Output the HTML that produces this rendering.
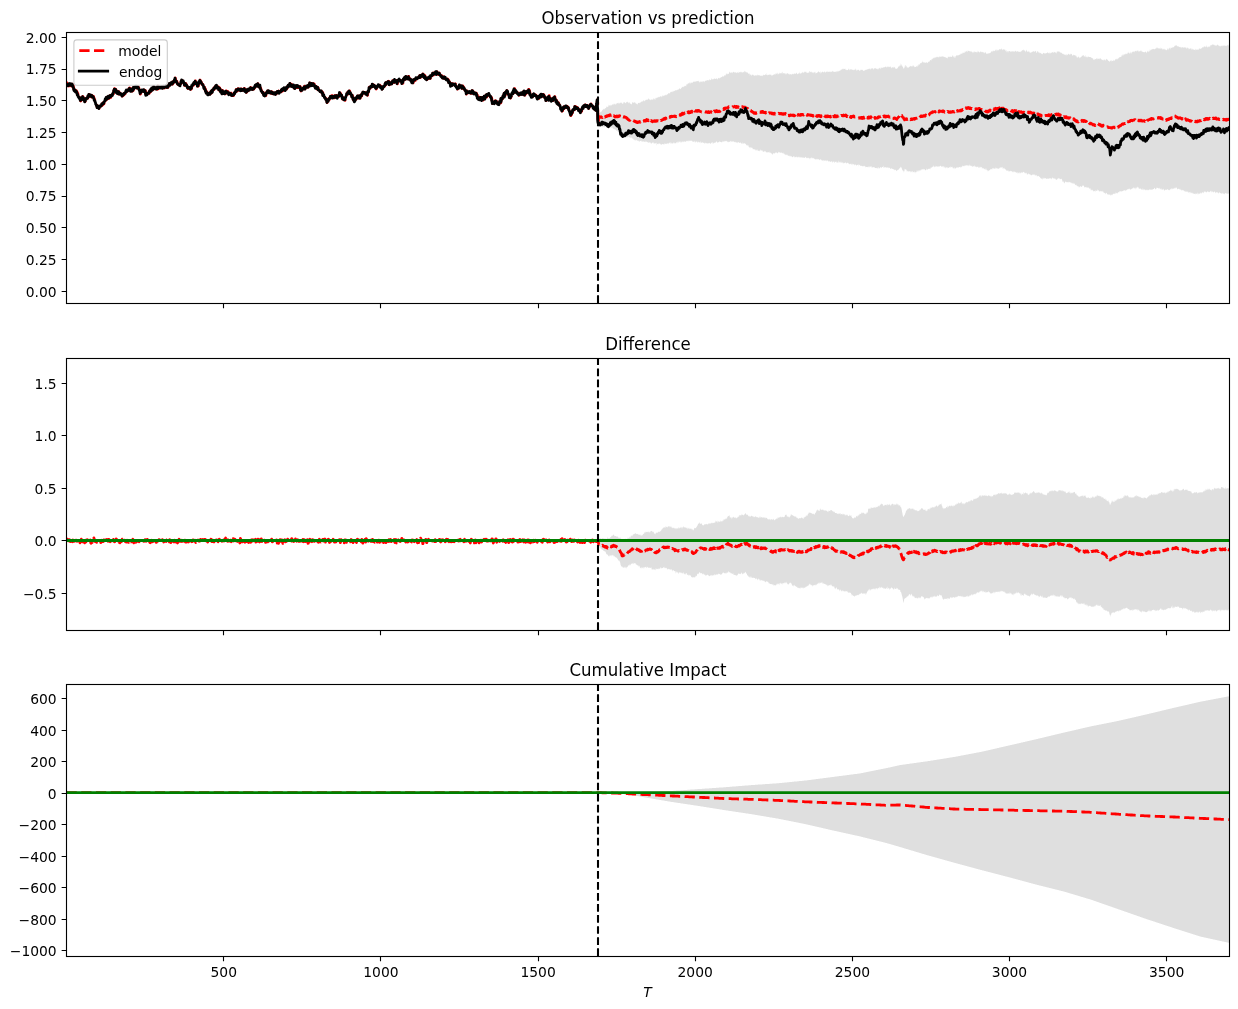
<!DOCTYPE html>
<html><head><meta charset="utf-8"><title>Causal impact plot</title><style>html,body{margin:0;padding:0;background:#fff;width:1238px;height:1009px;overflow:hidden}svg{display:block}</style></head><body>
<svg width="1238" height="1009" viewBox="0 0 1238 1009">
<rect width="1238" height="1009" fill="#ffffff"/>
<defs>
<clipPath id="c0"><rect x="66.5" y="32.5" width="1163.0" height="271.0"/></clipPath>
<clipPath id="c1"><rect x="66.5" y="358.5" width="1163.0" height="272.0"/></clipPath>
<clipPath id="c2"><rect x="66.5" y="684.5" width="1163.0" height="272.0"/></clipPath>
</defs>
<polygon clip-path="url(#c0)" fill="#808080" fill-opacity="0.25" stroke="none" points="598,116.3 598.3,115.3 598.6,113.6 598.9,112.9 599.3,113.3 599.6,112.9 599.9,112.9 600.2,111.9 600.5,111.8 600.8,112.7 601.1,111.3 601.5,112.1 601.8,111.3 602.1,110.4 602.4,109.6 602.7,110.5 603,109.5 603.3,109.3 603.7,108.4 604,109.9 604.3,109.1 604.6,108.8 604.9,108.8 605.2,108.4 605.5,108.1 605.9,108.1 606.2,107.4 606.5,105.8 606.8,107.5 607.1,107.1 607.4,106.7 607.7,107.5 608.1,105.6 608.4,104.5 608.7,107 609,106.2 609.3,104.8 609.6,105.4 609.9,105.8 610.3,104.6 610.6,105.5 610.9,106.3 611.2,105.8 611.5,104.9 611.8,105 612.1,104.2 612.5,104.8 612.8,104.4 613.1,103.9 613.4,103.6 613.7,105.5 614,104.3 614.3,103.6 614.7,103.9 615,104.9 615.3,104.9 615.6,103.5 615.9,103.9 616.2,104.3 616.6,103.5 616.9,102.9 617.2,102.9 617.5,103.4 617.8,102.9 618.1,102.5 618.4,103 618.8,103.7 619.1,103.4 619.4,102.8 619.7,104.1 620,102.5 620.3,103 620.6,102.3 621,103.6 621.3,103.1 621.6,102.2 621.9,102.7 622.2,104.3 622.5,103.7 622.8,103.3 623.2,103.7 623.5,102.1 623.8,102.5 624.1,102.1 624.4,102.2 624.7,102.4 625,102.8 625.4,103 625.7,102.9 626,103.8 626.3,101.8 626.6,102 626.9,102.2 627.2,101.4 627.6,101.9 627.9,102.5 628.2,102 628.5,103 628.8,103.6 629.1,102.4 629.4,102 629.8,103.6 630.1,103.1 630.4,104 630.7,103.7 631,104.1 631.3,104.5 631.6,104.2 632,103.4 632.3,102.8 632.6,101.9 632.9,102 633.2,102.7 633.5,103.1 633.8,102.5 634.2,102.7 634.5,102.2 634.8,102.2 635.1,102.3 635.4,103.8 635.7,102.4 636,104 636.4,103.2 636.7,104.2 637,104.1 637.3,104.4 637.6,104.5 637.9,103.2 638.3,102.9 638.6,103.1 638.9,102.7 639.2,103.4 639.5,102.8 639.8,102.7 640.1,102.8 640.5,102.1 640.8,102.9 641.1,101 641.4,102.1 641.7,102.1 642,101.2 642.3,101.1 642.7,101.9 643,101.1 643.3,100 643.6,100.2 643.9,101.4 644.2,100.2 644.5,101.3 644.9,101.2 645.2,100.2 645.5,100.5 645.8,99.7 646.1,99.8 646.4,99.6 646.7,100.3 647.1,99.1 647.4,99.7 647.7,99.7 648,99.9 648.3,98.3 648.6,98.5 648.9,99 649.3,99.4 649.6,99.5 649.9,99.6 650.2,100.6 650.5,99.8 650.8,99.7 651.1,99.1 651.5,99.8 651.8,99.7 652.1,99.7 652.4,99.2 652.7,99.6 653,100.2 653.3,98.8 653.7,97.9 654,99.7 654.3,99.5 654.6,98.8 654.9,98.5 655.2,100.3 655.5,98.2 655.9,97.7 656.2,98 656.5,98.4 656.8,97.6 657.1,97.6 657.4,97.9 657.7,97.3 658.1,97.5 658.4,97.3 658.7,96.6 659,97.2 659.3,96.4 659.6,97.6 660,96.4 660.3,96.7 660.6,95.7 660.9,96.4 661.2,95.9 661.5,97.4 661.8,96.4 662.2,96.7 662.5,95.2 662.8,95.5 663.1,96 663.4,95.2 663.7,96.5 664,95.5 664.4,95.6 664.7,95.6 665,95.2 665.3,95.6 665.6,94.6 665.9,95.1 666.2,95.5 666.6,94.7 666.9,94.6 667.2,94.2 667.5,94.2 667.8,94.4 668.1,93.7 668.4,92.7 668.8,93.6 669.1,93.2 669.4,93.4 669.7,93 670,93.7 670.3,91.9 670.6,91.8 671,92.6 671.3,91.4 671.6,92 671.9,91.7 672.2,90.5 672.5,91.9 672.8,92.3 673.2,91.5 673.5,90.5 673.8,91.7 674.1,90.5 674.4,91 674.7,91.2 675,90.4 675.4,89.8 675.7,90.7 676,90.6 676.3,90.1 676.6,90 676.9,90.7 677.2,90.1 677.6,89.7 677.9,89.4 678.2,89.7 678.5,89.5 678.8,89.2 679.1,88.3 679.4,88.8 679.8,88.5 680.1,88.7 680.4,89.2 680.7,88.9 681,88.6 681.3,88.1 681.7,87.6 682,87.8 682.3,87.1 682.6,87 682.9,86.5 683.2,86.8 683.5,86.6 683.9,87.5 684.2,86.5 684.5,85.8 684.8,86.3 685.1,85.4 685.4,86 685.7,85.7 686.1,86.7 686.4,84.2 686.7,84.5 687,84.3 687.3,84.3 687.6,84.4 687.9,83.2 688.3,83.1 688.6,83.5 688.9,83.8 689.2,82.5 689.5,82.2 689.8,83.7 690.1,83.4 690.5,83.5 690.8,82.2 691.1,82.6 691.4,82.8 691.7,82.8 692,82.4 692.3,82.4 692.7,82.9 693,82 693.3,81.8 693.6,81.8 693.9,81.6 694.2,81.9 694.5,81.6 694.9,81.4 695.2,82.3 695.5,81.6 695.8,81.1 696.1,81.9 696.4,80.8 696.7,81.2 697.1,81.2 697.4,80.9 697.7,81.1 698,81.4 698.3,80.5 698.6,81.2 698.9,81.6 699.3,81.7 699.6,81.7 699.9,82.9 700.2,82 700.5,81.6 700.8,81.6 701.1,81.6 701.5,81.8 701.8,81.4 702.1,82.4 702.4,80.8 702.7,81.8 703,81.7 703.4,80.7 703.7,81.7 704,81.6 704.3,80.9 704.6,82.5 704.9,81.6 705.2,80.9 705.6,80.8 705.9,80.5 706.2,81 706.5,80.8 706.8,79.9 707.1,80.1 707.4,80.2 707.8,80.3 708.1,80.2 708.4,80 708.7,80.6 709,80.7 709.3,80.1 709.6,78.8 710,79.9 710.3,80.2 710.6,79.7 710.9,79.9 711.2,79.7 711.5,78.7 711.8,78 712.2,79.7 712.5,79 712.8,79.5 713.1,79 713.4,79 713.7,79.8 714,78.2 714.4,78.9 714.7,78.2 715,78.8 715.3,79 715.6,79.1 715.9,78.8 716.2,77.8 716.6,78.7 716.9,79.1 717.2,79.1 717.5,79.7 717.8,78.8 718.1,77.8 718.4,78.1 718.8,78.3 719.1,78.8 719.4,77.4 719.7,78.4 720,78.2 720.3,77.2 720.6,77.9 721,77 721.3,77.3 721.6,77 721.9,77.2 722.2,76.3 722.5,77.2 722.8,75.5 723.2,76.4 723.5,76.1 723.8,77.1 724.1,76.3 724.4,75.5 724.7,75 725.1,75.4 725.4,74.8 725.7,76.2 726,73.1 726.3,74.5 726.6,72.9 726.9,74.8 727.3,73.6 727.6,74.8 727.9,73.4 728.2,74.2 728.5,73.5 728.8,73.9 729.1,73.1 729.5,71.2 729.8,72.4 730.1,71.8 730.4,73.2 730.7,72.9 731,72.6 731.3,72.8 731.7,72.6 732,72.1 732.3,73.5 732.6,72.5 732.9,72.2 733.2,71.5 733.5,71.9 733.9,72.2 734.2,72.2 734.5,72.3 734.8,72.7 735.1,72.2 735.4,73 735.7,72.1 736.1,72.4 736.4,72.4 736.7,73.3 737,73 737.3,72.7 737.6,71.9 737.9,72.3 738.3,72.9 738.6,73 738.9,71.4 739.2,72 739.5,72.3 739.8,72.4 740.1,72.1 740.5,72.5 740.8,71.2 741.1,72.9 741.4,71.4 741.7,72 742,72.2 742.3,72.6 742.7,72.4 743,72.3 743.3,72.5 743.6,71.7 743.9,72.1 744.2,72.5 744.5,71.2 744.9,70.8 745.2,71 745.5,72.3 745.8,72.3 746.1,71.7 746.4,72.2 746.8,72.6 747.1,73.2 747.4,71.7 747.7,72.7 748,73.1 748.3,73.7 748.6,73.7 749,73.8 749.3,74.2 749.6,72.6 749.9,75.9 750.2,74.7 750.5,74.9 750.8,74.1 751.2,74.8 751.5,75.8 751.8,75.7 752.1,74.8 752.4,74.2 752.7,75.1 753,74.9 753.4,75.7 753.7,74.6 754,75.3 754.3,75.7 754.6,75.3 754.9,76.3 755.2,75.2 755.6,75.2 755.9,75.6 756.2,76.1 756.5,75.3 756.8,75 757.1,75.7 757.4,75.2 757.8,74.6 758.1,75 758.4,75 758.7,75.6 759,75.5 759.3,75.1 759.6,75.4 760,75.6 760.3,76.1 760.6,76 760.9,75.3 761.2,75.5 761.5,75.7 761.8,76.1 762.2,75.5 762.5,76.4 762.8,75.2 763.1,75.6 763.4,74.9 763.7,74.4 764,75 764.4,75.2 764.7,75 765,74.9 765.3,74.6 765.6,74.2 765.9,74.5 766.2,74.9 766.6,75.1 766.9,72.6 767.2,74.9 767.5,75.2 767.8,75.3 768.1,74.9 768.5,75 768.8,74.4 769.1,74.7 769.4,75.1 769.7,74.2 770,74.4 770.3,75 770.7,74.3 771,75.3 771.3,74.6 771.6,75.7 771.9,75.7 772.2,75.6 772.5,75.3 772.9,75.3 773.2,74 773.5,74.9 773.8,74.9 774.1,75.3 774.4,74.1 774.7,74 775.1,74.7 775.4,74.6 775.7,73.1 776,74 776.3,74.1 776.6,73.7 776.9,72.8 777.3,72.8 777.6,73.7 777.9,74.7 778.2,73.3 778.5,74.3 778.8,74.5 779.1,72.6 779.5,72.9 779.8,74 780.1,73.7 780.4,73.3 780.7,72.9 781,73.2 781.3,72.4 781.7,74.1 782,72 782.3,71.8 782.6,73.1 782.9,74 783.2,73 783.5,73.4 783.9,73 784.2,73.7 784.5,73.3 784.8,73.3 785.1,73 785.4,73.4 785.7,74.7 786.1,73.5 786.4,73.6 786.7,74.7 787,73.1 787.3,73 787.6,73.9 787.9,73 788.3,74 788.6,74.6 788.9,73.4 789.2,73.9 789.5,75.3 789.8,73.8 790.2,74.1 790.5,74.6 790.8,74.2 791.1,73.9 791.4,75.2 791.7,73.9 792,74.4 792.4,73.9 792.7,74 793,73.2 793.3,74.5 793.6,73.7 793.9,74.6 794.2,73.2 794.6,73.6 794.9,74.1 795.2,73.9 795.5,73.4 795.8,73.7 796.1,73 796.4,73.8 796.8,72.2 797.1,73.8 797.4,74.4 797.7,74.1 798,74.1 798.3,73.3 798.6,73.8 799,73.2 799.3,73.4 799.6,73.3 799.9,71.4 800.2,73.8 800.5,73.5 800.8,73.7 801.2,72.6 801.5,73.5 801.8,73.3 802.1,71.7 802.4,71.9 802.7,72.9 803,72.4 803.4,72.7 803.7,72.3 804,73.5 804.3,71.5 804.6,71.7 804.9,71.9 805.2,71.6 805.6,72 805.9,72.2 806.2,71.5 806.5,72.4 806.8,72.9 807.1,72.8 807.4,73.3 807.8,72.8 808.1,72.1 808.4,73.1 808.7,72.5 809,73.1 809.3,71.9 809.7,70.8 810,71.3 810.3,72 810.6,72.3 810.9,71.9 811.2,72.7 811.5,71.5 811.9,71.8 812.2,72.8 812.5,72.3 812.8,72.4 813.1,73.2 813.4,73 813.7,72 814.1,72.6 814.4,71.6 814.7,72.6 815,72.8 815.3,71.5 815.6,73.4 815.9,73.6 816.3,72.7 816.6,72.9 816.9,73.2 817.2,72.1 817.5,72.8 817.8,72.4 818.1,71.2 818.5,71.5 818.8,71.7 819.1,72.6 819.4,72 819.7,72.6 820,71.7 820.3,71.3 820.7,73.2 821,73.7 821.3,72.3 821.6,72 821.9,72.8 822.2,71.5 822.5,72.1 822.9,71.4 823.2,72.5 823.5,72.4 823.8,72 824.1,71.8 824.4,71.3 824.7,71.7 825.1,72.8 825.4,71.9 825.7,72.8 826,71.5 826.3,71.9 826.6,71.6 826.9,71.7 827.3,72.3 827.6,70.6 827.9,72.2 828.2,72.1 828.5,71.7 828.8,71.8 829.1,71.6 829.5,72.1 829.8,71.8 830.1,71.2 830.4,71.8 830.7,72.3 831,71.9 831.4,71.7 831.7,71.8 832,71.4 832.3,71.5 832.6,70.6 832.9,71.6 833.2,72.3 833.6,71.4 833.9,71.1 834.2,72.2 834.5,71.7 834.8,71.7 835.1,71.9 835.4,72 835.8,71.5 836.1,71.1 836.4,72.5 836.7,71.5 837,71.1 837.3,71.5 837.6,71.9 838,70.3 838.3,71.7 838.6,70.7 838.9,71.8 839.2,70.9 839.5,70.3 839.8,71 840.2,70.9 840.5,69.8 840.8,70.1 841.1,69.6 841.4,70.3 841.7,68.9 842,69.6 842.4,68.4 842.7,69.8 843,68.2 843.3,68.8 843.6,69.4 843.9,69.1 844.2,69.1 844.6,68.8 844.9,69.1 845.2,68.4 845.5,69.6 845.8,69.9 846.1,70 846.4,69.5 846.8,70.3 847.1,69.9 847.4,70.2 847.7,69.9 848,69.7 848.3,69.3 848.6,68.2 849,70 849.3,69.6 849.6,70.8 849.9,68.5 850.2,70.1 850.5,69.1 850.8,69.6 851.2,69.1 851.5,69.8 851.8,69.5 852.1,70 852.4,69.6 852.7,69.8 853.1,70.3 853.4,69.9 853.7,69.6 854,70.4 854.3,69.6 854.6,70 854.9,69.6 855.3,69.4 855.6,68.1 855.9,70.3 856.2,69.3 856.5,70.4 856.8,71.1 857.1,69.3 857.5,70.5 857.8,69.9 858.1,70.2 858.4,69.3 858.7,69.9 859,70 859.3,70.7 859.7,71.1 860,70 860.3,69.6 860.6,71.1 860.9,69.7 861.2,69.7 861.5,69.8 861.9,70 862.2,70.3 862.5,69.6 862.8,69.9 863.1,71.1 863.4,71 863.7,70.4 864.1,70.4 864.4,70.2 864.7,70.9 865,70.1 865.3,70.3 865.6,69.9 865.9,69.6 866.3,69.9 866.6,69.8 866.9,69.3 867.2,69.5 867.5,69.5 867.8,69 868.1,68.8 868.5,68.9 868.8,69.3 869.1,69.3 869.4,68.7 869.7,68.4 870,68.6 870.3,69.7 870.7,69.2 871,68.1 871.3,68.7 871.6,68.5 871.9,68.6 872.2,67.9 872.5,68.9 872.9,68.1 873.2,68.6 873.5,69.8 873.8,69.5 874.1,68.5 874.4,68.3 874.8,68.4 875.1,67.8 875.4,68.3 875.7,68.7 876,68.2 876.3,69.2 876.6,68.7 877,68.4 877.3,69.7 877.6,69 877.9,68.6 878.2,69.6 878.5,69.3 878.8,68 879.2,68.6 879.5,68.1 879.8,67.4 880.1,69.3 880.4,69 880.7,67.3 881,68.3 881.4,67 881.7,68.5 882,67.8 882.3,67.5 882.6,68.3 882.9,67.5 883.2,67.2 883.6,67.8 883.9,67 884.2,67.5 884.5,66.9 884.8,67.3 885.1,67.1 885.4,67 885.8,66 886.1,67.7 886.4,66.6 886.7,67.7 887,66.4 887.3,66.6 887.6,66.7 888,67.5 888.3,66.7 888.6,67.2 888.9,66.1 889.2,66.8 889.5,67.2 889.8,67.1 890.2,66.1 890.5,67.5 890.8,66.6 891.1,68.3 891.4,67.1 891.7,68.6 892,67.7 892.4,67.6 892.7,67.1 893,67.3 893.3,67.7 893.6,66.4 893.9,68.2 894.2,67.1 894.6,67.7 894.9,66.4 895.2,68.4 895.5,68.7 895.8,68.5 896.1,68.7 896.5,68.4 896.8,68.9 897.1,69.1 897.4,67.7 897.7,67.9 898,67.6 898.3,66.7 898.7,66.5 899,66.1 899.3,65.5 899.6,66.9 899.9,65 900.2,65.9 900.5,65.3 900.9,63.2 901.2,64.3 901.5,65.2 901.8,65.8 902.1,65.4 902.4,66.7 902.7,66.6 903.1,67.3 903.4,68.4 903.7,68.5 904,68.8 904.3,67.6 904.6,67.5 904.9,65.6 905.3,65.1 905.6,65.6 905.9,67.3 906.2,65.8 906.5,66 906.8,67.2 907.1,68.3 907.5,66.9 907.8,67.5 908.1,66.7 908.4,68.2 908.7,67.6 909,67.2 909.3,66.8 909.7,66.6 910,66.8 910.3,66.2 910.6,66 910.9,65.8 911.2,66.4 911.5,65.9 911.9,66.8 912.2,65 912.5,66.5 912.8,66.4 913.1,66.8 913.4,65.8 913.7,65.3 914.1,65.9 914.4,67.4 914.7,66.8 915,67 915.3,67 915.6,67.1 915.9,66.8 916.3,65.8 916.6,66.2 916.9,66.9 917.2,66.9 917.5,65.8 917.8,65.3 918.2,66.1 918.5,64.9 918.8,64 919.1,64.4 919.4,64.6 919.7,64.8 920,63.3 920.4,63.6 920.7,62.8 921,63.6 921.3,62.9 921.6,62.9 921.9,62 922.2,62.3 922.6,62.2 922.9,60.2 923.2,62.8 923.5,62.4 923.8,62.3 924.1,62.3 924.4,62.6 924.8,62.8 925.1,62 925.4,62.8 925.7,62.9 926,62.9 926.3,62.1 926.6,62.7 927,61.9 927.3,62.7 927.6,63.2 927.9,62.8 928.2,61.9 928.5,61.7 928.8,61.5 929.2,61.9 929.5,61.2 929.8,61.1 930.1,59.7 930.4,60.4 930.7,60.1 931,60 931.4,60.8 931.7,59 932,58.7 932.3,59.6 932.6,58.4 932.9,58.6 933.2,58.5 933.6,58.1 933.9,57.4 934.2,58.1 934.5,58.4 934.8,56.9 935.1,57.3 935.4,57.9 935.8,57.2 936.1,56.7 936.4,57 936.7,57.7 937,56.5 937.3,57.2 937.6,57.2 938,56.6 938.3,57.2 938.6,57.3 938.9,57.4 939.2,57.3 939.5,55.8 939.9,57.2 940.2,56.9 940.5,57.1 940.8,56 941.1,57 941.4,56.8 941.7,55.9 942.1,57.3 942.4,56.1 942.7,56 943,56.9 943.3,56.3 943.6,56.9 943.9,56.6 944.3,56.9 944.6,57.3 944.9,56.9 945.2,57.6 945.5,57.6 945.8,56.8 946.1,57.9 946.5,57.8 946.8,57.6 947.1,58.2 947.4,58.4 947.7,57.7 948,56.3 948.3,57.3 948.7,56.8 949,56.6 949.3,56.9 949.6,56.4 949.9,57.4 950.2,56.6 950.5,56.5 950.9,56.9 951.2,56.9 951.5,57.1 951.8,56.7 952.1,56.3 952.4,56.4 952.7,55 953.1,55.4 953.4,57.1 953.7,56.5 954,58 954.3,58 954.6,56 954.9,56.7 955.3,58 955.6,55.7 955.9,56.2 956.2,55.6 956.5,55.4 956.8,55.3 957.1,55.4 957.5,55.8 957.8,54.8 958.1,55.5 958.4,54.7 958.7,55.4 959,55.2 959.3,54.5 959.7,54.9 960,54.2 960.3,53.9 960.6,54.9 960.9,52.9 961.2,54 961.6,53.9 961.9,52.9 962.2,53.7 962.5,53.5 962.8,52.2 963.1,53.2 963.4,53 963.8,52.3 964.1,52.9 964.4,53 964.7,52 965,51.2 965.3,52.5 965.6,51.7 966,51.1 966.3,51.7 966.6,50.5 966.9,51.5 967.2,52.5 967.5,49.9 967.8,51.7 968.2,50.8 968.5,51 968.8,50.6 969.1,51.6 969.4,51.3 969.7,50.9 970,50.7 970.4,51.2 970.7,52.2 971,50.9 971.3,51.9 971.6,51.9 971.9,50.6 972.2,52.5 972.6,51.8 972.9,53.2 973.2,52.9 973.5,51.8 973.8,51.8 974.1,51.4 974.4,51.2 974.8,52.5 975.1,51.9 975.4,51.8 975.7,51.9 976,52.4 976.3,52.5 976.6,51.9 977,51.7 977.3,51.8 977.6,53 977.9,50.5 978.2,51 978.5,51.9 978.8,51.7 979.2,52.3 979.5,52.3 979.8,52.7 980.1,51.1 980.4,51.9 980.7,51.4 981,52.1 981.4,51.8 981.7,52.4 982,51.6 982.3,52.3 982.6,52 982.9,52.3 983.3,52.3 983.6,52 983.9,53.3 984.2,52.9 984.5,53.4 984.8,52.2 985.1,51.7 985.5,52.5 985.8,52.8 986.1,53.4 986.4,53.5 986.7,53.8 987,54.1 987.3,53.8 987.7,53.5 988,53.2 988.3,54.1 988.6,53.2 988.9,52.9 989.2,53.5 989.5,53.1 989.9,53.3 990.2,52.3 990.5,53.2 990.8,52.6 991.1,52.1 991.4,51.6 991.7,51.3 992.1,51 992.4,52.4 992.7,50.6 993,51.7 993.3,51 993.6,50.7 993.9,50.6 994.3,50.7 994.6,51.2 994.9,50.9 995.2,50.5 995.5,49.7 995.8,49.4 996.1,51.4 996.5,49.7 996.8,49.3 997.1,50.8 997.4,49.2 997.7,50.5 998,50.5 998.3,50 998.7,50.4 999,48.9 999.3,48.9 999.6,49.5 999.9,49.5 1000.2,49.4 1000.5,49.6 1000.9,48.9 1001.2,48 1001.5,49.5 1001.8,49.1 1002.1,49.7 1002.4,50.5 1002.7,49.3 1003.1,49.6 1003.4,48.7 1003.7,49.8 1004,49.5 1004.3,49.5 1004.6,50.1 1005,49.1 1005.3,50.4 1005.6,50.5 1005.9,51.5 1006.2,49.7 1006.5,51 1006.8,52.5 1007.2,51 1007.5,51 1007.8,52.3 1008.1,52.8 1008.4,51.4 1008.7,50.9 1009,51.1 1009.4,51.2 1009.7,51 1010,51 1010.3,51.6 1010.6,51.6 1010.9,51.9 1011.2,51.6 1011.6,50.9 1011.9,52 1012.2,51.7 1012.5,51.1 1012.8,51.3 1013.1,51.6 1013.4,51.4 1013.8,51.3 1014.1,51.8 1014.4,51.9 1014.7,51.1 1015,51.2 1015.3,50.5 1015.6,51.1 1016,51.5 1016.3,51.8 1016.6,51.5 1016.9,51.4 1017.2,51.1 1017.5,51.7 1017.8,51 1018.2,51.8 1018.5,51.8 1018.8,51.4 1019.1,52.1 1019.4,51.7 1019.7,52 1020,51.3 1020.4,51.8 1020.7,52.3 1021,51.4 1021.3,51.6 1021.6,50.7 1021.9,50.8 1022.2,49.8 1022.6,50.7 1022.9,50 1023.2,50.6 1023.5,49.3 1023.8,50.1 1024.1,50.7 1024.4,50.9 1024.8,49.8 1025.1,50.6 1025.4,52.4 1025.7,51.4 1026,51.1 1026.3,49.5 1026.7,50.6 1027,51.5 1027.3,51.4 1027.6,51.6 1027.9,52 1028.2,51.5 1028.5,52.1 1028.9,50.6 1029.2,53.2 1029.5,51.6 1029.8,51.5 1030.1,52.9 1030.4,52.4 1030.7,52.7 1031.1,51.9 1031.4,52.4 1031.7,52.6 1032,51.4 1032.3,51.9 1032.6,51.8 1032.9,51.6 1033.3,51.3 1033.6,50.9 1033.9,51.8 1034.2,51.6 1034.5,52.1 1034.8,51.4 1035.1,51.1 1035.5,50.7 1035.8,51.6 1036.1,51.4 1036.4,52.8 1036.7,53 1037,52.7 1037.3,51.3 1037.7,51 1038,51.7 1038.3,51.4 1038.6,52.9 1038.9,52.3 1039.2,52.2 1039.5,52.7 1039.9,53.6 1040.2,52.6 1040.5,53.6 1040.8,52.8 1041.1,53.6 1041.4,53.4 1041.7,54 1042.1,53.8 1042.4,54.4 1042.7,54 1043,53.2 1043.3,52.8 1043.6,53 1043.9,53.2 1044.3,53.3 1044.6,52.9 1044.9,54 1045.2,53.9 1045.5,53.2 1045.8,53 1046.1,53.1 1046.5,53.2 1046.8,53.2 1047.1,52.2 1047.4,52.9 1047.7,52.1 1048,53.1 1048.4,53.5 1048.7,52.5 1049,53.2 1049.3,52.6 1049.6,52.5 1049.9,54.1 1050.2,53.4 1050.6,53.1 1050.9,52.5 1051.2,52.9 1051.5,52.5 1051.8,52.8 1052.1,52 1052.4,52.4 1052.8,52.2 1053.1,51.5 1053.4,53.3 1053.7,52.8 1054,52 1054.3,51.7 1054.6,52.3 1055,52.4 1055.3,52.6 1055.6,52.2 1055.9,52.7 1056.2,53.4 1056.5,53.3 1056.8,51.6 1057.2,52.3 1057.5,51.4 1057.8,51 1058.1,51.2 1058.4,51.1 1058.7,52 1059,52.1 1059.4,51.6 1059.7,51.5 1060,53 1060.3,53.1 1060.6,52.3 1060.9,52.1 1061.2,52.8 1061.6,53.3 1061.9,52.5 1062.2,54.1 1062.5,53.2 1062.8,54.2 1063.1,53.6 1063.4,54.2 1063.8,54.2 1064.1,54.7 1064.4,55.3 1064.7,54.1 1065,54.5 1065.3,54.9 1065.6,54.3 1066,55.8 1066.3,53.7 1066.6,56 1066.9,54.1 1067.2,55 1067.5,55.3 1067.8,54.6 1068.2,53.4 1068.5,54 1068.8,54.2 1069.1,54.4 1069.4,54.6 1069.7,54.6 1070.1,54.7 1070.4,53.4 1070.7,54.7 1071,53.3 1071.3,54.6 1071.6,54.1 1071.9,53.9 1072.3,55.7 1072.6,55.3 1072.9,55.9 1073.2,54.4 1073.5,54.7 1073.8,55.4 1074.1,55.1 1074.5,55.5 1074.8,55.1 1075.1,55.3 1075.4,54.9 1075.7,56.4 1076,55.7 1076.3,55.7 1076.7,57.2 1077,57.5 1077.3,57.4 1077.6,57.5 1077.9,57.2 1078.2,57.4 1078.5,56.2 1078.9,56.7 1079.2,57 1079.5,58 1079.8,58.5 1080.1,57.4 1080.4,57.2 1080.7,57.8 1081.1,56.6 1081.4,57 1081.7,56.7 1082,55.4 1082.3,56.1 1082.6,55.9 1082.9,55.1 1083.3,55.2 1083.6,55 1083.9,56.5 1084.2,57 1084.5,56.1 1084.8,56.6 1085.1,54.8 1085.5,56.6 1085.8,57.3 1086.1,57.3 1086.4,56.1 1086.7,57.6 1087,57.1 1087.3,57.7 1087.7,56.5 1088,56.8 1088.3,56.4 1088.6,56.9 1088.9,56.4 1089.2,57.1 1089.6,57.1 1089.9,57 1090.2,56.9 1090.5,56.9 1090.8,57.2 1091.1,57.8 1091.4,57.6 1091.8,58 1092.1,58.1 1092.4,58.4 1092.7,58.4 1093,58 1093.3,59.8 1093.6,60.1 1094,59 1094.3,60.6 1094.6,58.6 1094.9,59.7 1095.2,59.1 1095.5,59 1095.8,59.3 1096.2,59.2 1096.5,58.6 1096.8,57.9 1097.1,57.8 1097.4,58.7 1097.7,59.5 1098,59 1098.4,58.5 1098.7,58.7 1099,58.9 1099.3,59.5 1099.6,58 1099.9,58.8 1100.2,58.7 1100.6,58.2 1100.9,58.2 1101.2,59.8 1101.5,59.4 1101.8,59.2 1102.1,59.5 1102.4,60.2 1102.8,59.8 1103.1,60.9 1103.4,59.9 1103.7,59.5 1104,59.9 1104.3,59.3 1104.6,59.6 1105,60.4 1105.3,60.7 1105.6,59.9 1105.9,59.6 1106.2,58.9 1106.5,58.7 1106.8,59.6 1107.2,59.7 1107.5,59.5 1107.8,59.7 1108.1,61.1 1108.4,61 1108.7,60.6 1109,60.9 1109.4,61.7 1109.7,61.4 1110,61.5 1110.3,60.6 1110.6,60.7 1110.9,60.5 1111.3,60.1 1111.6,61.3 1111.9,61.4 1112.2,60.5 1112.5,61.2 1112.8,61.1 1113.1,60.6 1113.5,59.6 1113.8,61.3 1114.1,61.1 1114.4,59.8 1114.7,61.2 1115,59.9 1115.3,59.3 1115.7,59.5 1116,58.5 1116.3,59.3 1116.6,58.4 1116.9,60 1117.2,59.4 1117.5,58.2 1117.9,59.3 1118.2,57.6 1118.5,58.5 1118.8,58.4 1119.1,57.9 1119.4,56.9 1119.7,57.2 1120.1,56.9 1120.4,56.7 1120.7,57.3 1121,57.1 1121.3,56.9 1121.6,55.4 1121.9,55.2 1122.3,55.5 1122.6,55.7 1122.9,54 1123.2,54.8 1123.5,56.1 1123.8,54.2 1124.1,54.3 1124.5,54.2 1124.8,54.8 1125.1,54.4 1125.4,54.1 1125.7,53.2 1126,54.4 1126.3,54 1126.7,53.5 1127,53.9 1127.3,54.2 1127.6,52.8 1127.9,52.7 1128.2,52.9 1128.5,52.9 1128.9,51.5 1129.2,52.9 1129.5,53.9 1129.8,52.9 1130.1,53.7 1130.4,51.2 1130.7,52.8 1131.1,53.6 1131.4,53.6 1131.7,52.2 1132,51.9 1132.3,52.5 1132.6,51.4 1133,51.8 1133.3,50.9 1133.6,51.9 1133.9,51.7 1134.2,52.6 1134.5,51.7 1134.8,51 1135.2,51.3 1135.5,50.5 1135.8,51.3 1136.1,51.1 1136.4,51.4 1136.7,51.6 1137,49.8 1137.4,51.1 1137.7,51.3 1138,50.1 1138.3,51.9 1138.6,50.3 1138.9,52.1 1139.2,51.2 1139.6,51.4 1139.9,51.1 1140.2,51.6 1140.5,50.5 1140.8,50.7 1141.1,50.1 1141.4,51.7 1141.8,51.1 1142.1,52.1 1142.4,52.1 1142.7,51 1143,52.2 1143.3,52 1143.6,52 1144,52.2 1144.3,51.9 1144.6,52 1144.9,52.7 1145.2,51.5 1145.5,51.4 1145.8,51.7 1146.2,52.8 1146.5,52 1146.8,53.4 1147.1,50.3 1147.4,51.5 1147.7,51.5 1148,51.7 1148.4,52.2 1148.7,51.1 1149,50.4 1149.3,51.4 1149.6,51.6 1149.9,48.9 1150.2,50.7 1150.6,50.3 1150.9,49.4 1151.2,49.5 1151.5,49.8 1151.8,49.6 1152.1,49.3 1152.4,48.7 1152.8,49.5 1153.1,48.9 1153.4,49.2 1153.7,48.8 1154,49.1 1154.3,49.4 1154.7,49 1155,49.2 1155.3,47.9 1155.6,48.9 1155.9,48.8 1156.2,48.2 1156.5,48.5 1156.9,46.9 1157.2,48.6 1157.5,48.3 1157.8,47.1 1158.1,48.8 1158.4,48.1 1158.7,48.6 1159.1,48.3 1159.4,48.7 1159.7,48.5 1160,48.2 1160.3,48.7 1160.6,49 1160.9,47.2 1161.3,48.7 1161.6,48.4 1161.9,48.2 1162.2,49.8 1162.5,49.6 1162.8,48.5 1163.1,48.6 1163.5,49.8 1163.8,49.1 1164.1,49.3 1164.4,48.5 1164.7,49.6 1165,50.3 1165.3,49.3 1165.7,49.5 1166,50.6 1166.3,50 1166.6,50.3 1166.9,49.8 1167.2,50.1 1167.5,48.3 1167.9,48.8 1168.2,48.2 1168.5,50.4 1168.8,49.1 1169.1,48.8 1169.4,48.3 1169.7,48.1 1170.1,46.9 1170.4,49.8 1170.7,48.3 1171,48.3 1171.3,47.3 1171.6,47.9 1171.9,48 1172.3,47.6 1172.6,47.8 1172.9,46.8 1173.2,47.3 1173.5,47.4 1173.8,47.1 1174.1,46.8 1174.5,46.3 1174.8,45.6 1175.1,46.3 1175.4,45.6 1175.7,45.1 1176,46.1 1176.4,44.8 1176.7,45.5 1177,46.4 1177.3,46.6 1177.6,45.9 1177.9,46.3 1178.2,46.7 1178.6,46.4 1178.9,46.1 1179.2,46.9 1179.5,46.9 1179.8,47 1180.1,47.7 1180.4,47.2 1180.8,46.8 1181.1,47.3 1181.4,48.4 1181.7,46.9 1182,47.2 1182.3,46.9 1182.6,47.7 1183,46.7 1183.3,47.8 1183.6,48.1 1183.9,47.2 1184.2,47.2 1184.5,46.9 1184.8,47.9 1185.2,47.2 1185.5,47.6 1185.8,47.7 1186.1,47.6 1186.4,48.6 1186.7,49.1 1187,46.9 1187.4,47.8 1187.7,48.5 1188,47.8 1188.3,48.1 1188.6,48.6 1188.9,49.4 1189.2,49.3 1189.6,48.5 1189.9,48.8 1190.2,48.6 1190.5,48.8 1190.8,48.3 1191.1,48 1191.4,48.9 1191.8,49.8 1192.1,49.8 1192.4,48.3 1192.7,49.4 1193,49.2 1193.3,49.8 1193.6,49.1 1194,50.2 1194.3,49.5 1194.6,50 1194.9,50.1 1195.2,48.4 1195.5,49.4 1195.8,50.4 1196.2,49.5 1196.5,50.1 1196.8,49.6 1197.1,49.1 1197.4,49.5 1197.7,49.9 1198.1,50 1198.4,50 1198.7,48.4 1199,49.5 1199.3,48 1199.6,48.7 1199.9,48.5 1200.3,48.9 1200.6,48.6 1200.9,49.1 1201.2,47.9 1201.5,48.6 1201.8,48.2 1202.1,47.7 1202.5,46.8 1202.8,47.7 1203.1,47.4 1203.4,47.4 1203.7,46.8 1204,46.4 1204.3,46.6 1204.7,46.5 1205,46.6 1205.3,47.4 1205.6,46 1205.9,47.6 1206.2,44.8 1206.5,47.2 1206.9,46.2 1207.2,48 1207.5,46.3 1207.8,47.6 1208.1,46.4 1208.4,46.2 1208.7,47.2 1209.1,47.1 1209.4,46 1209.7,47.6 1210,45.8 1210.3,46.8 1210.6,45.1 1210.9,45 1211.3,45.4 1211.6,44.6 1211.9,45.4 1212.2,43.8 1212.5,45.2 1212.8,44.6 1213.1,44.3 1213.5,45 1213.8,44.7 1214.1,44.6 1214.4,45.4 1214.7,45.2 1215,45.3 1215.3,45.9 1215.7,45.1 1216,45.7 1216.3,45 1216.6,45.7 1216.9,45.7 1217.2,45.1 1217.5,44.6 1217.9,44.8 1218.2,45 1218.5,46 1218.8,45.6 1219.1,45.5 1219.4,46 1219.8,46.2 1220.1,46.7 1220.4,45.5 1220.7,46.2 1221,46.4 1221.3,45.4 1221.6,46.1 1222,45.5 1222.3,46 1222.6,46.4 1222.9,45.1 1223.2,45.5 1223.5,45.5 1223.8,46 1224.2,45.5 1224.5,46.1 1224.8,45.3 1225.1,45.4 1225.4,46.1 1225.7,45.8 1226,45.7 1226.4,45.5 1226.7,46.1 1227,46.3 1227.3,45.2 1227.6,44.9 1227.9,44.7 1228.2,46.3 1228.6,44.7 1228.9,44.5 1229.2,45.4 1229.5,45.9 1229.5,193.9 1229.2,194 1228.9,193.2 1228.6,194.2 1228.2,193.3 1227.9,193.2 1227.6,194 1227.3,193.4 1227,193.9 1226.7,193.3 1226.4,193.3 1226,193.9 1225.7,192.8 1225.4,192.9 1225.1,193.3 1224.8,193.5 1224.5,193.9 1224.2,194.6 1223.8,193.3 1223.5,193.7 1223.2,193.9 1222.9,193.1 1222.6,194.5 1222.3,192.5 1222,193.2 1221.6,193.7 1221.3,193.6 1221,193.6 1220.7,193 1220.4,193.3 1220.1,192.9 1219.8,192.2 1219.4,192.3 1219.1,193 1218.8,192.5 1218.5,193.4 1218.2,193.4 1217.9,192.9 1217.5,192.2 1217.2,192.3 1216.9,192 1216.6,192.4 1216.3,192.4 1216,192 1215.7,192.5 1215.3,193.5 1215,191.9 1214.7,191.5 1214.4,191.3 1214.1,192 1213.8,192.5 1213.5,191.8 1213.1,192.6 1212.8,191.9 1212.5,191.1 1212.2,191.7 1211.9,192.5 1211.6,192 1211.3,190.9 1210.9,190.5 1210.6,191.4 1210.3,191.1 1210,192 1209.7,191.8 1209.4,192.6 1209.1,191.7 1208.7,191.6 1208.4,192.2 1208.1,192 1207.8,191.3 1207.5,191.4 1207.2,191.5 1206.9,191.9 1206.5,192.7 1206.2,192 1205.9,191.9 1205.6,191.3 1205.3,191.8 1205,192.6 1204.7,191.6 1204.3,191.8 1204,191 1203.7,193.4 1203.4,192.6 1203.1,192.7 1202.8,192.8 1202.5,192.1 1202.1,192.4 1201.8,192.7 1201.5,193.4 1201.2,193.7 1200.9,192 1200.6,193.6 1200.3,193.2 1199.9,193.5 1199.6,193.8 1199.3,193.4 1199,194 1198.7,194.6 1198.4,193.7 1198.1,193 1197.7,192.6 1197.4,194 1197.1,194.5 1196.8,193.7 1196.5,193.3 1196.2,194.1 1195.8,194.6 1195.5,192.7 1195.2,194.3 1194.9,193.8 1194.6,193.8 1194.3,194.2 1194,193.6 1193.6,193.4 1193.3,193.8 1193,193.5 1192.7,193.2 1192.4,193.5 1192.1,192.3 1191.8,192.4 1191.4,193 1191.1,193.6 1190.8,191.6 1190.5,192.4 1190.2,193.3 1189.9,193.6 1189.6,192 1189.2,192.1 1188.9,191.5 1188.6,193.2 1188.3,191.9 1188,192.7 1187.7,191.3 1187.4,191.5 1187,191.9 1186.7,192 1186.4,191.6 1186.1,190.8 1185.8,190.8 1185.5,191.7 1185.2,191.9 1184.8,191.4 1184.5,190.6 1184.2,191.3 1183.9,191.1 1183.6,190.4 1183.3,190 1183,189.9 1182.6,190.6 1182.3,190.1 1182,189.4 1181.7,190.6 1181.4,190.7 1181.1,189.4 1180.8,190.3 1180.4,188.5 1180.1,190 1179.8,189.3 1179.5,189.4 1179.2,188.8 1178.9,188.6 1178.6,189.3 1178.2,188.6 1177.9,189.4 1177.6,189.3 1177.3,189 1177,188.4 1176.7,187.4 1176.4,187.3 1176,188.2 1175.7,186.9 1175.4,188.7 1175.1,187.9 1174.8,189.1 1174.5,187.4 1174.1,188.2 1173.8,188.4 1173.5,188.6 1173.2,188.7 1172.9,188.7 1172.6,189.5 1172.3,188.4 1171.9,187.9 1171.6,188.4 1171.3,189.8 1171,188.6 1170.7,188.9 1170.4,189.1 1170.1,190.1 1169.7,189.9 1169.4,190.5 1169.1,189.4 1168.8,189.4 1168.5,190.2 1168.2,190 1167.9,189.8 1167.5,189 1167.2,189.2 1166.9,189.6 1166.6,189.7 1166.3,190.1 1166,189.8 1165.7,189.6 1165.3,190 1165,189.6 1164.7,190.7 1164.4,190.7 1164.1,189.9 1163.8,189.2 1163.5,188.6 1163.1,190.1 1162.8,189.6 1162.5,189.4 1162.2,189.6 1161.9,190 1161.6,189.2 1161.3,188.6 1160.9,188.3 1160.6,188.9 1160.3,189.3 1160,189.4 1159.7,188.3 1159.4,187.4 1159.1,188.8 1158.7,188.6 1158.4,187.7 1158.1,188.6 1157.8,187.6 1157.5,188 1157.2,187.9 1156.9,187.4 1156.5,187.9 1156.2,188.9 1155.9,189.4 1155.6,189.1 1155.3,189.2 1155,188.5 1154.7,187.8 1154.3,188.1 1154,188.7 1153.7,189.3 1153.4,189.1 1153.1,189 1152.8,190 1152.4,189.3 1152.1,189.3 1151.8,190.2 1151.5,189.5 1151.2,189.3 1150.9,190.2 1150.6,189.5 1150.2,189.6 1149.9,189.1 1149.6,189.4 1149.3,189.7 1149,190.2 1148.7,190.3 1148.4,189.6 1148,190.5 1147.7,189.3 1147.4,190.4 1147.1,190 1146.8,189.2 1146.5,190.6 1146.2,190.1 1145.8,189.6 1145.5,190.3 1145.2,190.6 1144.9,189.6 1144.6,189.1 1144.3,189.9 1144,189.8 1143.6,188.4 1143.3,190.5 1143,189.8 1142.7,190.3 1142.4,188.9 1142.1,188.1 1141.8,189.3 1141.4,189.8 1141.1,189.4 1140.8,188.6 1140.5,189.2 1140.2,187.9 1139.9,188.5 1139.6,188.6 1139.2,189.1 1138.9,188.9 1138.6,187.1 1138.3,187.8 1138,187.4 1137.7,187.2 1137.4,186.3 1137,188.6 1136.7,187.2 1136.4,187.6 1136.1,189.1 1135.8,187.3 1135.5,187.9 1135.2,189.6 1134.8,188.6 1134.5,187.3 1134.2,188.8 1133.9,187.2 1133.6,188.7 1133.3,187.1 1133,188.8 1132.6,188.1 1132.3,188.6 1132,188.7 1131.7,189.5 1131.4,188.5 1131.1,189 1130.7,189.8 1130.4,189.5 1130.1,189.6 1129.8,188.5 1129.5,188.5 1129.2,189.8 1128.9,188.6 1128.5,189.3 1128.2,189.2 1127.9,189.2 1127.6,189.4 1127.3,189.2 1127,189.4 1126.7,190.1 1126.3,190.6 1126,189.8 1125.7,191.2 1125.4,190.9 1125.1,189.7 1124.8,190 1124.5,190.6 1124.1,190.4 1123.8,190.4 1123.5,190.9 1123.2,190.2 1122.9,191 1122.6,191.3 1122.3,191 1121.9,191.4 1121.6,191.3 1121.3,191.8 1121,191 1120.7,191 1120.4,191.9 1120.1,190.9 1119.7,191.6 1119.4,191.3 1119.1,192.5 1118.8,192.3 1118.5,192.1 1118.2,192.3 1117.9,192.9 1117.5,192.5 1117.2,193.9 1116.9,192.6 1116.6,193.1 1116.3,193.3 1116,193.6 1115.7,192 1115.3,194.2 1115,193.4 1114.7,194.1 1114.4,193.3 1114.1,194.2 1113.8,193.4 1113.5,193.7 1113.1,194.1 1112.8,194 1112.5,195.6 1112.2,194.6 1111.9,195.2 1111.6,194.1 1111.3,195.4 1110.9,194.5 1110.6,195 1110.3,196 1110,194.4 1109.7,194.9 1109.4,194.4 1109,194.2 1108.7,194.6 1108.4,194.4 1108.1,194.8 1107.8,194.2 1107.5,194.2 1107.2,194.6 1106.8,193.2 1106.5,193 1106.2,192.7 1105.9,192.8 1105.6,193.6 1105.3,194.4 1105,193.6 1104.6,192.5 1104.3,192.9 1104,192.9 1103.7,191.1 1103.4,192.8 1103.1,192.6 1102.8,191 1102.4,192.1 1102.1,190.5 1101.8,191.7 1101.5,191.5 1101.2,190.9 1100.9,190.5 1100.6,191.8 1100.2,191.1 1099.9,190.9 1099.6,191 1099.3,192.1 1099,191.5 1098.7,190.5 1098.4,190.3 1098,189.9 1097.7,189.1 1097.4,191 1097.1,190.6 1096.8,190.6 1096.5,191 1096.2,190.8 1095.8,192.1 1095.5,190.8 1095.2,190.1 1094.9,190.7 1094.6,191.5 1094.3,190.9 1094,191 1093.6,191.7 1093.3,190.4 1093,191.1 1092.7,190.3 1092.4,190.1 1092.1,189.4 1091.8,190 1091.4,189.4 1091.1,190.9 1090.8,190.2 1090.5,188.7 1090.2,188.1 1089.9,189.3 1089.6,188.6 1089.2,188.3 1088.9,187.8 1088.6,187.3 1088.3,187.5 1088,188.6 1087.7,187 1087.3,187.7 1087,187.6 1086.7,188.1 1086.4,187 1086.1,186.8 1085.8,187.2 1085.5,186.8 1085.1,187.6 1084.8,186.8 1084.5,188.1 1084.2,186.8 1083.9,186.1 1083.6,185.9 1083.3,185.3 1082.9,185.3 1082.6,186.4 1082.3,185.3 1082,186.4 1081.7,186.9 1081.4,186.6 1081.1,186.9 1080.7,186.1 1080.4,186.6 1080.1,186.2 1079.8,186.4 1079.5,187.4 1079.2,187 1078.9,187.4 1078.5,186 1078.2,186.5 1077.9,186.4 1077.6,185.9 1077.3,186.3 1077,185.5 1076.7,185.7 1076.3,185.1 1076,184.3 1075.7,184.9 1075.4,184.9 1075.1,185.3 1074.8,183.9 1074.5,183.8 1074.1,183.2 1073.8,183.8 1073.5,184 1073.2,182.7 1072.9,182.8 1072.6,183.1 1072.3,184.3 1071.9,182.5 1071.6,182.5 1071.3,183.4 1071,183.1 1070.7,182.5 1070.4,182.4 1070.1,182.1 1069.7,182.4 1069.4,181.7 1069.1,182 1068.8,182.9 1068.5,181.8 1068.2,181.7 1067.8,182.6 1067.5,182.3 1067.2,182.1 1066.9,182.1 1066.6,182.4 1066.3,182.1 1066,181.5 1065.6,182 1065.3,181.5 1065,181.4 1064.7,183.8 1064.4,182.7 1064.1,183 1063.8,182.5 1063.4,181 1063.1,181.7 1062.8,181.4 1062.5,181.9 1062.2,179.9 1061.9,179.2 1061.6,178.4 1061.2,179.3 1060.9,179 1060.6,178.9 1060.3,179.4 1060,178.6 1059.7,179.5 1059.4,177.9 1059,178.7 1058.7,178 1058.4,177.7 1058.1,179.3 1057.8,178.3 1057.5,178.9 1057.2,179.2 1056.8,180.2 1056.5,179.8 1056.2,179.3 1055.9,179.9 1055.6,178.8 1055.3,178.4 1055,178.9 1054.6,179 1054.3,177.9 1054,177.7 1053.7,178.7 1053.4,178.3 1053.1,178.6 1052.8,177.4 1052.4,177.4 1052.1,178.4 1051.8,179 1051.5,179.6 1051.2,177.9 1050.9,178.5 1050.6,177.9 1050.2,178.7 1049.9,178.1 1049.6,178.7 1049.3,178.6 1049,178.1 1048.7,178.6 1048.4,179.1 1048,178.9 1047.7,179 1047.4,178.4 1047.1,178.1 1046.8,178.8 1046.5,178.9 1046.1,178.8 1045.8,177.9 1045.5,177.9 1045.2,178.6 1044.9,178.7 1044.6,177.6 1044.3,178.4 1043.9,178.2 1043.6,179.1 1043.3,177.2 1043,179.4 1042.7,177.2 1042.4,179.4 1042.1,179.2 1041.7,178.8 1041.4,178.1 1041.1,179 1040.8,177.9 1040.5,178.2 1040.2,177.5 1039.9,177.1 1039.5,176.9 1039.2,176.4 1038.9,176 1038.6,175.8 1038.3,176.6 1038,175.8 1037.7,176.5 1037.3,175.7 1037,176.8 1036.7,174.8 1036.4,175 1036.1,175.7 1035.8,175.4 1035.5,174.6 1035.1,175.9 1034.8,174.4 1034.5,174.1 1034.2,175.5 1033.9,174.6 1033.6,173.9 1033.3,175.3 1032.9,174.4 1032.6,174.9 1032.3,174.2 1032,175.1 1031.7,175.1 1031.4,175 1031.1,176 1030.7,174.8 1030.4,174.7 1030.1,174.2 1029.8,174.1 1029.5,174.6 1029.2,174.6 1028.9,173 1028.5,174.2 1028.2,173.4 1027.9,175.2 1027.6,174 1027.3,173.8 1027,174.9 1026.7,172.6 1026.3,173.1 1026,173.9 1025.7,173.3 1025.4,172.5 1025.1,173.2 1024.8,173.2 1024.4,172.3 1024.1,172.4 1023.8,171.6 1023.5,172.1 1023.2,172 1022.9,172.8 1022.6,172.4 1022.2,172.4 1021.9,172.6 1021.6,172.1 1021.3,173 1021,172.5 1020.7,173.3 1020.4,172.3 1020,174.3 1019.7,172.1 1019.4,173.6 1019.1,172.1 1018.8,173.5 1018.5,173.3 1018.2,172.5 1017.8,172.5 1017.5,171.9 1017.2,173.9 1016.9,172.4 1016.6,172.3 1016.3,172.9 1016,172.5 1015.6,172.3 1015.3,172.1 1015,171.6 1014.7,172 1014.4,172.2 1014.1,170.8 1013.8,172.4 1013.4,172.1 1013.1,170.7 1012.8,171.6 1012.5,172.4 1012.2,171.7 1011.9,171.6 1011.6,171.2 1011.2,171 1010.9,171.3 1010.6,170.4 1010.3,170.9 1010,171.5 1009.7,171.6 1009.4,171.3 1009,170.9 1008.7,170.8 1008.4,172.3 1008.1,169.7 1007.8,170.7 1007.5,170.4 1007.2,170.8 1006.8,171 1006.5,170.5 1006.2,169.9 1005.9,169.2 1005.6,170 1005.3,168.9 1005,169.3 1004.6,168.6 1004.3,167.6 1004,169.4 1003.7,168.8 1003.4,167.8 1003.1,167.9 1002.7,169 1002.4,166.7 1002.1,167 1001.8,167.6 1001.5,167.4 1001.2,167.4 1000.9,167.8 1000.5,166.9 1000.2,167.8 999.9,169 999.6,167.8 999.3,168.1 999,167.5 998.7,169.3 998.3,168.8 998,168.6 997.7,168.6 997.4,168.6 997.1,168.6 996.8,169.1 996.5,167.7 996.1,168.1 995.8,168.4 995.5,169 995.2,167 994.9,168.4 994.6,169.2 994.3,168.5 993.9,167.9 993.6,167.8 993.3,169.1 993,169.1 992.7,168.2 992.4,167.8 992.1,169.8 991.7,169 991.4,168.7 991.1,169.5 990.8,169.9 990.5,168.7 990.2,169.1 989.9,170 989.5,170.5 989.2,170.1 988.9,170.8 988.6,170.6 988.3,170.8 988,171.5 987.7,170.9 987.3,169.8 987,170.3 986.7,170 986.4,168 986.1,170.3 985.8,169.4 985.5,169.4 985.1,168.1 984.8,169.4 984.5,168.6 984.2,169.6 983.9,168.1 983.6,168.6 983.3,168.4 982.9,168.3 982.6,167.5 982.3,168.6 982,168.8 981.7,167.3 981.4,166.9 981,166.8 980.7,167.8 980.4,167.2 980.1,166.6 979.8,167.9 979.5,166.2 979.2,167.9 978.8,167.9 978.5,167.5 978.2,166.6 977.9,166.6 977.6,166.7 977.3,167.2 977,166.6 976.6,166.8 976.3,167.4 976,167 975.7,166.9 975.4,166.4 975.1,165.9 974.8,165.3 974.4,166 974.1,166.9 973.8,166.2 973.5,166.4 973.2,165.9 972.9,165.4 972.6,166.8 972.2,167.1 971.9,166 971.6,165.7 971.3,166.6 971,165.2 970.7,166.1 970.4,165.2 970,166.3 969.7,164.1 969.4,165.7 969.1,165.6 968.8,165.8 968.5,166.4 968.2,164.7 967.8,165.5 967.5,165.4 967.2,165.4 966.9,165 966.6,165.1 966.3,166 966,165.3 965.6,165.6 965.3,166.1 965,165.1 964.7,165.7 964.4,166.5 964.1,165.8 963.8,165.7 963.4,166.5 963.1,166.1 962.8,166.3 962.5,166.4 962.2,164.9 961.9,167.4 961.6,166.3 961.2,167.2 960.9,167.4 960.6,166.3 960.3,167.9 960,166.8 959.7,166.9 959.3,166.9 959,167.4 958.7,167.7 958.4,166.8 958.1,168 957.8,167.1 957.5,167.8 957.1,167.4 956.8,167.3 956.5,167.8 956.2,167.7 955.9,167.9 955.6,169.1 955.3,168.5 954.9,167.3 954.6,167.6 954.3,168.5 954,169.4 953.7,167.6 953.4,168.1 953.1,168.5 952.7,168.1 952.4,166.6 952.1,166.9 951.8,166.8 951.5,167.3 951.2,167.2 950.9,167.1 950.5,168 950.2,166 949.9,167.2 949.6,167.4 949.3,167.1 949,167.6 948.7,167.8 948.3,168 948,167.7 947.7,167.2 947.4,168.7 947.1,166.8 946.8,167.6 946.5,167.3 946.1,167.8 945.8,166.4 945.5,168.2 945.2,168.3 944.9,168 944.6,166.2 944.3,167.2 943.9,167.7 943.6,166 943.3,165.9 943,167.4 942.7,166.4 942.4,166.5 942.1,165.9 941.7,166.8 941.4,166.5 941.1,166.7 940.8,165.6 940.5,166 940.2,165.7 939.9,166.2 939.5,166.2 939.2,166.5 938.9,167.3 938.6,165.9 938.3,166.5 938,166.5 937.6,166.8 937.3,166.5 937,166.3 936.7,166 936.4,166.8 936.1,166.4 935.8,167.1 935.4,165.5 935.1,167.2 934.8,166.3 934.5,167.1 934.2,167.6 933.9,164.9 933.6,166.3 933.2,166.7 932.9,166.6 932.6,166.7 932.3,167 932,167.6 931.7,168.1 931.4,167.4 931,167 930.7,168.1 930.4,168.4 930.1,169.5 929.8,168.5 929.5,168.6 929.2,169.2 928.8,168.4 928.5,168.9 928.2,168.9 927.9,169.6 927.6,169.2 927.3,169.6 927,169.8 926.6,169.4 926.3,167.9 926,170.3 925.7,169.9 925.4,170.3 925.1,170.4 924.8,168.7 924.4,169.4 924.1,169.5 923.8,170.1 923.5,168.9 923.2,168.8 922.9,169.1 922.6,170.1 922.2,168.7 921.9,170.2 921.6,169.1 921.3,169.4 921,170.5 920.7,169.6 920.4,171.2 920,169.5 919.7,170.8 919.4,170.3 919.1,171.5 918.8,171.5 918.5,171.1 918.2,169.9 917.8,170.3 917.5,171.8 917.2,171.5 916.9,170 916.6,172.3 916.3,171.4 915.9,173.6 915.6,171.8 915.3,172.3 915,171.8 914.7,172.7 914.4,170.4 914.1,172.7 913.7,172 913.4,171.7 913.1,172.3 912.8,172.6 912.5,170.8 912.2,171.1 911.9,172.5 911.5,171.6 911.2,171.2 910.9,171.5 910.6,172.7 910.3,171 910,171.3 909.7,170.9 909.3,171.3 909,172.3 908.7,170.8 908.4,171.9 908.1,171 907.8,171.2 907.5,170.4 907.1,171.7 906.8,171.6 906.5,169.6 906.2,169.7 905.9,169.4 905.6,169.2 905.3,169.6 904.9,168.6 904.6,169.6 904.3,171.7 904,171.1 903.7,170.8 903.4,172.8 903.1,170.4 902.7,170.8 902.4,169.6 902.1,170.1 901.8,167.3 901.5,168.8 901.2,167.3 900.9,166.6 900.5,167.6 900.2,167.6 899.9,168.2 899.6,168.1 899.3,168.8 899,168.9 898.7,170.1 898.3,169.2 898,170 897.7,169.7 897.4,169.9 897.1,170.8 896.8,170.6 896.5,171.3 896.1,170.5 895.8,170.1 895.5,170 895.2,169.5 894.9,169.5 894.6,170.5 894.2,169.7 893.9,168.8 893.6,169.9 893.3,169 893,168.9 892.7,169 892.4,168.8 892,168.7 891.7,167.8 891.4,168.5 891.1,168.9 890.8,169 890.5,168.9 890.2,168.3 889.8,168 889.5,167.6 889.2,168.1 888.9,167.3 888.6,167.7 888.3,168.4 888,167.2 887.6,168.1 887.3,167.1 887,167.7 886.7,167.5 886.4,167.7 886.1,167.3 885.8,167 885.4,167.7 885.1,166.9 884.8,167.6 884.5,167.4 884.2,167.1 883.9,168.3 883.6,167.5 883.2,165.6 882.9,167.1 882.6,166.9 882.3,167 882,166.7 881.7,167.6 881.4,168 881,168.3 880.7,166.9 880.4,167.1 880.1,167.6 879.8,168 879.5,168.6 879.2,168.2 878.8,168.8 878.5,166.8 878.2,167.4 877.9,168.7 877.6,168.4 877.3,167.8 877,167.5 876.6,168.2 876.3,167.9 876,168.2 875.7,168.1 875.4,168 875.1,168 874.8,167.8 874.4,166.9 874.1,167.5 873.8,167.2 873.5,166.9 873.2,167.2 872.9,167.5 872.5,167 872.2,167.4 871.9,168.2 871.6,165.9 871.3,167.3 871,165.5 870.7,166.8 870.3,166.8 870,166.8 869.7,165.9 869.4,167.3 869.1,167.5 868.8,166.9 868.5,166.1 868.1,167.6 867.8,167.2 867.5,167 867.2,166.8 866.9,166.9 866.6,166.7 866.3,167.1 865.9,166.9 865.6,167.4 865.3,165.7 865,167.5 864.7,165.5 864.4,166.1 864.1,166 863.7,166.4 863.4,165.9 863.1,165.8 862.8,165.9 862.5,166.5 862.2,166.2 861.9,165.8 861.5,165.9 861.2,165.8 860.9,165.9 860.6,165.7 860.3,165.4 860,165.8 859.7,164.6 859.3,165.3 859,164.8 858.7,164.2 858.4,166.8 858.1,164.3 857.8,165.1 857.5,165.1 857.1,164.8 856.8,165.7 856.5,165.2 856.2,165.4 855.9,164 855.6,164.7 855.3,164.9 854.9,164.3 854.6,164.8 854.3,165.6 854,165.2 853.7,163.9 853.4,164.1 853.1,164.4 852.7,163.6 852.4,164 852.1,165.4 851.8,164.4 851.5,164.4 851.2,163.4 850.8,163.5 850.5,164.2 850.2,164 849.9,164.3 849.6,164.3 849.3,163.9 849,163.6 848.6,163.5 848.3,163.4 848,162.6 847.7,163.1 847.4,162.9 847.1,162.5 846.8,163.7 846.4,163.3 846.1,162.8 845.8,162.5 845.5,162.7 845.2,162.6 844.9,162.8 844.6,163 844.2,163.2 843.9,162.2 843.6,163.5 843.3,162.9 843,163.7 842.7,162.1 842.4,162.7 842,162.4 841.7,163.3 841.4,161.3 841.1,162.8 840.8,163.2 840.5,161.8 840.2,161.7 839.8,161.6 839.5,163.1 839.2,162.1 838.9,162.2 838.6,162.9 838.3,160.3 838,161.5 837.6,162.8 837.3,162.5 837,163 836.7,162.4 836.4,161.8 836.1,161.3 835.8,161.9 835.4,161.7 835.1,161.8 834.8,162.7 834.5,163.1 834.2,161.2 833.9,161.7 833.6,161.8 833.2,161.6 832.9,161.1 832.6,162.8 832.3,162.5 832,162.1 831.7,161.3 831.4,161.3 831,161.4 830.7,161.7 830.4,161.9 830.1,161.8 829.8,161.9 829.5,161.1 829.1,160.9 828.8,161.9 828.5,161.3 828.2,160.9 827.9,160.8 827.6,160.9 827.3,159.7 826.9,161.5 826.6,159.8 826.3,160.9 826,161.3 825.7,160.6 825.4,160.8 825.1,159.8 824.7,161 824.4,160.7 824.1,160.3 823.8,161.4 823.5,159.9 823.2,160 822.9,160.8 822.5,160.5 822.2,160.6 821.9,159.9 821.6,159.6 821.3,161.1 821,159.5 820.7,159.2 820.3,159.6 820,159.4 819.7,159.6 819.4,160.3 819.1,159.9 818.8,159.7 818.5,158.9 818.1,159.1 817.8,158.8 817.5,158.9 817.2,159.9 816.9,158.5 816.6,159.4 816.3,159.3 815.9,159.5 815.6,159.6 815.3,159.3 815,158.7 814.7,158.8 814.4,158.4 814.1,159.4 813.7,158.1 813.4,157.8 813.1,158.5 812.8,158.4 812.5,157.7 812.2,158.3 811.9,156.7 811.5,158.8 811.2,157.7 810.9,157.8 810.6,158 810.3,158.3 810,159.7 809.7,157.9 809.3,158.6 809,158.6 808.7,158.1 808.4,157.5 808.1,158 807.8,158 807.4,157.5 807.1,158.5 806.8,157.8 806.5,157.5 806.2,158.5 805.9,157.6 805.6,157 805.2,156.8 804.9,157.6 804.6,158.2 804.3,157.7 804,158 803.7,157.3 803.4,158.2 803,157 802.7,157.8 802.4,157.5 802.1,157.8 801.8,157.4 801.5,157.3 801.2,157.2 800.8,158.2 800.5,156.7 800.2,157.3 799.9,156.5 799.6,157.3 799.3,157.4 799,157.4 798.6,156.2 798.3,157.5 798,156.9 797.7,157.5 797.4,157.4 797.1,156.7 796.8,156.8 796.4,156.4 796.1,157.6 795.8,157.3 795.5,156.8 795.2,157.6 794.9,156.3 794.6,156.6 794.2,157.8 793.9,157 793.6,156.2 793.3,156 793,156.8 792.7,157.4 792.4,156.9 792,156.9 791.7,156.5 791.4,156 791.1,156.4 790.8,155.7 790.5,155.8 790.2,156.7 789.8,156.5 789.5,155.4 789.2,155.8 788.9,155.8 788.6,155.9 788.3,155.4 787.9,155.7 787.6,155.2 787.3,154.3 787,155.6 786.7,154 786.4,155.2 786.1,154.9 785.7,155.2 785.4,154.2 785.1,154.6 784.8,154.1 784.5,154.8 784.2,153.2 783.9,154.3 783.5,153.3 783.2,152.5 782.9,153 782.6,153.6 782.3,153.2 782,152.6 781.7,152.6 781.3,152.8 781,152.7 780.7,152.4 780.4,152.9 780.1,152.6 779.8,152 779.5,152.5 779.1,152.5 778.8,151.9 778.5,151.5 778.2,152.7 777.9,153.2 777.6,153.5 777.3,152.8 776.9,152.9 776.6,152.5 776.3,152.3 776,152.6 775.7,152.5 775.4,152.5 775.1,153.3 774.7,153 774.4,153.5 774.1,154.1 773.8,153.1 773.5,153.4 773.2,153 772.9,154.7 772.5,154.5 772.2,154.1 771.9,153 771.6,153.3 771.3,154.3 771,153.2 770.7,153 770.3,152.7 770,151.5 769.7,151.7 769.4,152.7 769.1,152.9 768.8,152 768.5,152.4 768.1,152 767.8,152.2 767.5,152.3 767.2,152.6 766.9,152.4 766.6,152.5 766.2,152 765.9,152.2 765.6,151.2 765.3,151.4 765,150.4 764.7,151.3 764.4,151.3 764,152.1 763.7,151.8 763.4,151.7 763.1,151.4 762.8,151.7 762.5,150.3 762.2,150.5 761.8,151 761.5,150.3 761.2,150 760.9,151 760.6,149.9 760.3,149.6 760,149.8 759.6,151 759.3,151.3 759,151.1 758.7,150.5 758.4,150.9 758.1,150.8 757.8,151 757.4,149.6 757.1,149.6 756.8,150.1 756.5,150.9 756.2,149.4 755.9,149.8 755.6,149.3 755.2,151.1 754.9,149.5 754.6,148.9 754.3,149.7 754,149 753.7,149.2 753.4,149.1 753,149.6 752.7,148.8 752.4,147.6 752.1,148.2 751.8,147.2 751.5,147.9 751.2,147.5 750.8,148.5 750.5,147.3 750.2,146.7 749.9,147.8 749.6,147.2 749.3,147.4 749,147.1 748.6,146.4 748.3,145.3 748,144.9 747.7,146 747.4,145.5 747.1,144.5 746.8,145.8 746.4,144.2 746.1,145.4 745.8,143.7 745.5,144.1 745.2,143.6 744.9,143.9 744.5,143 744.2,142.9 743.9,143.6 743.6,143.7 743.3,143.1 743,143.9 742.7,141.9 742.3,144.1 742,143.7 741.7,143.3 741.4,143.7 741.1,143.3 740.8,143.1 740.5,142.7 740.1,141.9 739.8,142.8 739.5,143.1 739.2,143 738.9,141.9 738.6,141.9 738.3,142.6 737.9,142.5 737.6,142 737.3,143.4 737,142.2 736.7,142.5 736.4,142.5 736.1,142.4 735.7,141.4 735.4,142.2 735.1,142.5 734.8,142.1 734.5,142.3 734.2,141.5 733.9,142.2 733.5,141 733.2,141.2 732.9,142 732.6,140.9 732.3,141.8 732,141.2 731.7,142 731.3,141.4 731,140.4 730.7,141.1 730.4,140.9 730.1,142.5 729.8,141.6 729.5,141.7 729.1,142.1 728.8,141.4 728.5,142.5 728.2,141.9 727.9,141.2 727.6,142.6 727.3,141.4 726.9,141.6 726.6,140.8 726.3,140.8 726,141.4 725.7,141.2 725.4,140.9 725.1,140.7 724.7,141.2 724.4,141.9 724.1,140.5 723.8,141.3 723.5,141.5 723.2,141.9 722.8,140.6 722.5,142.6 722.2,141.6 721.9,142.4 721.6,141.8 721.3,142.4 721,142.1 720.6,141.8 720.3,141.7 720,142.3 719.7,142 719.4,140.9 719.1,141.6 718.8,142.7 718.4,141.7 718.1,142.2 717.8,142.4 717.5,142.3 717.2,143 716.9,141.7 716.6,141.8 716.2,141 715.9,142.4 715.6,142.3 715.3,142.5 715,143.1 714.7,142.5 714.4,142.8 714,143 713.7,142.4 713.4,144.2 713.1,143.1 712.8,143.9 712.5,141.8 712.2,142.6 711.8,142.8 711.5,142.6 711.2,142.9 710.9,143.9 710.6,143.7 710.3,143.2 710,143.6 709.6,142.8 709.3,143.1 709,143.4 708.7,143.3 708.4,143.6 708.1,143.1 707.8,143 707.4,144.1 707.1,143.3 706.8,143.5 706.5,143.2 706.2,142.7 705.9,143.5 705.6,142.3 705.2,143.4 704.9,142.6 704.6,143.9 704.3,143.6 704,142.6 703.7,143 703.4,142.9 703,142.5 702.7,141.9 702.4,142.7 702.1,142.6 701.8,143.3 701.5,142.1 701.1,143 700.8,143.2 700.5,141.5 700.2,141.6 699.9,141.9 699.6,143 699.3,142 698.9,142.6 698.6,142.1 698.3,142.1 698,140.8 697.7,142.5 697.4,142.2 697.1,142.7 696.7,141.5 696.4,141.4 696.1,141.3 695.8,143 695.5,141.1 695.2,142.4 694.9,142.3 694.5,141.5 694.2,140.6 693.9,141.5 693.6,142.2 693.3,141.3 693,142.3 692.7,141.7 692.3,141 692,140.8 691.7,140.6 691.4,140.8 691.1,140.9 690.8,140 690.5,141 690.1,141 689.8,141.3 689.5,140.6 689.2,140.4 688.9,141.7 688.6,140.7 688.3,140.6 687.9,141 687.6,140.4 687.3,141.3 687,141.5 686.7,140.8 686.4,140.7 686.1,141.6 685.7,141.4 685.4,141.8 685.1,142.1 684.8,141.5 684.5,141.7 684.2,141.3 683.9,141 683.5,142 683.2,142.3 682.9,141.4 682.6,142.5 682.3,140.9 682,141.7 681.7,141.4 681.3,142.4 681,142.7 680.7,141.8 680.4,141 680.1,142.9 679.8,142.1 679.4,142.1 679.1,140.6 678.8,142.5 678.5,142.9 678.2,141.4 677.9,141.1 677.6,143.6 677.2,142.1 676.9,142.1 676.6,142 676.3,143.3 676,143 675.7,143.8 675.4,142.7 675,143.5 674.7,143.5 674.4,143 674.1,142.2 673.8,143.7 673.5,143.1 673.2,141.9 672.8,143.8 672.5,143.2 672.2,143.4 671.9,143.6 671.6,143.8 671.3,142.8 671,142.4 670.6,142.3 670.3,144.4 670,142.5 669.7,143.5 669.4,142.5 669.1,142.4 668.8,144.5 668.4,143.3 668.1,142.9 667.8,143.4 667.5,143.8 667.2,143.2 666.9,143.5 666.6,143.4 666.2,144.3 665.9,143.8 665.6,143.5 665.3,144 665,144 664.7,143 664.4,143.9 664,145 663.7,144 663.4,143.9 663.1,144.6 662.8,144 662.5,144.3 662.2,143.8 661.8,144.7 661.5,144.7 661.2,144.3 660.9,144.7 660.6,144.2 660.3,143.7 660,143.8 659.6,143.7 659.3,143.5 659,143 658.7,144.4 658.4,143.9 658.1,143.2 657.7,144.2 657.4,143.7 657.1,144.1 656.8,145.7 656.5,143.3 656.2,142.6 655.9,143.5 655.5,143.6 655.2,143 654.9,143.4 654.6,143.2 654.3,143.3 654,144.2 653.7,142.9 653.3,142.5 653,142.1 652.7,142.8 652.4,143.2 652.1,142.2 651.8,143.8 651.5,143.7 651.1,143.1 650.8,143.4 650.5,142.6 650.2,142.5 649.9,142.3 649.6,142.5 649.3,142.2 648.9,143 648.6,143 648.3,142.3 648,141.6 647.7,142.4 647.4,141.9 647.1,142.3 646.7,141.6 646.4,141.8 646.1,141.4 645.8,142.2 645.5,140.6 645.2,142.2 644.9,141.7 644.5,142 644.2,141.6 643.9,141.5 643.6,141.3 643.3,141.6 643,141.8 642.7,142.1 642.3,141.3 642,140.8 641.7,142.3 641.4,141.1 641.1,140.4 640.8,141 640.5,140.9 640.1,140.8 639.8,142.2 639.5,141.4 639.2,140.6 638.9,141.5 638.6,141 638.3,140.8 637.9,139.8 637.6,140.9 637.3,140.8 637,140.9 636.7,139.3 636.4,140.3 636,140.1 635.7,139.5 635.4,140.7 635.1,140.5 634.8,140.1 634.5,139.4 634.2,140.4 633.8,139.2 633.5,139.9 633.2,138.5 632.9,138.7 632.6,138.1 632.3,139.4 632,137.6 631.6,137.5 631.3,137.7 631,138.4 630.7,137.8 630.4,137.7 630.1,137.2 629.8,137.2 629.4,137.8 629.1,137 628.8,137.2 628.5,136.1 628.2,137.1 627.9,136.3 627.6,137.7 627.2,137.2 626.9,137.3 626.6,137.5 626.3,136.8 626,137.1 625.7,136.9 625.4,136.1 625,136.6 624.7,136 624.4,136.8 624.1,136.5 623.8,136.2 623.5,135.3 623.2,136 622.8,134.9 622.5,136.3 622.2,136.3 621.9,133.7 621.6,135 621.3,135.1 621,133.3 620.6,134.5 620.3,133.9 620,133.6 619.7,132.2 619.4,132.7 619.1,131.5 618.8,131.8 618.4,132.3 618.1,131.1 617.8,132.1 617.5,130.6 617.2,130.6 616.9,129.7 616.6,131.3 616.2,130.8 615.9,130.1 615.6,129.3 615.3,129.9 615,128.9 614.7,129.7 614.3,128.6 614,129.4 613.7,128.7 613.4,128.8 613.1,128.4 612.8,128.5 612.5,128 612.1,127.3 611.8,128.7 611.5,127.2 611.2,127.7 610.9,126.6 610.6,127.3 610.3,128 609.9,128.6 609.6,126.9 609.3,128.2 609,126.9 608.7,128.2 608.4,128.5 608.1,127.2 607.7,128.1 607.4,127 607.1,127.3 606.8,127.1 606.5,126.8 606.2,126.7 605.9,126.7 605.5,126.5 605.2,127.1 604.9,126.6 604.6,127.2 604.3,127.2 604,127.3 603.7,127.3 603.3,126.4 603,125.8 602.7,127 602.4,127.6 602.1,126.6 601.8,126.8 601.5,127.2 601.1,126.6 600.8,126.2 600.5,126.6 600.2,125.9 599.9,127 599.6,126.7 599.3,126.9 598.9,125.7 598.6,127.5 598.3,126.8 598,127.3"/>
<polyline clip-path="url(#c0)" fill="none" stroke="#ff0000" stroke-width="2.78" stroke-linejoin="round" stroke-linecap="butt" stroke-dasharray="10.28 4.44" points="66.5,81.8 66.8,84.1 67.1,85.8 67.4,85.7 67.8,84.4 68.1,85.1 68.4,84.2 68.7,85 69,86 69.3,84 69.6,83.7 70,84 70.3,84.2 70.6,84.5 70.9,84.1 71.2,85.1 71.5,86.1 71.8,84.2 72.2,85.1 72.5,84.4 72.8,84.9 73.1,85.3 73.4,87.2 73.7,87.8 74,89.4 74.4,90.5 74.7,90.7 75,89.8 75.3,91 75.6,92 75.9,91.7 76.2,90.7 76.6,92.1 76.9,91.5 77.2,92.6 77.5,94.7 77.8,93.4 78.1,95.4 78.5,96.9 78.8,96.1 79.1,97.6 79.4,98 79.7,98.2 80,97.8 80.3,99 80.7,101 81,97.8 81.3,100 81.6,99.2 81.9,97.5 82.2,99.4 82.5,98.6 82.9,96.5 83.2,97.4 83.5,98.3 83.8,98 84.1,99.1 84.4,98.7 84.7,100.7 85.1,101.6 85.4,100.6 85.7,100.8 86,99.4 86.3,100.1 86.6,98.4 86.9,98.3 87.3,97.6 87.6,98.3 87.9,98.1 88.2,95.8 88.5,95.7 88.8,96.9 89.1,94.3 89.5,95.2 89.8,95 90.1,96.1 90.4,95.5 90.7,94.1 91,94.8 91.3,95.2 91.7,97.1 92,95.4 92.3,95.7 92.6,96.3 92.9,96.4 93.2,96.6 93.5,96.5 93.9,97.9 94.2,98.5 94.5,100.2 94.8,100.1 95.1,100.8 95.4,101.7 95.7,102.1 96.1,104.3 96.4,104.6 96.7,106.1 97,105.2 97.3,107.6 97.6,105.9 97.9,106.2 98.3,107.2 98.6,106.8 98.9,107.1 99.2,108.2 99.5,106.5 99.8,106.1 100.2,106.7 100.5,106.7 100.8,106 101.1,105.7 101.4,105.6 101.7,105.8 102,103.9 102.4,104.4 102.7,104.8 103,103.4 103.3,103.9 103.6,102.3 103.9,103.8 104.2,102.8 104.6,102 104.9,100.7 105.2,100.8 105.5,98.7 105.8,99.3 106.1,100.1 106.4,97.7 106.8,99.2 107.1,97.2 107.4,99 107.7,97.2 108,98.4 108.3,98.2 108.6,96.1 109,98.3 109.3,97.9 109.6,96.6 109.9,95.7 110.2,96.1 110.5,95.7 110.8,97.4 111.2,95.8 111.5,96 111.8,95.1 112.1,95 112.4,94.3 112.7,95.7 113,93.4 113.4,93.9 113.7,91.8 114,90.2 114.3,89.8 114.6,88.6 114.9,88.9 115.2,89.7 115.6,89.8 115.9,89.5 116.2,90.6 116.5,93 116.8,91.1 117.1,91.7 117.4,92.8 117.8,93.7 118.1,91.7 118.4,92.4 118.7,92.4 119,91.8 119.3,94.1 119.6,93.4 120,93.7 120.3,93.5 120.6,94.7 120.9,94 121.2,94.7 121.5,93.7 121.9,93.8 122.2,96.2 122.5,94.8 122.8,95.6 123.1,95.6 123.4,94.4 123.7,93.8 124.1,94.7 124.4,93.9 124.7,93.2 125,93.2 125.3,93.3 125.6,92.5 125.9,91.8 126.3,90.9 126.6,90.5 126.9,91.4 127.2,91.9 127.5,90.1 127.8,90.6 128.1,90.8 128.5,90.5 128.8,90.3 129.1,88.5 129.4,90.4 129.7,88 130,90.8 130.3,89.9 130.7,90.5 131,91.1 131.3,91.1 131.6,89 131.9,89.3 132.2,91.1 132.5,90 132.9,90.1 133.2,90.4 133.5,88.5 133.8,87.1 134.1,88.4 134.4,88.3 134.7,87.3 135.1,87.4 135.4,87 135.7,86 136,87.5 136.3,86.5 136.6,86.5 136.9,88.2 137.3,87.3 137.6,87.7 137.9,86.5 138.2,87 138.5,87.6 138.8,87.7 139.1,89.7 139.5,89 139.8,90.7 140.1,91.1 140.4,94 140.7,91.1 141,92.7 141.3,91.5 141.7,91.7 142,89.5 142.3,90.5 142.6,91.8 142.9,90.2 143.2,90.1 143.6,90 143.9,91.3 144.2,91.1 144.5,90.1 144.8,91.7 145.1,91.3 145.4,90.6 145.8,93.5 146.1,95.4 146.4,95.1 146.7,93.7 147,93.4 147.3,94.2 147.6,94 148,93.7 148.3,93 148.6,92.5 148.9,93.1 149.2,93.2 149.5,92.2 149.8,90.9 150.2,91.9 150.5,90.8 150.8,91.5 151.1,89.2 151.4,89.5 151.7,89.8 152,88.3 152.4,90.3 152.7,89.7 153,88.2 153.3,89.5 153.6,88.8 153.9,86.7 154.2,88.8 154.6,88.4 154.9,88.6 155.2,87.5 155.5,87.8 155.8,87.9 156.1,89.6 156.4,87.9 156.8,87.8 157.1,89.3 157.4,87.2 157.7,87.1 158,85.8 158.3,88.9 158.6,88.4 159,88.3 159.3,87.7 159.6,87.4 159.9,86.8 160.2,86.6 160.5,86.4 160.8,86.9 161.2,88.3 161.5,87.6 161.8,86.6 162.1,86.8 162.4,86.4 162.7,88.1 163,87.5 163.4,86.8 163.7,86.9 164,86.3 164.3,87 164.6,87.9 164.9,86.6 165.3,86.8 165.6,86.4 165.9,87 166.2,85.4 166.5,86.6 166.8,86.1 167.1,87.6 167.5,85.7 167.8,86.6 168.1,87.3 168.4,85.7 168.7,85 169,85.4 169.3,85 169.7,83.7 170,84.3 170.3,85.2 170.6,83.3 170.9,83.3 171.2,82.8 171.5,83.7 171.9,82.3 172.2,82.3 172.5,84.2 172.8,81.9 173.1,83.1 173.4,83 173.7,81.3 174.1,81 174.4,82 174.7,79.8 175,78.9 175.3,78 175.6,80.4 175.9,81.4 176.3,81.8 176.6,81 176.9,81.4 177.2,82.6 177.5,84 177.8,83.7 178.1,84.3 178.5,84.7 178.8,84.4 179.1,85.1 179.4,85.4 179.7,85.3 180,85.4 180.3,86.1 180.7,84.3 181,83.4 181.3,80.8 181.6,82.7 181.9,80.5 182.2,80.4 182.5,82.1 182.9,82.1 183.2,81.9 183.5,80.6 183.8,82.4 184.1,82.1 184.4,83.8 184.7,85.5 185.1,83.4 185.4,83.6 185.7,83.4 186,84.5 186.3,85 186.6,84.8 187,86.5 187.3,85.2 187.6,88.1 187.9,88.6 188.2,88.4 188.5,87.3 188.8,88.1 189.2,87.4 189.5,87.8 189.8,88 190.1,87.5 190.4,88 190.7,89.4 191,88.7 191.4,88.6 191.7,87.9 192,85.2 192.3,85.5 192.6,85.5 192.9,85.4 193.2,83.9 193.6,85.1 193.9,84.2 194.2,82.6 194.5,82.4 194.8,83.8 195.1,83.4 195.4,80.8 195.8,83.5 196.1,83.2 196.4,84 196.7,83.2 197,83.5 197.3,82.7 197.6,86.2 198,84.1 198.3,86.1 198.6,83.4 198.9,84 199.2,81.8 199.5,82.4 199.8,82.7 200.2,80 200.5,82.7 200.8,82.1 201.1,81.9 201.4,82.6 201.7,83.2 202,84.3 202.4,84 202.7,84.5 203,84.7 203.3,85.3 203.6,85.4 203.9,87.1 204.2,88.5 204.6,87.3 204.9,89.5 205.2,88.7 205.5,89.5 205.8,91.3 206.1,91.2 206.4,93 206.8,91.9 207.1,93.1 207.4,93.4 207.7,93.6 208,94.8 208.3,94.2 208.7,94.3 209,94.1 209.3,93.3 209.6,93.7 209.9,94.1 210.2,93.9 210.5,92.3 210.9,92.8 211.2,91.3 211.5,93.1 211.8,91.3 212.1,90.4 212.4,91.7 212.7,92 213.1,89.3 213.4,89.2 213.7,89.8 214,87.9 214.3,89.2 214.6,88.2 214.9,87.6 215.3,87.8 215.6,86.5 215.9,87.2 216.2,85.9 216.5,85.3 216.8,85.3 217.1,88.3 217.5,86.8 217.8,87.5 218.1,86.9 218.4,86.9 218.7,87.7 219,90.1 219.3,88 219.7,88 220,89.6 220.3,89 220.6,91.7 220.9,91.9 221.2,91.2 221.5,91.4 221.9,92.9 222.2,93.7 222.5,90.4 222.8,92.8 223.1,92.1 223.4,93.5 223.7,92.1 224.1,92.3 224.4,91.5 224.7,92.3 225,93.9 225.3,93.6 225.6,92.6 225.9,92 226.3,90.9 226.6,92.7 226.9,92.8 227.2,93 227.5,92.2 227.8,91.5 228.2,92.2 228.5,92.7 228.8,94.4 229.1,94.9 229.4,93.3 229.7,93 230,93.9 230.4,93.3 230.7,93.6 231,94.3 231.3,93.2 231.6,95.3 231.9,95.4 232.2,95.5 232.6,95.5 232.9,95.2 233.2,94.9 233.5,95.5 233.8,94.5 234.1,94.5 234.4,93.4 234.8,92.5 235.1,92.9 235.4,91.4 235.7,92.2 236,92 236.3,89.5 236.6,91.5 237,91 237.3,90 237.6,89.8 237.9,88.9 238.2,88.6 238.5,89.2 238.8,89.1 239.2,90.2 239.5,88.7 239.8,90 240.1,90 240.4,90.2 240.7,89.9 241,91 241.4,88.8 241.7,90.3 242,90.2 242.3,90.3 242.6,90.1 242.9,89.5 243.2,90.1 243.6,90.1 243.9,90 244.2,90.1 244.5,88.4 244.8,90.3 245.1,91.1 245.4,91.6 245.8,91.3 246.1,90 246.4,92.4 246.7,92.2 247,89.8 247.3,91.2 247.6,89.6 248,89.4 248.3,89.6 248.6,90.5 248.9,88.7 249.2,88.9 249.5,89.7 249.9,90 250.2,88.5 250.5,88.7 250.8,87.5 251.1,88.1 251.4,88.9 251.7,88.8 252.1,89 252.4,89.4 252.7,88.3 253,88.4 253.3,89.3 253.6,88.4 253.9,88.8 254.3,88 254.6,87.4 254.9,87.5 255.2,86 255.5,85.5 255.8,86.9 256.1,86.3 256.5,86.4 256.8,84.4 257.1,85.2 257.4,85 257.7,84.3 258,83.7 258.3,85.6 258.7,86.8 259,86.4 259.3,85.6 259.6,86.7 259.9,87.5 260.2,85.3 260.5,87.7 260.9,88.9 261.2,89.9 261.5,91 261.8,91.3 262.1,91.7 262.4,92.3 262.7,93 263.1,92.3 263.4,92.8 263.7,94.3 264,95.5 264.3,94.2 264.6,94.6 264.9,95.3 265.3,95.9 265.6,94.5 265.9,95.6 266.2,92.9 266.5,92.6 266.8,92.4 267.1,92.6 267.5,92.6 267.8,90.9 268.1,91.4 268.4,92.1 268.7,91.5 269,90.6 269.3,92.5 269.7,92 270,92.2 270.3,92 270.6,92.5 270.9,92.2 271.2,93.5 271.6,91.7 271.9,91.9 272.2,92.8 272.5,92.3 272.8,93.8 273.1,93.4 273.4,92.9 273.8,93.9 274.1,93.3 274.4,94.2 274.7,92.7 275,92.8 275.3,93.6 275.6,94.6 276,94.2 276.3,92.3 276.6,93 276.9,93.1 277.2,91.7 277.5,91.4 277.8,91.8 278.2,92.5 278.5,91.4 278.8,91 279.1,91.5 279.4,93.4 279.7,92.3 280,92.4 280.4,92.5 280.7,92.3 281,91 281.3,91.7 281.6,89.9 281.9,90 282.2,89.7 282.6,90.9 282.9,89.6 283.2,89 283.5,89.2 283.8,88.7 284.1,89.6 284.4,87.4 284.8,88 285.1,88.2 285.4,91 285.7,89.4 286,88.1 286.3,88.6 286.6,89 287,87.1 287.3,86.8 287.6,87.6 287.9,86.1 288.2,86.3 288.5,85.2 288.8,86.8 289.2,86.5 289.5,85 289.8,85.7 290.1,83.4 290.4,85.9 290.7,85.4 291,86.1 291.4,86.2 291.7,85.7 292,84.5 292.3,86.2 292.6,85.9 292.9,86.2 293.3,85.6 293.6,86.1 293.9,84.8 294.2,88.1 294.5,87.3 294.8,88 295.1,88.1 295.5,87.1 295.8,85.8 296.1,86.5 296.4,86.2 296.7,86.6 297,87.5 297.3,85.7 297.7,87.1 298,85.4 298.3,87.6 298.6,86.6 298.9,86.8 299.2,87.4 299.5,86.7 299.9,87.2 300.2,86.5 300.5,88.4 300.8,90.2 301.1,91 301.4,90.4 301.7,90.1 302.1,89.1 302.4,90.2 302.7,88.8 303,89.2 303.3,88 303.6,88.2 303.9,87.7 304.3,87.5 304.6,86.2 304.9,87.4 305.2,88.9 305.5,87 305.8,86.8 306.1,87.1 306.5,87.1 306.8,85.9 307.1,87 307.4,87.4 307.7,86.8 308,85.9 308.3,87.1 308.7,84.8 309,85.6 309.3,84.6 309.6,86 309.9,83 310.2,83.6 310.5,83.6 310.9,85.1 311.2,84.7 311.5,85.4 311.8,83.4 312.1,85.2 312.4,84.7 312.7,84.7 313.1,85.5 313.4,84.4 313.7,83.7 314,85.5 314.3,84.2 314.6,85.7 315,86.5 315.3,86.6 315.6,88.2 315.9,87 316.2,86.4 316.5,87.5 316.8,86.7 317.2,87.3 317.5,89.4 317.8,88.5 318.1,87.8 318.4,89.8 318.7,89 319,89.7 319.4,90.2 319.7,90.9 320,90.3 320.3,91.7 320.6,91.5 320.9,91.2 321.2,91.9 321.6,91.2 321.9,92.7 322.2,92.4 322.5,93.7 322.8,92.5 323.1,95.4 323.4,94.5 323.8,94.9 324.1,94.8 324.4,97.2 324.7,97.5 325,97.4 325.3,97.9 325.6,98.5 326,99.3 326.3,98.7 326.6,99.1 326.9,101 327.2,102.7 327.5,99.8 327.8,100.7 328.2,100.5 328.5,101.5 328.8,99.4 329.1,99.9 329.4,99.3 329.7,98.1 330,97.7 330.4,97.1 330.7,96.1 331,97 331.3,97.6 331.6,97.7 331.9,97.6 332.2,95.7 332.6,97.1 332.9,98.2 333.2,98 333.5,97 333.8,96.7 334.1,98 334.4,96.3 334.8,95.9 335.1,95.5 335.4,97 335.7,96.5 336,97 336.3,95.7 336.7,96.7 337,95.6 337.3,96.3 337.6,98.7 337.9,96.9 338.2,95.6 338.5,96.6 338.9,96.2 339.2,96.3 339.5,94.2 339.8,93.1 340.1,93 340.4,93.8 340.7,93.7 341.1,95.5 341.4,95.1 341.7,96.2 342,95.2 342.3,97 342.6,99 342.9,97.6 343.3,97.7 343.6,98.2 343.9,99.5 344.2,98.2 344.5,99.2 344.8,99.8 345.1,100.3 345.5,98.1 345.8,98 346.1,96.4 346.4,95.8 346.7,95.1 347,93.5 347.3,93.6 347.7,94.3 348,91.8 348.3,92.4 348.6,92.7 348.9,91.8 349.2,92.1 349.5,90.8 349.9,92.2 350.2,94 350.5,93.9 350.8,92.8 351.1,93.7 351.4,94.6 351.7,95 352.1,96.9 352.4,95.4 352.7,97.5 353,97.4 353.3,99.5 353.6,99.2 353.9,99.1 354.3,100.7 354.6,101.7 354.9,101.6 355.2,101.4 355.5,99.7 355.8,98.3 356.1,99.2 356.5,98.8 356.8,98.2 357.1,97 357.4,96.8 357.7,96.1 358,95.9 358.4,96.1 358.7,97.9 359,95.6 359.3,97.8 359.6,96.8 359.9,96.6 360.2,98 360.6,96.6 360.9,95 361.2,95.5 361.5,96 361.8,95.9 362.1,93.7 362.4,93.7 362.8,93.4 363.1,92.1 363.4,93.1 363.7,92.7 364,92 364.3,92.6 364.6,92.6 365,93.2 365.3,92.5 365.6,93 365.9,94.2 366.2,93.4 366.5,94.2 366.8,94.2 367.2,94 367.5,95.3 367.8,92.9 368.1,92.7 368.4,91 368.7,91.8 369,91.5 369.4,87.2 369.7,87.5 370,88.5 370.3,87.5 370.6,87.7 370.9,86.8 371.2,86.7 371.6,86.7 371.9,85.8 372.2,86.6 372.5,84.3 372.8,86.5 373.1,85 373.4,86.5 373.8,85.2 374.1,85.2 374.4,86.1 374.7,85.8 375,86.4 375.3,86.2 375.6,87.3 376,88.1 376.3,89 376.6,87.7 376.9,87.4 377.2,86.4 377.5,86.1 377.8,86.5 378.2,85.9 378.5,84.8 378.8,84.7 379.1,85.7 379.4,85.7 379.7,85.1 380.1,86.9 380.4,86.4 380.7,87.4 381,86.2 381.3,87.8 381.6,87.7 381.9,87.3 382.3,89 382.6,87.4 382.9,88.5 383.2,87.6 383.5,86.4 383.8,86.5 384.1,86.7 384.5,85.9 384.8,86 385.1,84.7 385.4,83.1 385.7,84.7 386,82.7 386.3,84.5 386.7,83 387,82.4 387.3,82.6 387.6,83.1 387.9,81.5 388.2,81.4 388.5,81.9 388.9,81.3 389.2,82.8 389.5,84.8 389.8,82.4 390.1,83.9 390.4,82.6 390.7,84.2 391.1,83 391.4,83.2 391.7,82.8 392,83.7 392.3,82.6 392.6,82.3 392.9,80.6 393.3,81.6 393.6,81 393.9,81.3 394.2,80.6 394.5,82.4 394.8,79.5 395.1,81.2 395.5,82.2 395.8,80.9 396.1,80.8 396.4,81.4 396.7,80.3 397,81.7 397.3,83.9 397.7,81.9 398,80.4 398.3,80.1 398.6,80.1 398.9,81.1 399.2,79.3 399.5,79.3 399.9,80.5 400.2,81 400.5,80.5 400.8,80.9 401.1,80.8 401.4,81.5 401.8,80.8 402.1,83.4 402.4,81.9 402.7,82.2 403,83.2 403.3,81 403.6,79.2 404,80 404.3,79.3 404.6,77.6 404.9,77.4 405.2,78.2 405.5,77.2 405.8,79.1 406.2,76.7 406.5,77.3 406.8,78.4 407.1,78.2 407.4,78.7 407.7,78.6 408,78.4 408.4,79.2 408.7,76.5 409,78.8 409.3,78.4 409.6,79.7 409.9,79 410.2,78.7 410.6,79.5 410.9,80.3 411.2,80.4 411.5,80.4 411.8,82.6 412.1,82.4 412.4,80.2 412.8,81.5 413.1,82.9 413.4,81.3 413.7,80.6 414,79.8 414.3,79.4 414.6,79.8 415,79.2 415.3,80.4 415.6,78.8 415.9,78 416.2,77.7 416.5,78.6 416.8,77.8 417.2,78.1 417.5,78.6 417.8,78.5 418.1,77.8 418.4,77.9 418.7,77.2 419,76.6 419.4,77 419.7,76.7 420,75.5 420.3,77.6 420.6,76.2 420.9,75.7 421.2,75.5 421.6,75.1 421.9,76.3 422.2,74.8 422.5,76.5 422.8,74.9 423.1,74 423.5,75.8 423.8,74.9 424.1,76.6 424.4,77.5 424.7,77.7 425,75.7 425.3,76.7 425.7,78.9 426,77.6 426.3,77.7 426.6,78.4 426.9,79.6 427.2,79.4 427.5,78.3 427.9,78.6 428.2,78.6 428.5,78 428.8,77.5 429.1,78.2 429.4,77.3 429.7,77.1 430.1,77 430.4,78.4 430.7,74.7 431,75.5 431.3,75.5 431.6,75.8 431.9,75.7 432.3,74.8 432.6,74.4 432.9,73.1 433.2,74 433.5,75.1 433.8,74.2 434.1,72.9 434.5,73.8 434.8,73.6 435.1,73.8 435.4,72.8 435.7,72.8 436,71.9 436.3,72.4 436.7,74.9 437,71.8 437.3,73.1 437.6,73.8 437.9,73.7 438.2,73.1 438.5,74.7 438.9,74.1 439.2,74 439.5,73.3 439.8,74.8 440.1,74.3 440.4,74.7 440.7,75.7 441.1,76.4 441.4,76.8 441.7,75.7 442,77.2 442.3,77.7 442.6,77.9 442.9,77.4 443.3,76.9 443.6,77.1 443.9,78.2 444.2,76.8 444.5,78.5 444.8,78 445.2,78.1 445.5,77.3 445.8,78.5 446.1,78.8 446.4,79.9 446.7,80.5 447,79.5 447.4,78.9 447.7,79.2 448,80.1 448.3,79.8 448.6,81.1 448.9,82.7 449.2,81.9 449.6,81.8 449.9,83.1 450.2,83.3 450.5,84.4 450.8,86.4 451.1,85.2 451.4,83.6 451.8,85.3 452.1,85.4 452.4,83.8 452.7,84 453,83.8 453.3,84.1 453.6,84.2 454,84.5 454.3,84.5 454.6,84.9 454.9,85.3 455.2,85.6 455.5,83.9 455.8,85.8 456.2,85.9 456.5,86 456.8,88 457.1,87.1 457.4,86.9 457.7,89 458,87.9 458.4,87.7 458.7,87.6 459,88 459.3,87.2 459.6,85.2 459.9,86.5 460.2,86.2 460.6,86.2 460.9,86.5 461.2,86.8 461.5,85.3 461.8,86 462.1,88.3 462.4,86.4 462.8,85.9 463.1,87.2 463.4,88.2 463.7,87.2 464,89.1 464.3,88.1 464.6,87.7 465,89.8 465.3,90.5 465.6,89.9 465.9,91.5 466.2,91.2 466.5,94.1 466.9,91 467.2,92.5 467.5,91.7 467.8,91.4 468.1,92.6 468.4,92.7 468.7,92.8 469.1,92.3 469.4,91.5 469.7,91.4 470,92.5 470.3,92.3 470.6,93.2 470.9,92 471.3,92.8 471.6,93.2 471.9,91.8 472.2,90.6 472.5,90.8 472.8,91 473.1,93.2 473.5,91.7 473.8,93.8 474.1,93.1 474.4,93.7 474.7,93.7 475,93.2 475.3,93 475.7,93.7 476,93.8 476.3,93.3 476.6,93.7 476.9,95.6 477.2,94.8 477.5,98.1 477.9,97.8 478.2,98.8 478.5,99.2 478.8,98.7 479.1,99.5 479.4,97.2 479.7,99.7 480.1,98.4 480.4,99.6 480.7,99.4 481,97.3 481.3,98.7 481.6,99.9 481.9,100.7 482.3,99 482.6,99.1 482.9,97.3 483.2,100 483.5,99.5 483.8,97.9 484.1,97.6 484.5,96.1 484.8,97.9 485.1,99.6 485.4,97.4 485.7,97.7 486,97 486.3,95 486.7,97.2 487,94.7 487.3,95.3 487.6,95 487.9,95.6 488.2,94.9 488.6,94.4 488.9,93.9 489.2,93.5 489.5,95 489.8,95.2 490.1,95.5 490.4,96.2 490.8,97.3 491.1,97 491.4,98.1 491.7,98 492,100.4 492.3,101.3 492.6,103.6 493,101.9 493.3,102.4 493.6,103.1 493.9,102.3 494.2,102.5 494.5,103.7 494.8,102.1 495.2,101.4 495.5,100.7 495.8,102.6 496.1,102.4 496.4,101.3 496.7,101.5 497,103.1 497.4,103.5 497.7,103 498,104.3 498.3,104.6 498.6,103.4 498.9,104.8 499.2,104.5 499.6,103.1 499.9,101.7 500.2,102 500.5,102.6 500.8,102.7 501.1,98.4 501.4,101.7 501.8,98.1 502.1,99 502.4,98.8 502.7,98.3 503,97.6 503.3,95.8 503.6,96.8 504,95.3 504.3,93.2 504.6,97.6 504.9,94.3 505.2,95 505.5,92.4 505.8,93.2 506.2,93.2 506.5,92.7 506.8,90.6 507.1,90.6 507.4,91.7 507.7,91.1 508.1,92.1 508.4,94.1 508.7,94.2 509,95.3 509.3,96 509.6,97.7 509.9,97.1 510.3,96.7 510.6,98.1 510.9,95.9 511.2,96.3 511.5,96.4 511.8,94.1 512.1,93.9 512.5,92.7 512.8,93.3 513.1,93.7 513.4,91.3 513.7,90.9 514,90.2 514.3,88.8 514.7,88.6 515,91.2 515.3,92.2 515.6,91.3 515.9,90.2 516.2,91.8 516.5,90.9 516.9,92.9 517.2,92.3 517.5,93.3 517.8,93.5 518.1,93.7 518.4,94.1 518.7,94.1 519.1,95.2 519.4,93.6 519.7,94.5 520,93.6 520.3,94.1 520.6,94.4 520.9,92.6 521.3,92.7 521.6,92.8 521.9,94 522.2,94.2 522.5,93.7 522.8,92.8 523.1,94.2 523.5,91.7 523.8,94.5 524.1,92.8 524.4,91.1 524.7,95.2 525,94.9 525.3,92.7 525.7,93.2 526,92.9 526.3,93.3 526.6,91.2 526.9,91.8 527.2,92.4 527.5,91.7 527.9,92.2 528.2,90.7 528.5,92.5 528.8,89.3 529.1,91.6 529.4,90.5 529.8,91.9 530.1,94.5 530.4,93.8 530.7,95.9 531,96.2 531.3,96.2 531.6,97.2 532,97.3 532.3,96.5 532.6,96.8 532.9,96.2 533.2,95.1 533.5,94.5 533.8,94.3 534.2,94.2 534.5,94.5 534.8,95.6 535.1,94.7 535.4,94.8 535.7,95.5 536,95.3 536.4,95.7 536.7,96.6 537,97.1 537.3,98.3 537.6,99.4 537.9,97.9 538.2,97.7 538.6,96.4 538.9,98.4 539.2,96.9 539.5,97.3 539.8,96.3 540.1,96.5 540.4,95.2 540.8,96 541.1,97.3 541.4,93.9 541.7,95.8 542,96.4 542.3,95.7 542.6,95.7 543,96.1 543.3,94.3 543.6,95.7 543.9,95 544.2,95.6 544.5,96.2 544.8,97.5 545.2,97.8 545.5,99 545.8,97.9 546.1,100.7 546.4,100.1 546.7,99.4 547,98.2 547.4,98.4 547.7,98.7 548,98.8 548.3,96.8 548.6,98.8 548.9,100.6 549.2,95.6 549.6,99.1 549.9,98.4 550.2,98.8 550.5,100.1 550.8,98.5 551.1,100.3 551.5,100.9 551.8,100.1 552.1,99.6 552.4,99.4 552.7,99.3 553,100.6 553.3,98.2 553.7,99.4 554,98.4 554.3,98.8 554.6,97.9 554.9,96.6 555.2,99.3 555.5,98.9 555.9,99.9 556.2,101.7 556.5,100.4 556.8,100.6 557.1,102.9 557.4,102.3 557.7,103.9 558.1,103.6 558.4,102.8 558.7,103.6 559,105 559.3,105.2 559.6,105.2 559.9,105.2 560.3,106.1 560.6,106.5 560.9,108.8 561.2,108.3 561.5,108.1 561.8,109.2 562.1,111.1 562.5,110.8 562.8,109.8 563.1,108.6 563.4,108.9 563.7,107.7 564,106.8 564.3,108.4 564.7,107.2 565,107.3 565.3,107.8 565.6,106.8 565.9,106 566.2,107.7 566.5,106.5 566.9,106.2 567.2,107.5 567.5,107.5 567.8,107 568.1,107.9 568.4,108.6 568.7,108 569.1,110.3 569.4,111 569.7,111.1 570,111.6 570.3,112.9 570.6,114.2 570.9,115.6 571.3,113.4 571.6,114.6 571.9,112.2 572.2,112.2 572.5,112.6 572.8,110.5 573.2,109.7 573.5,110.7 573.8,109.3 574.1,108.5 574.4,109 574.7,109.5 575,106.4 575.4,107.3 575.7,107.3 576,107.1 576.3,107 576.6,107.4 576.9,108.7 577.2,107.4 577.6,108.4 577.9,109.4 578.2,108.5 578.5,108.8 578.8,110.5 579.1,110.3 579.4,109.5 579.8,110.6 580.1,110.3 580.4,111.9 580.7,112.1 581,110.2 581.3,110.3 581.6,111.3 582,109 582.3,108.6 582.6,107.5 582.9,107.1 583.2,106.6 583.5,108.4 583.8,106.2 584.2,106 584.5,105.4 584.8,105.5 585.1,105.7 585.4,104.9 585.7,106.3 586,105.5 586.4,106.6 586.7,106 587,106.9 587.3,105.5 587.6,106.9 587.9,106.7 588.2,107.4 588.6,105.9 588.9,108.3 589.2,106.9 589.5,107 589.8,106.6 590.1,105.8 590.4,105.8 590.8,104.3 591.1,104 591.4,105.6 591.7,105 592,104.8 592.3,105.3 592.6,105.5 593,106.5 593.3,107.9 593.6,106.8 593.9,108.6 594.2,108.3 594.5,107.4 594.9,109.5 595.2,108.5 595.5,108.6 595.8,109.9 596.1,110.4 596.4,108.3 596.7,105.4 597.1,103 597.4,99.8 597.7,102.1 598,120.2 598.3,122.9 598.6,117.2 598.9,117.7 599.3,116.6 599.6,116.7 599.9,116.9 600.2,117.2 600.5,117.2 600.8,117.4 601.1,116.8 601.5,117.4 601.8,117.3 602.1,117.3 602.4,117.5 602.7,116.9 603,117.7 603.3,117.5 603.7,117 604,117.2 604.3,117.6 604.6,116.9 604.9,117.1 605.2,116.7 605.5,116.4 605.9,116.2 606.2,116.3 606.5,116.6 606.8,116.4 607.1,115.8 607.4,116.2 607.7,115.8 608.1,115.6 608.4,115.8 608.7,115.3 609,115.1 609.3,115.8 609.6,114.8 609.9,115.4 610.3,114.8 610.6,115.2 610.9,115.3 611.2,115.3 611.5,114.8 611.8,115.5 612.1,115.6 612.5,115.4 612.8,115.8 613.1,116.2 613.4,115.7 613.7,116.1 614,115.8 614.3,116.3 614.7,116.5 615,117.1 615.3,116.7 615.6,116.5 615.9,116.8 616.2,116.1 616.6,116.7 616.9,116.2 617.2,116.2 617.5,116.7 617.8,116.5 618.1,116.8 618.4,116 618.8,116.5 619.1,116.2 619.4,116.3 619.7,115.8 620,116.7 620.3,116.5 620.6,116.2 621,116.1 621.3,116.3 621.6,117 621.9,116.6 622.2,116.6 622.5,116.9 622.8,116.8 623.2,116.9 623.5,117.1 623.8,117 624.1,117.2 624.4,116.7 624.7,117.1 625,117 625.4,117.2 625.7,117.2 626,117.3 626.3,117.6 626.6,118.3 626.9,118.1 627.2,118.2 627.6,119 627.9,119.4 628.2,119.3 628.5,119.7 628.8,119.7 629.1,120 629.4,120.4 629.8,120.3 630.1,120.1 630.4,120 630.7,119.6 631,120.1 631.3,120.2 631.6,120.3 632,120.6 632.3,120.2 632.6,120.3 632.9,119.7 633.2,120.5 633.5,120.6 633.8,121 634.2,121 634.5,121.1 634.8,121.6 635.1,121.1 635.4,121.7 635.7,122 636,121.7 636.4,121.7 636.7,122.4 637,122.5 637.3,122.6 637.6,122.5 637.9,122 638.3,122.3 638.6,122.4 638.9,121.9 639.2,121.8 639.5,121.5 639.8,122 640.1,122.3 640.5,121.2 640.8,121.8 641.1,121.8 641.4,121.3 641.7,121.3 642,121 642.3,121 642.7,121.2 643,121.3 643.3,121.1 643.6,121.2 643.9,121 644.2,120.5 644.5,121.2 644.9,121.1 645.2,120.4 645.5,121.1 645.8,120.6 646.1,120.4 646.4,120.9 646.7,119.5 647.1,119.7 647.4,120.3 647.7,120 648,119.9 648.3,120.7 648.6,120.5 648.9,120.1 649.3,120.4 649.6,120.9 649.9,121.3 650.2,120.3 650.5,121 650.8,120.9 651.1,120.6 651.5,121.2 651.8,120.8 652.1,121.1 652.4,121.7 652.7,121.3 653,121.4 653.3,121.3 653.7,121.2 654,121.3 654.3,120.7 654.6,120.9 654.9,121.2 655.2,120.7 655.5,120.8 655.9,121.3 656.2,121.3 656.5,120.7 656.8,120.6 657.1,121 657.4,120.9 657.7,120.7 658.1,121 658.4,121 658.7,120.9 659,121.7 659.3,121.3 659.6,121.1 660,121.2 660.3,121.7 660.6,121.1 660.9,120.4 661.2,120.6 661.5,120.3 661.8,120 662.2,120.1 662.5,119.9 662.8,119.7 663.1,119.4 663.4,119.6 663.7,118.8 664,119.3 664.4,119 664.7,118.9 665,118.1 665.3,119.1 665.6,118 665.9,118.1 666.2,118.5 666.6,118 666.9,117.9 667.2,117.3 667.5,117.7 667.8,117.7 668.1,117.7 668.4,117.3 668.8,117.4 669.1,117.3 669.4,116.8 669.7,116.7 670,117.4 670.3,116.4 670.6,116.9 671,116.4 671.3,116.9 671.6,116.2 671.9,116.6 672.2,116.5 672.5,116.4 672.8,116.5 673.2,116.2 673.5,116.4 673.8,116.3 674.1,116.6 674.4,116.4 674.7,116 675,116.3 675.4,116.4 675.7,116.2 676,116.7 676.3,116.4 676.6,116.4 676.9,115.8 677.2,115.8 677.6,116.1 677.9,115.3 678.2,115.7 678.5,115.5 678.8,115.3 679.1,115.3 679.4,114.9 679.8,115.2 680.1,114.6 680.4,114.5 680.7,115.2 681,114.4 681.3,113.9 681.7,114.7 682,114 682.3,113.1 682.6,114 682.9,114.2 683.2,113.9 683.5,114.1 683.9,113.5 684.2,113.6 684.5,113 684.8,113.2 685.1,113.5 685.4,113.1 685.7,112.9 686.1,112.2 686.4,112.6 686.7,112.2 687,112.7 687.3,112.2 687.6,112.4 687.9,111.9 688.3,112.7 688.6,111.7 688.9,112.1 689.2,112.9 689.5,112.3 689.8,112.1 690.1,112.5 690.5,112.5 690.8,112.3 691.1,111.4 691.4,111.9 691.7,111.1 692,112.1 692.3,111.5 692.7,111.2 693,111.4 693.3,111.2 693.6,110.6 693.9,111.3 694.2,110.7 694.5,110.2 694.9,111.2 695.2,111.2 695.5,111.1 695.8,110.9 696.1,110.5 696.4,111 696.7,111.3 697.1,111 697.4,111.2 697.7,110.5 698,111.1 698.3,111.1 698.6,110.5 698.9,110.5 699.3,110.9 699.6,111.2 699.9,111.4 700.2,111.3 700.5,111.5 700.8,111.6 701.1,111.7 701.5,112 701.8,112 702.1,112 702.4,112.1 702.7,111.8 703,112.2 703.4,111.8 703.7,112.5 704,112 704.3,112.1 704.6,111.8 704.9,111.9 705.2,112 705.6,112 705.9,111.8 706.2,111.6 706.5,112 706.8,112.1 707.1,112.2 707.4,112.5 707.8,112 708.1,111.6 708.4,112.2 708.7,111.7 709,111.9 709.3,112.6 709.6,112.5 710,112.2 710.3,112.2 710.6,112.2 710.9,111.6 711.2,112.2 711.5,111.9 711.8,112.4 712.2,111.5 712.5,112 712.8,111.4 713.1,111.8 713.4,111.1 713.7,111.5 714,111.1 714.4,110.9 714.7,111.2 715,111.4 715.3,111.4 715.6,111.8 715.9,111.6 716.2,110.6 716.6,111.3 716.9,110.8 717.2,111.4 717.5,111.7 717.8,111.1 718.1,111.2 718.4,111.5 718.8,111.3 719.1,111.7 719.4,111.2 719.7,111.2 720,111.4 720.3,110.6 720.6,110.6 721,110.2 721.3,110.5 721.6,110.6 721.9,110.5 722.2,110 722.5,109.6 722.8,109.5 723.2,109.1 723.5,109.4 723.8,109.6 724.1,108.4 724.4,108.3 724.7,109.2 725.1,108.1 725.4,108.5 725.7,107.9 726,108.4 726.3,108.2 726.6,107.9 726.9,108 727.3,107.6 727.6,107.6 727.9,107.9 728.2,107.5 728.5,106.9 728.8,106.7 729.1,106.8 729.5,106.6 729.8,106.6 730.1,106.3 730.4,106.5 730.7,106.4 731,106.5 731.3,106.4 731.7,106.6 732,106.1 732.3,107 732.6,106.7 732.9,106.7 733.2,106.8 733.5,107 733.9,106.9 734.2,106.8 734.5,106.7 734.8,106.3 735.1,106.9 735.4,106.7 735.7,106.8 736.1,107.6 736.4,106.4 736.7,107 737,107.4 737.3,107.3 737.6,107.4 737.9,106.7 738.3,106.8 738.6,107.3 738.9,107.1 739.2,107.7 739.5,107.2 739.8,107.2 740.1,107.3 740.5,107.1 740.8,107.2 741.1,106.9 741.4,107.1 741.7,107 742,107.2 742.3,106.7 742.7,106.7 743,107.4 743.3,107.4 743.6,107.1 743.9,107.4 744.2,107.2 744.5,108.2 744.9,107.1 745.2,108.2 745.5,107.5 745.8,107.9 746.1,107.8 746.4,107.8 746.8,108.4 747.1,108.5 747.4,108.4 747.7,108.4 748,109.5 748.3,109.4 748.6,109.2 749,109.3 749.3,109.7 749.6,109.8 749.9,110.3 750.2,109.9 750.5,110.3 750.8,110.3 751.2,111.2 751.5,111.5 751.8,111.2 752.1,111.6 752.4,112.1 752.7,111.8 753,111.8 753.4,112.6 753.7,112.7 754,112.7 754.3,113.4 754.6,113.3 754.9,112.6 755.2,113.2 755.6,113 755.9,113.5 756.2,112.9 756.5,112.8 756.8,112.9 757.1,112.8 757.4,112.2 757.8,112.6 758.1,112.4 758.4,112.9 758.7,113.1 759,112 759.3,112 759.6,112 760,112.1 760.3,112 760.6,112.2 760.9,112.5 761.2,111.7 761.5,111.6 761.8,111.5 762.2,112.4 762.5,112.4 762.8,111.5 763.1,111.6 763.4,112.2 763.7,112.5 764,112.6 764.4,112.4 764.7,112.6 765,112.5 765.3,112.3 765.6,113.1 765.9,112.6 766.2,112.4 766.6,112.6 766.9,112.4 767.2,112.8 767.5,113.2 767.8,112.5 768.1,113.3 768.5,113.6 768.8,113.1 769.1,112.7 769.4,112.8 769.7,113 770,112.7 770.3,112.8 770.7,113.1 771,113.2 771.3,113.4 771.6,112.9 771.9,113.9 772.2,113.7 772.5,113.6 772.9,113.2 773.2,114 773.5,113.4 773.8,114.1 774.1,113.9 774.4,113.3 774.7,113.5 775.1,114.1 775.4,113.9 775.7,113.5 776,113.5 776.3,113.5 776.6,113.2 776.9,113.3 777.3,113.2 777.6,113.2 777.9,113.4 778.2,113 778.5,113.5 778.8,113.2 779.1,113.5 779.5,113.6 779.8,113.8 780.1,113.6 780.4,113.7 780.7,113.5 781,113.8 781.3,113.4 781.7,113.7 782,114.1 782.3,113.9 782.6,114.1 782.9,113.7 783.2,114.4 783.5,113.8 783.9,114 784.2,113.9 784.5,114.1 784.8,113.7 785.1,113.5 785.4,113.4 785.7,114 786.1,113.8 786.4,114.5 786.7,114.9 787,113.9 787.3,114.3 787.6,114.9 787.9,115.3 788.3,115.2 788.6,115.3 788.9,115.5 789.2,115.5 789.5,115.9 789.8,115.6 790.2,115 790.5,115.2 790.8,115.4 791.1,115.1 791.4,115.3 791.7,115.2 792,115.2 792.4,115.6 792.7,115.3 793,115 793.3,115.1 793.6,115.3 793.9,115.9 794.2,115.3 794.6,115.7 794.9,115.3 795.2,114.5 795.5,115.2 795.8,114.8 796.1,114.7 796.4,114.7 796.8,115.5 797.1,114.5 797.4,114.8 797.7,115.3 798,115.2 798.3,114.5 798.6,114.9 799,114.8 799.3,114.9 799.6,115.2 799.9,114.8 800.2,114.9 800.5,115.4 800.8,114.4 801.2,114.9 801.5,115.1 801.8,114.5 802.1,114.7 802.4,114.4 802.7,114.9 803,114.6 803.4,115 803.7,115 804,114.7 804.3,114.5 804.6,114.7 804.9,114.6 805.2,114.2 805.6,114.9 805.9,114.7 806.2,114.9 806.5,114.3 806.8,115 807.1,115.4 807.4,115 807.8,114.4 808.1,114.9 808.4,114.9 808.7,115 809,114.9 809.3,115.1 809.7,114.9 810,115.2 810.3,115 810.6,115.3 810.9,115.6 811.2,115.2 811.5,115.6 811.9,115.2 812.2,115.4 812.5,115.5 812.8,116.1 813.1,115.5 813.4,116.1 813.7,115.3 814.1,115.7 814.4,116.1 814.7,116 815,115.5 815.3,115.4 815.6,116 815.9,115.4 816.3,116 816.6,115.6 816.9,115.8 817.2,116.5 817.5,116.3 817.8,116.1 818.1,115.4 818.5,116 818.8,115.9 819.1,115.9 819.4,116.4 819.7,115.5 820,116.1 820.3,116.1 820.7,115.9 821,116.7 821.3,115.8 821.6,116.2 821.9,116.2 822.2,115.5 822.5,115.7 822.9,115.9 823.2,116.4 823.5,116.5 823.8,116.4 824.1,116.3 824.4,115.5 824.7,116.2 825.1,116 825.4,116.5 825.7,116.6 826,116.9 826.3,116.5 826.6,116.6 826.9,116 827.3,116.4 827.6,116 827.9,116.7 828.2,116.1 828.5,116.4 828.8,116.3 829.1,116.4 829.5,116.7 829.8,116.4 830.1,116.6 830.4,116.3 830.7,117 831,116.4 831.4,116.9 831.7,117.2 832,115.8 832.3,116.3 832.6,116.5 832.9,116.9 833.2,116.4 833.6,116.7 833.9,116.3 834.2,116.7 834.5,116.1 834.8,116.7 835.1,115.5 835.4,115.8 835.8,116.9 836.1,116.4 836.4,116 836.7,116.9 837,116.5 837.3,116.5 837.6,116 838,116.3 838.3,116.2 838.6,115.5 838.9,116.1 839.2,115.8 839.5,116.2 839.8,116.1 840.2,115.4 840.5,115.4 840.8,115.6 841.1,115.7 841.4,115.3 841.7,115.4 842,115.6 842.4,115.6 842.7,115.8 843,115.6 843.3,115.3 843.6,115 843.9,115.9 844.2,115.5 844.6,115.6 844.9,115.6 845.2,115.3 845.5,115.6 845.8,115 846.1,115.8 846.4,115.7 846.8,116.6 847.1,116.2 847.4,116.1 847.7,116.2 848,116.5 848.3,116.1 848.6,116.3 849,116.3 849.3,117.3 849.6,116.6 849.9,116 850.2,116.8 850.5,117.4 850.8,116.3 851.2,117.6 851.5,116.6 851.8,116.9 852.1,116.4 852.4,116.5 852.7,116.2 853.1,116.3 853.4,115.9 853.7,116.9 854,116.3 854.3,116.9 854.6,117 854.9,116.8 855.3,117.1 855.6,117.1 855.9,117.1 856.2,117.4 856.5,117.4 856.8,117.2 857.1,117.2 857.5,117.5 857.8,117.8 858.1,118.2 858.4,118.2 858.7,117.9 859,118.1 859.3,117.8 859.7,118.1 860,117.8 860.3,117.9 860.6,117.7 860.9,117.8 861.2,118.4 861.5,117.4 861.9,117.8 862.2,117.6 862.5,118.2 862.8,118.5 863.1,117.8 863.4,117.1 863.7,118.2 864.1,118.2 864.4,117.5 864.7,118 865,118.1 865.3,117.4 865.6,118.4 865.9,118.3 866.3,118.2 866.6,117.7 866.9,117.7 867.2,117.7 867.5,118 867.8,117.5 868.1,118.2 868.5,117.8 868.8,116.9 869.1,118.1 869.4,117.5 869.7,117.2 870,117.5 870.3,116.9 870.7,117.6 871,116.8 871.3,117.4 871.6,118.2 871.9,118.2 872.2,117.8 872.5,117.6 872.9,118.3 873.2,118 873.5,118.2 873.8,118.4 874.1,117.8 874.4,118.4 874.8,117.4 875.1,118.5 875.4,117.5 875.7,117.8 876,117.8 876.3,118.2 876.6,118.1 877,118 877.3,118 877.6,118 877.9,117.8 878.2,117 878.5,116.8 878.8,116.6 879.2,117.2 879.5,117 879.8,116.9 880.1,116.9 880.4,116.7 880.7,116.4 881,116.3 881.4,116.1 881.7,117.1 882,116.9 882.3,116.2 882.6,116.5 882.9,116.7 883.2,117 883.6,116.3 883.9,116.6 884.2,116.8 884.5,115.9 884.8,116.2 885.1,116.4 885.4,116.2 885.8,117.1 886.1,116.7 886.4,116.5 886.7,116.1 887,116.7 887.3,116.6 887.6,116.3 888,116.3 888.3,116 888.6,116.5 888.9,116.9 889.2,117.1 889.5,117 889.8,117.2 890.2,116.9 890.5,117 890.8,117.6 891.1,117.5 891.4,117.2 891.7,117.7 892,117.9 892.4,117.9 892.7,117.8 893,117.7 893.3,118 893.6,118.5 893.9,118.1 894.2,117.9 894.6,118.3 894.9,117.9 895.2,118.5 895.5,118.4 895.8,118.9 896.1,118.7 896.5,119 896.8,119.5 897.1,118.6 897.4,118.1 897.7,118.2 898,117.6 898.3,117.4 898.7,116.8 899,116.8 899.3,116.3 899.6,115.3 899.9,115.5 900.2,115.4 900.5,115.3 900.9,114.4 901.2,114.4 901.5,115.5 901.8,115.4 902.1,116.1 902.4,116.7 902.7,117.2 903.1,117.5 903.4,117.6 903.7,118.7 904,118.8 904.3,119.1 904.6,119.9 904.9,119.5 905.3,118.9 905.6,119.1 905.9,119.2 906.2,119 906.5,118.6 906.8,119.5 907.1,119.5 907.5,119.3 907.8,119.1 908.1,119.3 908.4,119.4 908.7,118.9 909,119.1 909.3,119.1 909.7,119.5 910,119.3 910.3,118.8 910.6,119 910.9,119.8 911.2,118.9 911.5,119.3 911.9,119 912.2,119.6 912.5,119.2 912.8,119 913.1,118.7 913.4,118.9 913.7,119.2 914.1,119.1 914.4,118.4 914.7,119.2 915,118.6 915.3,118.3 915.6,118.6 915.9,118.3 916.3,118.3 916.6,118.1 916.9,118.2 917.2,117.9 917.5,117.4 917.8,118 918.2,117.5 918.5,118 918.8,117.6 919.1,117.5 919.4,117.3 919.7,117.5 920,116.9 920.4,116.5 920.7,116.8 921,115.8 921.3,116.4 921.6,116.5 921.9,116.2 922.2,116.6 922.6,116.4 922.9,116.1 923.2,115.8 923.5,116.2 923.8,115.6 924.1,115.6 924.4,115.8 924.8,115.8 925.1,116.2 925.4,115.4 925.7,114.9 926,115.6 926.3,115.8 926.6,115.3 927,115.8 927.3,115.9 927.6,115.1 927.9,115.1 928.2,114.8 928.5,115.3 928.8,115.1 929.2,114.8 929.5,114 929.8,113.9 930.1,113.4 930.4,113.1 930.7,113 931,112.6 931.4,112.8 931.7,112.8 932,112.6 932.3,112.1 932.6,111.7 932.9,111.9 933.2,112.1 933.6,111.8 933.9,111.8 934.2,111.7 934.5,111.6 934.8,111.7 935.1,111.4 935.4,112 935.8,111.2 936.1,111.7 936.4,111.2 936.7,112 937,111.8 937.3,111.2 937.6,111.3 938,111.1 938.3,111.4 938.6,111.5 938.9,112.1 939.2,110.9 939.5,111.6 939.9,111 940.2,111.3 940.5,111.4 940.8,111.3 941.1,111.3 941.4,111.2 941.7,111.3 942.1,111.3 942.4,111.7 942.7,110.9 943,111.2 943.3,111 943.6,111.2 943.9,111.2 944.3,111.9 944.6,112.2 944.9,112 945.2,111.3 945.5,111.7 945.8,111.3 946.1,111.8 946.5,112.1 946.8,112 947.1,112.1 947.4,111.8 947.7,111.3 948,111.3 948.3,111.9 948.7,112.1 949,112.4 949.3,111.9 949.6,112 949.9,112 950.2,112.3 950.5,111.9 950.9,111.6 951.2,112.3 951.5,112.1 951.8,112.1 952.1,111.6 952.4,112 952.7,111.4 953.1,111.3 953.4,111.8 953.7,111.6 954,111.9 954.3,112.1 954.6,111.6 954.9,112.1 955.3,111.3 955.6,111.6 955.9,110.9 956.2,111.3 956.5,111.1 956.8,111.1 957.1,111.3 957.5,110.5 957.8,111.1 958.1,110.8 958.4,111 958.7,111.1 959,110.8 959.3,110.8 959.7,110.5 960,111 960.3,110.6 960.6,110.9 960.9,110.2 961.2,110.9 961.6,110 961.9,110.5 962.2,109.8 962.5,109.9 962.8,109.5 963.1,109.6 963.4,109.2 963.8,109.4 964.1,109 964.4,108.8 964.7,108.9 965,108.1 965.3,108.7 965.6,108.3 966,107.8 966.3,108.3 966.6,108.1 966.9,108.6 967.2,107.9 967.5,108.1 967.8,108.1 968.2,107.4 968.5,108.1 968.8,107.6 969.1,108.4 969.4,108.6 969.7,108.2 970,107.8 970.4,108.4 970.7,108.5 971,108.8 971.3,108.6 971.6,108.4 971.9,108.8 972.2,108.7 972.6,109.6 972.9,108.9 973.2,109 973.5,109.2 973.8,108.9 974.1,109.1 974.4,109.3 974.8,109.2 975.1,109.3 975.4,109.7 975.7,109.4 976,108.8 976.3,109 976.6,109.3 977,108.8 977.3,109 977.6,108.9 977.9,109 978.2,108.7 978.5,108.6 978.8,108.4 979.2,108.7 979.5,108.5 979.8,109.4 980.1,109 980.4,109.1 980.7,109.5 981,109.4 981.4,109.5 981.7,109.6 982,109.5 982.3,109.6 982.6,109.8 982.9,110.5 983.3,110.1 983.6,110.3 983.9,110.4 984.2,110.9 984.5,111.4 984.8,110.6 985.1,111.2 985.5,111.2 985.8,111.2 986.1,111.6 986.4,111.1 986.7,111.9 987,111.8 987.3,111.4 987.7,112.1 988,111.7 988.3,111.7 988.6,110.8 988.9,111 989.2,110.8 989.5,111 989.9,111.1 990.2,110 990.5,110.5 990.8,110.3 991.1,110.5 991.4,110.1 991.7,109.6 992.1,109.9 992.4,109.5 992.7,109.5 993,109.7 993.3,109.4 993.6,109.5 993.9,108.9 994.3,110 994.6,109.6 994.9,109.3 995.2,108.6 995.5,108.3 995.8,108.6 996.1,108.7 996.5,109.4 996.8,109.1 997.1,108.4 997.4,108.9 997.7,108.9 998,108.4 998.3,108.7 998.7,108.4 999,108 999.3,107.8 999.6,108.2 999.9,108.5 1000.2,107.9 1000.5,107.8 1000.9,108.5 1001.2,107.5 1001.5,109 1001.8,108.3 1002.1,108.7 1002.4,109.1 1002.7,108.1 1003.1,108.2 1003.4,109.3 1003.7,108.7 1004,108.8 1004.3,109.1 1004.6,109.4 1005,109.7 1005.3,109.4 1005.6,109.4 1005.9,109.6 1006.2,109.8 1006.5,110.3 1006.8,110 1007.2,110.7 1007.5,110 1007.8,110.5 1008.1,110.9 1008.4,110.8 1008.7,110.6 1009,110.3 1009.4,110.4 1009.7,110.6 1010,110.8 1010.3,110.7 1010.6,110.4 1010.9,110.7 1011.2,111.1 1011.6,111.3 1011.9,110.6 1012.2,110.9 1012.5,110.5 1012.8,110.8 1013.1,112.1 1013.4,111 1013.8,110.9 1014.1,110.8 1014.4,110.6 1014.7,110.4 1015,111 1015.3,110.9 1015.6,111.5 1016,110.6 1016.3,111.3 1016.6,111.7 1016.9,110.7 1017.2,111.6 1017.5,110.9 1017.8,111.7 1018.2,112 1018.5,111.6 1018.8,111.8 1019.1,111.5 1019.4,111.9 1019.7,112.2 1020,111.9 1020.4,112 1020.7,112.2 1021,112.4 1021.3,111.7 1021.6,112.3 1021.9,112.1 1022.2,112.5 1022.6,112.8 1022.9,112.6 1023.2,113 1023.5,112.3 1023.8,112.5 1024.1,112.2 1024.4,112.5 1024.8,112.5 1025.1,112.4 1025.4,112.1 1025.7,112.4 1026,112.2 1026.3,112.5 1026.7,112.2 1027,112.6 1027.3,112.3 1027.6,111.7 1027.9,112.2 1028.2,111.9 1028.5,112.7 1028.9,112.9 1029.2,112.5 1029.5,112.7 1029.8,112.2 1030.1,112 1030.4,112.6 1030.7,112.8 1031.1,112.5 1031.4,113 1031.7,113.1 1032,113.3 1032.3,113.6 1032.6,113.4 1032.9,113 1033.3,113.2 1033.6,113.4 1033.9,112.9 1034.2,113.7 1034.5,113.6 1034.8,113.3 1035.1,113.2 1035.5,114.6 1035.8,113.8 1036.1,113.9 1036.4,114.3 1036.7,114.2 1037,114.1 1037.3,114.3 1037.7,114 1038,114.6 1038.3,114 1038.6,114.8 1038.9,114.9 1039.2,114.4 1039.5,115.6 1039.9,114.7 1040.2,115.5 1040.5,115.1 1040.8,115.4 1041.1,115.1 1041.4,116.2 1041.7,115.8 1042.1,116.1 1042.4,115.8 1042.7,115.9 1043,115.8 1043.3,115.7 1043.6,116 1043.9,115.9 1044.3,115.7 1044.6,115.3 1044.9,115.6 1045.2,115.9 1045.5,115.5 1045.8,115.7 1046.1,115.6 1046.5,115.3 1046.8,115.3 1047.1,115.3 1047.4,115.4 1047.7,115.4 1048,115.7 1048.4,115 1048.7,114.6 1049,115.4 1049.3,115 1049.6,115 1049.9,115.8 1050.2,115.4 1050.6,115.1 1050.9,115.1 1051.2,114.8 1051.5,115 1051.8,114.4 1052.1,114.4 1052.4,114.4 1052.8,115 1053.1,115 1053.4,114.3 1053.7,114.8 1054,114.4 1054.3,114.7 1054.6,114.3 1055,114.6 1055.3,114.3 1055.6,114.2 1055.9,114.3 1056.2,114.4 1056.5,114.2 1056.8,114 1057.2,115 1057.5,114.5 1057.8,114.1 1058.1,114 1058.4,113.9 1058.7,114.6 1059,115.3 1059.4,114.5 1059.7,114.9 1060,114.6 1060.3,115.6 1060.6,115.5 1060.9,115.6 1061.2,116 1061.6,116.3 1061.9,116.2 1062.2,115.8 1062.5,115.7 1062.8,115.9 1063.1,115.8 1063.4,117.1 1063.8,116.6 1064.1,116.8 1064.4,116.9 1064.7,117.5 1065,116.8 1065.3,117.5 1065.6,117.3 1066,117.3 1066.3,116.8 1066.6,117.8 1066.9,117.4 1067.2,117.5 1067.5,117.8 1067.8,117.9 1068.2,118.2 1068.5,117.6 1068.8,117.9 1069.1,117.9 1069.4,117.8 1069.7,118 1070.1,117.7 1070.4,118.3 1070.7,117.8 1071,117.7 1071.3,118.3 1071.6,118.8 1071.9,118.4 1072.3,118.5 1072.6,118.7 1072.9,119 1073.2,119 1073.5,119.3 1073.8,118.8 1074.1,119.9 1074.5,119.9 1074.8,119.6 1075.1,120.6 1075.4,120.5 1075.7,121 1076,120.4 1076.3,121.5 1076.7,121.2 1077,120.8 1077.3,121.9 1077.6,121.8 1077.9,121.8 1078.2,122.1 1078.5,121.4 1078.9,122.1 1079.2,121.7 1079.5,121.6 1079.8,122 1080.1,121.4 1080.4,121.1 1080.7,120.9 1081.1,121 1081.4,121.2 1081.7,120.6 1082,120.3 1082.3,120.9 1082.6,120.7 1082.9,120.8 1083.3,121.5 1083.6,120.5 1083.9,121 1084.2,120.5 1084.5,121 1084.8,121.3 1085.1,121.6 1085.5,120.9 1085.8,121.6 1086.1,121.6 1086.4,121.5 1086.7,122.5 1087,121.9 1087.3,121.7 1087.7,122.3 1088,121.8 1088.3,123 1088.6,122.9 1088.9,122.7 1089.2,123.1 1089.6,123.3 1089.9,123.9 1090.2,123.2 1090.5,123.2 1090.8,123.1 1091.1,123.7 1091.4,123.5 1091.8,124 1092.1,124.3 1092.4,124.2 1092.7,124.1 1093,124.9 1093.3,124.6 1093.6,124.9 1094,125.2 1094.3,124.6 1094.6,124.7 1094.9,125.7 1095.2,124.8 1095.5,124.5 1095.8,124.7 1096.2,124.5 1096.5,124.2 1096.8,124.4 1097.1,124.5 1097.4,124.4 1097.7,124.5 1098,123.8 1098.4,123.8 1098.7,124.6 1099,124.4 1099.3,125 1099.6,124.9 1099.9,124.5 1100.2,125.2 1100.6,124.8 1100.9,125.4 1101.2,125.8 1101.5,126.2 1101.8,125.6 1102.1,126 1102.4,126 1102.8,126.2 1103.1,125.2 1103.4,126 1103.7,126.2 1104,126.3 1104.3,126 1104.6,126.6 1105,126.7 1105.3,126.5 1105.6,126.4 1105.9,126.5 1106.2,126.7 1106.5,127.1 1106.8,127.3 1107.2,126.8 1107.5,126.7 1107.8,126.9 1108.1,127.5 1108.4,127.4 1108.7,127.5 1109,127.6 1109.4,127.7 1109.7,127.6 1110,127.4 1110.3,127.7 1110.6,127.9 1110.9,127.9 1111.3,127.7 1111.6,127.6 1111.9,128.2 1112.2,127.6 1112.5,127.7 1112.8,127.5 1113.1,127.3 1113.5,127.1 1113.8,127.4 1114.1,127.3 1114.4,127.7 1114.7,127.1 1115,127.2 1115.3,127.5 1115.7,127.2 1116,127.3 1116.3,127.4 1116.6,126.5 1116.9,126.9 1117.2,126.6 1117.5,127.3 1117.9,126.8 1118.2,126.9 1118.5,127.2 1118.8,126.4 1119.1,126.3 1119.4,126.2 1119.7,125.8 1120.1,126.1 1120.4,125.8 1120.7,125.6 1121,125.2 1121.3,124.9 1121.6,124.7 1121.9,124.5 1122.3,123.9 1122.6,124.3 1122.9,124.3 1123.2,123.9 1123.5,123.6 1123.8,123.6 1124.1,123.5 1124.5,123.4 1124.8,123.7 1125.1,122.7 1125.4,122.9 1125.7,122.8 1126,122.5 1126.3,122.3 1126.7,121.9 1127,121.9 1127.3,122.2 1127.6,122.3 1127.9,121.6 1128.2,121.9 1128.5,121.8 1128.9,121.8 1129.2,121.5 1129.5,121.5 1129.8,121.5 1130.1,120.8 1130.4,121.1 1130.7,120.4 1131.1,120.3 1131.4,120.5 1131.7,120.2 1132,120.7 1132.3,120.8 1132.6,120.3 1133,120.3 1133.3,120.1 1133.6,120 1133.9,120.1 1134.2,120 1134.5,119.7 1134.8,119.6 1135.2,119.7 1135.5,120.1 1135.8,119.8 1136.1,120.3 1136.4,119.9 1136.7,120.4 1137,119.6 1137.4,119.8 1137.7,120.2 1138,120.2 1138.3,120.1 1138.6,120.8 1138.9,120.3 1139.2,120.4 1139.6,120.2 1139.9,120.9 1140.2,120.7 1140.5,120.7 1140.8,120.1 1141.1,120.8 1141.4,120.6 1141.8,120.9 1142.1,121.1 1142.4,120.7 1142.7,121 1143,121.2 1143.3,121 1143.6,120.9 1144,120.7 1144.3,120.9 1144.6,120.7 1144.9,121.4 1145.2,121.2 1145.5,120.8 1145.8,121.2 1146.2,120.8 1146.5,120.1 1146.8,121.3 1147.1,121.1 1147.4,120.1 1147.7,120.2 1148,120.3 1148.4,120 1148.7,119.7 1149,119.7 1149.3,119.6 1149.6,119.3 1149.9,119.4 1150.2,119.1 1150.6,118.9 1150.9,119.1 1151.2,118.5 1151.5,119.4 1151.8,118.4 1152.1,118.8 1152.4,118.9 1152.8,118.8 1153.1,118.7 1153.4,119 1153.7,118.2 1154,118.4 1154.3,118.4 1154.7,118.2 1155,118.1 1155.3,118.6 1155.6,118 1155.9,118 1156.2,118 1156.5,118 1156.9,118 1157.2,117.9 1157.5,118 1157.8,117.9 1158.1,117.9 1158.4,118.1 1158.7,117.4 1159.1,118.1 1159.4,117.6 1159.7,118 1160,117.9 1160.3,117.9 1160.6,117.4 1160.9,118.6 1161.3,118 1161.6,118 1161.9,118.7 1162.2,118.4 1162.5,119.1 1162.8,119.2 1163.1,119 1163.5,119 1163.8,119.3 1164.1,118.8 1164.4,119.4 1164.7,119.5 1165,119.4 1165.3,119.8 1165.7,119.4 1166,120.2 1166.3,120.4 1166.6,119.5 1166.9,119.8 1167.2,120.1 1167.5,119.7 1167.9,119.1 1168.2,119 1168.5,119.4 1168.8,119.6 1169.1,118.6 1169.4,118.8 1169.7,118.4 1170.1,118.4 1170.4,118.5 1170.7,118.3 1171,117.9 1171.3,118.6 1171.6,117.8 1171.9,117.7 1172.3,117.9 1172.6,117.5 1172.9,117.3 1173.2,117.5 1173.5,116.8 1173.8,117.2 1174.1,117.1 1174.5,116.9 1174.8,116.5 1175.1,116.4 1175.4,116 1175.7,116.7 1176,116.9 1176.4,117.3 1176.7,117.2 1177,117.2 1177.3,117.2 1177.6,117.6 1177.9,117.8 1178.2,118.3 1178.6,118.1 1178.9,118 1179.2,118.2 1179.5,118.1 1179.8,118.2 1180.1,117.7 1180.4,118 1180.8,118.1 1181.1,118.7 1181.4,118.6 1181.7,118.7 1182,119.1 1182.3,118.5 1182.6,119.2 1183,119.1 1183.3,118.8 1183.6,119.5 1183.9,118.7 1184.2,118.9 1184.5,119.2 1184.8,119.4 1185.2,119.3 1185.5,118.8 1185.8,119.4 1186.1,119.5 1186.4,120.4 1186.7,120.1 1187,119.9 1187.4,119.6 1187.7,120.1 1188,119.8 1188.3,120.3 1188.6,120.4 1188.9,120.3 1189.2,120.5 1189.6,120.5 1189.9,120.5 1190.2,121.2 1190.5,121 1190.8,120.8 1191.1,120.8 1191.4,121.1 1191.8,121.3 1192.1,121.4 1192.4,121.7 1192.7,121.4 1193,121 1193.3,122 1193.6,121.8 1194,121.8 1194.3,122 1194.6,121.2 1194.9,121.5 1195.2,121.4 1195.5,121.9 1195.8,121.2 1196.2,121.4 1196.5,121.9 1196.8,121.6 1197.1,121.3 1197.4,121.9 1197.7,120.9 1198.1,121.4 1198.4,121.2 1198.7,121.4 1199,121.1 1199.3,120.8 1199.6,121 1199.9,120.5 1200.3,120.9 1200.6,120.6 1200.9,120.8 1201.2,120.3 1201.5,120.2 1201.8,120.4 1202.1,120.6 1202.5,119.5 1202.8,120 1203.1,120.1 1203.4,119.4 1203.7,119.5 1204,119.8 1204.3,119.3 1204.7,119.2 1205,119.8 1205.3,119 1205.6,118.9 1205.9,118.4 1206.2,118.6 1206.5,118.5 1206.9,119.3 1207.2,119.2 1207.5,118.5 1207.8,119.4 1208.1,119.1 1208.4,118.8 1208.7,119.1 1209.1,118.9 1209.4,118.6 1209.7,118.3 1210,118.6 1210.3,118.8 1210.6,118.7 1210.9,118.6 1211.3,119.1 1211.6,118.4 1211.9,119 1212.2,118.5 1212.5,118.7 1212.8,118.3 1213.1,118.6 1213.5,118.3 1213.8,118 1214.1,118.5 1214.4,118.4 1214.7,118.7 1215,118.6 1215.3,118.2 1215.7,118.4 1216,117.9 1216.3,118.4 1216.6,119.2 1216.9,119.3 1217.2,119.2 1217.5,119.1 1217.9,119.2 1218.2,119.3 1218.5,118.7 1218.8,119 1219.1,119.6 1219.4,119.6 1219.8,119.4 1220.1,119.3 1220.4,119.3 1220.7,119.3 1221,119.2 1221.3,118.9 1221.6,119.6 1222,119.4 1222.3,119.5 1222.6,120.1 1222.9,119.8 1223.2,119.4 1223.5,119.8 1223.8,119.2 1224.2,119.9 1224.5,119.7 1224.8,119.6 1225.1,119.8 1225.4,120.1 1225.7,119.5 1226,119.3 1226.4,120.3 1226.7,119.6 1227,120.1 1227.3,119.4 1227.6,119.6 1227.9,119.3 1228.2,119.6 1228.6,119.3 1228.9,119.1 1229.2,119.7 1229.5,119.3"/>
<polyline clip-path="url(#c0)" fill="none" stroke="#000000" stroke-width="2.78" stroke-linejoin="round" stroke-linecap="square" points="66.5,85.8 66.8,86.1 67.1,85.4 67.4,84.7 67.8,84.8 68.1,84.2 68.4,84.8 68.7,85.6 69,83.9 69.3,83.5 69.6,84.2 70,84.3 70.3,84.4 70.6,83.8 70.9,84.7 71.2,85.5 71.5,84.1 71.8,85 72.2,84.1 72.5,84.9 72.8,85.3 73.1,87.5 73.4,87.5 73.7,89.6 74,90.4 74.4,91 74.7,89.6 75,91.3 75.3,91.8 75.6,92 75.9,90.9 76.2,91.8 76.6,91.7 76.9,92.5 77.2,94.8 77.5,94 77.8,95.4 78.1,96.8 78.5,96.4 78.8,97.5 79.1,98.2 79.4,98.5 79.7,97.8 80,99.1 80.3,100.5 80.7,98.2 81,99.8 81.3,98.9 81.6,98 81.9,99.8 82.2,98.5 82.5,96.6 82.9,97.3 83.2,98 83.5,98 83.8,99.4 84.1,99.4 84.4,100.6 84.7,101.9 85.1,100.5 85.4,100.7 85.7,99.7 86,99.7 86.3,98.1 86.6,98.1 86.9,97.9 87.3,98.4 87.6,98.2 87.9,95.9 88.2,96 88.5,96.8 88.8,94.3 89.1,95.1 89.5,95.1 89.8,95.8 90.1,95.4 90.4,94.8 90.7,94.9 91,95.2 91.3,96.8 91.7,95.4 92,95.7 92.3,96.4 92.6,96.2 92.9,96.7 93.2,96.6 93.5,98.1 93.9,98.4 94.2,100.3 94.5,100.5 94.8,100.6 95.1,101.9 95.4,102.1 95.7,104.2 96.1,104.3 96.4,105.8 96.7,105.3 97,107.6 97.3,106.2 97.6,105.8 97.9,107 98.3,106.4 98.6,107.2 98.9,108.7 99.2,106.1 99.5,106.1 99.8,106.6 100.2,106.6 100.5,105.8 100.8,105.5 101.1,106 101.4,105.6 101.7,104 102,104.5 102.4,104.4 102.7,103.2 103,104 103.3,102.7 103.6,103.7 103.9,102.6 104.2,102.1 104.6,101.1 104.9,101 105.2,99 105.5,99.2 105.8,99.9 106.1,97.5 106.4,99.4 106.8,97.1 107.1,98.9 107.4,97.3 107.7,98.4 108,97.7 108.3,96.1 108.6,98.1 109,98 109.3,96.6 109.6,96.2 109.9,96.1 110.2,95.4 110.5,96.9 110.8,95.5 111.2,95.8 111.5,95.1 111.8,95.1 112.1,94.4 112.4,95.5 112.7,93.6 113,93.6 113.4,92 113.7,90.6 114,90.1 114.3,89.1 114.6,89.3 114.9,89.4 115.2,89.9 115.6,89.4 115.9,90.3 116.2,92.7 116.5,91.3 116.8,91.4 117.1,92.7 117.4,93.7 117.8,91.6 118.1,92.7 118.4,92.6 118.7,91.8 119,94 119.3,93.5 119.6,93.7 120,93.2 120.3,94.4 120.6,93.8 120.9,94.3 121.2,93.8 121.5,93.9 121.9,96.1 122.2,94.9 122.5,95.7 122.8,95.2 123.1,94.5 123.4,94 123.7,94.6 124.1,93.4 124.4,93.1 124.7,92.9 125,93.4 125.3,92.6 125.6,92 125.9,90.9 126.3,90 126.6,91.7 126.9,91.4 127.2,90.3 127.5,90.6 127.8,90.6 128.1,90.4 128.5,90.2 128.8,88.9 129.1,90.3 129.4,88.3 129.7,90.1 130,90 130.3,90.4 130.7,91.4 131,91.2 131.3,89.3 131.6,89 131.9,91.2 132.2,89.9 132.5,90.3 132.9,90.5 133.2,88.1 133.5,87.3 133.8,88.8 134.1,88.2 134.4,87.6 134.7,87.5 135.1,86.8 135.4,86.3 135.7,87.3 136,86.7 136.3,86.1 136.6,87.9 136.9,87.4 137.3,87.8 137.6,86.7 137.9,86.9 138.2,87.3 138.5,88 138.8,89.5 139.1,89.4 139.5,90.9 139.8,91.5 140.1,93.5 140.4,91.1 140.7,92.7 141,91.6 141.3,91.4 141.7,90 142,90.5 142.3,91.2 142.6,90.3 142.9,90.1 143.2,89.8 143.6,91.5 143.9,91.1 144.2,89.9 144.5,91.7 144.8,91.2 145.1,90.7 145.4,93.4 145.8,95.4 146.1,94.7 146.4,93.5 146.7,93.4 147,94.9 147.3,93.8 147.6,93.5 148,93.2 148.3,93 148.6,93.4 148.9,93 149.2,92.5 149.5,91 149.8,91.9 150.2,90.5 150.5,91.5 150.8,89.2 151.1,89.7 151.4,89.4 151.7,88 152,90.4 152.4,90.1 152.7,88.4 153,89.4 153.3,89 153.6,86.5 153.9,88.7 154.2,88.4 154.6,88.4 154.9,87.4 155.2,88 155.5,88 155.8,89 156.1,88.2 156.4,87.9 156.8,89 157.1,87.3 157.4,87.3 157.7,86.1 158,88.7 158.3,88.1 158.6,88 159,87.7 159.3,87.1 159.6,87.1 159.9,86.6 160.2,86.6 160.5,86.9 160.8,88.1 161.2,87.3 161.5,86.9 161.8,86.5 162.1,86.5 162.4,88.3 162.7,87.5 163,87.2 163.4,86.9 163.7,86.2 164,87 164.3,87.7 164.6,86.7 164.9,86.8 165.3,86.8 165.6,87 165.9,85.6 166.2,86.7 166.5,86.1 166.8,87.5 167.1,86.1 167.5,87 167.8,87.4 168.1,85.6 168.4,85 168.7,85.2 169,84.7 169.3,83.5 169.7,84.3 170,85.4 170.3,83.5 170.6,83.5 170.9,82.7 171.2,83.7 171.5,82.3 171.9,82.3 172.2,84.1 172.5,81.9 172.8,83 173.1,82.9 173.4,81.5 173.7,81.2 174.1,81.9 174.4,79.7 174.7,79 175,78.1 175.3,79.9 175.6,81.6 175.9,81.8 176.3,81 176.6,81.7 176.9,82.6 177.2,83.6 177.5,83.5 177.8,84.2 178.1,84.5 178.5,84.4 178.8,84.9 179.1,85.4 179.4,85.4 179.7,85.3 180,85.9 180.3,84.3 180.7,83.2 181,81.3 181.3,82.4 181.6,79.9 181.9,80.1 182.2,82.1 182.5,82.3 182.9,81.9 183.2,80.9 183.5,82.2 183.8,82.2 184.1,83.5 184.4,85.2 184.7,83.9 185.1,83.5 185.4,83.6 185.7,84.9 186,85.2 186.3,84.8 186.6,86.2 187,85.6 187.3,87.8 187.6,88.1 187.9,88.2 188.2,87.2 188.5,88.1 188.8,87.7 189.2,87.7 189.5,87.9 189.8,87.3 190.1,87.3 190.4,89.3 190.7,88.6 191,88.3 191.4,88.3 191.7,85.4 192,85.6 192.3,85.7 192.6,85.3 192.9,84 193.2,84.7 193.6,83.8 193.9,82.5 194.2,82.5 194.5,83.6 194.8,83.2 195.1,81.1 195.4,83.5 195.8,83 196.1,83.9 196.4,82.8 196.7,83.2 197,82.9 197.3,86.1 197.6,84.3 198,86 198.3,83.7 198.6,83.7 198.9,81.7 199.2,82.2 199.5,82.7 199.8,80.3 200.2,82.2 200.5,82.1 200.8,81.5 201.1,82.5 201.4,83 201.7,83.8 202,83.9 202.4,84.2 202.7,85.1 203,85.1 203.3,85.5 203.6,87.1 203.9,88.5 204.2,87.2 204.6,89 204.9,89.2 205.2,89.5 205.5,91.5 205.8,91 206.1,93.1 206.4,91.8 206.8,93.2 207.1,93.3 207.4,93.4 207.7,94.9 208,94.2 208.3,94.7 208.7,94.1 209,93.1 209.3,93.8 209.6,93.8 209.9,94.4 210.2,92.8 210.5,93.1 210.9,91.5 211.2,93.1 211.5,91.4 211.8,90.5 212.1,91.5 212.4,92.2 212.7,89.6 213.1,89.5 213.4,89.3 213.7,88.5 214,89.3 214.3,87.8 214.6,87.4 214.9,88 215.3,86.5 215.6,86.9 215.9,85.6 216.2,85.5 216.5,85.1 216.8,88.2 217.1,86.6 217.5,87.1 217.8,87 218.1,87.3 218.4,87.6 218.7,89.7 219,87.9 219.3,88 219.7,89 220,89.3 220.3,91.5 220.6,92.1 220.9,91.2 221.2,91.4 221.5,92.5 221.9,93.9 222.2,90.6 222.5,93.2 222.8,92 223.1,93.6 223.4,91.9 223.7,92.6 224.1,91.6 224.4,92 224.7,93.9 225,93.5 225.3,92.5 225.6,92.1 225.9,91.3 226.3,92.5 226.6,92.8 226.9,92.7 227.2,92.7 227.5,91.9 227.8,92.8 228.2,92.9 228.5,94.2 228.8,94.8 229.1,93.3 229.4,93 229.7,93.7 230,93.4 230.4,93.5 230.7,94.3 231,93.8 231.3,95.4 231.6,95.1 231.9,95.6 232.2,95.5 232.6,95.3 232.9,95.1 233.2,95.2 233.5,94.5 233.8,94.7 234.1,94.1 234.4,92.6 234.8,93.4 235.1,91.8 235.4,92 235.7,91.8 236,90 236.3,91.3 236.6,90.9 237,90.2 237.3,89.6 237.6,89.3 237.9,88.9 238.2,89.5 238.5,89.4 238.8,90 239.2,89 239.5,90.3 239.8,90.3 240.1,90.1 240.4,89.9 240.7,90.8 241,89 241.4,90.6 241.7,90.4 242,90.3 242.3,90.3 242.6,89.4 242.9,89.6 243.2,90.3 243.6,90 243.9,89.8 244.2,88.6 244.5,90.5 244.8,91.3 245.1,91.5 245.4,91.2 245.8,90.1 246.1,92.4 246.4,91.8 246.7,89.6 247,91.5 247.3,89.6 247.6,89.3 248,89.5 248.3,90.6 248.6,88.8 248.9,89 249.2,90.2 249.5,90 249.9,88.7 250.2,88.6 250.5,87.8 250.8,88.2 251.1,89.1 251.4,89.1 251.7,88.9 252.1,89.6 252.4,88.2 252.7,88.7 253,89.3 253.3,88.8 253.6,88.9 253.9,88.1 254.3,87.2 254.6,87.5 254.9,86.1 255.2,85.3 255.5,86.9 255.8,86.2 256.1,86.2 256.5,84.4 256.8,85.3 257.1,84.9 257.4,84.5 257.7,83.6 258,85.4 258.3,86.6 258.7,86.5 259,85.9 259.3,86.7 259.6,87.6 259.9,85.1 260.2,87.8 260.5,89 260.9,89.7 261.2,91.2 261.5,91.3 261.8,91.3 262.1,91.9 262.4,92.8 262.7,92.2 263.1,93 263.4,94.2 263.7,95.5 264,94.2 264.3,94.7 264.6,95.3 264.9,96 265.3,94.5 265.6,95.2 265.9,92.9 266.2,93.1 266.5,92.6 266.8,93 267.1,92.8 267.5,90.8 267.8,91.3 268.1,92.3 268.4,91.5 268.7,90.8 269,92.8 269.3,92.4 269.7,92.4 270,91.6 270.3,92.8 270.6,91.9 270.9,93.2 271.2,91.7 271.6,91.9 271.9,92.9 272.2,92.4 272.5,93.6 272.8,93.4 273.1,92.7 273.4,93.6 273.8,93.3 274.1,94.1 274.4,92.7 274.7,92.7 275,93.9 275.3,94.5 275.6,94.2 276,92.5 276.3,92.4 276.6,93.3 276.9,91.9 277.2,91.4 277.5,92.3 277.8,92.7 278.2,91.8 278.5,91.2 278.8,91.5 279.1,93.3 279.4,92 279.7,92.2 280,92.2 280.4,92.2 280.7,91.1 281,91.5 281.3,90 281.6,90.1 281.9,89.3 282.2,90.7 282.6,89.5 282.9,88.8 283.2,89 283.5,89 283.8,89.6 284.1,87.7 284.4,88 284.8,88.4 285.1,90.6 285.4,89.2 285.7,88.3 286,88.6 286.3,89.3 286.6,87.1 287,86.7 287.3,87.6 287.6,86.6 287.9,86.4 288.2,85.1 288.5,86.7 288.8,86.2 289.2,85.3 289.5,85.6 289.8,83.5 290.1,85.8 290.4,85.3 290.7,86 291,86.3 291.4,85.7 291.7,84.8 292,86.6 292.3,85.8 292.6,86.2 292.9,86.1 293.3,86.3 293.6,84.9 293.9,87.8 294.2,87.1 294.5,87.8 294.8,88.6 295.1,87.1 295.5,85.7 295.8,86.4 296.1,86.1 296.4,86.6 296.7,87.1 297,85.4 297.3,87.2 297.7,85.7 298,87.1 298.3,86.7 298.6,86.5 298.9,87 299.2,86.9 299.5,87.2 299.9,86.6 300.2,88.3 300.5,90.1 300.8,90.5 301.1,90.3 301.4,90.1 301.7,88.8 302.1,90.3 302.4,88.9 302.7,88.6 303,88.2 303.3,88.3 303.6,87.7 303.9,87.7 304.3,86.7 304.6,87.1 304.9,89.2 305.2,87.2 305.5,86.9 305.8,87.4 306.1,87.4 306.5,85.8 306.8,86.5 307.1,87.2 307.4,86.6 307.7,86.3 308,87.2 308.3,85.1 308.7,85.5 309,84.7 309.3,86.1 309.6,83 309.9,83.8 310.2,84 310.5,85 310.9,85 311.2,85.8 311.5,83.5 311.8,85.4 312.1,84.6 312.4,84.4 312.7,85.5 313.1,84.4 313.4,83.7 313.7,85.3 314,84.7 314.3,85.6 314.6,86.7 315,87 315.3,88.3 315.6,87.1 315.9,86.3 316.2,87.2 316.5,87.3 316.8,87.3 317.2,88.9 317.5,88.3 317.8,87.4 318.1,89.8 318.4,89.4 318.7,90 319,90 319.4,90.7 319.7,90.5 320,91.7 320.3,91.4 320.6,91.7 320.9,92 321.2,90.8 321.6,92.2 321.9,92.4 322.2,93.3 322.5,92.6 322.8,95.7 323.1,95.1 323.4,94.6 323.8,94.9 324.1,96.6 324.4,97.4 324.7,97.3 325,98.3 325.3,98.1 325.6,99.4 326,98.8 326.3,99.7 326.6,100.8 326.9,102.5 327.2,99.9 327.5,100.7 327.8,100.4 328.2,101.3 328.5,99.3 328.8,99.5 329.1,99.4 329.4,98.2 329.7,97.8 330,97.8 330.4,96.3 330.7,96.8 331,97.5 331.3,97.9 331.6,97.5 331.9,96.2 332.2,97.2 332.6,98.1 332.9,97.8 333.2,97.2 333.5,96.5 333.8,97.5 334.1,96.4 334.4,95.8 334.8,95.9 335.1,97.5 335.4,96.4 335.7,97 336,95.7 336.3,96.9 336.7,95.7 337,96.1 337.3,98.3 337.6,97 337.9,96 338.2,96.3 338.5,96 338.9,96.1 339.2,94.1 339.5,92.5 339.8,93 340.1,93.7 340.4,94.2 340.7,95.7 341.1,95.3 341.4,96.2 341.7,95.1 342,97.2 342.3,98.6 342.6,97.9 342.9,97.9 343.3,98.2 343.6,99.8 343.9,98 344.2,99 344.5,99.9 344.8,99.9 345.1,98.1 345.5,97.9 345.8,96.7 346.1,96.2 346.4,95.2 346.7,93.6 347,93.7 347.3,94.1 347.7,92.4 348,92.7 348.3,93.1 348.6,91.5 348.9,92.2 349.2,91 349.5,92.5 349.9,93.7 350.2,94 350.5,92.8 350.8,94.2 351.1,94.3 351.4,94.9 351.7,96.7 352.1,95.1 352.4,97.6 352.7,97.5 353,99.4 353.3,99.1 353.6,99.2 353.9,100.7 354.3,101.9 354.6,101.5 354.9,101.2 355.2,99.8 355.5,97.8 355.8,99.6 356.1,98.8 356.5,97.8 356.8,97.1 357.1,97.2 357.4,95.8 357.7,95.8 358,96.4 358.4,97.7 358.7,95.9 359,98.1 359.3,96.9 359.6,96.7 359.9,98.3 360.2,96.7 360.6,95.2 360.9,95.5 361.2,96 361.5,95.7 361.8,93.9 362.1,94 362.4,93.8 362.8,92.2 363.1,92.7 363.4,92.5 363.7,92.2 364,92.3 364.3,92.9 364.6,92.9 365,92.6 365.3,92.8 365.6,94.1 365.9,93.5 366.2,94.1 366.5,94.4 366.8,94.1 367.2,95 367.5,91.9 367.8,92.5 368.1,90.9 368.4,92 368.7,91.2 369,87.6 369.4,87.8 369.7,88.4 370,87.8 370.3,87.3 370.6,86.5 370.9,86.8 371.2,86.9 371.6,86.2 371.9,86.9 372.2,84.2 372.5,86.4 372.8,84.9 373.1,86.4 373.4,85.4 373.8,85.2 374.1,86.5 374.4,85.8 374.7,86.1 375,85.9 375.3,87.4 375.6,88.2 376,88.6 376.3,87.3 376.6,87.8 376.9,86.6 377.2,86.1 377.5,86.2 377.8,86.1 378.2,84.6 378.5,84.7 378.8,85.1 379.1,85.6 379.4,85.2 379.7,87 380.1,86.2 380.4,87.2 380.7,86.5 381,87.7 381.3,88.1 381.6,87.5 381.9,89.3 382.3,87.8 382.6,88.7 382.9,87.8 383.2,86.3 383.5,86.3 383.8,86.8 384.1,86.2 384.5,85.8 384.8,85.2 385.1,83.6 385.4,84.5 385.7,82.6 386,84.3 386.3,83.1 386.7,82.7 387,82.7 387.3,83 387.6,81.7 387.9,81.6 388.2,82.3 388.5,81.6 388.9,82.6 389.2,84.7 389.5,82.7 389.8,84.2 390.1,82.7 390.4,84.1 390.7,83.3 391.1,83.2 391.4,83.4 391.7,84 392,82.5 392.3,82.1 392.6,80.9 392.9,81.8 393.3,80.9 393.6,81.4 393.9,80.8 394.2,82.3 394.5,79.4 394.8,80.9 395.1,82 395.5,81.1 395.8,80.9 396.1,81.4 396.4,80.6 396.7,82 397,83.7 397.3,82.3 397.7,80.2 398,80.1 398.3,80.1 398.6,81 398.9,79.2 399.2,79 399.5,80.6 399.9,81.1 400.2,80.5 400.5,80.4 400.8,80.5 401.1,81.7 401.4,80.9 401.8,83.6 402.1,81.9 402.4,82.1 402.7,82.6 403,81.4 403.3,78.9 403.6,79.9 404,79.5 404.3,77.7 404.6,77.5 404.9,78.2 405.2,77 405.5,79.4 405.8,76.3 406.2,77.4 406.5,78.1 406.8,78.1 407.1,78.4 407.4,78.5 407.7,78.1 408,79.2 408.4,76.7 408.7,78.6 409,78.3 409.3,79.2 409.6,79.5 409.9,78.8 410.2,79.2 410.6,80.6 410.9,80.4 411.2,79.8 411.5,82.2 411.8,82.7 412.1,79.9 412.4,81.2 412.8,82.8 413.1,81.2 413.4,80.5 413.7,80 414,79.5 414.3,79.6 414.6,79.1 415,80 415.3,78.9 415.6,78.6 415.9,77.8 416.2,78.5 416.5,77.7 416.8,78 417.2,78.8 417.5,78.1 417.8,78 418.1,77.7 418.4,77.3 418.7,76.9 419,76.6 419.4,77.3 419.7,75.7 420,77.5 420.3,76.3 420.6,75.5 420.9,75.5 421.2,75.2 421.6,75.7 421.9,74.9 422.2,76.5 422.5,75.2 422.8,74.2 423.1,75.6 423.5,74.8 423.8,76.6 424.1,77.7 424.4,77.5 424.7,76.1 425,76.8 425.3,78.9 425.7,77.9 426,77.7 426.3,78.6 426.6,79.8 426.9,78.9 427.2,78.1 427.5,78.4 427.9,78.6 428.2,77.7 428.5,77.3 428.8,77.9 429.1,76.8 429.4,77.1 429.7,77 430.1,78.4 430.4,75.6 430.7,75.8 431,75.5 431.3,75.7 431.6,75.9 431.9,74.5 432.3,74 432.6,73.2 432.9,73.6 433.2,74.7 433.5,74.1 433.8,73.1 434.1,73.5 434.5,73.6 434.8,73.8 435.1,72.8 435.4,72.9 435.7,71.6 436,72.3 436.3,74.6 436.7,71.7 437,73.3 437.3,73.8 437.6,73.5 437.9,73.2 438.2,74 438.5,74.1 438.9,74.2 439.2,73 439.5,74.6 439.8,74.3 440.1,74.7 440.4,75.6 440.7,76.2 441.1,76.6 441.4,75.7 441.7,77.1 442,77.5 442.3,77.7 442.6,78.1 442.9,77.1 443.3,77.3 443.6,78.3 443.9,76.8 444.2,78.2 444.5,77.8 444.8,78.2 445.2,77.3 445.5,78.1 445.8,79 446.1,79.8 446.4,80.1 446.7,79.4 447,79.4 447.4,79.1 447.7,80.2 448,79.9 448.3,80.8 448.6,82.6 448.9,82 449.2,81.6 449.6,82.9 449.9,83.3 450.2,84.3 450.5,86.4 450.8,85.3 451.1,83.7 451.4,85.3 451.8,85.6 452.1,84.1 452.4,83.7 452.7,83.8 453,84.1 453.3,84.2 453.6,84.5 454,84.5 454.3,84.9 454.6,85.5 454.9,85.3 455.2,84 455.5,85.6 455.8,86.4 456.2,86.2 456.5,87.7 456.8,87.1 457.1,87.1 457.4,88.9 457.7,88.2 458,87.7 458.4,88.1 458.7,88.1 459,87.4 459.3,85 459.6,86.3 459.9,86.4 460.2,85.8 460.6,86.6 460.9,87.3 461.2,85.9 461.5,85.6 461.8,88.3 462.1,86.5 462.4,86.1 462.8,87.5 463.1,87.9 463.4,87.2 463.7,88.7 464,88.1 464.3,88.3 464.6,89.6 465,90.6 465.3,89.9 465.6,91.2 465.9,91.3 466.2,93.8 466.5,91 466.9,92.7 467.2,91.6 467.5,91.6 467.8,92.3 468.1,92.5 468.4,92.8 468.7,92.1 469.1,91.4 469.4,91.5 469.7,92.3 470,92.4 470.3,93 470.6,92.2 470.9,92.8 471.3,93.1 471.6,92 471.9,90.7 472.2,91 472.5,90.8 472.8,93.4 473.1,91.6 473.5,93.4 473.8,93 474.1,94.1 474.4,93.7 474.7,92.9 475,93 475.3,93.4 475.7,93.6 476,93.2 476.3,93.8 476.6,95.8 476.9,94.8 477.2,98.1 477.5,97.7 477.9,98.7 478.2,99.3 478.5,98.7 478.8,99.4 479.1,97.6 479.4,99.9 479.7,98.6 480.1,99.7 480.4,99.4 480.7,97.3 481,98.9 481.3,99.7 481.6,100.6 481.9,99.4 482.3,99.1 482.6,97.5 482.9,99.6 483.2,99.6 483.5,98 483.8,97.5 484.1,96.2 484.5,98 484.8,99.2 485.1,97.3 485.4,97.5 485.7,96.7 486,95.2 486.3,96.8 486.7,94.5 487,95.1 487.3,95.2 487.6,95.4 487.9,94.8 488.2,94.5 488.6,93.4 488.9,93.4 489.2,95.1 489.5,95.1 489.8,95.3 490.1,95.9 490.4,97.2 490.8,96.7 491.1,97.8 491.4,98.3 491.7,100.6 492,101.5 492.3,103.6 492.6,101.6 493,102.2 493.3,103.4 493.6,102.4 493.9,102.2 494.2,103.8 494.5,102.1 494.8,101.3 495.2,101.1 495.5,102.4 495.8,102.3 496.1,101.1 496.4,101.7 496.7,103.3 497,103.6 497.4,103 497.7,104.3 498,104.6 498.3,103 498.6,104.5 498.9,104.7 499.2,103.2 499.6,101.3 499.9,102.1 500.2,102.3 500.5,102.3 500.8,98.6 501.1,101.7 501.4,98.1 501.8,99.2 502.1,99.1 502.4,98.4 502.7,97.3 503,95.9 503.3,96.9 503.6,95.4 504,93.5 504.3,97.2 504.6,94.9 504.9,95.1 505.2,92.3 505.5,93.6 505.8,93 506.2,92.4 506.5,90.9 506.8,90.5 507.1,92 507.4,91 507.7,92 508.1,94.1 508.4,93.9 508.7,95.1 509,95.6 509.3,97.6 509.6,97.4 509.9,96.6 510.3,97.9 510.6,96.3 510.9,96 511.2,96.4 511.5,94 511.8,94.1 512.1,92.7 512.5,93.2 512.8,93.8 513.1,91.2 513.4,91.4 513.7,89.9 514,89 514.3,89.1 514.7,91.5 515,92.4 515.3,91.1 515.6,90.4 515.9,91.8 516.2,91.2 516.5,92.3 516.9,92.1 517.2,92.8 517.5,93.7 517.8,93.5 518.1,94.3 518.4,94 518.7,95 519.1,94 519.4,94.8 519.7,93.9 520,94.5 520.3,94.5 520.6,92.8 520.9,93.1 521.3,92.7 521.6,93.8 521.9,94.5 522.2,93.8 522.5,92.8 522.8,94.3 523.1,91.9 523.5,94.3 523.8,92.6 524.1,90.9 524.4,95.2 524.7,94.4 525,92.3 525.3,93.3 525.7,92.9 526,93 526.3,91.4 526.6,91.7 526.9,92.3 527.2,91.8 527.5,92.3 527.9,91.1 528.2,92.6 528.5,89.8 528.8,91.1 529.1,90.2 529.4,91.5 529.8,94.5 530.1,93.5 530.4,95.5 530.7,95.9 531,96 531.3,97.4 531.6,97.2 532,96.7 532.3,97.1 532.6,96.5 532.9,95 533.2,94.2 533.5,94.6 533.8,93.8 534.2,94.1 534.5,95.7 534.8,94.8 535.1,94.8 535.4,95.3 535.7,95.4 536,96 536.4,96.5 536.7,97.6 537,98.2 537.3,99.1 537.6,97.8 537.9,97.5 538.2,96.3 538.6,98.2 538.9,96.9 539.2,97.5 539.5,96.3 539.8,96.5 540.1,94.8 540.4,95.6 540.8,97.2 541.1,94.1 541.4,96 541.7,96.4 542,95.4 542.3,95.7 542.6,96.1 543,94.5 543.3,95.4 543.6,94.9 543.9,95.6 544.2,96.2 544.5,97.1 544.8,97.9 545.2,98.6 545.5,97.6 545.8,100.6 546.1,99.9 546.4,99.4 546.7,98.4 547,98.5 547.4,98.9 547.7,98.7 548,96.8 548.3,98.7 548.6,100.4 548.9,96.4 549.2,99 549.6,98.8 549.9,98.8 550.2,100.3 550.5,98.5 550.8,99.9 551.1,101.3 551.5,100 551.8,99.6 552.1,99.8 552.4,99.2 552.7,100.6 553,98.3 553.3,99.6 553.7,97.6 554,98.9 554.3,98.4 554.6,96.8 554.9,99.4 555.2,98.9 555.5,99.9 555.9,102 556.2,100.3 556.5,100.8 556.8,103.3 557.1,102.6 557.4,104 557.7,103.4 558.1,102.7 558.4,103.7 558.7,105 559,105.1 559.3,104.7 559.6,105.3 559.9,105.9 560.3,106.3 560.6,109.1 560.9,108.2 561.2,108 561.5,109.3 561.8,111 562.1,110.5 562.5,109.5 562.8,108.7 563.1,108.9 563.4,107.1 563.7,107 564,108.4 564.3,107 564.7,107.3 565,107.6 565.3,106.7 565.6,105.9 565.9,107.4 566.2,106.6 566.5,106.2 566.9,107.5 567.2,107.6 567.5,107 567.8,108.2 568.1,108.4 568.4,107.6 568.7,109.9 569.1,110.6 569.4,111.4 569.7,111.2 570,113.1 570.3,114.2 570.6,115.2 570.9,113.7 571.3,114.4 571.6,112.2 571.9,112.3 572.2,112.8 572.5,110.4 572.8,109.8 573.2,110.4 573.5,109 573.8,108.9 574.1,109.1 574.4,109.6 574.7,106.7 575,107.6 575.4,107.3 575.7,107.1 576,107.4 576.3,107.5 576.6,108.6 576.9,107.7 577.2,108.6 577.6,109 577.9,108.1 578.2,109.2 578.5,110.8 578.8,110.2 579.1,109.8 579.4,110.7 579.8,110.4 580.1,111.8 580.4,112.7 580.7,110.7 581,110.6 581.3,111 581.6,109.1 582,109 582.3,107.4 582.6,106.9 582.9,106.6 583.2,108.5 583.5,106.1 583.8,105.7 584.2,105.4 584.5,105.4 584.8,105.7 585.1,105 585.4,106.6 585.7,105.4 586,106.7 586.4,106.1 586.7,106.7 587,105.3 587.3,106.7 587.6,107.1 587.9,107.2 588.2,106 588.6,108.5 588.9,107.1 589.2,106.6 589.5,106.4 589.8,106 590.1,106.1 590.4,104.3 590.8,104.2 591.1,105.2 591.4,105.4 591.7,105.2 592,105.4 592.3,105.5 592.6,106.4 593,107.8 593.3,106.3 593.6,108.7 593.9,108.4 594.2,107.8 594.5,109.4 594.9,108.3 595.2,108.7 595.5,109.7 595.8,110.4 596.1,107.9 596.4,105.3 596.7,103.3 597.1,99.9 597.4,102.5 597.7,120.6 598,122.8 598.3,123.2 598.6,122.8 598.9,122.8 599.3,123.3 599.6,124.3 599.9,124.9 600.2,125.1 600.5,124 600.8,124.1 601.1,123.7 601.5,124.4 601.8,122.1 602.1,124.4 602.4,122.8 602.7,122.2 603,122.8 603.3,123.4 603.7,122.9 604,123.6 604.3,123 604.6,124 604.9,124.1 605.2,123.1 605.5,124.5 605.9,123.8 606.2,124.1 606.5,123.7 606.8,124.5 607.1,125.7 607.4,124.4 607.7,126.4 608.1,126.5 608.4,126.7 608.7,124.4 609,125.7 609.3,126 609.6,124.6 609.9,125 610.3,122.7 610.6,124.8 610.9,123.4 611.2,124.3 611.5,121.8 611.8,123.6 612.1,122.5 612.5,123 612.8,121.3 613.1,121.2 613.4,123.2 613.7,120.4 614,120.4 614.3,121.2 614.7,121 615,123.2 615.3,124.1 615.6,122.6 615.9,122.2 616.2,125 616.6,125.4 616.9,125.6 617.2,126.1 617.5,124.6 617.8,125.4 618.1,124.7 618.4,124.8 618.8,127 619.1,125.9 619.4,129 619.7,128.6 620,129.5 620.3,132.1 620.6,134.3 621,134.3 621.3,133.2 621.6,134.8 621.9,135.9 622.2,134.7 622.5,134.8 622.8,136.6 623.2,136.2 623.5,135.2 623.8,135.5 624.1,135 624.4,135.6 624.7,135.2 625,135.8 625.4,135.2 625.7,133.1 626,134.5 626.3,134.6 626.6,134.1 626.9,134.3 627.2,132.8 627.6,132.3 627.9,133.6 628.2,131.8 628.5,130.7 628.8,133.1 629.1,131.6 629.4,132.1 629.8,131.3 630.1,131.5 630.4,131.7 630.7,132.5 631,133.1 631.3,131.1 631.6,133.2 632,131.3 632.3,131.1 632.6,132.1 632.9,131.1 633.2,129.6 633.5,131.9 633.8,129.4 634.2,129.9 634.5,130.2 634.8,131.6 635.1,130.4 635.4,132 635.7,130.9 636,132.8 636.4,131.6 636.7,132.3 637,134.5 637.3,133.4 637.6,133.5 637.9,135.5 638.3,134.2 638.6,133.5 638.9,135 639.2,133.7 639.5,135.7 639.8,136 640.1,134.9 640.5,135 640.8,135.8 641.1,135.8 641.4,135.2 641.7,136.6 642,134.6 642.3,136.1 642.7,136.3 643,136.5 643.3,137.2 643.6,135.8 643.9,136.7 644.2,135.5 644.5,134.6 644.9,133.5 645.2,133.1 645.5,133.8 645.8,132.1 646.1,132.4 646.4,132.7 646.7,132.2 647.1,132.6 647.4,131.1 647.7,130.5 648,132.2 648.3,131.6 648.6,132.2 648.9,131.4 649.3,132.3 649.6,132 649.9,131.9 650.2,131.9 650.5,132 650.8,132 651.1,132.1 651.5,132.9 651.8,131.9 652.1,133.8 652.4,132.5 652.7,133.5 653,132.8 653.3,133 653.7,135.3 654,133.8 654.3,133.5 654.6,134.3 654.9,135.1 655.2,137.5 655.5,136.3 655.9,136.6 656.2,134.7 656.5,135.3 656.8,135.2 657.1,135.7 657.4,133.3 657.7,134 658.1,133.3 658.4,131.9 658.7,132.3 659,131.9 659.3,130.3 659.6,132.6 660,132.6 660.3,131.8 660.6,131.1 660.9,133.3 661.2,132.4 661.5,133 661.8,133.3 662.2,131.6 662.5,132.1 662.8,130.7 663.1,130.4 663.4,129.8 663.7,129.4 664,129.7 664.4,128.4 664.7,127.9 665,127.6 665.3,128 665.6,126.8 665.9,127 666.2,127.2 666.6,126.6 666.9,126.8 667.2,126.3 667.5,128.2 667.8,127.6 668.1,126.8 668.4,126.4 668.8,128.1 669.1,126.6 669.4,126.2 669.7,126.5 670,126.5 670.3,127.3 670.6,126.1 671,127.8 671.3,125.5 671.6,126.9 671.9,125.7 672.2,128 672.5,126.4 672.8,126.8 673.2,127.7 673.5,128.1 673.8,126.3 674.1,127 674.4,126.4 674.7,127.8 675,127.9 675.4,127.9 675.7,127.9 676,128.4 676.3,128.3 676.6,129.6 676.9,130.6 677.2,128.1 677.6,129.5 677.9,128.9 678.2,129.3 678.5,127.9 678.8,128.2 679.1,127.2 679.4,128.2 679.8,127.4 680.1,126.9 680.4,127 680.7,126.3 681,125.1 681.3,126.6 681.7,126.2 682,125.7 682.3,126.5 682.6,126.5 682.9,124.5 683.2,124.6 683.5,126.3 683.9,126 684.2,124.1 684.5,123.6 684.8,123.9 685.1,123.9 685.4,122.8 685.7,124 686.1,122.8 686.4,122.7 686.7,124.2 687,122.8 687.3,123.4 687.6,124.2 687.9,124.6 688.3,124 688.6,124.5 688.9,124.1 689.2,126.4 689.5,125.8 689.8,124.7 690.1,125.8 690.5,126.7 690.8,126.7 691.1,128.1 691.4,128 691.7,126.7 692,127.4 692.3,126.7 692.7,128.2 693,128.1 693.3,129.8 693.6,127.3 693.9,125.2 694.2,126 694.5,126.2 694.9,124.8 695.2,124.7 695.5,124.8 695.8,124.8 696.1,123.7 696.4,122.4 696.7,123 697.1,121.2 697.4,120.6 697.7,119.1 698,118.9 698.3,119.3 698.6,117.3 698.9,119 699.3,120 699.6,119.6 699.9,120.5 700.2,119.8 700.5,122.2 700.8,122.4 701.1,122.2 701.5,121 701.8,122 702.1,124 702.4,124.6 702.7,123.5 703,124.3 703.4,122.8 703.7,123.1 704,123.3 704.3,123.6 704.6,122 704.9,124 705.2,124.3 705.6,122.4 705.9,122.3 706.2,123.8 706.5,123 706.8,121.7 707.1,124.4 707.4,123.9 707.8,123.5 708.1,125.6 708.4,124.1 708.7,123.4 709,123.9 709.3,122.9 709.6,122.9 710,123.7 710.3,122.8 710.6,122.7 710.9,124.3 711.2,123.4 711.5,123.2 711.8,122.9 712.2,122.5 712.5,123 712.8,121.5 713.1,122.7 713.4,120.1 713.7,120.3 714,119.1 714.4,119.6 714.7,120 715,120.4 715.3,118.8 715.6,119.5 715.9,119.4 716.2,119.2 716.6,119 716.9,120.2 717.2,118.9 717.5,120.6 717.8,120.6 718.1,120.3 718.4,120 718.8,119.6 719.1,122.1 719.4,119.5 719.7,121.7 720,120.9 720.3,120 720.6,119.3 721,121 721.3,121.5 721.6,119.2 721.9,119.6 722.2,120.5 722.5,119.8 722.8,121 723.2,118.8 723.5,119.5 723.8,117.9 724.1,120.4 724.4,118 724.7,116.6 725.1,117.4 725.4,116.5 725.7,117.3 726,114.6 726.3,113.9 726.6,113.5 726.9,113.4 727.3,111.2 727.6,111.2 727.9,111.1 728.2,110.8 728.5,111.5 728.8,111.8 729.1,111.4 729.5,113.5 729.8,111.8 730.1,114.2 730.4,114.3 730.7,113.5 731,113 731.3,113.4 731.7,114 732,114.2 732.3,113.8 732.6,114.4 732.9,113.1 733.2,113.8 733.5,112.3 733.9,114.3 734.2,114.1 734.5,113.8 734.8,115.3 735.1,115.1 735.4,112.5 735.7,115 736.1,114 736.4,115.8 736.7,116.8 737,114.1 737.3,114.4 737.6,113.9 737.9,114.2 738.3,114.2 738.6,114.5 738.9,112.2 739.2,113.9 739.5,111.4 739.8,112 740.1,112.3 740.5,111.5 740.8,109.7 741.1,109.9 741.4,110.3 741.7,110.9 742,112 742.3,110.3 742.7,111.9 743,112.2 743.3,112.4 743.6,112 743.9,112.6 744.2,111.4 744.5,111.4 744.9,110.9 745.2,111.5 745.5,108.3 745.8,110.7 746.1,110.3 746.4,111.1 746.8,111.3 747.1,111.4 747.4,113.4 747.7,114.1 748,115.9 748.3,115.3 748.6,118.6 749,118.6 749.3,118.3 749.6,118.1 749.9,118.2 750.2,118 750.5,118.6 750.8,119.2 751.2,119.2 751.5,118.3 751.8,119.3 752.1,119 752.4,119.9 752.7,121.4 753,120.6 753.4,120.1 753.7,119.4 754,119.9 754.3,120 754.6,122.2 754.9,121.4 755.2,122.3 755.6,121.9 755.9,122.3 756.2,123.2 756.5,121.4 756.8,121.5 757.1,121 757.4,122.2 757.8,120.5 758.1,120.2 758.4,119.9 758.7,119.8 759,121.6 759.3,123.6 759.6,121 760,122.9 760.3,122.7 760.6,121.9 760.9,122.9 761.2,123.2 761.5,123.2 761.8,125.6 762.2,122.4 762.5,124.1 762.8,123.9 763.1,123 763.4,123.4 763.7,123.9 764,123.1 764.4,123.2 764.7,123.2 765,120.9 765.3,123.8 765.6,124.8 765.9,124.1 766.2,124.4 766.6,122.8 766.9,124.1 767.2,123.9 767.5,124.4 767.8,125.7 768.1,124.2 768.5,124.8 768.8,123.4 769.1,124.8 769.4,125 769.7,124.3 770,124.3 770.3,126.4 770.7,123.9 771,124.4 771.3,125.1 771.6,127.2 771.9,128.5 772.2,127.6 772.5,127.3 772.9,128 773.2,129.7 773.5,128 773.8,129.6 774.1,129.4 774.4,128.1 774.7,128.3 775.1,128.1 775.4,128.5 775.7,126.2 776,127.8 776.3,126.3 776.6,125.8 776.9,126.4 777.3,126.1 777.6,125.3 777.9,124.7 778.2,125.2 778.5,127 778.8,127.3 779.1,125.8 779.5,125.8 779.8,124.1 780.1,124 780.4,123.9 780.7,122.3 781,122 781.3,122.6 781.7,122.5 782,122.1 782.3,123.5 782.6,123.2 782.9,124.5 783.2,123.9 783.5,123.9 783.9,124.5 784.2,124.5 784.5,124.3 784.8,123.7 785.1,124.2 785.4,124.5 785.7,125.5 786.1,123.6 786.4,125 786.7,125.5 787,126.4 787.3,126.3 787.6,126.7 787.9,128.2 788.3,128.1 788.6,127.5 788.9,129.9 789.2,129.6 789.5,127.9 789.8,128.6 790.2,126.9 790.5,127.9 790.8,126.4 791.1,125.5 791.4,125.4 791.7,124.6 792,125.3 792.4,125.6 792.7,125.8 793,125.6 793.3,123.4 793.6,126.7 793.9,125.4 794.2,127.3 794.6,128.3 794.9,127.9 795.2,127.7 795.5,128.1 795.8,128.4 796.1,128.4 796.4,128.6 796.8,128.6 797.1,130.6 797.4,129.9 797.7,131 798,130.3 798.3,130.8 798.6,130.9 799,131.7 799.3,132.1 799.6,131.4 799.9,130.5 800.2,130.3 800.5,132 800.8,130.3 801.2,130.1 801.5,131.3 801.8,130.9 802.1,130.3 802.4,129.6 802.7,131.8 803,130.2 803.4,130.3 803.7,129.8 804,128.8 804.3,128.8 804.6,130.2 804.9,130.2 805.2,129.6 805.6,128.4 805.9,127.6 806.2,128 806.5,126.6 806.8,128 807.1,127.7 807.4,128.5 807.8,126.5 808.1,124.8 808.4,124.1 808.7,121.5 809,123.3 809.3,123.4 809.7,124.6 810,124.6 810.3,124.9 810.6,125 810.9,125.6 811.2,126.6 811.5,124.9 811.9,125.7 812.2,125.2 812.5,128 812.8,128 813.1,127.9 813.4,126.3 813.7,126.9 814.1,126.1 814.4,125.9 814.7,125.2 815,125.3 815.3,124.1 815.6,124.6 815.9,123.7 816.3,122.8 816.6,122.5 816.9,122.2 817.2,123.1 817.5,122.1 817.8,122.5 818.1,121.9 818.5,120.9 818.8,122.8 819.1,121.1 819.4,122.4 819.7,122.2 820,120.7 820.3,121.5 820.7,122.1 821,122.1 821.3,122 821.6,123.8 821.9,123.3 822.2,124 822.5,123.6 822.9,124.4 823.2,123.7 823.5,124.3 823.8,124.9 824.1,124.6 824.4,124.2 824.7,123.8 825.1,124.9 825.4,125.1 825.7,124.7 826,124.4 826.3,125.5 826.6,127.2 826.9,125.2 827.3,125.8 827.6,126 827.9,123.8 828.2,126.1 828.5,125.6 828.8,127.5 829.1,126.3 829.5,126 829.8,126.1 830.1,126.1 830.4,125.2 830.7,125.3 831,124 831.4,124.6 831.7,125 832,126 832.3,125.5 832.6,125.6 832.9,126.8 833.2,127.1 833.6,128.1 833.9,128.1 834.2,127.6 834.5,128.4 834.8,128.8 835.1,129.3 835.4,129.4 835.8,128.7 836.1,127.8 836.4,129 836.7,128.1 837,129.9 837.3,129.9 837.6,128.7 838,130.7 838.3,131 838.6,130.3 838.9,131.6 839.2,131.7 839.5,129.2 839.8,130.9 840.2,130.4 840.5,130.4 840.8,130.7 841.1,129.4 841.4,129.4 841.7,129.3 842,129.4 842.4,130 842.7,129 843,129.4 843.3,130.8 843.6,130.3 843.9,130.8 844.2,129.1 844.6,130 844.9,130.3 845.2,130.9 845.5,130.5 845.8,131.9 846.1,131.2 846.4,131.4 846.8,131.5 847.1,132.2 847.4,131.4 847.7,132.8 848,132.4 848.3,132.2 848.6,132.3 849,132.9 849.3,133.7 849.6,134.1 849.9,134.1 850.2,134.9 850.5,134.7 850.8,136 851.2,135.4 851.5,134.1 851.8,137.1 852.1,136.4 852.4,135.6 852.7,136.6 853.1,136.3 853.4,139 853.7,137.9 854,136 854.3,137.5 854.6,136.4 854.9,138 855.3,135.4 855.6,134.2 855.9,135.8 856.2,135.3 856.5,135.4 856.8,134.1 857.1,136.3 857.5,137.4 857.8,134.6 858.1,137.2 858.4,136 858.7,138.4 859,137 859.3,136.6 859.7,137.2 860,136.3 860.3,134.9 860.6,135.6 860.9,134.1 861.2,132.7 861.5,135.3 861.9,133 862.2,132.3 862.5,132.7 862.8,131.2 863.1,131.6 863.4,132.5 863.7,132.6 864.1,133.3 864.4,134.4 864.7,133.3 865,134.2 865.3,134.5 865.6,133.4 865.9,134.6 866.3,133.9 866.6,135.8 866.9,135.5 867.2,135.4 867.5,133.8 867.8,133.2 868.1,130.8 868.5,130.2 868.8,127.8 869.1,126 869.4,127.4 869.7,127.3 870,126.3 870.3,127.8 870.7,126.6 871,126.7 871.3,127 871.6,126.4 871.9,126.7 872.2,126.9 872.5,128.4 872.9,128.6 873.2,127.3 873.5,129 873.8,127.8 874.1,128.3 874.4,128.9 874.8,128.5 875.1,130 875.4,128.1 875.7,126.8 876,128.6 876.3,127.1 876.6,127 877,124.7 877.3,127.8 877.6,127.5 877.9,127.3 878.2,127 878.5,127.2 878.8,125.5 879.2,125.9 879.5,124.1 879.8,124.1 880.1,124.8 880.4,124 880.7,122.3 881,123.3 881.4,122.6 881.7,121.8 882,122.4 882.3,121.5 882.6,120.9 882.9,122.2 883.2,125.3 883.6,123.6 883.9,125.8 884.2,126.4 884.5,126.1 884.8,124.2 885.1,124.6 885.4,124.6 885.8,124.7 886.1,123.2 886.4,122.4 886.7,124.3 887,124.6 887.3,124.3 887.6,123.8 888,124.8 888.3,124.9 888.6,125.7 888.9,124.3 889.2,125.3 889.5,124.9 889.8,124 890.2,125 890.5,124.7 890.8,124.2 891.1,124.8 891.4,123.2 891.7,124.2 892,124.5 892.4,124.5 892.7,125.4 893,123.9 893.3,123.9 893.6,125.6 893.9,126 894.2,127.6 894.6,126.7 894.9,125.8 895.2,127.4 895.5,126.3 895.8,125.8 896.1,129.2 896.5,127.4 896.8,127.8 897.1,127.8 897.4,128.9 897.7,127.7 898,128.5 898.3,126.8 898.7,126.5 899,128.4 899.3,128.1 899.6,126.9 899.9,126.3 900.2,125.9 900.5,124.9 900.9,126.3 901.2,127.1 901.5,130.1 901.8,133.1 902.1,135.9 902.4,137.7 902.7,140.1 903.1,140.7 903.4,144.3 903.7,143.7 904,138.7 904.3,136.8 904.6,137.1 904.9,136.7 905.3,136 905.6,133.7 905.9,134.9 906.2,133.3 906.5,133.3 906.8,134 907.1,133 907.5,133.6 907.8,135.2 908.1,133 908.4,132.6 908.7,131 909,130.9 909.3,130.6 909.7,131.2 910,130.9 910.3,131.4 910.6,131.9 910.9,131.5 911.2,131.3 911.5,131.5 911.9,133.1 912.2,132.9 912.5,133.9 912.8,134.2 913.1,133.3 913.4,134.4 913.7,133 914.1,136.2 914.4,135.6 914.7,134.7 915,134.2 915.3,135.7 915.6,134.1 915.9,135.3 916.3,136.7 916.6,136.1 916.9,135.4 917.2,136.3 917.5,134.5 917.8,135.3 918.2,134.4 918.5,133.9 918.8,134.7 919.1,133.3 919.4,135.4 919.7,133.1 920,134.6 920.4,131.6 920.7,132.4 921,130.5 921.3,129.8 921.6,130.5 921.9,130.4 922.2,129 922.6,131.4 922.9,130.2 923.2,131.3 923.5,131.9 923.8,132.5 924.1,130.9 924.4,134.1 924.8,133.6 925.1,133.2 925.4,132.8 925.7,132.1 926,132.1 926.3,133.4 926.6,132.4 927,131.6 927.3,131.8 927.6,133.3 927.9,131.5 928.2,131.1 928.5,132.4 928.8,131.3 929.2,130.7 929.5,129.9 929.8,128.8 930.1,128.8 930.4,129 930.7,128.9 931,129.1 931.4,128.9 931.7,128.3 932,127.8 932.3,126.3 932.6,124.9 932.9,125.6 933.2,124.8 933.6,124.5 933.9,124.3 934.2,123.1 934.5,123.1 934.8,123.8 935.1,123.9 935.4,123.2 935.8,124.1 936.1,123.4 936.4,122.7 936.7,123.5 937,124.9 937.3,122.7 937.6,124 938,123.9 938.3,123.8 938.6,121.7 938.9,123.7 939.2,122 939.5,121.4 939.9,121.2 940.2,121.6 940.5,121 940.8,121.1 941.1,122.9 941.4,122 941.7,122.3 942.1,124.4 942.4,125 942.7,125.9 943,124.8 943.3,126.9 943.6,126.7 943.9,128 944.3,125.9 944.6,127.4 944.9,127.4 945.2,126.6 945.5,127.6 945.8,129.4 946.1,128.5 946.5,128.1 946.8,129.1 947.1,128.9 947.4,128.6 947.7,126.8 948,127.1 948.3,127.6 948.7,126 949,125.6 949.3,126.5 949.6,126.9 949.9,124.7 950.2,123.4 950.5,124.3 950.9,124.5 951.2,125.2 951.5,125.7 951.8,125 952.1,124.5 952.4,125.1 952.7,124.1 953.1,125 953.4,124.7 953.7,127.5 954,126.2 954.3,125 954.6,125.1 954.9,125.7 955.3,124.9 955.6,125.7 955.9,125.9 956.2,126.8 956.5,125.3 956.8,124.5 957.1,123.6 957.5,123.3 957.8,123.7 958.1,123.1 958.4,123.7 958.7,121.8 959,122.7 959.3,121.8 959.7,121.4 960,119.6 960.3,120.1 960.6,121.5 960.9,121.9 961.2,120.8 961.6,121.1 961.9,120 962.2,119.8 962.5,119.5 962.8,121 963.1,120.6 963.4,120.2 963.8,120.2 964.1,121 964.4,121 964.7,120.1 965,122 965.3,120.5 965.6,120 966,120.9 966.3,120.2 966.6,119 966.9,119.2 967.2,117.6 967.5,117.8 967.8,116.5 968.2,119.2 968.5,116.6 968.8,118.6 969.1,117.3 969.4,117.1 969.7,117.6 970,117.9 970.4,118.1 970.7,119 971,117.8 971.3,118.1 971.6,116.9 971.9,117.8 972.2,117.3 972.6,116.7 972.9,116.9 973.2,116.9 973.5,117 973.8,117.2 974.1,116.6 974.4,116.6 974.8,117.9 975.1,116 975.4,116.6 975.7,118 976,114.3 976.3,115.6 976.6,116.4 977,114.2 977.3,117.3 977.6,112.8 977.9,115.6 978.2,115.3 978.5,114.3 978.8,113 979.2,113.1 979.5,111.7 979.8,112.6 980.1,110.7 980.4,111.4 980.7,112.9 981,111.7 981.4,112.7 981.7,113.6 982,112.8 982.3,115.3 982.6,115.1 982.9,114 983.3,115.5 983.6,115 983.9,115.2 984.2,115.9 984.5,115.4 984.8,116.9 985.1,115.7 985.5,117.1 985.8,116.4 986.1,117.3 986.4,116.2 986.7,116.3 987,115.7 987.3,117.1 987.7,117.4 988,118.4 988.3,117.7 988.6,116.9 988.9,116.5 989.2,117 989.5,116.6 989.9,117.6 990.2,116.9 990.5,115.3 990.8,115.2 991.1,116.6 991.4,115.5 991.7,114.8 992.1,115.7 992.4,114.2 992.7,114.1 993,113.9 993.3,112.8 993.6,115.2 993.9,113.7 994.3,114.3 994.6,114.2 994.9,115.5 995.2,115 995.5,114.6 995.8,112.9 996.1,113.8 996.5,112.3 996.8,113.3 997.1,113 997.4,112.3 997.7,113.5 998,111.9 998.3,111.6 998.7,111.1 999,110.7 999.3,111.6 999.6,111.6 999.9,109.6 1000.2,111.4 1000.5,110.9 1000.9,111.2 1001.2,110.7 1001.5,109.2 1001.8,109.3 1002.1,111.9 1002.4,110.8 1002.7,109.6 1003.1,111.2 1003.4,110.8 1003.7,109.7 1004,109.5 1004.3,110.2 1004.6,111.9 1005,111.9 1005.3,112.4 1005.6,113.4 1005.9,114.3 1006.2,112.8 1006.5,114.8 1006.8,114.5 1007.2,114.2 1007.5,114.8 1007.8,115.3 1008.1,115.2 1008.4,114.4 1008.7,115.2 1009,117.3 1009.4,114.9 1009.7,114.5 1010,116.2 1010.3,116.6 1010.6,116.7 1010.9,115.5 1011.2,117.4 1011.6,116.1 1011.9,116 1012.2,116.6 1012.5,117.1 1012.8,118 1013.1,117.8 1013.4,116.9 1013.8,117.3 1014.1,116.3 1014.4,116.6 1014.7,114.4 1015,113.9 1015.3,115.4 1015.6,113.3 1016,113.9 1016.3,113.8 1016.6,113.8 1016.9,114.1 1017.2,115.9 1017.5,113 1017.8,116 1018.2,117.4 1018.5,115.9 1018.8,116.1 1019.1,117 1019.4,118.2 1019.7,116.1 1020,117.4 1020.4,117.3 1020.7,117.7 1021,117.2 1021.3,117.5 1021.6,116.4 1021.9,116.7 1022.2,115.9 1022.6,115.8 1022.9,116 1023.2,115.9 1023.5,114.9 1023.8,117.1 1024.1,115.7 1024.4,114.7 1024.8,116.7 1025.1,115.2 1025.4,116.3 1025.7,115.8 1026,116.2 1026.3,116.7 1026.7,116.5 1027,117.5 1027.3,119.6 1027.6,116.6 1027.9,118.9 1028.2,119.7 1028.5,119 1028.9,119.2 1029.2,122.4 1029.5,120 1029.8,121.7 1030.1,120.1 1030.4,119.5 1030.7,119.5 1031.1,119.3 1031.4,119.4 1031.7,118.4 1032,117.8 1032.3,117.4 1032.6,117.9 1032.9,117.1 1033.3,115.2 1033.6,115.1 1033.9,115.4 1034.2,114.9 1034.5,115.5 1034.8,115.4 1035.1,116.4 1035.5,117.4 1035.8,118.2 1036.1,117.9 1036.4,119.9 1036.7,118.5 1037,121.3 1037.3,119.8 1037.7,119.6 1038,119.1 1038.3,117.4 1038.6,119.8 1038.9,120.3 1039.2,121.9 1039.5,119.5 1039.9,122.3 1040.2,120.6 1040.5,121.5 1040.8,119 1041.1,121.2 1041.4,120.9 1041.7,121.8 1042.1,121.4 1042.4,120.5 1042.7,122.2 1043,122.1 1043.3,122.2 1043.6,122.7 1043.9,122.9 1044.3,122.2 1044.6,121.3 1044.9,121.4 1045.2,123.8 1045.5,123.4 1045.8,123.1 1046.1,122.7 1046.5,123 1046.8,122.8 1047.1,122.3 1047.4,121.9 1047.7,124 1048,122.3 1048.4,121.5 1048.7,120.7 1049,120.8 1049.3,121.6 1049.6,121.2 1049.9,120.1 1050.2,119.9 1050.6,119.3 1050.9,118.3 1051.2,119.9 1051.5,118.8 1051.8,120.2 1052.1,117.3 1052.4,117.5 1052.8,118 1053.1,116.7 1053.4,115.6 1053.7,116.3 1054,117.6 1054.3,118.1 1054.6,118.2 1055,119.5 1055.3,119.8 1055.6,119.7 1055.9,119.9 1056.2,120 1056.5,121.1 1056.8,121.2 1057.2,120.3 1057.5,120.4 1057.8,119.5 1058.1,118.4 1058.4,118.5 1058.7,119.7 1059,119.2 1059.4,119.9 1059.7,118.4 1060,119 1060.3,119.5 1060.6,119.3 1060.9,118.2 1061.2,118.6 1061.6,119 1061.9,118.2 1062.2,119.4 1062.5,120.4 1062.8,119.9 1063.1,122.4 1063.4,121.3 1063.8,122 1064.1,122.6 1064.4,122.8 1064.7,124.2 1065,123.9 1065.3,125.1 1065.6,124.2 1066,124 1066.3,123.3 1066.6,122.3 1066.9,123.3 1067.2,122.6 1067.5,124 1067.8,123.1 1068.2,124.6 1068.5,124 1068.8,124.3 1069.1,123.9 1069.4,124.1 1069.7,124.6 1070.1,125 1070.4,123.8 1070.7,124.8 1071,126.6 1071.3,124.5 1071.6,124.4 1071.9,124.2 1072.3,123.6 1072.6,125.8 1072.9,125 1073.2,125.3 1073.5,127.1 1073.8,128.2 1074.1,126.1 1074.5,128.3 1074.8,128.6 1075.1,129.1 1075.4,129.8 1075.7,130 1076,131.7 1076.3,131.4 1076.7,131.7 1077,132.9 1077.3,133.1 1077.6,133.2 1077.9,133.5 1078.2,135.2 1078.5,134.6 1078.9,134.6 1079.2,133.8 1079.5,133.9 1079.8,133 1080.1,133.6 1080.4,133.4 1080.7,131.2 1081.1,132.6 1081.4,132.8 1081.7,132.1 1082,130.9 1082.3,132.3 1082.6,130.4 1082.9,129.7 1083.3,130.1 1083.6,131.1 1083.9,132.1 1084.2,132.5 1084.5,131.9 1084.8,131 1085.1,131.7 1085.5,132 1085.8,133.7 1086.1,133.5 1086.4,136.1 1086.7,137.6 1087,137.8 1087.3,137.9 1087.7,136.5 1088,135.8 1088.3,136.1 1088.6,137.2 1088.9,136.8 1089.2,135.3 1089.6,136.7 1089.9,135.9 1090.2,137.7 1090.5,137.3 1090.8,136.9 1091.1,138.3 1091.4,137.4 1091.8,137.6 1092.1,137.6 1092.4,139.3 1092.7,139.5 1093,139.8 1093.3,139.9 1093.6,141.3 1094,139.4 1094.3,138.8 1094.6,140 1094.9,139.8 1095.2,138.5 1095.5,136.5 1095.8,137 1096.2,137.6 1096.5,136.7 1096.8,137.6 1097.1,134.9 1097.4,136.1 1097.7,135.1 1098,136.7 1098.4,135.7 1098.7,136.7 1099,135.4 1099.3,134.9 1099.6,135.2 1099.9,135.7 1100.2,135.4 1100.6,137.3 1100.9,137.7 1101.2,137.4 1101.5,136.9 1101.8,138.2 1102.1,138.3 1102.4,140.6 1102.8,140.2 1103.1,140.9 1103.4,140.7 1103.7,140 1104,141.4 1104.3,141.3 1104.6,142.7 1105,142.6 1105.3,142 1105.6,142.5 1105.9,144.2 1106.2,142.4 1106.5,142.6 1106.8,143.3 1107.2,143.1 1107.5,143.9 1107.8,145.3 1108.1,146.9 1108.4,144.7 1108.7,146.8 1109,147.4 1109.4,148 1109.7,149.1 1110,151.5 1110.3,155.1 1110.6,153.3 1110.9,151.8 1111.3,150.2 1111.6,148.5 1111.9,146.6 1112.2,147.2 1112.5,146.9 1112.8,147.5 1113.1,147.9 1113.5,147.7 1113.8,148.3 1114.1,148.7 1114.4,150.2 1114.7,148.9 1115,148 1115.3,148.4 1115.7,148 1116,145.6 1116.3,147.7 1116.6,145.8 1116.9,145.2 1117.2,146.3 1117.5,145.8 1117.9,145.4 1118.2,147.9 1118.5,145.5 1118.8,146.5 1119.1,147.4 1119.4,145.5 1119.7,145.1 1120.1,144.4 1120.4,144.9 1120.7,141.2 1121,141 1121.3,141.2 1121.6,140.3 1121.9,138.9 1122.3,139.8 1122.6,139.2 1122.9,139.1 1123.2,139.2 1123.5,138.7 1123.8,137.8 1124.1,137.4 1124.5,135.9 1124.8,136.4 1125.1,136.4 1125.4,135.6 1125.7,135.6 1126,134.6 1126.3,136.2 1126.7,136.3 1127,134 1127.3,134.3 1127.6,133.5 1127.9,134.4 1128.2,133.6 1128.5,133.8 1128.9,134 1129.2,134.7 1129.5,134.3 1129.8,136.1 1130.1,135.5 1130.4,137 1130.7,137.1 1131.1,138.4 1131.4,137.9 1131.7,138.9 1132,137.5 1132.3,138.9 1132.6,138.4 1133,138.9 1133.3,138.5 1133.6,138.7 1133.9,135.9 1134.2,137.3 1134.5,135.5 1134.8,137.2 1135.2,134.2 1135.5,134.5 1135.8,133.5 1136.1,135.8 1136.4,133 1136.7,133.7 1137,132.7 1137.4,131.9 1137.7,133.3 1138,134.3 1138.3,134 1138.6,135.3 1138.9,134.6 1139.2,135.3 1139.6,135.4 1139.9,136.4 1140.2,138 1140.5,137.2 1140.8,137.4 1141.1,137.2 1141.4,137.3 1141.8,139.2 1142.1,137.3 1142.4,137.7 1142.7,138.5 1143,138.4 1143.3,140.4 1143.6,137.1 1144,139.5 1144.3,139.9 1144.6,138.6 1144.9,139.1 1145.2,140.1 1145.5,141.3 1145.8,139.4 1146.2,138.8 1146.5,140.4 1146.8,140.4 1147.1,138.4 1147.4,136.5 1147.7,138.9 1148,137.1 1148.4,137.7 1148.7,136.3 1149,135.6 1149.3,135 1149.6,136.3 1149.9,136 1150.2,132.9 1150.6,133.6 1150.9,135.6 1151.2,133.6 1151.5,132.5 1151.8,133.4 1152.1,133 1152.4,132.8 1152.8,132.2 1153.1,132.1 1153.4,131.8 1153.7,132.4 1154,131.5 1154.3,131.9 1154.7,132 1155,133.2 1155.3,132.5 1155.6,132.1 1155.9,132.6 1156.2,132.5 1156.5,133 1156.9,132.4 1157.2,133.3 1157.5,132.8 1157.8,131.5 1158.1,131.1 1158.4,131.9 1158.7,131.5 1159.1,130.8 1159.4,129.6 1159.7,129.1 1160,130.9 1160.3,131.5 1160.6,131.7 1160.9,130.3 1161.3,132.3 1161.6,131.3 1161.9,132.2 1162.2,132.5 1162.5,131.7 1162.8,132.1 1163.1,131.1 1163.5,132.2 1163.8,131.7 1164.1,133.7 1164.4,133.7 1164.7,134.5 1165,133.8 1165.3,132.7 1165.7,133.3 1166,132.5 1166.3,133 1166.6,132.6 1166.9,131.3 1167.2,131.8 1167.5,131.6 1167.9,131.1 1168.2,131.7 1168.5,131.9 1168.8,129.8 1169.1,129.4 1169.4,127.5 1169.7,128.8 1170.1,128.1 1170.4,126.5 1170.7,128.7 1171,129.3 1171.3,128.5 1171.6,129.1 1171.9,129 1172.3,130.7 1172.6,129.2 1172.9,129.9 1173.2,130.9 1173.5,128.6 1173.8,128.2 1174.1,126.9 1174.5,125.3 1174.8,125.4 1175.1,125 1175.4,123.9 1175.7,125.3 1176,126.2 1176.4,126.4 1176.7,124.5 1177,125.3 1177.3,125.1 1177.6,127.5 1177.9,127.4 1178.2,127.7 1178.6,126.7 1178.9,126.6 1179.2,127.8 1179.5,127.9 1179.8,127.3 1180.1,128.3 1180.4,128.9 1180.8,128.7 1181.1,127.8 1181.4,127.1 1181.7,128.7 1182,129.1 1182.3,128.9 1182.6,128.8 1183,128.6 1183.3,129.8 1183.6,129.3 1183.9,129.5 1184.2,128.7 1184.5,129 1184.8,129.7 1185.2,128.8 1185.5,128.7 1185.8,129.6 1186.1,131.1 1186.4,130.6 1186.7,132 1187,131 1187.4,131.2 1187.7,130.6 1188,131.6 1188.3,133.5 1188.6,133 1188.9,133.6 1189.2,133.9 1189.6,133.6 1189.9,133.8 1190.2,134.4 1190.5,135.1 1190.8,135.3 1191.1,135.6 1191.4,135.6 1191.8,135.2 1192.1,135.9 1192.4,135.7 1192.7,137.6 1193,135.3 1193.3,136.6 1193.6,138.6 1194,136.2 1194.3,135.4 1194.6,136.2 1194.9,137 1195.2,135.7 1195.5,136.2 1195.8,135.6 1196.2,135.1 1196.5,138 1196.8,135.6 1197.1,135.2 1197.4,135.3 1197.7,136.1 1198.1,136.2 1198.4,136.6 1198.7,136.1 1199,135 1199.3,136.6 1199.6,135.8 1199.9,135.6 1200.3,134.4 1200.6,134.9 1200.9,134.5 1201.2,134.8 1201.5,133.4 1201.8,134.4 1202.1,134.2 1202.5,133 1202.8,133.1 1203.1,132.5 1203.4,133.5 1203.7,130.4 1204,131.7 1204.3,130.3 1204.7,130.9 1205,131.5 1205.3,129.9 1205.6,130.2 1205.9,129.1 1206.2,131.3 1206.5,130.5 1206.9,130.6 1207.2,128.7 1207.5,128.9 1207.8,130.6 1208.1,129.6 1208.4,129.5 1208.7,130 1209.1,128.7 1209.4,130.3 1209.7,129.6 1210,129.9 1210.3,128.9 1210.6,129.8 1210.9,128.7 1211.3,130 1211.6,130 1211.9,129.8 1212.2,129.4 1212.5,129.5 1212.8,126.9 1213.1,129.8 1213.5,129 1213.8,129.4 1214.1,129.1 1214.4,128.3 1214.7,129.1 1215,130.1 1215.3,130.8 1215.7,129.2 1216,128.9 1216.3,130.7 1216.6,128.8 1216.9,131 1217.2,129.4 1217.5,128.5 1217.9,129.9 1218.2,130.4 1218.5,127.8 1218.8,130.2 1219.1,129 1219.4,130.6 1219.8,129.4 1220.1,128.6 1220.4,130.5 1220.7,131.1 1221,132.3 1221.3,132.2 1221.6,131.6 1222,131.1 1222.3,130.9 1222.6,131 1222.9,130.5 1223.2,130.8 1223.5,128.9 1223.8,131 1224.2,130.8 1224.5,132.8 1224.8,131.3 1225.1,130.2 1225.4,130.9 1225.7,129.3 1226,129.7 1226.4,128.5 1226.7,131 1227,130.1 1227.3,128.6 1227.6,129.3 1227.9,130 1228.2,129.4 1228.6,129.1 1228.9,127.6 1229.2,127.3 1229.5,127.4"/>
<path clip-path="url(#c0)" d="M598.0 302.95V32.5" stroke="#000" stroke-width="2.08" stroke-dasharray="7.71 3.33" fill="none"/>
<polygon clip-path="url(#c1)" fill="#808080" fill-opacity="0.25" stroke="none" points="598,539.4 598.3,538.4 598.6,538.7 598.9,538.9 599.3,538.1 599.6,538.7 599.9,539.1 600.2,537.7 600.5,538.3 600.8,538.6 601.1,538 601.5,539 601.8,539.1 602.1,538 602.4,538.5 602.7,538 603,538.3 603.3,538.6 603.7,538.2 604,538.4 604.3,538 604.6,539 604.9,538.8 605.2,537.9 605.5,538.6 605.9,539.8 606.2,537.9 606.5,539 606.8,539.7 607.1,537.9 607.4,538.4 607.7,536.6 608.1,538.7 608.4,538.2 608.7,538.2 609,537.8 609.3,538.2 609.6,538.2 609.9,537.9 610.3,537.2 610.6,537.2 610.9,537.1 611.2,536.7 611.5,536.1 611.8,535.6 612.1,536.1 612.5,535.4 612.8,535.5 613.1,534.7 613.4,534.4 613.7,534.7 614,534.9 614.3,536.5 614.7,535.3 615,536.2 615.3,536 615.6,536.1 615.9,535.9 616.2,536.7 616.6,536.8 616.9,535.8 617.2,537.2 617.5,536.8 617.8,536.1 618.1,536.7 618.4,537.7 618.8,537.9 619.1,537.4 619.4,538.3 619.7,538.3 620,537.1 620.3,537.6 620.6,538.8 621,538.3 621.3,538.7 621.6,539.5 621.9,539.2 622.2,538.9 622.5,538.5 622.8,540.6 623.2,538.5 623.5,539.1 623.8,540 624.1,539.3 624.4,538.8 624.7,538.7 625,540.1 625.4,539.8 625.7,538.2 626,538.5 626.3,539.6 626.6,540.1 626.9,538.6 627.2,539.4 627.6,537.7 627.9,537.4 628.2,537.5 628.5,538.4 628.8,538 629.1,538.1 629.4,536.3 629.8,538.1 630.1,536.6 630.4,538.3 630.7,536.6 631,535.1 631.3,535.9 631.6,535.2 632,536.4 632.3,535.4 632.6,535.8 632.9,534.4 633.2,534.2 633.5,534.5 633.8,534.3 634.2,533.4 634.5,534.1 634.8,534.3 635.1,533.2 635.4,533.2 635.7,533.3 636,534 636.4,533.7 636.7,534.1 637,534.6 637.3,533.8 637.6,533.9 637.9,533.9 638.3,535.1 638.6,534.2 638.9,534.4 639.2,534.3 639.5,535.1 639.8,534.9 640.1,534.1 640.5,535.5 640.8,535.3 641.1,535.9 641.4,535.5 641.7,535.3 642,534.4 642.3,535.4 642.7,535.3 643,533.7 643.3,533.9 643.6,534 643.9,533.4 644.2,533.4 644.5,532.6 644.9,532.1 645.2,533 645.5,531.2 645.8,532.6 646.1,531.8 646.4,532.2 646.7,531.8 647.1,532.3 647.4,531.8 647.7,532.3 648,531.2 648.3,531.4 648.6,532 648.9,532.4 649.3,531.5 649.6,533.2 649.9,531.7 650.2,532.4 650.5,530.7 650.8,531.2 651.1,531.1 651.5,531 651.8,530.7 652.1,531.4 652.4,531.1 652.7,532.5 653,531.7 653.3,532.3 653.7,531.2 654,533.8 654.3,534.2 654.6,533 654.9,533.4 655.2,533.6 655.5,534.7 655.9,532.8 656.2,532.8 656.5,532.2 656.8,533.1 657.1,533.2 657.4,531.9 657.7,532.9 658.1,532.1 658.4,531.3 658.7,532 659,532.2 659.3,532.1 659.6,531.5 660,531.8 660.3,530.8 660.6,530.9 660.9,531.6 661.2,530.3 661.5,529.7 661.8,529.3 662.2,529.3 662.5,528.2 662.8,528.4 663.1,527.9 663.4,528.2 663.7,527.1 664,527.6 664.4,527.3 664.7,527.5 665,527.6 665.3,527.9 665.6,526.7 665.9,526 666.2,527.3 666.6,527 666.9,526.4 667.2,527.1 667.5,527.8 667.8,526.8 668.1,526.2 668.4,526.5 668.8,525.9 669.1,527.8 669.4,525.9 669.7,526 670,527.3 670.3,526.7 670.6,526.1 671,527.5 671.3,527.7 671.6,526 671.9,527.5 672.2,527.8 672.5,528.4 672.8,527.6 673.2,527.9 673.5,527.6 673.8,528.1 674.1,528.8 674.4,528.4 674.7,527.7 675,528.1 675.4,529.5 675.7,527.7 676,528.2 676.3,528.2 676.6,529.4 676.9,528 677.2,528.2 677.6,528.4 677.9,528.7 678.2,528.7 678.5,527.6 678.8,527.5 679.1,527.3 679.4,528.8 679.8,527.9 680.1,528.1 680.4,527.9 680.7,527 681,526.8 681.3,527 681.7,528.8 682,527.3 682.3,527.8 682.6,526.8 682.9,528.9 683.2,527.3 683.5,526.2 683.9,526.8 684.2,527.3 684.5,527.8 684.8,527 685.1,527.7 685.4,527.6 685.7,527.6 686.1,527.3 686.4,527.9 686.7,528.4 687,527.8 687.3,527.6 687.6,529.6 687.9,528.5 688.3,528.5 688.6,527.4 688.9,529 689.2,527.5 689.5,529.3 689.8,528.9 690.1,528.5 690.5,528.5 690.8,529.1 691.1,528.9 691.4,528.2 691.7,530 692,528.6 692.3,529.5 692.7,529.4 693,530.8 693.3,529.1 693.6,530.6 693.9,530 694.2,527.6 694.5,528.2 694.9,528.3 695.2,527.8 695.5,528.3 695.8,528.2 696.1,528.1 696.4,526.7 696.7,526.9 697.1,525.9 697.4,525.8 697.7,524.9 698,524.3 698.3,523.6 698.6,523.7 698.9,523.5 699.3,522.8 699.6,522.1 699.9,524 700.2,523.9 700.5,523.3 700.8,524.1 701.1,523.4 701.5,523.4 701.8,523.6 702.1,524.9 702.4,525.6 702.7,524.7 703,524.7 703.4,525.6 703.7,525.4 704,525.1 704.3,523.8 704.6,524.7 704.9,524.6 705.2,524.2 705.6,524.5 705.9,524 706.2,524.3 706.5,523.9 706.8,523.8 707.1,524.9 707.4,523.9 707.8,524.2 708.1,524.4 708.4,523.3 708.7,523.7 709,523.3 709.3,523.7 709.6,523 710,524.2 710.3,523.6 710.6,522.8 710.9,523.7 711.2,522.7 711.5,522.4 711.8,523.4 712.2,523.1 712.5,522.6 712.8,523.4 713.1,523.1 713.4,522.8 713.7,523.2 714,522.6 714.4,523.1 714.7,522.4 715,522.3 715.3,520.2 715.6,521.6 715.9,522.9 716.2,521.2 716.6,521.4 716.9,521.3 717.2,520.5 717.5,522 717.8,522.8 718.1,522.6 718.4,521.5 718.8,521.1 719.1,521.4 719.4,522 719.7,521.5 720,522.1 720.3,521.7 720.6,520.7 721,520.6 721.3,521.7 721.6,521.6 721.9,521 722.2,521.8 722.5,520.8 722.8,520.5 723.2,520.5 723.5,520.7 723.8,518.8 724.1,520 724.4,519.8 724.7,519 725.1,518.8 725.4,519.8 725.7,518.6 726,518.5 726.3,519 726.6,517.5 726.9,519.4 727.3,517.1 727.6,516.9 727.9,516.1 728.2,516.2 728.5,515.7 728.8,516 729.1,515.7 729.5,515.1 729.8,517.4 730.1,517.3 730.4,517.4 730.7,517.5 731,517.7 731.3,517.1 731.7,519.4 732,517.5 732.3,517 732.6,518.8 732.9,517.2 733.2,517.4 733.5,516.6 733.9,516.9 734.2,517.6 734.5,518.1 734.8,517.2 735.1,518.4 735.4,517.5 735.7,517.1 736.1,518.6 736.4,518.3 736.7,518.1 737,517.5 737.3,518.1 737.6,517.2 737.9,516.7 738.3,517.2 738.6,516.7 738.9,515.6 739.2,516.8 739.5,514.8 739.8,515 740.1,515.4 740.5,514.9 740.8,515.4 741.1,515.3 741.4,513.6 741.7,515.8 742,514.8 742.3,515.1 742.7,514.7 743,514.6 743.3,515.7 743.6,515.3 743.9,514.9 744.2,514 744.5,515 744.9,513.9 745.2,513.7 745.5,513 745.8,513.3 746.1,514.2 746.4,514.5 746.8,514.9 747.1,514.6 747.4,515 747.7,514.6 748,515.5 748.3,515.7 748.6,515.9 749,516.8 749.3,516.8 749.6,516.3 749.9,515.6 750.2,516.5 750.5,516.6 750.8,516.8 751.2,516 751.5,515.7 751.8,515.4 752.1,516.4 752.4,516.1 752.7,516.8 753,515.7 753.4,517.4 753.7,516.5 754,516.5 754.3,516.8 754.6,517.2 754.9,517.3 755.2,515.7 755.6,516.6 755.9,517.2 756.2,517.3 756.5,517.2 756.8,516.6 757.1,517.4 757.4,517 757.8,517.2 758.1,517.9 758.4,517.2 758.7,517.5 759,518.2 759.3,517.9 759.6,516.6 760,516.8 760.3,516.2 760.6,518.1 760.9,517.4 761.2,517.2 761.5,517.4 761.8,516.8 762.2,517.8 762.5,516.9 762.8,518 763.1,517.6 763.4,517.3 763.7,517.7 764,517.2 764.4,517.3 764.7,518.1 765,518.5 765.3,517.9 765.6,518.5 765.9,516.8 766.2,518 766.6,518 766.9,517.8 767.2,518.5 767.5,519.4 767.8,518.7 768.1,519.2 768.5,519.5 768.8,519.6 769.1,518.9 769.4,518.7 769.7,519.8 770,519.8 770.3,519.1 770.7,520.5 771,519.2 771.3,519 771.6,519.7 771.9,519 772.2,519.7 772.5,519.7 772.9,519.4 773.2,519.8 773.5,519 773.8,518.4 774.1,520.3 774.4,520.3 774.7,520.2 775.1,519.3 775.4,519.7 775.7,519 776,519.8 776.3,518.2 776.6,518.9 776.9,518.3 777.3,518.9 777.6,518.3 777.9,517.1 778.2,517.8 778.5,517.3 778.8,518 779.1,518.1 779.5,516.7 779.8,517.5 780.1,516.5 780.4,516.8 780.7,517.1 781,517.7 781.3,517.3 781.7,517.3 782,516.6 782.3,516.8 782.6,517.2 782.9,516.9 783.2,516.9 783.5,517 783.9,517.5 784.2,517.1 784.5,516.9 784.8,516 785.1,515.1 785.4,514.6 785.7,515.2 786.1,514.7 786.4,514.4 786.7,515.6 787,517.3 787.3,516.2 787.6,516.5 787.9,516.5 788.3,516.9 788.6,516.2 788.9,517.4 789.2,517.7 789.5,517 789.8,516.7 790.2,516.2 790.5,516.2 790.8,514.8 791.1,513.9 791.4,514.6 791.7,515 792,515.5 792.4,514.8 792.7,515.5 793,515.4 793.3,516 793.6,515.4 793.9,516.3 794.2,516.6 794.6,516.2 794.9,516.4 795.2,516.5 795.5,516.5 795.8,516.8 796.1,516.6 796.4,517.8 796.8,517.8 797.1,517.6 797.4,517.9 797.7,518 798,519 798.3,518.8 798.6,518.3 799,519 799.3,517.7 799.6,518.3 799.9,518.1 800.2,518.7 800.5,518.1 800.8,517.9 801.2,517.9 801.5,517.4 801.8,517.4 802.1,517.6 802.4,518.3 802.7,518.2 803,518.4 803.4,518.9 803.7,518.3 804,516.5 804.3,517 804.6,518.1 804.9,517.1 805.2,517 805.6,516.7 805.9,515.5 806.2,516.4 806.5,515.8 806.8,515.1 807.1,515.6 807.4,516.1 807.8,514.6 808.1,513.6 808.4,514 808.7,513.2 809,511.9 809.3,512.7 809.7,512.9 810,512.2 810.3,512.8 810.6,513 810.9,512.9 811.2,513.1 811.5,513.3 811.9,513.5 812.2,513.7 812.5,514.3 812.8,513.6 813.1,513.4 813.4,514.2 813.7,513.4 814.1,515 814.4,513.6 814.7,514.9 815,513.5 815.3,513 815.6,512.9 815.9,512.1 816.3,511.4 816.6,510.8 816.9,509.9 817.2,509.8 817.5,510.8 817.8,508.8 818.1,511.2 818.5,510.6 818.8,509.8 819.1,511 819.4,511 819.7,510.5 820,508.4 820.3,508.5 820.7,510.1 821,509.1 821.3,510.1 821.6,509.7 821.9,510.2 822.2,509.8 822.5,510 822.9,509.1 823.2,510.1 823.5,509.7 823.8,510.8 824.1,509.9 824.4,510.6 824.7,510.7 825.1,510.4 825.4,510.1 825.7,510.8 826,510.7 826.3,511.3 826.6,510.4 826.9,510.4 827.3,511.6 827.6,511.4 827.9,512.1 828.2,512.2 828.5,510.1 828.8,511.2 829.1,511 829.5,510.8 829.8,511.1 830.1,511.5 830.4,510.1 830.7,510 831,510.3 831.4,510.2 831.7,509.8 832,510.7 832.3,511.3 832.6,510.5 832.9,511.8 833.2,510.9 833.6,512.4 833.9,511.4 834.2,511.7 834.5,511.7 834.8,512.6 835.1,512.9 835.4,513 835.8,513 836.1,513.1 836.4,513.1 836.7,513.3 837,513.7 837.3,513.5 837.6,514 838,513.4 838.3,513.3 838.6,514.6 838.9,513.6 839.2,514.2 839.5,513.5 839.8,513.2 840.2,513.3 840.5,513.6 840.8,514.9 841.1,513.7 841.4,514.2 841.7,513.9 842,514.2 842.4,513.5 842.7,514.9 843,514.4 843.3,514 843.6,514.8 843.9,513.4 844.2,514 844.6,514.6 844.9,515.4 845.2,514.2 845.5,515.7 845.8,515.4 846.1,514.2 846.4,515.1 846.8,515.6 847.1,514.4 847.4,515.9 847.7,514.2 848,516 848.3,515.9 848.6,516.2 849,515.7 849.3,515.4 849.6,514.3 849.9,516.3 850.2,515.6 850.5,515.9 850.8,515.6 851.2,515.1 851.5,517.2 851.8,516.8 852.1,517.8 852.4,518.6 852.7,517.8 853.1,518.8 853.4,518.1 853.7,518.2 854,518.8 854.3,517.3 854.6,517.6 854.9,517.5 855.3,518.1 855.6,517.2 855.9,517.4 856.2,516.1 856.5,515.7 856.8,516.2 857.1,517 857.5,516.2 857.8,515.4 858.1,515.1 858.4,516 858.7,515.4 859,514 859.3,513.4 859.7,515.5 860,514.3 860.3,514 860.6,514 860.9,513.6 861.2,513.4 861.5,513.3 861.9,512 862.2,512.9 862.5,512.6 862.8,513.4 863.1,513.2 863.4,512.4 863.7,512.7 864.1,513 864.4,514.3 864.7,513.9 865,513 865.3,514.4 865.6,513.2 865.9,514.5 866.3,513.7 866.6,512.6 866.9,512.6 867.2,512.4 867.5,512.8 867.8,512.6 868.1,509.3 868.5,508.2 868.8,509 869.1,508.6 869.4,508.6 869.7,508.7 870,508.7 870.3,509 870.7,508 871,506.9 871.3,508.5 871.6,507.8 871.9,507.2 872.2,508.2 872.5,507.7 872.9,508.1 873.2,506.8 873.5,508.2 873.8,507.8 874.1,507.9 874.4,507.3 874.8,507.1 875.1,508.1 875.4,507.8 875.7,507.2 876,506.6 876.3,507.5 876.6,506.7 877,507.4 877.3,506.4 877.6,506.8 877.9,506.7 878.2,506.1 878.5,506.6 878.8,505.3 879.2,506.8 879.5,505.7 879.8,505.3 880.1,505.2 880.4,504.8 880.7,504.2 881,504.5 881.4,503.7 881.7,503.5 882,504 882.3,504.1 882.6,504.1 882.9,505.3 883.2,506.3 883.6,505.1 883.9,506.3 884.2,505.4 884.5,505.5 884.8,504.8 885.1,505 885.4,504.7 885.8,504.9 886.1,504.6 886.4,506.1 886.7,504.3 887,505.2 887.3,505.4 887.6,503.9 888,504 888.3,505.6 888.6,504.4 888.9,505 889.2,503.6 889.5,504.6 889.8,505 890.2,505.6 890.5,506 890.8,504.4 891.1,505.5 891.4,504.5 891.7,504.2 892,504.1 892.4,504 892.7,503.3 893,504.2 893.3,503.7 893.6,504.6 893.9,506.1 894.2,503.8 894.6,505.6 894.9,504.1 895.2,504.5 895.5,505 895.8,504.5 896.1,504.6 896.5,504.4 896.8,503.2 897.1,503.4 897.4,504.3 897.7,504.6 898,505.6 898.3,503.7 898.7,505.8 899,505.6 899.3,505.4 899.6,505.2 899.9,505.4 900.2,505.6 900.5,507.2 900.9,506.9 901.2,507.6 901.5,508.7 901.8,509.9 902.1,511.9 902.4,513.3 902.7,515.1 903.1,516.7 903.4,517.1 903.7,516.5 904,515.7 904.3,515.3 904.6,515.6 904.9,514.4 905.3,513.2 905.6,512.8 905.9,511.2 906.2,510.9 906.5,509.9 906.8,510.6 907.1,509.9 907.5,509.3 907.8,508.6 908.1,509.2 908.4,509.1 908.7,508.2 909,508.5 909.3,508.1 909.7,508.5 910,507.7 910.3,508.4 910.6,509.6 910.9,509 911.2,508.5 911.5,509.4 911.9,508.3 912.2,509 912.5,508.8 912.8,508.3 913.1,509 913.4,510.3 913.7,508.6 914.1,508.8 914.4,510.6 914.7,509.4 915,509.9 915.3,509.9 915.6,510 915.9,510.9 916.3,510.2 916.6,510.2 916.9,510.6 917.2,511 917.5,511.5 917.8,510.6 918.2,511.1 918.5,511.3 918.8,510.8 919.1,511 919.4,510.3 919.7,509.4 920,510.5 920.4,509.1 920.7,509.8 921,508.7 921.3,508.2 921.6,508.5 921.9,507.7 922.2,508.6 922.6,508.6 922.9,508.8 923.2,509.9 923.5,509.7 923.8,509.2 924.1,510 924.4,509.9 924.8,509.6 925.1,509.2 925.4,509.7 925.7,511.3 926,510.3 926.3,510.7 926.6,511.4 927,510.1 927.3,511.2 927.6,509 927.9,509.6 928.2,508.6 928.5,509.6 928.8,509.3 929.2,508.6 929.5,508.4 929.8,510.3 930.1,508.7 930.4,508.6 930.7,507.6 931,507.6 931.4,508 931.7,507.6 932,507.6 932.3,507.4 932.6,506.4 932.9,507.5 933.2,507.3 933.6,507.4 933.9,507.3 934.2,507.9 934.5,506.4 934.8,506.7 935.1,507.2 935.4,506.1 935.8,506.8 936.1,505.7 936.4,505.7 936.7,505.2 937,505.7 937.3,506.9 937.6,506.7 938,505.6 938.3,505.7 938.6,506 938.9,504.6 939.2,504.9 939.5,505 939.9,503.8 940.2,504.3 940.5,504.2 940.8,504.3 941.1,504.2 941.4,503 941.7,505.4 942.1,505.7 942.4,507.1 942.7,508 943,508.4 943.3,509.6 943.6,507.4 943.9,508.2 944.3,508.2 944.6,508.9 944.9,507.9 945.2,508.2 945.5,507.8 945.8,508.8 946.1,507.3 946.5,506.8 946.8,506.9 947.1,507.4 947.4,507.9 947.7,505.5 948,506 948.3,507.5 948.7,506.3 949,506 949.3,506 949.6,505.7 949.9,505.5 950.2,506.1 950.5,505.6 950.9,507 951.2,504.5 951.5,506.2 951.8,505.5 952.1,506.8 952.4,505.2 952.7,506.1 953.1,506.7 953.4,506 953.7,505.3 954,505.5 954.3,505.6 954.6,506.2 954.9,505.2 955.3,505.2 955.6,504 955.9,504.5 956.2,505 956.5,503.9 956.8,503.5 957.1,503.4 957.5,504.1 957.8,503.6 958.1,503.5 958.4,502.8 958.7,502.1 959,503.7 959.3,502.8 959.7,503.5 960,503.2 960.3,502.5 960.6,502.2 960.9,503.4 961.2,501.7 961.6,501.6 961.9,504.1 962.2,502.7 962.5,503.4 962.8,504.1 963.1,504.8 963.4,503 963.8,503.6 964.1,504.4 964.4,503.8 964.7,503.1 965,503.9 965.3,502 965.6,503.4 966,502.6 966.3,502.4 966.6,501.8 966.9,501.9 967.2,502.6 967.5,502 967.8,502.4 968.2,502 968.5,501.3 968.8,501.3 969.1,501.4 969.4,501 969.7,502 970,500.3 970.4,501.8 970.7,500.3 971,500 971.3,500.3 971.6,499.4 971.9,501 972.2,500.9 972.6,500.6 972.9,500.6 973.2,500.2 973.5,498.2 973.8,499.7 974.1,498.7 974.4,499.6 974.8,498.8 975.1,498.7 975.4,498.3 975.7,499.1 976,499.3 976.3,497.9 976.6,498.6 977,498.4 977.3,497.8 977.6,497.4 977.9,498 978.2,497.8 978.5,497.1 978.8,496.8 979.2,496.6 979.5,495.5 979.8,495.5 980.1,495.6 980.4,495 980.7,496 981,496.7 981.4,496.8 981.7,495.4 982,495.3 982.3,495.1 982.6,495.9 982.9,495.5 983.3,496.2 983.6,494.9 983.9,495.7 984.2,495.3 984.5,495.8 984.8,495.6 985.1,494.6 985.5,496.3 985.8,495.8 986.1,495.9 986.4,495.8 986.7,495.2 987,495.7 987.3,496.1 987.7,496.5 988,495.6 988.3,495 988.6,495.9 988.9,495.2 989.2,495.4 989.5,495.7 989.9,496.3 990.2,495.4 990.5,496.4 990.8,496.5 991.1,496.3 991.4,497.5 991.7,495.4 992.1,496.2 992.4,496.2 992.7,496 993,496.7 993.3,494.4 993.6,495.3 993.9,494.8 994.3,494.4 994.6,494.7 994.9,495.2 995.2,494.7 995.5,495.9 995.8,493.7 996.1,494.7 996.5,494.5 996.8,494.3 997.1,494.5 997.4,493.8 997.7,494.2 998,493.6 998.3,493.4 998.7,493.1 999,493.3 999.3,493.9 999.6,493.1 999.9,493.7 1000.2,493.1 1000.5,493.1 1000.9,493.8 1001.2,492.3 1001.5,493 1001.8,493.7 1002.1,493.5 1002.4,493.5 1002.7,494.1 1003.1,493.1 1003.4,493.2 1003.7,494.2 1004,492.4 1004.3,493.4 1004.6,493.5 1005,493.4 1005.3,493.5 1005.6,492.9 1005.9,493.5 1006.2,493.4 1006.5,493.8 1006.8,493.8 1007.2,494.8 1007.5,494.4 1007.8,495.1 1008.1,494.6 1008.4,494.3 1008.7,494.6 1009,495 1009.4,493.8 1009.7,493.5 1010,493.6 1010.3,494.9 1010.6,494.3 1010.9,494.4 1011.2,494.7 1011.6,495.2 1011.9,494.6 1012.2,494.4 1012.5,494.4 1012.8,494.9 1013.1,494.1 1013.4,494.3 1013.8,494.3 1014.1,493.3 1014.4,492.7 1014.7,492.3 1015,492.7 1015.3,492.4 1015.6,493 1016,492.1 1016.3,492.9 1016.6,492.5 1016.9,493.2 1017.2,492.1 1017.5,492.7 1017.8,493 1018.2,491.8 1018.5,493.1 1018.8,492.7 1019.1,492.7 1019.4,492.5 1019.7,493.5 1020,493.3 1020.4,493.6 1020.7,494.4 1021,492.3 1021.3,494.6 1021.6,495.4 1021.9,493.9 1022.2,493.7 1022.6,493.7 1022.9,494.3 1023.2,495.1 1023.5,493.1 1023.8,491.7 1024.1,493.6 1024.4,493.3 1024.8,493.2 1025.1,493 1025.4,491.8 1025.7,493.2 1026,492.8 1026.3,493.5 1026.7,493.2 1027,493.1 1027.3,492.7 1027.6,494.7 1027.9,494 1028.2,494.4 1028.5,495.2 1028.9,494.7 1029.2,494.5 1029.5,492.8 1029.8,494.6 1030.1,494.3 1030.4,492.9 1030.7,492.5 1031.1,493.4 1031.4,492.9 1031.7,493.6 1032,491.8 1032.3,492.4 1032.6,492.6 1032.9,492.3 1033.3,491.1 1033.6,490.9 1033.9,491.6 1034.2,493.2 1034.5,491.6 1034.8,492 1035.1,492.9 1035.5,492.8 1035.8,493.4 1036.1,492.3 1036.4,492.5 1036.7,493.5 1037,492.9 1037.3,492.9 1037.7,492.3 1038,492.4 1038.3,492.4 1038.6,492.4 1038.9,492.3 1039.2,492.5 1039.5,492.5 1039.9,493.2 1040.2,493.6 1040.5,492.6 1040.8,493.8 1041.1,493.4 1041.4,491.9 1041.7,493.5 1042.1,492.7 1042.4,494.3 1042.7,493.6 1043,494.9 1043.3,495 1043.6,494 1043.9,493.9 1044.3,495.3 1044.6,494.3 1044.9,494.7 1045.2,495.3 1045.5,494.6 1045.8,495 1046.1,495.7 1046.5,494.7 1046.8,494.9 1047.1,493.8 1047.4,492.2 1047.7,493.5 1048,493.1 1048.4,493 1048.7,492.4 1049,491.6 1049.3,491.5 1049.6,491.7 1049.9,491 1050.2,490.6 1050.6,491.5 1050.9,491.2 1051.2,491.4 1051.5,490.6 1051.8,490.7 1052.1,490.2 1052.4,490.4 1052.8,491.1 1053.1,491.7 1053.4,490.5 1053.7,491 1054,490.4 1054.3,490 1054.6,490.5 1055,490.8 1055.3,490.8 1055.6,490.5 1055.9,491.1 1056.2,491.7 1056.5,490.8 1056.8,491.4 1057.2,491.4 1057.5,491.6 1057.8,491.4 1058.1,491.5 1058.4,490.9 1058.7,490.1 1059,490.1 1059.4,490.4 1059.7,490.1 1060,490.2 1060.3,490.4 1060.6,490.5 1060.9,490.2 1061.2,490.6 1061.6,491.6 1061.9,490 1062.2,490.4 1062.5,490.2 1062.8,491.6 1063.1,491.6 1063.4,490.5 1063.8,491.6 1064.1,490.7 1064.4,491.8 1064.7,491.8 1065,492 1065.3,491.1 1065.6,492.4 1066,492.6 1066.3,493.5 1066.6,492.9 1066.9,493 1067.2,492.4 1067.5,492.8 1067.8,492.8 1068.2,492.5 1068.5,492.3 1068.8,491.7 1069.1,491.1 1069.4,492.1 1069.7,493 1070.1,493 1070.4,492.1 1070.7,493.8 1071,493.5 1071.3,493.3 1071.6,492.2 1071.9,493 1072.3,493 1072.6,493.6 1072.9,492 1073.2,491.9 1073.5,492.7 1073.8,492.5 1074.1,492.3 1074.5,491.8 1074.8,492.1 1075.1,493 1075.4,493.5 1075.7,494.2 1076,493.6 1076.3,493.5 1076.7,495.4 1077,495.1 1077.3,495.3 1077.6,496.3 1077.9,495.1 1078.2,496.2 1078.5,496.3 1078.9,497.1 1079.2,497 1079.5,497.3 1079.8,495.9 1080.1,496.2 1080.4,495.7 1080.7,496.7 1081.1,496.6 1081.4,495.7 1081.7,496 1082,495.5 1082.3,495.3 1082.6,496.4 1082.9,495.6 1083.3,496.4 1083.6,497 1083.9,495 1084.2,496 1084.5,495.5 1084.8,496 1085.1,494.7 1085.5,496.7 1085.8,496.2 1086.1,497.2 1086.4,497.6 1086.7,498.1 1087,497.9 1087.3,498.1 1087.7,497.7 1088,497 1088.3,497.5 1088.6,497.6 1088.9,497.7 1089.2,498 1089.6,498 1089.9,498.5 1090.2,499 1090.5,497.2 1090.8,497.8 1091.1,497.9 1091.4,497.4 1091.8,497.9 1092.1,496.1 1092.4,497.7 1092.7,497.1 1093,496 1093.3,496.9 1093.6,498 1094,496.7 1094.3,497.9 1094.6,497.8 1094.9,496.6 1095.2,496.1 1095.5,496.6 1095.8,496.9 1096.2,497 1096.5,496 1096.8,495.2 1097.1,496.6 1097.4,494.6 1097.7,495.6 1098,495.8 1098.4,496.1 1098.7,495.5 1099,496 1099.3,496.4 1099.6,496 1099.9,495.5 1100.2,496.6 1100.6,496.4 1100.9,495.9 1101.2,496.2 1101.5,497.9 1101.8,496.9 1102.1,497.5 1102.4,497.1 1102.8,497.5 1103.1,497.7 1103.4,497.6 1103.7,498.6 1104,499 1104.3,499.1 1104.6,498.7 1105,498.8 1105.3,498.2 1105.6,500.2 1105.9,499.7 1106.2,499.4 1106.5,499.7 1106.8,501 1107.2,500.5 1107.5,501.3 1107.8,501.1 1108.1,501.7 1108.4,501.5 1108.7,499.8 1109,502.7 1109.4,502.1 1109.7,504.6 1110,504.7 1110.3,504.8 1110.6,504 1110.9,502.9 1111.3,502.7 1111.6,501.9 1111.9,500.5 1112.2,500.2 1112.5,502.1 1112.8,501.6 1113.1,500.6 1113.5,502 1113.8,502.2 1114.1,501.8 1114.4,501.9 1114.7,501.1 1115,499.4 1115.3,501.3 1115.7,500.2 1116,501.6 1116.3,500 1116.6,500.3 1116.9,499.3 1117.2,498.6 1117.5,498.9 1117.9,500.2 1118.2,499 1118.5,497.8 1118.8,499.5 1119.1,499.6 1119.4,498.4 1119.7,498.9 1120.1,498.8 1120.4,498.3 1120.7,498.8 1121,497.7 1121.3,498.8 1121.6,498.9 1121.9,497.5 1122.3,498.2 1122.6,498 1122.9,497.6 1123.2,497.9 1123.5,496.8 1123.8,496.1 1124.1,496.8 1124.5,496.3 1124.8,494.6 1125.1,495.9 1125.4,495.3 1125.7,495.5 1126,495.7 1126.3,496.5 1126.7,495.7 1127,495 1127.3,495 1127.6,495.7 1127.9,496.1 1128.2,497.8 1128.5,495.9 1128.9,496.4 1129.2,497.6 1129.5,497.1 1129.8,497.7 1130.1,496.9 1130.4,496.8 1130.7,498.2 1131.1,497.1 1131.4,498.1 1131.7,497.3 1132,497.7 1132.3,498.2 1132.6,497 1133,496.9 1133.3,498 1133.6,497.3 1133.9,497 1134.2,497.5 1134.5,496.2 1134.8,496.6 1135.2,495.7 1135.5,495.5 1135.8,496.5 1136.1,496.7 1136.4,495.9 1136.7,494.8 1137,495.7 1137.4,496.1 1137.7,496.1 1138,496.9 1138.3,495.9 1138.6,496.7 1138.9,496.5 1139.2,496.8 1139.6,496.8 1139.9,497.5 1140.2,496.6 1140.5,497.2 1140.8,497.6 1141.1,497.9 1141.4,498 1141.8,497.5 1142.1,498.1 1142.4,498.2 1142.7,497.4 1143,498.7 1143.3,498.4 1143.6,497.4 1144,497.5 1144.3,497.3 1144.6,497.6 1144.9,497.9 1145.2,497.9 1145.5,497.5 1145.8,498.1 1146.2,498.5 1146.5,498.4 1146.8,498.3 1147.1,497.4 1147.4,497.1 1147.7,497.9 1148,496.7 1148.4,495.9 1148.7,496.5 1149,496.7 1149.3,494.7 1149.6,496.5 1149.9,494.8 1150.2,495.8 1150.6,495.3 1150.9,494.8 1151.2,494.5 1151.5,494.4 1151.8,494.2 1152.1,494.6 1152.4,495.4 1152.8,494.6 1153.1,495.8 1153.4,494.4 1153.7,494.1 1154,494.5 1154.3,495.5 1154.7,494.1 1155,494.5 1155.3,495.1 1155.6,494.2 1155.9,494.8 1156.2,494.4 1156.5,494.4 1156.9,494.4 1157.2,494.4 1157.5,495 1157.8,493.6 1158.1,493.7 1158.4,494 1158.7,493.2 1159.1,493.4 1159.4,493.1 1159.7,493.6 1160,492.5 1160.3,493.2 1160.6,492.8 1160.9,493.6 1161.3,491.9 1161.6,491.9 1161.9,491.9 1162.2,492.2 1162.5,492.3 1162.8,493.2 1163.1,492.4 1163.5,492.8 1163.8,492.8 1164.1,493.3 1164.4,492.1 1164.7,492.5 1165,493 1165.3,493.8 1165.7,492.6 1166,492.4 1166.3,493.1 1166.6,492.5 1166.9,492.2 1167.2,493 1167.5,491.3 1167.9,491.9 1168.2,492.4 1168.5,490.8 1168.8,492.1 1169.1,491 1169.4,490.8 1169.7,491.5 1170.1,490.8 1170.4,489.2 1170.7,490.8 1171,490.6 1171.3,489.9 1171.6,491.2 1171.9,490.5 1172.3,490.3 1172.6,492 1172.9,491.2 1173.2,491.2 1173.5,491.2 1173.8,489.1 1174.1,490.8 1174.5,488.9 1174.8,488.7 1175.1,489.3 1175.4,488.7 1175.7,489.7 1176,488.5 1176.4,489.2 1176.7,488.9 1177,488.5 1177.3,488.9 1177.6,488.9 1177.9,489.4 1178.2,489.3 1178.6,490 1178.9,489.4 1179.2,489.9 1179.5,490.8 1179.8,490.2 1180.1,491.6 1180.4,490.1 1180.8,490.2 1181.1,490.3 1181.4,490.6 1181.7,490.3 1182,489.7 1182.3,489.6 1182.6,489.4 1183,489.6 1183.3,488.7 1183.6,488.8 1183.9,488.9 1184.2,490.5 1184.5,489.9 1184.8,490.4 1185.2,489.7 1185.5,490.1 1185.8,489.5 1186.1,489 1186.4,490 1186.7,489.9 1187,490 1187.4,489.6 1187.7,490.8 1188,491 1188.3,490.9 1188.6,491.3 1188.9,490.3 1189.2,491.2 1189.6,491 1189.9,491 1190.2,491.4 1190.5,491.1 1190.8,491.6 1191.1,492 1191.4,491.2 1191.8,493.3 1192.1,493.1 1192.4,493.2 1192.7,493.8 1193,493.1 1193.3,493.1 1193.6,493.6 1194,492.3 1194.3,491.8 1194.6,493 1194.9,492.3 1195.2,493 1195.5,492.7 1195.8,491.9 1196.2,492.3 1196.5,491.7 1196.8,492.5 1197.1,492.4 1197.4,493 1197.7,493.7 1198.1,492.8 1198.4,492.5 1198.7,492.8 1199,492.8 1199.3,492.5 1199.6,492.8 1199.9,491.9 1200.3,492 1200.6,492.5 1200.9,492.8 1201.2,492.5 1201.5,491.9 1201.8,492.6 1202.1,492.1 1202.5,492.8 1202.8,491.9 1203.1,491.5 1203.4,490.6 1203.7,491.9 1204,491.6 1204.3,491.6 1204.7,490.4 1205,489.9 1205.3,491.2 1205.6,490.2 1205.9,488.6 1206.2,490.3 1206.5,489 1206.9,490.4 1207.2,490.1 1207.5,488.3 1207.8,489.7 1208.1,489.5 1208.4,489.9 1208.7,488.8 1209.1,488.7 1209.4,490 1209.7,488.3 1210,489.4 1210.3,489.8 1210.6,489.9 1210.9,489.7 1211.3,490.8 1211.6,490.2 1211.9,489.3 1212.2,489.3 1212.5,488.9 1212.8,489.3 1213.1,490.4 1213.5,489.5 1213.8,489 1214.1,488.3 1214.4,487.4 1214.7,488.8 1215,488.3 1215.3,488.9 1215.7,488 1216,489 1216.3,488.4 1216.6,488.2 1216.9,488.7 1217.2,488.2 1217.5,488.4 1217.9,488 1218.2,488.7 1218.5,487.4 1218.8,488.3 1219.1,488.6 1219.4,488.8 1219.8,488.5 1220.1,489 1220.4,488.3 1220.7,489.7 1221,487.8 1221.3,487 1221.6,486.9 1222,487 1222.3,488.1 1222.6,487.1 1222.9,487.3 1223.2,488.6 1223.5,487.1 1223.8,488.2 1224.2,488.7 1224.5,488.8 1224.8,488.3 1225.1,487.3 1225.4,487.6 1225.7,489 1226,489.1 1226.4,487.9 1226.7,488.7 1227,488.6 1227.3,487.9 1227.6,488.8 1227.9,487.6 1228.2,488.5 1228.6,488.5 1228.9,488.1 1229.2,487.8 1229.5,489.1 1229.5,610.1 1229.2,610.2 1228.9,610.3 1228.6,610.8 1228.2,608.7 1227.9,610.2 1227.6,609.8 1227.3,610.7 1227,610.7 1226.7,610.4 1226.4,610 1226,609.6 1225.7,609.8 1225.4,610.4 1225.1,609.5 1224.8,610.7 1224.5,609.6 1224.2,610.5 1223.8,610.5 1223.5,609.5 1223.2,610.4 1222.9,609.6 1222.6,609.9 1222.3,610.3 1222,610.2 1221.6,609.5 1221.3,610.9 1221,609.5 1220.7,610 1220.4,611.7 1220.1,610.4 1219.8,609.2 1219.4,610.3 1219.1,610.6 1218.8,610.4 1218.5,609.7 1218.2,610 1217.9,610.2 1217.5,610.4 1217.2,610.6 1216.9,611.4 1216.6,611.2 1216.3,611.5 1216,610.4 1215.7,610.6 1215.3,609.9 1215,611.8 1214.7,610.8 1214.4,610.5 1214.1,610.4 1213.8,610.9 1213.5,610.7 1213.1,609.9 1212.8,612.1 1212.5,610.9 1212.2,610 1211.9,611.3 1211.6,610.3 1211.3,610.2 1210.9,610.1 1210.6,609.2 1210.3,610.1 1210,610.4 1209.7,610.7 1209.4,610.2 1209.1,611 1208.7,610.2 1208.4,610.8 1208.1,610.5 1207.8,610.3 1207.5,610.6 1207.2,610 1206.9,610.9 1206.5,609.8 1206.2,610.8 1205.9,610.5 1205.6,610.6 1205.3,610.4 1205,611 1204.7,610.3 1204.3,611.9 1204,611.7 1203.7,612.1 1203.4,611 1203.1,612 1202.8,613 1202.5,611.2 1202.1,612 1201.8,612.6 1201.5,611.8 1201.2,612 1200.9,611.3 1200.6,613 1200.3,613.2 1199.9,612 1199.6,611.2 1199.3,611.8 1199,612.6 1198.7,612.4 1198.4,611.6 1198.1,613.3 1197.7,611.6 1197.4,612.9 1197.1,611.5 1196.8,611.7 1196.5,611.7 1196.2,612.6 1195.8,612.3 1195.5,612.9 1195.2,612 1194.9,612.5 1194.6,613.2 1194.3,611.8 1194,611.4 1193.6,611.4 1193.3,612.2 1193,611.1 1192.7,612.4 1192.4,611.9 1192.1,611.2 1191.8,611.3 1191.4,611 1191.1,610 1190.8,610.9 1190.5,611 1190.2,610.7 1189.9,610.3 1189.6,609.7 1189.2,609.6 1188.9,610.2 1188.6,610.5 1188.3,610.2 1188,608.8 1187.7,609.9 1187.4,609.3 1187,609.4 1186.7,608.4 1186.4,608.9 1186.1,608.7 1185.8,608.5 1185.5,608.4 1185.2,608 1184.8,607.8 1184.5,608.2 1184.2,608.8 1183.9,609.3 1183.6,607.5 1183.3,608.1 1183,607.7 1182.6,608.9 1182.3,609.7 1182,608 1181.7,607.8 1181.4,607.9 1181.1,608.1 1180.8,608.1 1180.4,608 1180.1,607.3 1179.8,608.2 1179.5,607.2 1179.2,608.3 1178.9,606.2 1178.6,606.8 1178.2,606.9 1177.9,606 1177.6,606.5 1177.3,607.2 1177,607.1 1176.7,607 1176.4,606.9 1176,606.5 1175.7,607 1175.4,606.8 1175.1,606.4 1174.8,606.5 1174.5,607.9 1174.1,607.4 1173.8,606.8 1173.5,608.2 1173.2,608.4 1172.9,605 1172.6,607.5 1172.3,608.5 1171.9,607.7 1171.6,606 1171.3,606.7 1171,607.5 1170.7,608.5 1170.4,607.8 1170.1,608.4 1169.7,608.3 1169.4,608.1 1169.1,608.6 1168.8,608.1 1168.5,608.3 1168.2,607.9 1167.9,608 1167.5,608.4 1167.2,609 1166.9,608.8 1166.6,609 1166.3,609.5 1166,609.1 1165.7,610.2 1165.3,609.3 1165,610.1 1164.7,609.5 1164.4,609.4 1164.1,609.9 1163.8,610.2 1163.5,609.5 1163.1,610.5 1162.8,609.4 1162.5,609.6 1162.2,610 1161.9,609.4 1161.6,610.3 1161.3,608.6 1160.9,608.4 1160.6,608.3 1160.3,609.1 1160,609.3 1159.7,610 1159.4,610.1 1159.1,609.5 1158.7,610.4 1158.4,610.9 1158.1,610.2 1157.8,609.8 1157.5,609.8 1157.2,610.9 1156.9,610.8 1156.5,610.6 1156.2,610.4 1155.9,610.6 1155.6,611.6 1155.3,610.3 1155,609.6 1154.7,610.5 1154.3,610.1 1154,610.5 1153.7,609.5 1153.4,610.1 1153.1,609.7 1152.8,609.9 1152.4,609.9 1152.1,610.3 1151.8,609.9 1151.5,611.2 1151.2,610.9 1150.9,612 1150.6,610.6 1150.2,610.8 1149.9,610.6 1149.6,611.5 1149.3,610.9 1149,609.1 1148.7,611.6 1148.4,610.5 1148,611.6 1147.7,611.3 1147.4,611.4 1147.1,611.8 1146.8,612.3 1146.5,612.3 1146.2,612 1145.8,612.1 1145.5,611.7 1145.2,612.5 1144.9,611.8 1144.6,610.9 1144.3,612.1 1144,611.5 1143.6,611.1 1143.3,612.1 1143,611.7 1142.7,611.4 1142.4,610.7 1142.1,610.6 1141.8,611.6 1141.4,612 1141.1,613 1140.8,611.4 1140.5,611.4 1140.2,611.8 1139.9,610.4 1139.6,611.4 1139.2,610.6 1138.9,609.2 1138.6,610.8 1138.3,609.5 1138,610.2 1137.7,610.7 1137.4,609.5 1137,608.8 1136.7,610.3 1136.4,609.3 1136.1,609.4 1135.8,609.6 1135.5,609.5 1135.2,608.7 1134.8,609.7 1134.5,609.7 1134.2,609.1 1133.9,610.1 1133.6,610.5 1133.3,609.8 1133,609.1 1132.6,609.9 1132.3,611 1132,610.3 1131.7,609.5 1131.4,610.6 1131.1,609.9 1130.7,610.6 1130.4,609.8 1130.1,610.5 1129.8,610.5 1129.5,609.2 1129.2,609.8 1128.9,608.9 1128.5,609.2 1128.2,609 1127.9,608.5 1127.6,609.1 1127.3,607.8 1127,608 1126.7,607.8 1126.3,607.7 1126,607.9 1125.7,608.3 1125.4,608.4 1125.1,608.2 1124.8,607.7 1124.5,609 1124.1,609.2 1123.8,608.6 1123.5,608.1 1123.2,609.6 1122.9,608.9 1122.6,608.9 1122.3,609.6 1121.9,610.2 1121.6,609.4 1121.3,609.3 1121,610.3 1120.7,610.8 1120.4,610.4 1120.1,610.3 1119.7,611.5 1119.4,609.9 1119.1,610.6 1118.8,610.6 1118.5,611.8 1118.2,611.3 1117.9,611.3 1117.5,610.7 1117.2,610.7 1116.9,611.5 1116.6,611.6 1116.3,611.3 1116,611.6 1115.7,612.3 1115.3,611.2 1115,612.2 1114.7,612.9 1114.4,612 1114.1,613 1113.8,612.9 1113.5,612 1113.1,612.3 1112.8,612.9 1112.5,612.7 1112.2,612 1111.9,613.5 1111.6,612.5 1111.3,614 1110.9,615 1110.6,614.4 1110.3,616.9 1110,615.4 1109.7,614.5 1109.4,613.6 1109,611.6 1108.7,611.7 1108.4,611.7 1108.1,610.9 1107.8,611.4 1107.5,611.8 1107.2,610.9 1106.8,610.8 1106.5,610.5 1106.2,610.5 1105.9,610.2 1105.6,611.1 1105.3,610.3 1105,610.6 1104.6,609.5 1104.3,610 1104,609.8 1103.7,609.9 1103.4,608.8 1103.1,608 1102.8,607.5 1102.4,607.9 1102.1,608.9 1101.8,606.6 1101.5,607.2 1101.2,606.8 1100.9,607.1 1100.6,605.2 1100.2,605.2 1099.9,605.4 1099.6,606 1099.3,605.4 1099,606.2 1098.7,605.7 1098.4,605.9 1098,604.2 1097.7,605.2 1097.4,605.5 1097.1,606 1096.8,604.8 1096.5,604.5 1096.2,605.3 1095.8,605.5 1095.5,606.7 1095.2,605.3 1094.9,605.5 1094.6,606.7 1094.3,606 1094,606.9 1093.6,606 1093.3,606.9 1093,607.3 1092.7,606.9 1092.4,605.9 1092.1,607.1 1091.8,606.4 1091.4,606.4 1091.1,607.2 1090.8,606.2 1090.5,605.6 1090.2,606.4 1089.9,605.6 1089.6,605.8 1089.2,605.9 1088.9,605.4 1088.6,606.4 1088.3,606.4 1088,606.4 1087.7,606.2 1087.3,604.6 1087,604.9 1086.7,606.2 1086.4,604.1 1086.1,604.7 1085.8,604.6 1085.5,604.6 1085.1,605.4 1084.8,604.3 1084.5,602.6 1084.2,605 1083.9,604.2 1083.6,604 1083.3,602.7 1082.9,604.3 1082.6,603.7 1082.3,603.3 1082,604 1081.7,602.8 1081.4,603.4 1081.1,604.1 1080.7,603.4 1080.4,603.8 1080.1,604.6 1079.8,603.3 1079.5,604.6 1079.2,603.5 1078.9,604.4 1078.5,603.8 1078.2,603.3 1077.9,602.4 1077.6,603.9 1077.3,602.8 1077,602.1 1076.7,602.7 1076.3,602.1 1076,600.6 1075.7,599.8 1075.4,599.7 1075.1,599.7 1074.8,599.5 1074.5,598.3 1074.1,598.8 1073.8,599.3 1073.5,599.2 1073.2,598.6 1072.9,597.9 1072.6,597.9 1072.3,598.6 1071.9,598.6 1071.6,598.3 1071.3,597.2 1071,597.2 1070.7,597.8 1070.4,597.9 1070.1,597.1 1069.7,598.1 1069.4,597.2 1069.1,598.2 1068.8,599 1068.5,598.3 1068.2,598.4 1067.8,598.7 1067.5,599.3 1067.2,599.8 1066.9,598.3 1066.6,598.1 1066.3,597.9 1066,598 1065.6,598.4 1065.3,597.8 1065,598.7 1064.7,597.9 1064.4,598 1064.1,596.8 1063.8,596.8 1063.4,597.8 1063.1,597.2 1062.8,596 1062.5,596.9 1062.2,595.3 1061.9,594.9 1061.6,597.4 1061.2,595.4 1060.9,594.7 1060.6,595.7 1060.3,595.7 1060,596.8 1059.7,596 1059.4,596.7 1059,597.3 1058.7,596.2 1058.4,596.3 1058.1,596.9 1057.8,597 1057.5,595.4 1057.2,596.4 1056.8,597.1 1056.5,596.1 1056.2,596.2 1055.9,596.1 1055.6,596.7 1055.3,596.1 1055,594.9 1054.6,594.9 1054.3,596.3 1054,596.4 1053.7,594.7 1053.4,595.9 1053.1,593.9 1052.8,595.2 1052.4,595.4 1052.1,595.9 1051.8,594.9 1051.5,595.8 1051.2,595.6 1050.9,596 1050.6,595.9 1050.2,595 1049.9,596.8 1049.6,596.8 1049.3,595.9 1049,597 1048.7,595.8 1048.4,596.9 1048,596.8 1047.7,597.1 1047.4,597.2 1047.1,598.3 1046.8,598 1046.5,598.1 1046.1,597.7 1045.8,597.4 1045.5,597.6 1045.2,598.1 1044.9,598.1 1044.6,597.7 1044.3,597.1 1043.9,597.7 1043.6,598 1043.3,597.2 1043,597.4 1042.7,597.5 1042.4,596.5 1042.1,595.3 1041.7,596.4 1041.4,596.8 1041.1,597.5 1040.8,595.5 1040.5,595.6 1040.2,595.9 1039.9,596 1039.5,597.3 1039.2,596.7 1038.9,597.6 1038.6,596.1 1038.3,596 1038,595.5 1037.7,595.8 1037.3,595.4 1037,594.9 1036.7,596.2 1036.4,595.7 1036.1,594.8 1035.8,595.5 1035.5,595.1 1035.1,594.7 1034.8,594.7 1034.5,594.6 1034.2,594.6 1033.9,594.2 1033.6,593.5 1033.3,593.8 1032.9,593.8 1032.6,594.5 1032.3,594.5 1032,595.2 1031.7,593.9 1031.4,593.3 1031.1,594.3 1030.7,595.5 1030.4,594.6 1030.1,596.3 1029.8,595.7 1029.5,596.4 1029.2,596.7 1028.9,595.9 1028.5,595.8 1028.2,595.6 1027.9,596 1027.6,594.9 1027.3,596.2 1027,594.6 1026.7,595.5 1026.3,595.1 1026,594.4 1025.7,594.4 1025.4,595.1 1025.1,593.6 1024.8,593.5 1024.4,594.5 1024.1,593.4 1023.8,594.8 1023.5,595.9 1023.2,595.8 1022.9,595 1022.6,595 1022.2,594.9 1021.9,596.3 1021.6,595.2 1021.3,593.2 1021,595 1020.7,595.7 1020.4,593.3 1020,593.8 1019.7,593.1 1019.4,593.8 1019.1,593.1 1018.8,592.8 1018.5,592.6 1018.2,592.3 1017.8,592.6 1017.5,593 1017.2,593.6 1016.9,591.3 1016.6,593.5 1016.3,592.6 1016,593.4 1015.6,593.6 1015.3,592.5 1015,594.5 1014.7,592.8 1014.4,594.4 1014.1,594.1 1013.8,595.7 1013.4,593.7 1013.1,593.3 1012.8,595.3 1012.5,594.3 1012.2,594.4 1011.9,594.7 1011.6,593.7 1011.2,593.3 1010.9,594 1010.6,592.7 1010.3,592.8 1010,594.1 1009.7,594.1 1009.4,592.6 1009,592.4 1008.7,593.8 1008.4,593.3 1008.1,593.7 1007.8,593.3 1007.5,593.7 1007.2,593.4 1006.8,593.3 1006.5,593.5 1006.2,593.7 1005.9,593.8 1005.6,592.5 1005.3,592.5 1005,593.1 1004.6,592.1 1004.3,591.5 1004,591.5 1003.7,591.6 1003.4,592 1003.1,591.5 1002.7,590.9 1002.4,591.8 1002.1,590.7 1001.8,590.6 1001.5,591.2 1001.2,591.6 1000.9,591.5 1000.5,590.4 1000.2,592.3 999.9,590.7 999.6,592.1 999.3,592.5 999,591.3 998.7,591.6 998.3,591.9 998,592.1 997.7,591.6 997.4,592.6 997.1,591.6 996.8,592.3 996.5,591.5 996.1,592 995.8,592.2 995.5,592.8 995.2,591.4 994.9,591.7 994.6,591.9 994.3,593.3 993.9,593.2 993.6,592.1 993.3,591.6 993,593.4 992.7,593.2 992.4,592.5 992.1,592.9 991.7,593.2 991.4,593.2 991.1,594 990.8,594 990.5,592.9 990.2,592.9 989.9,592.3 989.5,592.4 989.2,592.2 988.9,591.5 988.6,591.6 988.3,591.2 988,592.7 987.7,592.1 987.3,592 987,592.3 986.7,592.7 986.4,592 986.1,592.3 985.8,592.7 985.5,592.5 985.1,590.9 984.8,592.2 984.5,592.2 984.2,591.4 983.9,592.4 983.6,591.5 983.3,590.9 982.9,590.5 982.6,591.1 982.3,592.2 982,592.1 981.7,590.9 981.4,590.6 981,590.8 980.7,590.7 980.4,592 980.1,591.1 979.8,591.3 979.5,592.2 979.2,592.2 978.8,592.4 978.5,592.5 978.2,592.7 977.9,592.1 977.6,593.2 977.3,592.1 977,592.3 976.6,593.3 976.3,593.3 976,593.9 975.7,593.4 975.4,593.7 975.1,594.9 974.8,593.6 974.4,594.2 974.1,594.2 973.8,595.2 973.5,594.2 973.2,593.9 972.9,594.2 972.6,594.8 972.2,595.7 971.9,594 971.6,595.5 971.3,593.8 971,595.4 970.7,595.2 970.4,595.4 970,595.6 969.7,596.6 969.4,594.7 969.1,596.4 968.8,596.5 968.5,597 968.2,596 967.8,595.5 967.5,596.1 967.2,597 966.9,596.4 966.6,596.4 966.3,596.1 966,596.7 965.6,596.9 965.3,596.4 965,596.7 964.7,596.4 964.4,597.3 964.1,596.9 963.8,596.5 963.4,596.7 963.1,597.5 962.8,596.5 962.5,595.4 962.2,597.5 961.9,595.9 961.6,595.9 961.2,597.3 960.9,596.5 960.6,595.8 960.3,596 960,596.7 959.7,595.9 959.3,595.9 959,596.2 958.7,596.2 958.4,595.6 958.1,596 957.8,596.7 957.5,597 957.1,596 956.8,597 956.5,597.2 956.2,596.4 955.9,598.3 955.6,596.6 955.3,597 954.9,597 954.6,597.9 954.3,597.5 954,597.7 953.7,597.1 953.4,597.3 953.1,597 952.7,597.2 952.4,598.2 952.1,597.5 951.8,597.6 951.5,597.2 951.2,598.2 950.9,598 950.5,597 950.2,596.9 949.9,599 949.6,598.3 949.3,599 949,598.5 948.7,599.2 948.3,598 948,598 947.7,598 947.4,598.6 947.1,599.7 946.8,598.7 946.5,598.4 946.1,598.9 945.8,598.9 945.5,599 945.2,598.4 944.9,598.5 944.6,599.4 944.3,598.4 943.9,599.2 943.6,599.6 943.3,599.9 943,598.4 942.7,599.2 942.4,597.5 942.1,596.9 941.7,595.8 941.4,595.1 941.1,595.6 940.8,595.8 940.5,595 940.2,595.1 939.9,595.1 939.5,594.2 939.2,595.1 938.9,596 938.6,595.9 938.3,596.2 938,595.4 937.6,595.1 937.3,596 937,596.3 936.7,596.9 936.4,596.4 936.1,595.9 935.8,596.8 935.4,596.9 935.1,595.7 934.8,595.4 934.5,596.7 934.2,596.6 933.9,596.5 933.6,596.1 933.2,597 932.9,597.6 932.6,596.1 932.3,597.5 932,597.5 931.7,597.6 931.4,596.7 931,596.6 930.7,596.9 930.4,597.4 930.1,597.5 929.8,597.9 929.5,597.7 929.2,599 928.8,597.9 928.5,599.1 928.2,597.7 927.9,598.2 927.6,598.5 927.3,597.8 927,597.9 926.6,598.1 926.3,597.7 926,598.4 925.7,599 925.4,598.6 925.1,598 924.8,599.6 924.4,599.2 924.1,598.1 923.8,597.3 923.5,597.4 923.2,596.7 922.9,597 922.6,596.8 922.2,595.9 921.9,596.5 921.6,596.2 921.3,596.3 921,596.8 920.7,597.5 920.4,598.4 920,597.4 919.7,597.4 919.4,597.7 919.1,598.6 918.8,597.1 918.5,597.6 918.2,598.6 917.8,597.8 917.5,598.4 917.2,598.4 916.9,598.6 916.6,597.3 916.3,598 915.9,598.2 915.6,598.1 915.3,597.7 915,597.8 914.7,597.9 914.4,596.1 914.1,597.3 913.7,595.6 913.4,596.7 913.1,596.6 912.8,596.4 912.5,595.7 912.2,595.6 911.9,594.8 911.5,593.5 911.2,594.3 910.9,595.7 910.6,595.5 910.3,594.6 910,594.5 909.7,594.1 909.3,593.9 909,595.4 908.7,595.7 908.4,594.5 908.1,596.5 907.8,596.8 907.5,596 907.1,596.5 906.8,597.3 906.5,596.5 906.2,598.1 905.9,597.7 905.6,597.9 905.3,597.9 904.9,598.7 904.6,598.8 904.3,598.6 904,600.7 903.7,603.3 903.4,602.1 903.1,601.1 902.7,598.6 902.4,597 902.1,595.9 901.8,595.1 901.5,593.8 901.2,592.6 900.9,592.1 900.5,592.1 900.2,590.2 899.9,590 899.6,589.9 899.3,590 899,589.1 898.7,589.5 898.3,589.9 898,589.1 897.7,589.3 897.4,587.9 897.1,588 896.8,587.4 896.5,588.5 896.1,589 895.8,589 895.5,588.7 895.2,589.1 894.9,588.6 894.6,587.3 894.2,589.2 893.9,589.2 893.6,589.6 893.3,589.5 893,588.5 892.7,587.7 892.4,588.8 892,588 891.7,587.7 891.4,587.3 891.1,587.5 890.8,588.3 890.5,588.7 890.2,588.7 889.8,589.7 889.5,589.5 889.2,588 888.9,588.5 888.6,587.9 888.3,587.7 888,589 887.6,589.1 887.3,586.2 887,587.8 886.7,587.5 886.4,588.8 886.1,588.1 885.8,588.9 885.4,588.4 885.1,588.9 884.8,588.2 884.5,588.2 884.2,588.7 883.9,588.1 883.6,589.3 883.2,587.4 882.9,587.8 882.6,587.4 882.3,588 882,587.8 881.7,586.4 881.4,587.6 881,587.6 880.7,587.3 880.4,588.4 880.1,587.6 879.8,588.9 879.5,586.9 879.2,586.6 878.8,587.9 878.5,588.3 878.2,587.8 877.9,589.8 877.6,589 877.3,587.8 877,588.7 876.6,588.3 876.3,588.2 876,588.2 875.7,588.7 875.4,588.3 875.1,589.9 874.8,589.6 874.4,588.3 874.1,589.1 873.8,588.2 873.5,588.7 873.2,589.6 872.9,588.4 872.5,589.4 872.2,588.9 871.9,589.5 871.6,589.5 871.3,589 871,589.4 870.7,590.9 870.3,589 870,590.4 869.7,590.3 869.4,588.5 869.1,589.5 868.8,589.6 868.5,590 868.1,591.1 867.8,590.6 867.5,591.5 867.2,591.8 866.9,592.7 866.6,592.8 866.3,593.7 865.9,595 865.6,593.9 865.3,593.1 865,593.6 864.7,593.7 864.4,593.8 864.1,593.1 863.7,594.2 863.4,593.1 863.1,593.4 862.8,593.7 862.5,593.6 862.2,593.8 861.9,593.1 861.5,592.5 861.2,593.4 860.9,593.4 860.6,593.6 860.3,594.1 860,593.6 859.7,594.7 859.3,593.5 859,594.7 858.7,594.8 858.4,594.7 858.1,595.4 857.8,595.3 857.5,595.1 857.1,594.7 856.8,595.1 856.5,595.3 856.2,596.2 855.9,595.5 855.6,596.1 855.3,595.3 854.9,596.9 854.6,595.6 854.3,597.1 854,595.8 853.7,595.8 853.4,596 853.1,595.8 852.7,595.5 852.4,594.8 852.1,594.9 851.8,595.8 851.5,593.9 851.2,594.1 850.8,592.6 850.5,592.7 850.2,593.3 849.9,592.3 849.6,593 849.3,592.8 849,591.6 848.6,592.8 848.3,593 848,592.7 847.7,591.7 847.4,592 847.1,590.5 846.8,591.5 846.4,591.1 846.1,591.4 845.8,590.8 845.5,591 845.2,591.9 844.9,591.2 844.6,591.3 844.2,591.5 843.9,591.7 843.6,590.7 843.3,590.9 843,590.6 842.7,590 842.4,591 842,591.6 841.7,591.4 841.4,590.6 841.1,590.7 840.8,590.3 840.5,590.2 840.2,589.3 839.8,589.4 839.5,591.4 839.2,590.4 838.9,589.4 838.6,588.7 838.3,589.9 838,589 837.6,589.5 837.3,589.6 837,588.7 836.7,587.8 836.4,587.2 836.1,587.4 835.8,588.6 835.4,589.6 835.1,587.8 834.8,587.6 834.5,589 834.2,586.6 833.9,586.1 833.6,586.8 833.2,586.6 832.9,586.6 832.6,586.6 832.3,585.9 832,586 831.7,585.2 831.4,585.4 831,583.7 830.7,584.7 830.4,585.2 830.1,585.6 829.8,585 829.5,585.1 829.1,585.4 828.8,586.1 828.5,585.1 828.2,585.6 827.9,586.1 827.6,586.4 827.3,584.7 826.9,584.8 826.6,585.5 826.3,584.5 826,584.6 825.7,584.4 825.4,583.7 825.1,584.4 824.7,583.7 824.4,583.9 824.1,583.7 823.8,583.8 823.5,583.5 823.2,583.1 822.9,584.3 822.5,581.6 822.2,583.7 821.9,582.6 821.6,582.4 821.3,583 821,581.9 820.7,582.9 820.3,583.2 820,582.8 819.7,582.2 819.4,583.5 819.1,583.8 818.8,583.9 818.5,582.5 818.1,582.9 817.8,583.5 817.5,583.7 817.2,584.2 816.9,584.3 816.6,585.5 816.3,584.2 815.9,584.9 815.6,584.2 815.3,585.6 815,585.5 814.7,584.9 814.4,584.7 814.1,585.2 813.7,585.3 813.4,585.2 813.1,585.5 812.8,586.9 812.5,584.7 812.2,586 811.9,585.1 811.5,585.5 811.2,584.9 810.9,584.1 810.6,585 810.3,585.2 810,583.3 809.7,584.1 809.3,584.8 809,583.9 808.7,585.7 808.4,585.1 808.1,586 807.8,586.4 807.4,585.6 807.1,585.9 806.8,586.3 806.5,587.1 806.2,586.5 805.9,587.4 805.6,587.5 805.2,586.6 804.9,587.6 804.6,587.8 804.3,587.9 804,587.6 803.7,588.8 803.4,588.1 803,587.1 802.7,587.6 802.4,588.3 802.1,587.9 801.8,587.5 801.5,588.1 801.2,587.6 800.8,587.2 800.5,588.1 800.2,588.8 799.9,588.1 799.6,587.7 799.3,588.8 799,587.8 798.6,587.9 798.3,588.3 798,586.9 797.7,588 797.4,588.1 797.1,586.5 796.8,586.8 796.4,586.7 796.1,587.1 795.8,585.7 795.5,586.1 795.2,586.4 794.9,586 794.6,585.4 794.2,584.7 793.9,585.1 793.6,586.9 793.3,585.2 793,585.7 792.7,586 792.4,585.3 792,585.3 791.7,584.1 791.4,583.3 791.1,583.4 790.8,583.1 790.5,583.1 790.2,582.2 789.8,582.8 789.5,583.2 789.2,583.5 788.9,584.4 788.6,583.9 788.3,584.5 787.9,584.2 787.6,584.3 787.3,583.8 787,582.6 786.7,583.6 786.4,582.5 786.1,581.4 785.7,583.5 785.4,583 785.1,581.7 784.8,582.8 784.5,582.4 784.2,583.5 783.9,583.3 783.5,583.1 783.2,583.5 782.9,583 782.6,583.1 782.3,584.4 782,584.4 781.7,583 781.3,583.8 781,584.2 780.7,582.5 780.4,582.9 780.1,583.5 779.8,585.4 779.5,583.5 779.1,583.1 778.8,583.4 778.5,583.9 778.2,584.4 777.9,583.6 777.6,583.5 777.3,584.4 776.9,584.4 776.6,583.6 776.3,585.2 776,585.1 775.7,584.9 775.4,585.7 775.1,585.5 774.7,585.3 774.4,584.9 774.1,585.3 773.8,585 773.5,586 773.2,583.9 772.9,584.2 772.5,584.7 772.2,584.6 771.9,584.6 771.6,584.1 771.3,583.9 771,584.2 770.7,583.9 770.3,583.9 770,583.9 769.7,583.7 769.4,583.3 769.1,583.2 768.8,581.6 768.5,583.7 768.1,582.2 767.8,581.6 767.5,582 767.2,581.6 766.9,581.3 766.6,581.3 766.2,581.6 765.9,581.9 765.6,582.5 765.3,581.5 765,582.2 764.7,581.5 764.4,580.5 764,581.2 763.7,581.1 763.4,580.8 763.1,580.2 762.8,580.6 762.5,580.8 762.2,580.6 761.8,579.8 761.5,580.4 761.2,580.3 760.9,580.3 760.6,580.9 760.3,579.2 760,580.9 759.6,579.4 759.3,579.6 759,578.9 758.7,579.7 758.4,578.3 758.1,578.8 757.8,580.5 757.4,579.2 757.1,579.3 756.8,579 756.5,578.8 756.2,577.5 755.9,579.8 755.6,578.6 755.2,578.7 754.9,577.8 754.6,577.9 754.3,577.9 754,577.9 753.7,577.4 753.4,578 753,577.5 752.7,578 752.4,577.9 752.1,577.4 751.8,577.9 751.5,577.6 751.2,576.6 750.8,576.9 750.5,576.1 750.2,578.6 749.9,577.2 749.6,577.8 749.3,576.3 749,577.2 748.6,576.4 748.3,576.2 748,575.5 747.7,575.4 747.4,575.5 747.1,574.9 746.8,573.4 746.4,573.5 746.1,573.6 745.8,572.4 745.5,571.7 745.2,571.9 744.9,572.6 744.5,573.1 744.2,573.6 743.9,572.5 743.6,573.5 743.3,573.8 743,574.3 742.7,574.3 742.3,573.9 742,572.5 741.7,573.5 741.4,572.1 741.1,573.7 740.8,574 740.5,573.5 740.1,574.2 739.8,573.8 739.5,574 739.2,573.7 738.9,573.1 738.6,574 738.3,573.5 737.9,574.8 737.6,574.8 737.3,574.7 737,576.5 736.7,575.6 736.4,575.8 736.1,574.9 735.7,575.2 735.4,575.3 735.1,575.1 734.8,574.9 734.5,574.8 734.2,575.1 733.9,574.5 733.5,575.3 733.2,572.9 732.9,573.7 732.6,574.2 732.3,573.5 732,573.8 731.7,573.3 731.3,573.2 731,573.5 730.7,573.2 730.4,572.4 730.1,572.5 729.8,572.6 729.5,572.2 729.1,572 728.8,571.1 728.5,571.5 728.2,572.5 727.9,572.3 727.6,572.8 727.3,572.8 726.9,572.5 726.6,572.6 726.3,573.8 726,573.4 725.7,572.4 725.4,573.5 725.1,573.6 724.7,573.5 724.4,573 724.1,573.1 723.8,572.7 723.5,572 723.2,572.9 722.8,573.4 722.5,572.5 722.2,573.2 721.9,574.9 721.6,573.7 721.3,574.3 721,574.9 720.6,575.1 720.3,574 720,573.8 719.7,574.2 719.4,574.1 719.1,573.7 718.8,574.1 718.4,573.3 718.1,574.6 717.8,574.7 717.5,574.6 717.2,574.3 716.9,573.7 716.6,575 716.2,574.6 715.9,574.3 715.6,575.2 715.3,575.2 715,574.5 714.7,574.3 714.4,574.4 714,575.9 713.7,575.3 713.4,574.8 713.1,575.3 712.8,576.1 712.5,575.6 712.2,574.8 711.8,576.4 711.5,574.7 711.2,574.9 710.9,575.3 710.6,575.6 710.3,575.4 710,576 709.6,576.3 709.3,575.9 709,575.8 708.7,575.2 708.4,575.8 708.1,575.2 707.8,574.5 707.4,574.8 707.1,574.9 706.8,575.3 706.5,574.8 706.2,575.9 705.9,574.6 705.6,575.7 705.2,575.7 704.9,573.7 704.6,574.7 704.3,574.9 704,574.7 703.7,573.6 703.4,573.5 703,574.8 702.7,573.4 702.4,574.6 702.1,573.5 701.8,573.4 701.5,573.1 701.1,572.9 700.8,573.7 700.5,572.7 700.2,572.9 699.9,572.8 699.6,572.1 699.3,572.2 698.9,573.3 698.6,573.4 698.3,574.5 698,573.6 697.7,573.7 697.4,574 697.1,574.4 696.7,575.9 696.4,576.2 696.1,576.1 695.8,575.6 695.5,577.4 695.2,576.4 694.9,576.9 694.5,578.1 694.2,577.1 693.9,577.3 693.6,577.6 693.3,577.2 693,577 692.7,577 692.3,577.9 692,577.6 691.7,577 691.4,577.1 691.1,576.7 690.8,575.1 690.5,576.3 690.1,575 689.8,575.5 689.5,574.6 689.2,575.6 688.9,575.2 688.6,576 688.3,574.5 687.9,575 687.6,574.5 687.3,574.7 687,574.9 686.7,573.6 686.4,573.1 686.1,573.1 685.7,574.6 685.4,573 685.1,575.1 684.8,573.5 684.5,573.8 684.2,574.6 683.9,573.9 683.5,572.8 683.2,572.1 682.9,573.2 682.6,574 682.3,572.5 682,573.5 681.7,572.3 681.3,573 681,573.4 680.7,572.6 680.4,572.1 680.1,573.1 679.8,572.9 679.4,571.8 679.1,572.3 678.8,574.2 678.5,573.5 678.2,572.2 677.9,572.5 677.6,572.7 677.2,571.9 676.9,571.1 676.6,572.2 676.3,572 676,573.5 675.7,572.9 675.4,571.2 675,571 674.7,571.2 674.4,570.9 674.1,571 673.8,570.4 673.5,570.2 673.2,569.7 672.8,571.7 672.5,570.4 672.2,570 671.9,570.3 671.6,569.7 671.3,568.7 671,569.6 670.6,569.9 670.3,568.9 670,569.8 669.7,568.8 669.4,569.7 669.1,569.1 668.8,568.9 668.4,568.6 668.1,569.6 667.8,569.5 667.5,568.6 667.2,569.8 666.9,568.8 666.6,567.5 666.2,568.2 665.9,567.6 665.6,568.4 665.3,567.8 665,568 664.7,566.4 664.4,568.2 664,567.9 663.7,567.1 663.4,567.6 663.1,567.2 662.8,568.2 662.5,567.9 662.2,567.9 661.8,567.8 661.5,568.7 661.2,568.2 660.9,567.6 660.6,567.3 660.3,567.8 660,569.2 659.6,568.1 659.3,569.1 659,568.7 658.7,568.1 658.4,569.4 658.1,568.9 657.7,568.9 657.4,569.2 657.1,568.6 656.8,569.3 656.5,569.3 656.2,568.4 655.9,567.7 655.5,570.6 655.2,569.4 654.9,569.5 654.6,569.5 654.3,570 654,568.8 653.7,569.9 653.3,568.6 653,570.2 652.7,569.3 652.4,568.8 652.1,569.9 651.8,569.4 651.5,568.2 651.1,567 650.8,568 650.5,567.9 650.2,567.7 649.9,567.9 649.6,567.5 649.3,567.8 648.9,567.4 648.6,567.8 648.3,567.8 648,567.9 647.7,566.4 647.4,567.4 647.1,566.7 646.7,568.1 646.4,568.2 646.1,566.3 645.8,567.5 645.5,566.8 645.2,567 644.9,567.6 644.5,566.9 644.2,567.8 643.9,569.3 643.6,567 643.3,567.8 643,567 642.7,567.9 642.3,567.4 642,568.9 641.7,567.9 641.4,567.5 641.1,567.1 640.8,568.8 640.5,567.5 640.1,568 639.8,567.3 639.5,566.1 639.2,565.7 638.9,565.7 638.6,566.9 638.3,565.2 637.9,565.8 637.6,565.1 637.3,565.5 637,564.7 636.7,564.6 636.4,564.6 636,564.9 635.7,562.9 635.4,563.8 635.1,563.3 634.8,563 634.5,563.3 634.2,563.3 633.8,563.9 633.5,562.3 633.2,564.5 632.9,562.9 632.6,563.4 632.3,563.8 632,563.6 631.6,564 631.3,563.5 631,564.1 630.7,564.6 630.4,565 630.1,565.4 629.8,564.7 629.4,564.3 629.1,566.2 628.8,565.3 628.5,565.3 628.2,565.5 627.9,566.3 627.6,566.7 627.2,567 626.9,567.7 626.6,566.8 626.3,568.9 626,566.7 625.7,566.7 625.4,567.9 625,568.2 624.7,566.2 624.4,568.3 624.1,567 623.8,568.2 623.5,567.5 623.2,567.3 622.8,567.8 622.5,566.3 622.2,566.9 621.9,567.1 621.6,566 621.3,566.7 621,565.4 620.6,564.9 620.3,563 620,562.3 619.7,561.6 619.4,560.3 619.1,561 618.8,560.1 618.4,560.8 618.1,560.4 617.8,558.6 617.5,559.5 617.2,558.4 616.9,558 616.6,558 616.2,557.3 615.9,557 615.6,557.7 615.3,556.9 615,556.8 614.7,556.8 614.3,555.4 614,556.8 613.7,556.2 613.4,555.3 613.1,555.2 612.8,554.7 612.5,555 612.1,555.9 611.8,556.5 611.5,555 611.2,555 610.9,555.5 610.6,555.2 610.3,556 609.9,554.4 609.6,555.9 609.3,556.7 609,555.8 608.7,556.4 608.4,556 608.1,555.3 607.7,554.9 607.4,554.6 607.1,554.2 606.8,554.6 606.5,553.9 606.2,553.7 605.9,552.7 605.5,551.3 605.2,552.1 604.9,551 604.6,551.2 604.3,551.4 604,550.9 603.7,550.9 603.3,550.6 603,549.7 602.7,549.5 602.4,550.2 602.1,549.4 601.8,549.7 601.5,549.1 601.1,548.6 600.8,548.9 600.5,547.3 600.2,547.4 599.9,548.2 599.6,547 599.3,545.6 598.9,546.4 598.6,545.6 598.3,546.1 598,545.9"/>
<polyline clip-path="url(#c1)" fill="none" stroke="#ff0000" stroke-width="2.78" stroke-linejoin="round" stroke-linecap="butt" stroke-dasharray="10.28 4.44" points="66.5,540.9 66.8,539.9 67.1,539 67.4,539.4 67.8,539.4 68.1,540.6 68.4,540.9 68.7,539.6 69,539.8 69.3,540.5 69.6,539.8 70,540.2 70.3,541.7 70.6,541 70.9,541 71.2,540.4 71.5,539.6 71.8,540.4 72.2,540.8 72.5,541.7 72.8,541.4 73.1,540 73.4,540.4 73.7,541.1 74,541.3 74.4,541 74.7,540.8 75,540.6 75.3,540.9 75.6,540.8 75.9,540.1 76.2,541.2 76.6,541.2 76.9,540.4 77.2,541.3 77.5,541.1 77.8,541.3 78.1,541.1 78.5,541.2 78.8,540.6 79.1,539.1 79.4,540.1 79.7,541.8 80,542.8 80.3,541.4 80.7,540.3 81,540.6 81.3,539.2 81.6,540 81.9,541.1 82.2,541.5 82.5,541.9 82.9,540.7 83.2,540.1 83.5,540.3 83.8,541.1 84.1,540.9 84.4,542.4 84.7,542.8 85.1,540.3 85.4,540.2 85.7,541.7 86,541.9 86.3,541 86.6,540.3 86.9,540 87.3,539.6 87.6,539.8 87.9,540.7 88.2,540.7 88.5,541.6 88.8,542.2 89.1,540.9 89.5,540.6 89.8,541.8 90.1,540.7 90.4,540 90.7,542.7 91,543.2 91.3,541 91.7,540.4 92,540.8 92.3,542.5 92.6,542.2 92.9,540.3 93.2,540.5 93.5,539.8 93.9,537.9 94.2,538.7 94.5,541.1 94.8,540.9 95.1,540.9 95.4,541.7 95.7,541.8 96.1,540.3 96.4,540.8 96.7,542.4 97,542 97.3,541.4 97.6,540.9 97.9,540.6 98.3,540.8 98.6,541.7 98.9,541.1 99.2,541.1 99.5,541.1 99.8,541 100.2,541.2 100.5,541.4 100.8,542.7 101.1,542.3 101.4,540.7 101.7,540.3 102,541 102.4,541 102.7,541.2 103,541.7 103.3,541.7 103.6,541.1 103.9,539.9 104.2,539.8 104.6,540.7 104.9,540.7 105.2,540.8 105.5,540 105.8,539.2 106.1,540.4 106.4,539.6 106.8,539.4 107.1,539.6 107.4,539.9 107.7,540.7 108,541.2 108.3,540.8 108.6,539.3 109,539.5 109.3,540.6 109.6,541 109.9,541.1 110.2,541.8 110.5,541.5 110.8,540.5 111.2,540.2 111.5,540 111.8,541.2 112.1,541.8 112.4,539.5 112.7,540 113,540.4 113.4,539.4 113.7,541.3 114,541.6 114.3,541.3 114.6,541.8 114.9,541.6 115.2,540.3 115.6,540.3 115.9,540.7 116.2,538.9 116.5,539.2 116.8,541.1 117.1,541.3 117.4,541 117.8,542 118.1,542.2 118.4,541.7 118.7,541.7 119,542.2 119.3,541.7 119.6,541.4 120,542.8 120.3,541.8 120.6,541.3 120.9,540.7 121.2,540.3 121.5,541.6 121.9,540.9 122.2,539.2 122.5,539.8 122.8,540.7 123.1,540.8 123.4,541.2 123.7,541.6 124.1,542.4 124.4,542.2 124.7,540.2 125,540.4 125.3,541.6 125.6,541.3 125.9,542 126.3,542.1 126.6,540.9 126.9,541 127.2,540.2 127.5,540.5 127.8,541.6 128.1,542 128.5,542.4 128.8,541.6 129.1,541.3 129.4,540.3 129.7,540.1 130,541.1 130.3,541.7 130.7,541.8 131,541.7 131.3,541.8 131.6,541 131.9,540.8 132.2,541 132.5,540 132.9,539.2 133.2,540.5 133.5,542.4 133.8,542.8 134.1,541.3 134.4,541.4 134.7,542.9 135.1,541.5 135.4,540.8 135.7,542.3 136,542.1 136.3,541.8 136.6,541.3 136.9,540.3 137.3,541.3 137.6,541.4 137.9,540.9 138.2,541.1 138.5,540.4 138.8,541.2 139.1,541.8 139.5,540.7 139.8,540.5 140.1,540.7 140.4,540.4 140.7,540.9 141,541.3 141.3,541.2 141.7,540.9 142,539.7 142.3,539.7 142.6,540.5 142.9,540.3 143.2,540.6 143.6,541.3 143.9,541.3 144.2,541.3 144.5,541.2 144.8,540.8 145.1,539.6 145.4,540.6 145.8,541 146.1,541.3 146.4,541.2 146.7,540.8 147,540.7 147.3,539.3 147.6,540.7 148,541.7 148.3,541.4 148.6,541.7 148.9,540 149.2,540.1 149.5,541.9 149.8,542.4 150.2,542.8 150.5,542.2 150.8,541.1 151.1,540.9 151.4,540.2 151.7,540.7 152,541.9 152.4,541.6 152.7,540.7 153,540.9 153.3,541 153.6,541.4 153.9,541.3 154.2,540.2 154.6,540.4 154.9,540.1 155.2,539.7 155.5,540.2 155.8,539.2 156.1,540.6 156.4,542.4 156.8,541.4 157.1,540.6 157.4,540.5 157.7,541 158,541 158.3,540 158.6,539.9 159,539.6 159.3,539.6 159.6,540.2 159.9,540 160.2,540.3 160.5,541.2 160.8,542.2 161.2,541.7 161.5,540.3 161.8,541.2 162.1,541 162.4,539.7 162.7,540.4 163,540.3 163.4,541.3 163.7,542 164,541.9 164.3,541.4 164.6,541.3 164.9,541.4 165.3,540.7 165.6,541 165.9,541.4 166.2,541.5 166.5,541.1 166.8,539.8 167.1,539.8 167.5,539 167.8,539 168.1,540.2 168.4,540.9 168.7,539.7 169,540.5 169.3,542 169.7,539.7 170,540.2 170.3,541.5 170.6,541.5 170.9,542.6 171.2,541.8 171.5,540.6 171.9,541.2 172.2,540.6 172.5,540.7 172.8,541.9 173.1,541.2 173.4,540.6 173.7,541.8 174.1,542 174.4,540.3 174.7,540.1 175,540.8 175.3,541.4 175.6,541.6 175.9,542.1 176.3,541.4 176.6,540.4 176.9,540.7 177.2,541.5 177.5,543 177.8,541.3 178.1,540.8 178.5,541.4 178.8,539.8 179.1,539.2 179.4,540.3 179.7,541.3 180,541 180.3,540.9 180.7,541.3 181,541.3 181.3,540.3 181.6,540.2 181.9,541.3 182.2,540.3 182.5,540.9 182.9,542.8 183.2,541.9 183.5,542.3 183.8,541.7 184.1,539.8 184.4,539.9 184.7,540 185.1,541.6 185.4,542.1 185.7,540.9 186,541.1 186.3,542.2 186.6,542 187,540.8 187.3,540.8 187.6,541.9 187.9,541.6 188.2,541.7 188.5,542 188.8,541 189.2,541.1 189.5,542.5 189.8,542 190.1,541.6 190.4,542.1 190.7,541.4 191,541 191.4,541.5 191.7,541.8 192,541.5 192.3,541.6 192.6,540.8 192.9,539.9 193.2,539.9 193.6,540 193.9,540.6 194.2,540.5 194.5,541 194.8,540.6 195.1,540.1 195.4,541.3 195.8,542.5 196.1,542 196.4,541.7 196.7,542.5 197,541.1 197.3,540.4 197.6,540.4 198,540 198.3,540.9 198.6,540.4 198.9,540.4 199.2,541.2 199.5,540.7 199.8,541.1 200.2,540.7 200.5,539.3 200.8,539.8 201.1,540.5 201.4,540.3 201.7,540.1 202,539.6 202.4,539.7 202.7,539.4 203,539.6 203.3,539.9 203.6,540.4 203.9,542.9 204.2,542.5 204.6,539.5 204.9,540.3 205.2,540.5 205.5,539.5 205.8,540.1 206.1,540.7 206.4,541 206.8,541.1 207.1,541 207.4,541.5 207.7,542.1 208,541.1 208.3,540.4 208.7,539.9 209,540.4 209.3,541.2 209.6,542 209.9,541.7 210.2,541.4 210.5,541.3 210.9,539.2 211.2,539.3 211.5,540.6 211.8,541.7 212.1,541 212.4,540.9 212.7,541.2 213.1,540.2 213.4,540.4 213.7,541.7 214,542 214.3,541.2 214.6,540.1 214.9,540 215.3,541.2 215.6,542.1 215.9,541.4 216.2,539.9 216.5,539.9 216.8,539.9 217.1,540.9 217.5,540.8 217.8,541.2 218.1,541.7 218.4,540.3 218.7,539.9 219,539.6 219.3,539.1 219.7,540.7 220,542.2 220.3,540.8 220.6,540 220.9,541.6 221.2,541.4 221.5,540.6 221.9,541.3 222.2,541.1 222.5,540.6 222.8,540.5 223.1,540.7 223.4,540 223.7,539.9 224.1,541 224.4,540.1 224.7,540.3 225,540.6 225.3,538.6 225.6,538 225.9,539.7 226.3,541.3 226.6,540.9 226.9,539.7 227.2,539.8 227.5,541.3 227.8,541.4 228.2,539.9 228.5,540.2 228.8,541 229.1,540.6 229.4,540.8 229.7,541.2 230,541.1 230.4,540.2 230.7,540.2 231,540.9 231.3,541.7 231.6,540.8 231.9,540 232.2,540.2 232.6,540.5 232.9,540.7 233.2,538.6 233.5,539.5 233.8,541 234.1,539.7 234.4,539.2 234.8,539.2 235.1,539.4 235.4,539.9 235.7,540.8 236,540.9 236.3,541 236.6,540.5 237,540.7 237.3,541.2 237.6,541.1 237.9,541.5 238.2,541 238.5,541.4 238.8,542.1 239.2,541.1 239.5,541.7 239.8,543 240.1,540.9 240.4,538.5 240.7,539 241,540.8 241.4,541.7 241.7,541.9 242,541.3 242.3,541.5 242.6,541.9 242.9,541 243.2,540.7 243.6,541.6 243.9,541.1 244.2,540.1 244.5,539.9 244.8,541.3 245.1,542.2 245.4,541.8 245.8,541.2 246.1,540.6 246.4,541.6 246.7,541.5 247,541.4 247.3,541.6 247.6,540.8 248,541.2 248.3,541.8 248.6,542.5 248.9,541.8 249.2,541.7 249.5,541.4 249.9,539.8 250.2,538.9 250.5,540 250.8,542.3 251.1,541 251.4,539.9 251.7,540.5 252.1,539.7 252.4,539.9 252.7,541.1 253,540.7 253.3,539.9 253.6,540.3 253.9,541.3 254.3,540.4 254.6,539.9 254.9,541.2 255.2,539.5 255.5,539.3 255.8,542.2 256.1,541.1 256.5,540.9 256.8,541.5 257.1,541.1 257.4,541.2 257.7,540.1 258,539.1 258.3,541.3 258.7,541.5 259,539.9 259.3,541.6 259.6,542 259.9,541.2 260.2,539.7 260.5,539.2 260.9,539.7 261.2,538.9 261.5,540 261.8,541.6 262.1,540.9 262.4,540 262.7,540.7 263.1,541.7 263.4,540.8 263.7,541 264,542.2 264.3,541.5 264.6,540.2 264.9,540.5 265.3,541.7 265.6,542.4 265.9,541.6 266.2,541.5 266.5,541.7 266.8,541 267.1,541.1 267.5,540.9 267.8,541.9 268.1,541.4 268.4,541 268.7,541.2 269,540.7 269.3,540.4 269.7,540.6 270,539.7 270.3,539.5 270.6,541.4 270.9,542.1 271.2,540.4 271.6,539.1 271.9,539.9 272.2,541.8 272.5,541.8 272.8,540.6 273.1,540.7 273.4,540.9 273.8,540.5 274.1,540.5 274.4,541.4 274.7,541.8 275,541 275.3,540.9 275.6,542.7 276,542.6 276.3,541.8 276.6,539.8 276.9,540.2 277.2,543 277.5,542.9 277.8,542 278.2,541.7 278.5,543.3 278.8,542.3 279.1,540.2 279.4,541.3 279.7,541.8 280,539.7 280.4,539.7 280.7,541.3 281,540.5 281.3,540.5 281.6,541.3 281.9,539.9 282.2,540.1 282.6,542.6 282.9,543.4 283.2,541.3 283.5,539.3 283.8,540.1 284.1,541.1 284.4,540.2 284.8,539.6 285.1,541.3 285.4,541.9 285.7,541.7 286,541.5 286.3,541.5 286.6,541.2 287,540.2 287.3,540 287.6,539.1 287.9,539.4 288.2,539.8 288.5,539.7 288.8,540.7 289.2,541.1 289.5,541.3 289.8,540.9 290.1,540.6 290.4,541.6 290.7,541.5 291,540.8 291.4,539.3 291.7,538.6 292,540.9 292.3,541 292.6,539.6 292.9,540.8 293.3,540.7 293.6,540.7 293.9,541.5 294.2,540.4 294.5,539.2 294.8,540.4 295.1,540.6 295.5,538.9 295.8,540.6 296.1,540.6 296.4,540.4 296.7,541.2 297,540.7 297.3,540 297.7,539.8 298,540.6 298.3,540.4 298.6,540.6 298.9,541.4 299.2,541.4 299.5,541.4 299.9,541.4 300.2,541.5 300.5,541.6 300.8,541.6 301.1,541.3 301.4,540.5 301.7,539.2 302.1,539.8 302.4,541.5 302.7,540.9 303,539.3 303.3,539.5 303.6,540.8 303.9,541.7 304.3,541.2 304.6,539.9 304.9,540.1 305.2,541.3 305.5,541.3 305.8,541.5 306.1,541.2 306.5,541.1 306.8,542.5 307.1,541.3 307.4,539.7 307.7,540.7 308,543.3 308.3,543.2 308.7,541.2 309,541.7 309.3,541.6 309.6,539.8 309.9,539.2 310.2,541.1 310.5,540.7 310.9,538.9 311.2,540.5 311.5,541.5 311.8,541.7 312.1,541 312.4,539.7 312.7,540.2 313.1,539.9 313.4,539.9 313.7,540.6 314,541.3 314.3,541.4 314.6,540.6 315,540.9 315.3,541.9 315.6,542.3 315.9,541.7 316.2,540.8 316.5,540.3 316.8,539.7 317.2,540.1 317.5,540.9 317.8,541.9 318.1,542.1 318.4,541.5 318.7,542.2 319,540.5 319.4,539.3 319.7,540.3 320,540.8 320.3,540.2 320.6,540.7 320.9,542 321.2,541.8 321.6,541.6 321.9,540.6 322.2,540.9 322.5,541.2 322.8,539.3 323.1,539.7 323.4,541.2 323.8,540.7 324.1,539.4 324.4,539.1 324.7,540 325,539.1 325.3,539.9 325.6,542.2 326,541.4 326.3,541.4 326.6,541.4 326.9,540 327.2,540.5 327.5,541.6 327.8,540.6 328.2,539.4 328.5,539.3 328.8,541 329.1,541.4 329.4,542.5 329.7,542.3 330,540.8 330.4,541.5 330.7,540.9 331,541.3 331.3,540.9 331.6,540.3 331.9,540.1 332.2,538.7 332.6,539.5 332.9,540.2 333.2,539.3 333.5,540.4 333.8,541.1 334.1,541 334.4,542.2 334.8,542.1 335.1,541.3 335.4,540.4 335.7,540.6 336,542 336.3,540.7 336.7,540.6 337,541.5 337.3,540.9 337.6,540.8 337.9,542.5 338.2,542 338.5,540.2 338.9,540.7 339.2,540.8 339.5,539.6 339.8,540.1 340.1,541.9 340.4,542.6 340.7,541.6 341.1,539.7 341.4,540.5 341.7,540.6 342,540.2 342.3,540.6 342.6,540.7 342.9,540.7 343.3,541 343.6,540.7 343.9,541.8 344.2,542.9 344.5,541 344.8,539.9 345.1,540.1 345.5,540.5 345.8,540 346.1,541.2 346.4,542.4 346.7,540.8 347,540.5 347.3,541.2 347.7,541.4 348,540.9 348.3,541.8 348.6,542.3 348.9,542.2 349.2,541.9 349.5,541.4 349.9,541.7 350.2,541.9 350.5,541.8 350.8,540.1 351.1,539.5 351.4,539.8 351.7,540.9 352.1,541.5 352.4,541.2 352.7,541.6 353,542.6 353.3,541.3 353.6,540.9 353.9,543 354.3,542 354.6,540.1 354.9,540.8 355.2,541.3 355.5,540.7 355.8,540.5 356.1,541.9 356.5,542.5 356.8,541 357.1,539.3 357.4,539.1 357.7,540.3 358,540.5 358.4,539.8 358.7,540.8 359,541.2 359.3,540.5 359.6,540.8 359.9,542 360.2,542 360.6,541.5 360.9,541.4 361.2,541.9 361.5,541.1 361.8,539.4 362.1,539.8 362.4,541.9 362.8,543.2 363.1,541.2 363.4,539.9 363.7,541 364,541.3 364.3,541.5 364.6,541.2 365,539.5 365.3,540.2 365.6,542.1 365.9,540.7 366.2,538.7 366.5,539.4 366.8,539.4 367.2,540 367.5,540.4 367.8,540.6 368.1,541.2 368.4,540.8 368.7,541.4 369,541.2 369.4,540.1 369.7,540.8 370,540.5 370.3,540.9 370.6,541.4 370.9,540.2 371.2,540.8 371.6,541.4 371.9,541.5 372.2,540.3 372.5,539.4 372.8,540.6 373.1,541.4 373.4,541.1 373.8,541.7 374.1,541.6 374.4,541.4 374.7,542.2 375,541.8 375.3,541 375.6,541.3 376,541.7 376.3,541.6 376.6,540.7 376.9,540.6 377.2,542.2 377.5,541.7 377.8,540.8 378.2,540.8 378.5,541.3 378.8,540.1 379.1,540.6 379.4,542.3 379.7,541.1 380.1,540.9 380.4,541.8 380.7,541.9 381,541.6 381.3,542.1 381.6,541.8 381.9,541.5 382.3,542.3 382.6,542.2 382.9,540.9 383.2,541 383.5,542.7 383.8,542 384.1,541 384.5,541.5 384.8,541.8 385.1,541.2 385.4,540.6 385.7,542.2 386,542.6 386.3,541 386.7,541 387,541.5 387.3,541.9 387.6,540.9 387.9,540 388.2,541.6 388.5,540.7 388.9,539.6 389.2,540.7 389.5,541.3 389.8,540.8 390.1,540.9 390.4,540.2 390.7,539.5 391.1,541.5 391.4,541.6 391.7,540.8 392,541.2 392.3,541.4 392.6,541.7 392.9,541.4 393.3,541.9 393.6,541.9 393.9,540 394.2,539.4 394.5,541.4 394.8,542.5 395.1,541.5 395.5,539.8 395.8,539.5 396.1,541.8 396.4,543 396.7,542.5 397,540.7 397.3,539 397.7,539.7 398,539.7 398.3,540.1 398.6,540.3 398.9,540.5 399.2,541.1 399.5,540.4 399.9,541 400.2,541.6 400.5,541.3 400.8,540.8 401.1,540.7 401.4,539.7 401.8,538.4 402.1,539.2 402.4,540.6 402.7,542.1 403,542.3 403.3,540.5 403.6,540 404,539.8 404.3,540.1 404.6,540.8 404.9,540.8 405.2,541.1 405.5,541.8 405.8,542 406.2,540.6 406.5,540.7 406.8,540.8 407.1,540.5 407.4,541.2 407.7,542 408,541.9 408.4,540.8 408.7,540.7 409,541.3 409.3,541.7 409.6,540.9 409.9,541.3 410.2,542.8 410.6,543.3 410.9,542.9 411.2,541.5 411.5,540.5 411.8,541 412.1,539.9 412.4,540.9 412.8,541.1 413.1,540.3 413.4,540.4 413.7,540.2 414,541.5 414.3,541.8 414.6,540.7 415,540 415.3,541.1 415.6,541.5 415.9,541 416.2,541.6 416.5,539.9 416.8,539.5 417.2,541.9 417.5,542.9 417.8,542.5 418.1,540.9 418.4,541.1 418.7,542.7 419,541.7 419.4,540.1 419.7,540.4 420,540.6 420.3,539.4 420.6,538.1 420.9,538.6 421.2,539.7 421.6,540.8 421.9,540.9 422.2,540.7 422.5,541.9 422.8,543.7 423.1,543.4 423.5,540.9 423.8,540.9 424.1,541.6 424.4,541.1 424.7,541.8 425,542 425.3,540.6 425.7,539.4 426,540.4 426.3,541.5 426.6,542.7 426.9,542.6 427.2,541.1 427.5,540.4 427.9,540.2 428.2,539.7 428.5,539.3 428.8,539.7 429.1,540.6 429.4,540.5 429.7,540.4 430.1,540.8 430.4,540.6 430.7,540.5 431,540.8 431.3,541.1 431.6,539.3 431.9,539.4 432.3,541.2 432.6,540.6 432.9,540.6 433.2,540.6 433.5,540.6 433.8,540.4 434.1,540.8 434.5,541.6 434.8,540.2 435.1,539.6 435.4,540.9 435.7,541.6 436,541.3 436.3,540.3 436.7,539.8 437,540.6 437.3,541.2 437.6,541.1 437.9,540.4 438.2,540.2 438.5,540.5 438.9,539.9 439.2,539.5 439.5,539.7 439.8,539.5 440.1,540.3 440.4,541.7 440.7,542 441.1,541 441.4,539.9 441.7,540.6 442,540.8 442.3,540.4 442.6,540.5 442.9,539.7 443.3,540.7 443.6,540.8 443.9,539 444.2,540.4 444.5,540.7 444.8,540.9 445.2,541.8 445.5,541.3 445.8,540.9 446.1,539.8 446.4,539.3 446.7,540.2 447,540.9 447.4,540.1 447.7,539.4 448,539.6 448.3,540.3 448.6,541.1 448.9,541.7 449.2,541.2 449.6,541.6 449.9,542.3 450.2,542.3 450.5,541.3 450.8,540.7 451.1,541.9 451.4,540.5 451.8,540.4 452.1,541.7 452.4,541.7 452.7,541.6 453,541.7 453.3,541.4 453.6,540.3 454,541 454.3,541.8 454.6,540.5 454.9,540.8 455.2,542.4 455.5,542.3 455.8,541.1 456.2,541.2 456.5,542 456.8,541.8 457.1,541.4 457.4,540.6 457.7,540.2 458,540.1 458.4,541.1 458.7,541 459,540 459.3,540.7 459.6,540.9 459.9,539.5 460.2,539.2 460.6,540.3 460.9,541.7 461.2,542.3 461.5,540.7 461.8,539.6 462.1,539.9 462.4,540.8 462.8,540.6 463.1,540.7 463.4,540.3 463.7,540.2 464,541.9 464.3,540 464.6,539.2 465,541 465.3,541.3 465.6,541.2 465.9,540.9 466.2,541 466.5,541.1 466.9,541 467.2,541.9 467.5,542.5 467.8,542.1 468.1,541.1 468.4,540.2 468.7,541.3 469.1,540.9 469.4,540.9 469.7,540.7 470,541.4 470.3,543 470.6,541.3 470.9,540.3 471.3,539.3 471.6,539.6 471.9,541.6 472.2,542 472.5,541.1 472.8,542 473.1,542.5 473.5,541.5 473.8,541 474.1,541.1 474.4,542.9 474.7,542.8 475,540.1 475.3,540 475.7,542.2 476,542.8 476.3,541.3 476.6,540.8 476.9,540.2 477.2,540.4 477.5,540.8 477.9,540 478.2,540.2 478.5,540.1 478.8,541.5 479.1,542.9 479.4,541.6 479.7,540.8 480.1,542 480.4,541.8 480.7,540.4 481,540.1 481.3,541.3 481.6,542 481.9,541 482.3,540.6 482.6,540.1 482.9,540.9 483.2,541 483.5,540.1 483.8,539.5 484.1,539.2 484.5,539.9 484.8,540.3 485.1,539.6 485.4,539.6 485.7,540.4 486,539.2 486.3,539.6 486.7,541.1 487,539.9 487.3,539.9 487.6,541 487.9,541.2 488.2,540.9 488.6,540.9 488.9,541.3 489.2,540.4 489.5,539.7 489.8,540.8 490.1,541.1 490.4,540.2 490.8,540 491.1,540.3 491.4,540.5 491.7,539.9 492,538.8 492.3,539 492.6,539.9 493,542.3 493.3,543 493.6,542.3 493.9,541.6 494.2,541.9 494.5,542.1 494.8,541.1 495.2,541.6 495.5,540.8 495.8,538.8 496.1,538.8 496.4,541 496.7,542.3 497,541.6 497.4,540.8 497.7,540.6 498,541 498.3,540.6 498.6,540.8 498.9,540.7 499.2,541.1 499.6,541.5 499.9,540.1 500.2,540.1 500.5,540.1 500.8,540.2 501.1,539.7 501.4,539.4 501.8,540.6 502.1,541.2 502.4,540.9 502.7,541.4 503,540.6 503.3,539.7 503.6,540.4 504,540.6 504.3,540.7 504.6,541.6 504.9,541.7 505.2,540.3 505.5,541.8 505.8,542.5 506.2,540.8 506.5,541.3 506.8,541 507.1,540.4 507.4,541.3 507.7,540.7 508.1,539.8 508.4,541.2 508.7,542.6 509,541.9 509.3,540.8 509.6,541.5 509.9,540.6 510.3,539.5 510.6,539.9 510.9,539.1 511.2,537.8 511.5,538.8 511.8,541.2 512.1,541.9 512.5,542.1 512.8,539.9 513.1,539.1 513.4,541.6 513.7,541.2 514,539.5 514.3,540.3 514.7,541.1 515,541.3 515.3,541.3 515.6,541.6 515.9,542.1 516.2,541.5 516.5,540.8 516.9,541.1 517.2,540.9 517.5,541.1 517.8,542.2 518.1,542.2 518.4,540.7 518.7,540.3 519.1,541.4 519.4,541.7 519.7,540.4 520,539.5 520.3,540.4 520.6,541.7 520.9,541.4 521.3,541.1 521.6,541.5 521.9,542.2 522.2,542.3 522.5,540.1 522.8,539.7 523.1,540.9 523.5,541.8 523.8,542.1 524.1,541.1 524.4,539.9 524.7,540.1 525,540.8 525.3,541.6 525.7,542.3 526,540.6 526.3,538.5 526.6,539.2 526.9,540.8 527.2,540.4 527.5,539.9 527.9,541.3 528.2,542.1 528.5,540.3 528.8,540 529.1,541.2 529.4,540.9 529.8,541.1 530.1,541.6 530.4,542.8 530.7,542.6 531,540.6 531.3,540.1 531.6,541 532,542.6 532.3,542.5 532.6,541.6 532.9,541.4 533.2,540.8 533.5,540.7 533.8,540.2 534.2,540.6 534.5,541.7 534.8,541.3 535.1,540.5 535.4,540.2 535.7,540.4 536,540.7 536.4,540.9 536.7,540.9 537,541.7 537.3,542.3 537.6,541 537.9,540 538.2,540 538.6,541 538.9,541.1 539.2,541.2 539.5,541.4 539.8,541.2 540.1,541.2 540.4,540.4 540.8,540.8 541.1,541 541.4,540.9 541.7,541.2 542,542.1 542.3,542.2 542.6,541.1 543,539.4 543.3,539.8 543.6,539.2 543.9,539.5 544.2,541.7 544.5,540.5 544.8,540.5 545.2,540.8 545.5,541.3 545.8,541.2 546.1,539.9 546.4,540 546.7,540.6 547,540.4 547.4,541.7 547.7,542.1 548,541.8 548.3,541.8 548.6,540.5 548.9,540.2 549.2,540 549.6,540.7 549.9,541.9 550.2,541.7 550.5,540.4 550.8,540.5 551.1,540.5 551.5,538.7 551.8,539.3 552.1,539.9 552.4,539.4 552.7,540.5 553,540.7 553.3,540.5 553.7,541.7 554,542.5 554.3,542.5 554.6,542 554.9,541.2 555.2,542.2 555.5,541.6 555.9,540.7 556.2,541.2 556.5,541.2 556.8,541.5 557.1,541.3 557.4,541.5 557.7,540.9 558.1,540.7 558.4,540.6 558.7,540.9 559,542.2 559.3,541.4 559.6,540.4 559.9,540.6 560.3,541.2 560.6,540.3 560.9,539.3 561.2,540.8 561.5,541.3 561.8,539.9 562.1,538.7 562.5,539.2 562.8,539.5 563.1,539.9 563.4,540.9 563.7,542 564,541.2 564.3,540.5 564.7,540.5 565,539.5 565.3,540.1 565.6,540.2 565.9,541.5 566.2,542 566.5,540.4 566.9,541.8 567.2,541.8 567.5,540.1 567.8,540.5 568.1,540.2 568.4,540.8 568.7,542 569.1,540.8 569.4,539.7 569.7,540.3 570,539.7 570.3,539.1 570.6,539.8 570.9,540 571.3,540.5 571.6,541.6 571.9,541.5 572.2,541.1 572.5,540.4 572.8,539.9 573.2,540.7 573.5,541.4 573.8,541.1 574.1,541.1 574.4,541 574.7,540 575,540.3 575.4,540.8 575.7,539.5 576,540.3 576.3,541.6 576.6,541.5 576.9,541 577.2,541.5 577.6,542.1 577.9,541.7 578.2,541 578.5,540.2 578.8,541.4 579.1,541.6 579.4,540.8 579.8,541.8 580.1,542.5 580.4,541.7 580.7,542.2 581,541.1 581.3,539.9 581.6,540.5 582,541.4 582.3,542.7 582.6,541.5 582.9,540.6 583.2,541.5 583.5,541.7 583.8,541.3 584.2,541.6 584.5,542.7 584.8,542.1 585.1,540.2 585.4,540.1 585.7,540.8 586,540.6 586.4,541 586.7,541.7 587,541.9 587.3,541.7 587.6,541.3 587.9,540.4 588.2,540 588.6,540.1 588.9,540.5 589.2,541 589.5,540.8 589.8,541.2 590.1,541 590.4,541.3 590.8,542.2 591.1,540.9 591.4,541.1 591.7,541.5 592,540.2 592.3,540.2 592.6,539.9 593,540.3 593.3,541.8 593.6,540.7 593.9,540.2 594.2,541.5 594.5,541.6 594.9,541.7 595.2,541.5 595.5,540.8 595.8,541.1 596.1,541.6 596.4,541.5 596.7,541.5 597.1,540.9 597.4,540.7 597.7,541.2 598,541.9 598.3,540.3 598.6,544.5 598.9,544.3 599.3,545 599.6,545 599.9,545.1 600.2,544.7 600.5,545.1 600.8,544.8 601.1,545.2 601.5,545.2 601.8,545.2 602.1,545.4 602.4,545.2 602.7,545.4 603,545.7 603.3,546.2 603.7,546 604,546.3 604.3,546.3 604.6,546.9 604.9,547.1 605.2,546.4 605.5,547 605.9,547 606.2,547.6 606.5,546.5 606.8,547.2 607.1,547 607.4,548.2 607.7,548 608.1,548.3 608.4,548.2 608.7,548 609,547.9 609.3,547.5 609.6,546.8 609.9,547.4 610.3,547.1 610.6,546.8 610.9,546.6 611.2,547.1 611.5,546.3 611.8,546 612.1,546.4 612.5,546.5 612.8,545.5 613.1,545.4 613.4,545.2 613.7,545.5 614,545.6 614.3,546.1 614.7,545.7 615,545.8 615.3,545.9 615.6,546.6 615.9,546.2 616.2,546.3 616.6,546.6 616.9,546.9 617.2,547.2 617.5,547.3 617.8,548.5 618.1,549.1 618.4,548.5 618.8,549.4 619.1,549.5 619.4,550.2 619.7,550.4 620,551.2 620.3,551.8 620.6,552.4 621,552.6 621.3,553.1 621.6,553.9 621.9,555.6 622.2,555.9 622.5,555.8 622.8,556.1 623.2,555.2 623.5,555.5 623.8,555 624.1,555.2 624.4,554.4 624.7,554.7 625,554.7 625.4,554.6 625.7,554 626,554.2 626.3,554.4 626.6,553.7 626.9,553.7 627.2,553.3 627.6,552.9 627.9,552.4 628.2,552.2 628.5,551.6 628.8,551.8 629.1,551.3 629.4,551.3 629.8,551.5 630.1,550.8 630.4,550.5 630.7,550.2 631,550.2 631.3,550.2 631.6,549.4 632,548.9 632.3,548.7 632.6,549.3 632.9,548.9 633.2,548.7 633.5,547.8 633.8,548 634.2,547.7 634.5,548 634.8,548.3 635.1,548.4 635.4,549.3 635.7,548.5 636,548.8 636.4,548.9 636.7,549.3 637,549.7 637.3,549.3 637.6,549.1 637.9,549.7 638.3,550.1 638.6,549.7 638.9,550.5 639.2,550 639.5,550.3 639.8,550.5 640.1,551.4 640.5,551.1 640.8,551.2 641.1,551.1 641.4,551.4 641.7,551.8 642,552.9 642.3,553.1 642.7,553 643,552.8 643.3,552.1 643.6,552.2 643.9,552.2 644.2,551.9 644.5,551.6 644.9,550.9 645.2,551 645.5,550.4 645.8,550.5 646.1,549.9 646.4,550 646.7,549.8 647.1,549.5 647.4,550 647.7,549.3 648,549.8 648.3,549.4 648.6,549.4 648.9,549.5 649.3,549.2 649.6,549 649.9,549 650.2,548.9 650.5,549.3 650.8,549.5 651.1,549.6 651.5,549.4 651.8,550.2 652.1,550.7 652.4,550.2 652.7,550.5 653,551.4 653.3,551.2 653.7,551.9 654,551.7 654.3,551.5 654.6,552.2 654.9,552.5 655.2,552.6 655.5,552.2 655.9,552.2 656.2,552.9 656.5,551.9 656.8,552.5 657.1,551.5 657.4,551.9 657.7,551.8 658.1,551.9 658.4,551.5 658.7,551 659,551 659.3,550.2 659.6,549.6 660,549.6 660.3,550.4 660.6,549.9 660.9,549.9 661.2,549.2 661.5,548.3 661.8,548.2 662.2,548.3 662.5,547.7 662.8,547.4 663.1,547.2 663.4,547.3 663.7,546.9 664,547.6 664.4,547.2 664.7,547.8 665,547.9 665.3,547.3 665.6,547.6 665.9,547.6 666.2,547.3 666.6,547.2 666.9,547.6 667.2,547.4 667.5,547.1 667.8,546.9 668.1,547.1 668.4,547.3 668.8,547.4 669.1,547.1 669.4,547.3 669.7,547.5 670,547.5 670.3,547.7 670.6,547.5 671,547.7 671.3,548.2 671.6,548.3 671.9,548.2 672.2,549.1 672.5,548.5 672.8,548.9 673.2,548.9 673.5,548.8 673.8,549.3 674.1,549.6 674.4,549.4 674.7,549.8 675,550.7 675.4,549.6 675.7,550 676,550.4 676.3,550.4 676.6,550.3 676.9,550.5 677.2,550.8 677.6,550.8 677.9,550.8 678.2,551.2 678.5,550.7 678.8,550.4 679.1,550.7 679.4,550.6 679.8,550 680.1,550.1 680.4,549.8 680.7,550.2 681,550.3 681.3,549.9 681.7,550.3 682,549.6 682.3,549.6 682.6,549.7 682.9,549.7 683.2,550.1 683.5,549.2 683.9,549.7 684.2,549.4 684.5,549.7 684.8,548.9 685.1,548.9 685.4,549.9 685.7,549.9 686.1,550 686.4,549.8 686.7,550.3 687,550.2 687.3,550 687.6,550.4 687.9,550.5 688.3,550.5 688.6,550.8 688.9,550.9 689.2,551.4 689.5,551.7 689.8,551.9 690.1,552.1 690.5,551.6 690.8,552.2 691.1,552.5 691.4,552.5 691.7,552.2 692,551.7 692.3,552.9 692.7,552.7 693,553.4 693.3,552.8 693.6,553.6 693.9,553.5 694.2,553.1 694.5,553 694.9,552.8 695.2,552.7 695.5,552.3 695.8,552.1 696.1,551.6 696.4,550.8 696.7,550.5 697.1,550.3 697.4,549.8 697.7,549.1 698,548.8 698.3,549.5 698.6,549 698.9,549.4 699.3,548.4 699.6,548.7 699.9,548.2 700.2,548.1 700.5,547.8 700.8,548 701.1,547.9 701.5,547.8 701.8,548 702.1,548.2 702.4,548.4 702.7,548.6 703,548.6 703.4,548.7 703.7,549 704,548.6 704.3,549.4 704.6,549.4 704.9,548.4 705.2,549 705.6,549.4 705.9,548.7 706.2,549.6 706.5,549.9 706.8,549.7 707.1,549.9 707.4,549.6 707.8,550 708.1,550 708.4,549.7 708.7,549.8 709,549.1 709.3,549.1 709.6,549.7 710,549.6 710.3,548.9 710.6,548.6 710.9,548.3 711.2,549.2 711.5,548.8 711.8,549.2 712.2,548.9 712.5,549 712.8,548.5 713.1,548 713.4,548 713.7,548.5 714,547.7 714.4,548.3 714.7,548 715,548.5 715.3,548 715.6,547.9 715.9,548.4 716.2,547.1 716.6,548.5 716.9,548.2 717.2,547.9 717.5,548.3 717.8,548 718.1,548.3 718.4,548.2 718.8,548.3 719.1,547.7 719.4,547.7 719.7,548.4 720,547.8 720.3,547.6 720.6,547.2 721,547.3 721.3,547.4 721.6,546.8 721.9,547.1 722.2,547 722.5,546.3 722.8,546.9 723.2,547.2 723.5,546.5 723.8,546.5 724.1,546.6 724.4,546.1 724.7,545.4 725.1,545.7 725.4,545.3 725.7,545 726,545.4 726.3,544.7 726.6,544.2 726.9,543.9 727.3,544.4 727.6,543.9 727.9,543.3 728.2,544.2 728.5,544 728.8,544.1 729.1,544.8 729.5,544.9 729.8,544.5 730.1,544.9 730.4,545.3 730.7,545.2 731,545.5 731.3,545.3 731.7,546.1 732,546.4 732.3,545.6 732.6,545.3 732.9,545.5 733.2,545.8 733.5,545.5 733.9,545.4 734.2,545.5 734.5,545.1 734.8,545.8 735.1,545.9 735.4,545.9 735.7,546.6 736.1,546.3 736.4,546.4 736.7,546.9 737,546.8 737.3,546.4 737.6,546.3 737.9,546.2 738.3,546 738.6,545.5 738.9,545.9 739.2,546.1 739.5,545.4 739.8,545.1 740.1,545.4 740.5,545 740.8,544.4 741.1,544.5 741.4,544.2 741.7,544.6 742,543.8 742.3,544.5 742.7,543.9 743,544.1 743.3,543.8 743.6,544 743.9,544.2 744.2,544 744.5,543.4 744.9,543.6 745.2,543.7 745.5,544.2 745.8,543.4 746.1,543.4 746.4,543.2 746.8,543.4 747.1,543.9 747.4,543.5 747.7,544.5 748,544.7 748.3,544.7 748.6,544.9 749,545.7 749.3,544.8 749.6,545.2 749.9,546.2 750.2,545.4 750.5,546.1 750.8,546.1 751.2,546.1 751.5,546.3 751.8,546.7 752.1,546.9 752.4,547 752.7,547.1 753,547 753.4,547 753.7,547.2 754,546.8 754.3,546.7 754.6,547.4 754.9,546.5 755.2,547.4 755.6,547.7 755.9,546.9 756.2,546.6 756.5,547.1 756.8,547.5 757.1,547.1 757.4,547.8 757.8,547.7 758.1,547.2 758.4,547.8 758.7,547.2 759,547.5 759.3,547.8 759.6,548.2 760,548 760.3,548.3 760.6,547.4 760.9,548.9 761.2,547.7 761.5,548.1 761.8,548.5 762.2,548.2 762.5,548.5 762.8,547.8 763.1,547.8 763.4,548.1 763.7,548.1 764,548.3 764.4,548.2 764.7,548 765,548.5 765.3,548 765.6,548.4 765.9,548.9 766.2,548.7 766.6,549.1 766.9,549.5 767.2,549.9 767.5,550 767.8,550 768.1,550.1 768.5,549.7 768.8,549.9 769.1,550.1 769.4,550.4 769.7,550.7 770,550.5 770.3,550.9 770.7,551.5 771,551.2 771.3,550.9 771.6,551.5 771.9,551.7 772.2,551.7 772.5,552.4 772.9,552 773.2,552.2 773.5,551.4 773.8,551.8 774.1,551.5 774.4,551.4 774.7,551.1 775.1,551.4 775.4,550.6 775.7,551.5 776,552 776.3,551.6 776.6,550.4 776.9,551.1 777.3,550.7 777.6,550.6 777.9,550.6 778.2,551 778.5,550.8 778.8,550.2 779.1,550.6 779.5,550.3 779.8,550.9 780.1,549.7 780.4,550.1 780.7,549.8 781,550.1 781.3,549.5 781.7,549.8 782,550.1 782.3,549.9 782.6,549.8 782.9,550.1 783.2,549.9 783.5,549.8 783.9,550.1 784.2,550.1 784.5,550.2 784.8,549.6 785.1,550 785.4,550.5 785.7,549.7 786.1,550.2 786.4,550 786.7,550.5 787,550.5 787.3,550.2 787.6,550 787.9,549.6 788.3,550 788.6,549.9 788.9,550.2 789.2,550.8 789.5,551 789.8,550.5 790.2,550.5 790.5,550.5 790.8,550.7 791.1,550.6 791.4,551.3 791.7,550.5 792,550.9 792.4,550.7 792.7,551.3 793,551.6 793.3,551.3 793.6,551.2 793.9,551.2 794.2,551.5 794.6,551.2 794.9,551.9 795.2,552 795.5,551.9 795.8,551.9 796.1,551.5 796.4,552.3 796.8,551.4 797.1,551.6 797.4,552.5 797.7,551.7 798,551.6 798.3,551.3 798.6,552.2 799,552.2 799.3,551.9 799.6,551.3 799.9,551.8 800.2,551.6 800.5,552.1 800.8,552.3 801.2,552 801.5,552 801.8,552.3 802.1,552.4 802.4,551.5 802.7,552 803,551.5 803.4,551.6 803.7,552.2 804,551.5 804.3,551.8 804.6,552.2 804.9,552 805.2,551.3 805.6,551.7 805.9,551.5 806.2,551.1 806.5,551.9 806.8,551.1 807.1,550.9 807.4,551.1 807.8,550.6 808.1,550 808.4,550.3 808.7,550.3 809,550 809.3,550.1 809.7,549.9 810,549.7 810.3,549.3 810.6,549.2 810.9,549.6 811.2,548.3 811.5,549.1 811.9,548.7 812.2,548.2 812.5,548.3 812.8,548.4 813.1,547.6 813.4,548 813.7,548 814.1,547.4 814.4,547.6 814.7,547.9 815,547.4 815.3,547 815.6,546.6 815.9,546.4 816.3,547.2 816.6,546.7 816.9,546.6 817.2,546.5 817.5,546.2 817.8,546.9 818.1,546.4 818.5,546.5 818.8,545.6 819.1,546.2 819.4,546.3 819.7,545.8 820,546 820.3,546.1 820.7,546.7 821,546.6 821.3,546.4 821.6,546.9 821.9,546.5 822.2,546.9 822.5,546.9 822.9,546.7 823.2,547.4 823.5,547.2 823.8,546.5 824.1,547.2 824.4,547.8 824.7,546.7 825.1,547.8 825.4,547.7 825.7,547.2 826,547.5 826.3,547.1 826.6,547 826.9,547.5 827.3,547.4 827.6,546.7 827.9,547.1 828.2,547.2 828.5,546.6 828.8,547.4 829.1,546.8 829.5,547.1 829.8,547.1 830.1,546.6 830.4,546.9 830.7,547 831,547.3 831.4,547.3 831.7,548 832,548.2 832.3,548.7 832.6,548.8 832.9,548.3 833.2,548.9 833.6,549.4 833.9,549.9 834.2,549.6 834.5,550.1 834.8,550.4 835.1,550.6 835.4,551.2 835.8,550.7 836.1,551.2 836.4,550.9 836.7,551.3 837,550.9 837.3,551.1 837.6,551.6 838,551 838.3,551.4 838.6,551.6 838.9,551.4 839.2,551.4 839.5,551.5 839.8,551.3 840.2,551.8 840.5,551.8 840.8,552.2 841.1,551.8 841.4,552.1 841.7,551.6 842,552 842.4,551.6 842.7,552 843,552 843.3,552.5 843.6,551.6 843.9,552.3 844.2,552.4 844.6,552.8 844.9,552.5 845.2,552.7 845.5,553.3 845.8,552.8 846.1,553 846.4,553.6 846.8,552.7 847.1,553.6 847.4,553.6 847.7,553.8 848,553.4 848.3,553.7 848.6,554.1 849,554.2 849.3,554.9 849.6,554.8 849.9,555.5 850.2,555.3 850.5,555.7 850.8,555.5 851.2,555.7 851.5,556.2 851.8,556.6 852.1,556.3 852.4,557.1 852.7,556.8 853.1,557.6 853.4,556.9 853.7,557.4 854,557.9 854.3,557.6 854.6,557.3 854.9,557.5 855.3,557.5 855.6,556.9 855.9,557.1 856.2,556.6 856.5,556.3 856.8,556.8 857.1,556.1 857.5,555.9 857.8,556.2 858.1,555.5 858.4,555.3 858.7,555.4 859,555.3 859.3,555.4 859.7,554.9 860,554.6 860.3,554.3 860.6,554.4 860.9,554.2 861.2,554.6 861.5,553.6 861.9,553.5 862.2,553.3 862.5,553.7 862.8,553.8 863.1,554 863.4,552.9 863.7,553.3 864.1,553 864.4,553.6 864.7,553 865,553.3 865.3,552.7 865.6,552.9 865.9,552.6 866.3,552.2 866.6,552.5 866.9,552 867.2,551.3 867.5,551.8 867.8,551.3 868.1,551.7 868.5,551.8 868.8,551.2 869.1,551 869.4,550.3 869.7,550.2 870,550 870.3,550.6 870.7,549.7 871,549.7 871.3,548.8 871.6,549 871.9,549 872.2,548.7 872.5,548.5 872.9,548.6 873.2,548.5 873.5,548 873.8,547.9 874.1,548.4 874.4,548.4 874.8,547.7 875.1,548.3 875.4,547.6 875.7,547.9 876,548.3 876.3,547.3 876.6,547.8 877,547.7 877.3,547.3 877.6,547.9 877.9,547.2 878.2,547.2 878.5,546.9 878.8,547.2 879.2,547.1 879.5,547.2 879.8,546.5 880.1,546.2 880.4,546.7 880.7,545.9 881,546.2 881.4,546.3 881.7,545.9 882,544.9 882.3,545 882.6,544.9 882.9,545.4 883.2,545 883.6,545.5 883.9,545.4 884.2,545.5 884.5,545.5 884.8,545.4 885.1,546.1 885.4,545.8 885.8,546.3 886.1,545.6 886.4,545.5 886.7,546.5 887,545.8 887.3,546.3 887.6,546.2 888,546.3 888.3,546.4 888.6,546.2 888.9,546.2 889.2,546.8 889.5,546.5 889.8,547.3 890.2,546.7 890.5,547.1 890.8,546.5 891.1,546.8 891.4,546.3 891.7,546.2 892,546.4 892.4,546.3 892.7,547.2 893,545.9 893.3,546.1 893.6,546.5 893.9,546.2 894.2,546.2 894.6,546.4 894.9,546.1 895.2,545.8 895.5,545.6 895.8,546 896.1,546.1 896.5,546.2 896.8,546.8 897.1,546.6 897.4,547.2 897.7,547.1 898,547.1 898.3,548.2 898.7,548.2 899,548.8 899.3,548.8 899.6,548.8 899.9,549.9 900.2,551.1 900.5,552 900.9,553.2 901.2,554.5 901.5,555.3 901.8,556.5 902.1,557.3 902.4,558.2 902.7,559.1 903.1,559.5 903.4,559.9 903.7,559.6 904,558.4 904.3,558 904.6,557.5 904.9,557.4 905.3,556.9 905.6,556.3 905.9,555.9 906.2,554.9 906.5,554.9 906.8,554.4 907.1,554.2 907.5,553.3 907.8,552.9 908.1,552.7 908.4,553.5 908.7,552.4 909,553.2 909.3,552.2 909.7,552.5 910,552.1 910.3,552.8 910.6,552.4 910.9,552.4 911.2,552.6 911.5,552.6 911.9,552 912.2,552.2 912.5,551.9 912.8,552.4 913.1,551.4 913.4,552.7 913.7,551.9 914.1,551.3 914.4,552 914.7,551.6 915,551.9 915.3,552 915.6,552.4 915.9,551.6 916.3,552.4 916.6,552.8 916.9,552.1 917.2,552.9 917.5,553 917.8,552.7 918.2,552.3 918.5,553.1 918.8,553 919.1,553.8 919.4,553.3 919.7,553.7 920,553.6 920.4,553.6 920.7,553.2 921,553.4 921.3,553.7 921.6,553.7 921.9,553.7 922.2,554 922.6,553.9 922.9,554.1 923.2,554 923.5,554.1 923.8,553.8 924.1,553.6 924.4,554.3 924.8,554.4 925.1,554.4 925.4,553.9 925.7,554.6 926,554.3 926.3,554.4 926.6,554.1 927,554 927.3,553.8 927.6,554 927.9,553.5 928.2,553.5 928.5,553.2 928.8,552.8 929.2,553.1 929.5,552.9 929.8,552.8 930.1,551.7 930.4,552.8 930.7,552.3 931,551.8 931.4,552.6 931.7,551.8 932,551.9 932.3,551.5 932.6,550.6 932.9,551.6 933.2,550.7 933.6,551.3 933.9,550.9 934.2,550.7 934.5,550.2 934.8,550.8 935.1,550.7 935.4,551 935.8,550.6 936.1,551.2 936.4,550.8 936.7,550.8 937,551.6 937.3,551.2 937.6,550.8 938,551.1 938.3,550.5 938.6,550.8 938.9,551.1 939.2,551 939.5,551 939.9,551.7 940.2,551.4 940.5,551.4 940.8,551.6 941.1,551.7 941.4,552.2 941.7,552.2 942.1,551.7 942.4,552.7 942.7,552.8 943,552.4 943.3,552.3 943.6,552.6 943.9,552.4 944.3,552.7 944.6,552.5 944.9,552.9 945.2,551.9 945.5,552.2 945.8,552.4 946.1,552.2 946.5,552.1 946.8,551.9 947.1,552.8 947.4,552.1 947.7,552.3 948,551.8 948.3,551.9 948.7,552 949,552.5 949.3,552.4 949.6,552.5 949.9,552.3 950.2,552.3 950.5,551.7 950.9,551.4 951.2,552 951.5,551.3 951.8,551.6 952.1,551.1 952.4,550.9 952.7,551.2 953.1,550.8 953.4,550.9 953.7,551.2 954,550.8 954.3,551.1 954.6,550.6 954.9,550.7 955.3,550.2 955.6,550.9 955.9,549.7 956.2,550.4 956.5,550.4 956.8,549.3 957.1,549.6 957.5,549.7 957.8,550.1 958.1,550 958.4,550 958.7,550.3 959,550.8 959.3,549.8 959.7,550.2 960,550.1 960.3,550.5 960.6,549.5 960.9,549.6 961.2,549.8 961.6,549.8 961.9,550.2 962.2,550 962.5,549.5 962.8,549.9 963.1,549.6 963.4,549.9 963.8,550 964.1,549.8 964.4,550.3 964.7,550.6 965,549.9 965.3,549.2 965.6,550 966,550.2 966.3,549.4 966.6,549.5 966.9,549.6 967.2,549.2 967.5,549.5 967.8,549.2 968.2,548.7 968.5,548.7 968.8,548.7 969.1,548.5 969.4,549 969.7,548.6 970,548.4 970.4,548.6 970.7,548.2 971,548.4 971.3,548.5 971.6,548 971.9,547.6 972.2,547.3 972.6,548.1 972.9,547.6 973.2,547.2 973.5,547.2 973.8,546.8 974.1,547.5 974.4,547.1 974.8,546.7 975.1,546.3 975.4,547.2 975.7,546.4 976,545.5 976.3,545.8 976.6,545.8 977,545.7 977.3,545.1 977.6,545.7 977.9,545.3 978.2,545 978.5,544.6 978.8,544 979.2,544.3 979.5,544.1 979.8,543.7 980.1,543.9 980.4,543.9 980.7,543.3 981,543.2 981.4,543.1 981.7,543.5 982,543.4 982.3,542.4 982.6,542.8 982.9,543.8 983.3,543 983.6,543.6 983.9,543.3 984.2,543.6 984.5,543.1 984.8,543.3 985.1,543.5 985.5,543.3 985.8,543.3 986.1,543.8 986.4,543.4 986.7,543.9 987,543.3 987.3,543.5 987.7,543.8 988,543.8 988.3,544 988.6,543.7 988.9,543.7 989.2,543.6 989.5,543.3 989.9,543.7 990.2,544.2 990.5,543.8 990.8,543.9 991.1,544.1 991.4,543.4 991.7,543.8 992.1,543.4 992.4,543.9 992.7,543 993,543.3 993.3,543.2 993.6,543.2 993.9,543.1 994.3,543.8 994.6,543.1 994.9,543.1 995.2,542.6 995.5,542.6 995.8,542.8 996.1,542.6 996.5,543.1 996.8,542.7 997.1,542.7 997.4,542.7 997.7,542.4 998,542.3 998.3,542.4 998.7,542.6 999,542.5 999.3,542.3 999.6,543.1 999.9,542.8 1000.2,542.9 1000.5,543.2 1000.9,542.4 1001.2,543.1 1001.5,542.9 1001.8,542.9 1002.1,542.4 1002.4,542.6 1002.7,542.9 1003.1,542.9 1003.4,543.4 1003.7,542.9 1004,543.1 1004.3,542.9 1004.6,542.6 1005,543 1005.3,543.1 1005.6,543.7 1005.9,543.5 1006.2,543 1006.5,542.9 1006.8,543.2 1007.2,543.1 1007.5,544 1007.8,543.6 1008.1,543.3 1008.4,543.2 1008.7,543.1 1009,543.4 1009.4,542.6 1009.7,543.3 1010,543.3 1010.3,543.9 1010.6,542.9 1010.9,543.7 1011.2,543.3 1011.6,543.6 1011.9,543.2 1012.2,543.5 1012.5,543.7 1012.8,544.2 1013.1,543.1 1013.4,543.4 1013.8,543.4 1014.1,543.2 1014.4,543.4 1014.7,543.4 1015,543.3 1015.3,542.9 1015.6,543.5 1016,542.9 1016.3,543.4 1016.6,543.7 1016.9,543 1017.2,543.4 1017.5,543.5 1017.8,543.4 1018.2,543.3 1018.5,543.4 1018.8,543.6 1019.1,543.1 1019.4,543.5 1019.7,543.8 1020,543.4 1020.4,543.3 1020.7,544 1021,544 1021.3,544.2 1021.6,543.9 1021.9,543.8 1022.2,544.5 1022.6,544.5 1022.9,544.4 1023.2,544.1 1023.5,544.4 1023.8,544.1 1024.1,544.1 1024.4,544.5 1024.8,544.7 1025.1,544.8 1025.4,544.7 1025.7,545.4 1026,544.5 1026.3,545.3 1026.7,544.8 1027,545.3 1027.3,544.8 1027.6,545.8 1027.9,545.5 1028.2,544.6 1028.5,545.5 1028.9,545.1 1029.2,545.4 1029.5,545.1 1029.8,545 1030.1,544.7 1030.4,544.9 1030.7,545.1 1031.1,544.6 1031.4,544.8 1031.7,545.1 1032,545.2 1032.3,544.9 1032.6,545.5 1032.9,544.9 1033.3,545.3 1033.6,545.5 1033.9,544.8 1034.2,545.4 1034.5,545.1 1034.8,544.8 1035.1,545.6 1035.5,545.6 1035.8,545 1036.1,545.4 1036.4,545.4 1036.7,545.1 1037,545.8 1037.3,545.1 1037.7,544.9 1038,545.2 1038.3,545.2 1038.6,545.1 1038.9,545.2 1039.2,544.9 1039.5,545.5 1039.9,544.9 1040.2,545.7 1040.5,545.6 1040.8,545.3 1041.1,545.4 1041.4,545.3 1041.7,545.5 1042.1,546.1 1042.4,545.7 1042.7,545.5 1043,546.2 1043.3,545.6 1043.6,545.6 1043.9,546.4 1044.3,546 1044.6,546.2 1044.9,546 1045.2,546.1 1045.5,546.1 1045.8,546.2 1046.1,546.5 1046.5,545.4 1046.8,544.9 1047.1,545.5 1047.4,545 1047.7,545.4 1048,544.9 1048.4,545.2 1048.7,545.4 1049,544.8 1049.3,544.7 1049.6,545.1 1049.9,544.5 1050.2,544.6 1050.6,544.5 1050.9,544 1051.2,544.6 1051.5,543.9 1051.8,544.4 1052.1,544.2 1052.4,543.6 1052.8,543.8 1053.1,544 1053.4,543.6 1053.7,544.3 1054,543.2 1054.3,543.8 1054.6,542.8 1055,543.1 1055.3,543.4 1055.6,542.4 1055.9,543 1056.2,542.6 1056.5,542.7 1056.8,542.9 1057.2,543.1 1057.5,543.2 1057.8,543.2 1058.1,543.2 1058.4,542.7 1058.7,544.1 1059,544.4 1059.4,543.9 1059.7,543.8 1060,543.7 1060.3,544.1 1060.6,544.2 1060.9,543.9 1061.2,544.2 1061.6,544.6 1061.9,544.5 1062.2,544.5 1062.5,544.7 1062.8,544.5 1063.1,544.8 1063.4,544.9 1063.8,544.7 1064.1,545 1064.4,545.4 1064.7,545.5 1065,544.5 1065.3,544.7 1065.6,545.5 1066,545.4 1066.3,545.4 1066.6,544.9 1066.9,545.4 1067.2,545.6 1067.5,545.5 1067.8,545.2 1068.2,545.3 1068.5,545.6 1068.8,545.6 1069.1,546 1069.4,544.9 1069.7,545.4 1070.1,546.1 1070.4,545.3 1070.7,545.8 1071,546.2 1071.3,545.5 1071.6,545.9 1071.9,546.5 1072.3,545.5 1072.6,545.3 1072.9,546.3 1073.2,546.1 1073.5,546.5 1073.8,546.7 1074.1,547.3 1074.5,547.1 1074.8,547.7 1075.1,547.9 1075.4,547.9 1075.7,548.5 1076,548.5 1076.3,548.6 1076.7,549.8 1077,548.5 1077.3,549 1077.6,549.2 1077.9,549.7 1078.2,550.1 1078.5,550.2 1078.9,551.2 1079.2,550.6 1079.5,550.6 1079.8,551 1080.1,550.9 1080.4,550.9 1080.7,551.4 1081.1,551.2 1081.4,551.5 1081.7,550.9 1082,551.4 1082.3,551.3 1082.6,551.1 1082.9,550.8 1083.3,551.3 1083.6,551 1083.9,551.7 1084.2,551.6 1084.5,551.6 1084.8,552.4 1085.1,551.9 1085.5,550.9 1085.8,551.8 1086.1,551.7 1086.4,551.7 1086.7,551.6 1087,552 1087.3,550.9 1087.7,551.4 1088,552 1088.3,551.9 1088.6,552 1088.9,551.6 1089.2,551.5 1089.6,551.9 1089.9,551.7 1090.2,551.1 1090.5,551.9 1090.8,551.2 1091.1,551.8 1091.4,551.5 1091.8,551.6 1092.1,551.7 1092.4,551.1 1092.7,551.6 1093,551.3 1093.3,551.2 1093.6,551.3 1094,551.1 1094.3,551.2 1094.6,551.2 1094.9,550.9 1095.2,551.4 1095.5,551.1 1095.8,550.7 1096.2,551.1 1096.5,551.2 1096.8,550.6 1097.1,551.2 1097.4,551.1 1097.7,551.4 1098,551.3 1098.4,551.6 1098.7,551.6 1099,550.9 1099.3,551.7 1099.6,551.9 1099.9,552 1100.2,552.3 1100.6,552.2 1100.9,552.7 1101.2,552.7 1101.5,552.4 1101.8,552.5 1102.1,553.3 1102.4,553.3 1102.8,552.7 1103.1,553 1103.4,553.9 1103.7,553.7 1104,553.3 1104.3,554.1 1104.6,554.5 1105,554.5 1105.3,554.6 1105.6,554.9 1105.9,555.2 1106.2,555.5 1106.5,556.2 1106.8,557.2 1107.2,557.6 1107.5,557.1 1107.8,557.1 1108.1,557.9 1108.4,558.2 1108.7,558.6 1109,558.5 1109.4,559.4 1109.7,559.5 1110,560.1 1110.3,559.6 1110.6,559.9 1110.9,559.3 1111.3,559.2 1111.6,559.1 1111.9,558.9 1112.2,558.7 1112.5,558.5 1112.8,558.2 1113.1,558 1113.5,557.8 1113.8,557.7 1114.1,558.2 1114.4,557.7 1114.7,557 1115,556.5 1115.3,557.2 1115.7,556.7 1116,556.7 1116.3,556.9 1116.6,555.8 1116.9,556.1 1117.2,556.3 1117.5,556.5 1117.9,556 1118.2,555.9 1118.5,555.8 1118.8,555.7 1119.1,555.6 1119.4,555.3 1119.7,555.1 1120.1,555.1 1120.4,555.3 1120.7,555.3 1121,554.8 1121.3,554.6 1121.6,554.9 1121.9,554.5 1122.3,554.4 1122.6,554 1122.9,553.7 1123.2,553.9 1123.5,553.5 1123.8,553.8 1124.1,553 1124.5,553.2 1124.8,552.9 1125.1,552.4 1125.4,552.5 1125.7,552.1 1126,552.2 1126.3,552 1126.7,552.8 1127,551.5 1127.3,552.1 1127.6,551.8 1127.9,552.2 1128.2,552 1128.5,552 1128.9,552.8 1129.2,552.7 1129.5,551.9 1129.8,552.5 1130.1,552.5 1130.4,552.2 1130.7,552.8 1131.1,553 1131.4,552.9 1131.7,553.2 1132,553.6 1132.3,553 1132.6,553.6 1133,554 1133.3,552.5 1133.6,553.4 1133.9,554 1134.2,553.7 1134.5,553.4 1134.8,554.1 1135.2,553.9 1135.5,553.2 1135.8,554 1136.1,553.7 1136.4,553.8 1136.7,553.4 1137,554 1137.4,553.9 1137.7,553.6 1138,553.8 1138.3,554.4 1138.6,554.5 1138.9,553.6 1139.2,554.2 1139.6,554 1139.9,554 1140.2,554.2 1140.5,554.7 1140.8,554.4 1141.1,554 1141.4,554.3 1141.8,554.5 1142.1,554.7 1142.4,554.3 1142.7,554.3 1143,554.3 1143.3,554.3 1143.6,553.5 1144,554.4 1144.3,554 1144.6,553.9 1144.9,553.5 1145.2,553.8 1145.5,554.3 1145.8,553.4 1146.2,553 1146.5,553.6 1146.8,553.4 1147.1,553.3 1147.4,552.8 1147.7,553.4 1148,553.4 1148.4,551.7 1148.7,553.1 1149,553.2 1149.3,552.6 1149.6,552.2 1149.9,552.8 1150.2,553.4 1150.6,552.8 1150.9,553.4 1151.2,552.7 1151.5,552.5 1151.8,552.3 1152.1,553 1152.4,552.1 1152.8,552.3 1153.1,552.3 1153.4,552.5 1153.7,552.4 1154,551.9 1154.3,551.9 1154.7,552.8 1155,552.3 1155.3,552.2 1155.6,552.1 1155.9,552.2 1156.2,551.9 1156.5,552.4 1156.9,552.3 1157.2,552 1157.5,552.3 1157.8,551.9 1158.1,551.8 1158.4,552.2 1158.7,551.8 1159.1,551.6 1159.4,552.2 1159.7,551.6 1160,551.7 1160.3,551.9 1160.6,550.9 1160.9,551.1 1161.3,551.5 1161.6,551 1161.9,550.8 1162.2,550.8 1162.5,550.7 1162.8,550.6 1163.1,550.7 1163.5,550.5 1163.8,550.9 1164.1,550.4 1164.4,550.7 1164.7,550.2 1165,550.6 1165.3,549.9 1165.7,550.2 1166,549.8 1166.3,550.2 1166.6,549.3 1166.9,549.3 1167.2,549.5 1167.5,549 1167.9,549.7 1168.2,549.1 1168.5,549.3 1168.8,549.4 1169.1,549.2 1169.4,548.8 1169.7,548.5 1170.1,548.4 1170.4,548.5 1170.7,548.5 1171,548.5 1171.3,548.8 1171.6,548.2 1171.9,548.1 1172.3,548.6 1172.6,549 1172.9,548.1 1173.2,548.3 1173.5,548.3 1173.8,548.6 1174.1,548.5 1174.5,548 1174.8,548.4 1175.1,548.1 1175.4,548.3 1175.7,548.6 1176,547.3 1176.4,547.6 1176.7,547.7 1177,547.8 1177.3,548.2 1177.6,548.3 1177.9,548.8 1178.2,548.8 1178.6,548.5 1178.9,548.4 1179.2,548.7 1179.5,548.7 1179.8,548.4 1180.1,548.9 1180.4,548.5 1180.8,548.7 1181.1,548.7 1181.4,548.7 1181.7,548.7 1182,549 1182.3,549 1182.6,548.7 1183,549.6 1183.3,549.7 1183.6,549.7 1183.9,549.6 1184.2,549.3 1184.5,549.1 1184.8,549.2 1185.2,549 1185.5,549.6 1185.8,549.2 1186.1,549.9 1186.4,550 1186.7,549.9 1187,550 1187.4,550.2 1187.7,550.5 1188,550.3 1188.3,551.1 1188.6,550.3 1188.9,550.5 1189.2,550.6 1189.6,550.8 1189.9,551.1 1190.2,551.3 1190.5,551.1 1190.8,551.8 1191.1,550.8 1191.4,551.5 1191.8,551.6 1192.1,551.2 1192.4,551.3 1192.7,551.9 1193,552.2 1193.3,552 1193.6,551.9 1194,551.9 1194.3,551.8 1194.6,551.9 1194.9,552.2 1195.2,552.4 1195.5,552.3 1195.8,551.9 1196.2,552.3 1196.5,552.5 1196.8,551.7 1197.1,552.4 1197.4,552.1 1197.7,552.4 1198.1,552 1198.4,552.1 1198.7,552.4 1199,552.3 1199.3,552.3 1199.6,552.2 1199.9,552.7 1200.3,552.9 1200.6,552.3 1200.9,552.7 1201.2,552.5 1201.5,552.6 1201.8,552.8 1202.1,552.4 1202.5,552.2 1202.8,551.8 1203.1,552.4 1203.4,552.5 1203.7,551.3 1204,552 1204.3,551.6 1204.7,551.2 1205,552 1205.3,551.6 1205.6,552 1205.9,551 1206.2,551 1206.5,550.6 1206.9,550.9 1207.2,550.3 1207.5,550.6 1207.8,551 1208.1,550.7 1208.4,550.8 1208.7,550.4 1209.1,550.5 1209.4,550.1 1209.7,549.7 1210,550.2 1210.3,550 1210.6,549.8 1210.9,549.6 1211.3,550.3 1211.6,549.4 1211.9,549.6 1212.2,550 1212.5,550 1212.8,549.9 1213.1,549.3 1213.5,550.1 1213.8,549.7 1214.1,549.2 1214.4,550 1214.7,549.6 1215,549 1215.3,548.7 1215.7,549.5 1216,549.3 1216.3,549.5 1216.6,549.5 1216.9,549.1 1217.2,549.5 1217.5,549.4 1217.9,549 1218.2,549.5 1218.5,549.3 1218.8,549.2 1219.1,549.4 1219.4,549 1219.8,549 1220.1,549.3 1220.4,549 1220.7,549.8 1221,549.4 1221.3,549.5 1221.6,549.8 1222,549.7 1222.3,549.9 1222.6,549 1222.9,549.8 1223.2,549.2 1223.5,549.2 1223.8,549.4 1224.2,549.3 1224.5,549.3 1224.8,549.4 1225.1,549.8 1225.4,548.6 1225.7,548.8 1226,548.9 1226.4,549.4 1226.7,549.3 1227,549.4 1227.3,549.9 1227.6,549.3 1227.9,548.9 1228.2,549.4 1228.6,549.9 1228.9,549.9 1229.2,549.3 1229.5,549.3"/>
<path clip-path="url(#c1)" d="M66.5 540.5H1229.5" stroke="#008000" stroke-width="2.78" fill="none"/>
<path clip-path="url(#c1)" d="M598.0 630.05V358.5" stroke="#000" stroke-width="2.08" stroke-dasharray="7.71 3.33" fill="none"/>
<polygon clip-path="url(#c2)" fill="#808080" fill-opacity="0.25" stroke="none" points="598,793 598.3,793 598.6,792.6 598.9,792.6 599.3,792.6 599.6,792.6 599.9,792.6 600.2,792.6 600.5,792.6 600.8,792.6 601.1,792.6 601.5,792.6 601.8,792.6 602.1,792.6 602.4,792.6 602.7,792.6 603,792.6 603.3,792.5 603.7,792.5 604,792.5 604.3,792.5 604.6,792.5 604.9,792.5 605.2,792.5 605.5,792.5 605.9,792.5 606.2,792.5 606.5,792.5 606.8,792.5 607.1,792.5 607.4,792.5 607.7,792.5 608.1,792.5 608.4,792.5 608.7,792.5 609,792.4 609.3,792.4 609.6,792.4 609.9,792.4 610.3,792.4 610.6,792.4 610.9,792.4 611.2,792.4 611.5,792.4 611.8,792.4 612.1,792.4 612.5,792.4 612.8,792.4 613.1,792.4 613.4,792.4 613.7,792.4 614,792.4 614.3,792.4 614.7,792.3 615,792.3 615.3,792.3 615.6,792.3 615.9,792.3 616.2,792.3 616.6,792.3 616.9,792.3 617.2,792.3 617.5,792.3 617.8,792.3 618.1,792.3 618.4,792.3 618.8,792.3 619.1,792.3 619.4,792.3 619.7,792.3 620,792.3 620.3,792.2 620.6,792.2 621,792.2 621.3,792.2 621.6,792.2 621.9,792.2 622.2,792.2 622.5,792.2 622.8,792.2 623.2,792.2 623.5,792.2 623.8,792.2 624.1,792.2 624.4,792.2 624.7,792.2 625,792.2 625.4,792.2 625.7,792.2 626,792.1 626.3,792.1 626.6,792.1 626.9,792.1 627.2,792.1 627.6,792.1 627.9,792.1 628.2,792.1 628.5,792.1 628.8,792.1 629.1,792.1 629.4,792.1 629.8,792.1 630.1,792.1 630.4,792.1 630.7,792.1 631,792.1 631.3,792.1 631.6,792 632,792 632.3,792 632.6,792 632.9,792 633.2,792 633.5,792 633.8,792 634.2,792 634.5,792 634.8,792 635.1,792 635.4,792 635.7,792 636,792 636.4,792 636.7,792 637,792 637.3,791.9 637.6,791.9 637.9,791.9 638.3,791.9 638.6,791.9 638.9,791.9 639.2,791.9 639.5,791.9 639.8,791.9 640.1,791.9 640.5,791.9 640.8,791.9 641.1,791.9 641.4,791.9 641.7,791.9 642,791.9 642.3,791.9 642.7,791.9 643,791.8 643.3,791.8 643.6,791.8 643.9,791.8 644.2,791.8 644.5,791.8 644.9,791.8 645.2,791.8 645.5,791.8 645.8,791.8 646.1,791.8 646.4,791.8 646.7,791.7 647.1,791.7 647.4,791.7 647.7,791.7 648,791.7 648.3,791.7 648.6,791.7 648.9,791.7 649.3,791.7 649.6,791.7 649.9,791.7 650.2,791.6 650.5,791.6 650.8,791.6 651.1,791.6 651.5,791.6 651.8,791.6 652.1,791.6 652.4,791.6 652.7,791.6 653,791.6 653.3,791.5 653.7,791.5 654,791.5 654.3,791.5 654.6,791.5 654.9,791.5 655.2,791.5 655.5,791.5 655.9,791.5 656.2,791.5 656.5,791.5 656.8,791.4 657.1,791.4 657.4,791.4 657.7,791.4 658.1,791.4 658.4,791.4 658.7,791.4 659,791.4 659.3,791.4 659.6,791.4 660,791.3 660.3,791.3 660.6,791.3 660.9,791.3 661.2,791.3 661.5,791.3 661.8,791.3 662.2,791.3 662.5,791.3 662.8,791.3 663.1,791.3 663.4,791.2 663.7,791.2 664,791.2 664.4,791.2 664.7,791.2 665,791.2 665.3,791.2 665.6,791.2 665.9,791.2 666.2,791.2 666.6,791.2 666.9,791.1 667.2,791.1 667.5,791.1 667.8,791.1 668.1,791.1 668.4,791.1 668.8,791.1 669.1,791.1 669.4,791.1 669.7,791.1 670,791 670.3,791 670.6,791 671,791 671.3,791 671.6,791 671.9,790.9 672.2,790.9 672.5,790.9 672.8,790.9 673.2,790.9 673.5,790.8 673.8,790.8 674.1,790.8 674.4,790.8 674.7,790.8 675,790.7 675.4,790.7 675.7,790.7 676,790.7 676.3,790.6 676.6,790.6 676.9,790.6 677.2,790.6 677.6,790.6 677.9,790.5 678.2,790.5 678.5,790.5 678.8,790.5 679.1,790.4 679.4,790.4 679.8,790.4 680.1,790.4 680.4,790.4 680.7,790.3 681,790.3 681.3,790.3 681.7,790.3 682,790.2 682.3,790.2 682.6,790.2 682.9,790.2 683.2,790.2 683.5,790.1 683.9,790.1 684.2,790.1 684.5,790.1 684.8,790 685.1,790 685.4,790 685.7,790 686.1,790 686.4,789.9 686.7,789.9 687,789.9 687.3,789.9 687.6,789.8 687.9,789.8 688.3,789.8 688.6,789.8 688.9,789.8 689.2,789.7 689.5,789.7 689.8,789.7 690.1,789.7 690.5,789.6 690.8,789.6 691.1,789.6 691.4,789.6 691.7,789.6 692,789.5 692.3,789.5 692.7,789.5 693,789.5 693.3,789.5 693.6,789.4 693.9,789.4 694.2,789.4 694.5,789.4 694.9,789.3 695.2,789.3 695.5,789.3 695.8,789.3 696.1,789.3 696.4,789.2 696.7,789.2 697.1,789.2 697.4,789.2 697.7,789.1 698,789.1 698.3,789.1 698.6,789.1 698.9,789.1 699.3,789 699.6,789 699.9,789 700.2,789 700.5,788.9 700.8,788.9 701.1,788.9 701.5,788.9 701.8,788.9 702.1,788.8 702.4,788.8 702.7,788.8 703,788.8 703.4,788.7 703.7,788.7 704,788.7 704.3,788.7 704.6,788.7 704.9,788.6 705.2,788.6 705.6,788.6 705.9,788.6 706.2,788.5 706.5,788.5 706.8,788.5 707.1,788.5 707.4,788.5 707.8,788.4 708.1,788.4 708.4,788.4 708.7,788.4 709,788.4 709.3,788.3 709.6,788.3 710,788.3 710.3,788.3 710.6,788.2 710.9,788.2 711.2,788.2 711.5,788.2 711.8,788.2 712.2,788.1 712.5,788.1 712.8,788.1 713.1,788.1 713.4,788 713.7,788 714,788 714.4,788 714.7,788 715,787.9 715.3,787.9 715.6,787.9 715.9,787.9 716.2,787.8 716.6,787.8 716.9,787.8 717.2,787.8 717.5,787.8 717.8,787.7 718.1,787.7 718.4,787.7 718.8,787.7 719.1,787.6 719.4,787.6 719.7,787.6 720,787.6 720.3,787.6 720.6,787.5 721,787.5 721.3,787.5 721.6,787.5 721.9,787.4 722.2,787.4 722.5,787.4 722.8,787.4 723.2,787.4 723.5,787.3 723.8,787.3 724.1,787.3 724.4,787.3 724.7,787.3 725.1,787.2 725.4,787.2 725.7,787.2 726,787.2 726.3,787.1 726.6,787.1 726.9,787.1 727.3,787 727.6,787 727.9,787 728.2,787 728.5,786.9 728.8,786.9 729.1,786.9 729.5,786.9 729.8,786.8 730.1,786.8 730.4,786.8 730.7,786.8 731,786.7 731.3,786.7 731.7,786.7 732,786.7 732.3,786.6 732.6,786.6 732.9,786.6 733.2,786.6 733.5,786.5 733.9,786.5 734.2,786.5 734.5,786.5 734.8,786.4 735.1,786.4 735.4,786.4 735.7,786.4 736.1,786.3 736.4,786.3 736.7,786.3 737,786.3 737.3,786.2 737.6,786.2 737.9,786.2 738.3,786.2 738.6,786.1 738.9,786.1 739.2,786.1 739.5,786.1 739.8,786 740.1,786 740.5,786 740.8,786 741.1,785.9 741.4,785.9 741.7,785.9 742,785.9 742.3,785.8 742.7,785.8 743,785.8 743.3,785.8 743.6,785.7 743.9,785.7 744.2,785.7 744.5,785.7 744.9,785.6 745.2,785.6 745.5,785.6 745.8,785.6 746.1,785.5 746.4,785.5 746.8,785.5 747.1,785.5 747.4,785.4 747.7,785.4 748,785.4 748.3,785.4 748.6,785.3 749,785.3 749.3,785.3 749.6,785.3 749.9,785.2 750.2,785.2 750.5,785.2 750.8,785.2 751.2,785.1 751.5,785.1 751.8,785.1 752.1,785.1 752.4,785 752.7,785 753,785 753.4,785 753.7,785 754,784.9 754.3,784.9 754.6,784.9 754.9,784.9 755.2,784.8 755.6,784.8 755.9,784.8 756.2,784.8 756.5,784.8 756.8,784.7 757.1,784.7 757.4,784.7 757.8,784.7 758.1,784.6 758.4,784.6 758.7,784.6 759,784.6 759.3,784.6 759.6,784.5 760,784.5 760.3,784.5 760.6,784.5 760.9,784.4 761.2,784.4 761.5,784.4 761.8,784.4 762.2,784.4 762.5,784.3 762.8,784.3 763.1,784.3 763.4,784.3 763.7,784.3 764,784.2 764.4,784.2 764.7,784.2 765,784.2 765.3,784.1 765.6,784.1 765.9,784.1 766.2,784.1 766.6,784.1 766.9,784 767.2,784 767.5,784 767.8,784 768.1,783.9 768.5,783.9 768.8,783.9 769.1,783.9 769.4,783.9 769.7,783.8 770,783.8 770.3,783.8 770.7,783.8 771,783.7 771.3,783.7 771.6,783.7 771.9,783.7 772.2,783.7 772.5,783.6 772.9,783.6 773.2,783.6 773.5,783.6 773.8,783.5 774.1,783.5 774.4,783.5 774.7,783.5 775.1,783.5 775.4,783.4 775.7,783.4 776,783.4 776.3,783.4 776.6,783.3 776.9,783.3 777.3,783.3 777.6,783.3 777.9,783.3 778.2,783.2 778.5,783.2 778.8,783.2 779.1,783.2 779.5,783.1 779.8,783.1 780.1,783.1 780.4,783 780.7,783 781,783 781.3,782.9 781.7,782.9 782,782.9 782.3,782.8 782.6,782.8 782.9,782.8 783.2,782.8 783.5,782.7 783.9,782.7 784.2,782.7 784.5,782.6 784.8,782.6 785.1,782.6 785.4,782.5 785.7,782.5 786.1,782.5 786.4,782.4 786.7,782.4 787,782.4 787.3,782.3 787.6,782.3 787.9,782.3 788.3,782.2 788.6,782.2 788.9,782.2 789.2,782.2 789.5,782.1 789.8,782.1 790.2,782.1 790.5,782 790.8,782 791.1,782 791.4,781.9 791.7,781.9 792,781.9 792.4,781.8 792.7,781.8 793,781.8 793.3,781.7 793.6,781.7 793.9,781.7 794.2,781.6 794.6,781.6 794.9,781.6 795.2,781.6 795.5,781.5 795.8,781.5 796.1,781.5 796.4,781.4 796.8,781.4 797.1,781.4 797.4,781.3 797.7,781.3 798,781.3 798.3,781.2 798.6,781.2 799,781.2 799.3,781.1 799.6,781.1 799.9,781.1 800.2,781.1 800.5,781 800.8,781 801.2,781 801.5,780.9 801.8,780.9 802.1,780.9 802.4,780.8 802.7,780.8 803,780.8 803.4,780.7 803.7,780.7 804,780.7 804.3,780.6 804.6,780.6 804.9,780.6 805.2,780.5 805.6,780.5 805.9,780.5 806.2,780.4 806.5,780.4 806.8,780.4 807.1,780.3 807.4,780.3 807.8,780.2 808.1,780.2 808.4,780.2 808.7,780.1 809,780.1 809.3,780 809.7,780 810,779.9 810.3,779.9 810.6,779.9 810.9,779.8 811.2,779.8 811.5,779.7 811.9,779.7 812.2,779.7 812.5,779.6 812.8,779.6 813.1,779.5 813.4,779.5 813.7,779.5 814.1,779.4 814.4,779.4 814.7,779.3 815,779.3 815.3,779.3 815.6,779.2 815.9,779.2 816.3,779.1 816.6,779.1 816.9,779 817.2,779 817.5,779 817.8,778.9 818.1,778.9 818.5,778.8 818.8,778.8 819.1,778.8 819.4,778.7 819.7,778.7 820,778.6 820.3,778.6 820.7,778.6 821,778.5 821.3,778.5 821.6,778.4 821.9,778.4 822.2,778.4 822.5,778.3 822.9,778.3 823.2,778.2 823.5,778.2 823.8,778.1 824.1,778.1 824.4,778.1 824.7,778 825.1,778 825.4,777.9 825.7,777.9 826,777.9 826.3,777.8 826.6,777.8 826.9,777.7 827.3,777.7 827.6,777.7 827.9,777.6 828.2,777.6 828.5,777.5 828.8,777.5 829.1,777.5 829.5,777.4 829.8,777.4 830.1,777.3 830.4,777.3 830.7,777.2 831,777.2 831.4,777.2 831.7,777.1 832,777.1 832.3,777 832.6,777 832.9,777 833.2,776.9 833.6,776.9 833.9,776.8 834.2,776.8 834.5,776.8 834.8,776.7 835.1,776.7 835.4,776.6 835.8,776.6 836.1,776.6 836.4,776.5 836.7,776.5 837,776.4 837.3,776.4 837.6,776.3 838,776.3 838.3,776.3 838.6,776.2 838.9,776.2 839.2,776.1 839.5,776.1 839.8,776.1 840.2,776 840.5,776 840.8,775.9 841.1,775.9 841.4,775.9 841.7,775.8 842,775.8 842.4,775.7 842.7,775.7 843,775.7 843.3,775.6 843.6,775.6 843.9,775.5 844.2,775.5 844.6,775.5 844.9,775.4 845.2,775.4 845.5,775.3 845.8,775.3 846.1,775.2 846.4,775.2 846.8,775.2 847.1,775.1 847.4,775.1 847.7,775 848,775 848.3,775 848.6,774.9 849,774.9 849.3,774.8 849.6,774.8 849.9,774.8 850.2,774.7 850.5,774.7 850.8,774.6 851.2,774.6 851.5,774.6 851.8,774.5 852.1,774.5 852.4,774.4 852.7,774.4 853.1,774.3 853.4,774.3 853.7,774.3 854,774.2 854.3,774.2 854.6,774.1 854.9,774.1 855.3,774.1 855.6,774 855.9,774 856.2,773.9 856.5,773.9 856.8,773.9 857.1,773.8 857.5,773.8 857.8,773.7 858.1,773.7 858.4,773.7 858.7,773.6 859,773.6 859.3,773.5 859.7,773.5 860,773.4 860.3,773.4 860.6,773.3 860.9,773.2 861.2,773.2 861.5,773.1 861.9,773 862.2,773 862.5,772.9 862.8,772.9 863.1,772.8 863.4,772.7 863.7,772.7 864.1,772.6 864.4,772.5 864.7,772.5 865,772.4 865.3,772.4 865.6,772.3 865.9,772.2 866.3,772.2 866.6,772.1 866.9,772 867.2,772 867.5,771.9 867.8,771.8 868.1,771.8 868.5,771.7 868.8,771.7 869.1,771.6 869.4,771.5 869.7,771.5 870,771.4 870.3,771.3 870.7,771.3 871,771.2 871.3,771.2 871.6,771.1 871.9,771 872.2,771 872.5,770.9 872.9,770.8 873.2,770.8 873.5,770.7 873.8,770.7 874.1,770.6 874.4,770.5 874.8,770.5 875.1,770.4 875.4,770.3 875.7,770.3 876,770.2 876.3,770.1 876.6,770.1 877,770 877.3,770 877.6,769.9 877.9,769.8 878.2,769.8 878.5,769.7 878.8,769.6 879.2,769.6 879.5,769.5 879.8,769.5 880.1,769.4 880.4,769.3 880.7,769.3 881,769.2 881.4,769.1 881.7,769.1 882,769 882.3,769 882.6,768.9 882.9,768.8 883.2,768.8 883.6,768.7 883.9,768.6 884.2,768.6 884.5,768.5 884.8,768.5 885.1,768.4 885.4,768.3 885.8,768.3 886.1,768.2 886.4,768.1 886.7,768.1 887,768 887.3,767.9 887.6,767.9 888,767.8 888.3,767.7 888.6,767.6 888.9,767.6 889.2,767.5 889.5,767.4 889.8,767.4 890.2,767.3 890.5,767.2 890.8,767.2 891.1,767.1 891.4,767 891.7,766.9 892,766.9 892.4,766.8 892.7,766.7 893,766.7 893.3,766.6 893.6,766.5 893.9,766.4 894.2,766.4 894.6,766.3 894.9,766.2 895.2,766.2 895.5,766.1 895.8,766 896.1,766 896.5,765.9 896.8,765.8 897.1,765.7 897.4,765.7 897.7,765.6 898,765.5 898.3,765.5 898.7,765.4 899,765.3 899.3,765.2 899.6,765.2 899.9,765.1 900.2,765.1 900.5,765 900.9,765 901.2,764.9 901.5,764.9 901.8,764.8 902.1,764.8 902.4,764.7 902.7,764.7 903.1,764.7 903.4,764.6 903.7,764.6 904,764.5 904.3,764.5 904.6,764.4 904.9,764.4 905.3,764.4 905.6,764.3 905.9,764.3 906.2,764.2 906.5,764.2 906.8,764.1 907.1,764.1 907.5,764 907.8,764 908.1,764 908.4,763.9 908.7,763.9 909,763.8 909.3,763.8 909.7,763.7 910,763.7 910.3,763.6 910.6,763.6 910.9,763.6 911.2,763.5 911.5,763.5 911.9,763.4 912.2,763.4 912.5,763.3 912.8,763.3 913.1,763.3 913.4,763.2 913.7,763.2 914.1,763.1 914.4,763.1 914.7,763 915,763 915.3,762.9 915.6,762.9 915.9,762.9 916.3,762.8 916.6,762.8 916.9,762.7 917.2,762.7 917.5,762.6 917.8,762.6 918.2,762.5 918.5,762.5 918.8,762.5 919.1,762.4 919.4,762.4 919.7,762.3 920,762.3 920.4,762.2 920.7,762.2 921,762.1 921.3,762.1 921.6,762.1 921.9,762 922.2,762 922.6,761.9 922.9,761.9 923.2,761.8 923.5,761.8 923.8,761.8 924.1,761.7 924.4,761.7 924.8,761.6 925.1,761.6 925.4,761.5 925.7,761.5 926,761.4 926.3,761.4 926.6,761.4 927,761.3 927.3,761.3 927.6,761.2 927.9,761.2 928.2,761.1 928.5,761.1 928.8,761 929.2,761 929.5,760.9 929.8,760.9 930.1,760.8 930.4,760.8 930.7,760.7 931,760.7 931.4,760.6 931.7,760.6 932,760.5 932.3,760.5 932.6,760.4 932.9,760.4 933.2,760.3 933.6,760.3 933.9,760.2 934.2,760.2 934.5,760.1 934.8,760.1 935.1,760 935.4,760 935.8,759.9 936.1,759.9 936.4,759.8 936.7,759.8 937,759.7 937.3,759.7 937.6,759.6 938,759.6 938.3,759.5 938.6,759.5 938.9,759.4 939.2,759.4 939.5,759.3 939.9,759.3 940.2,759.2 940.5,759.2 940.8,759.1 941.1,759.1 941.4,759 941.7,759 942.1,758.9 942.4,758.9 942.7,758.8 943,758.8 943.3,758.7 943.6,758.7 943.9,758.6 944.3,758.6 944.6,758.5 944.9,758.5 945.2,758.4 945.5,758.4 945.8,758.3 946.1,758.3 946.5,758.2 946.8,758.2 947.1,758.1 947.4,758 947.7,758 948,757.9 948.3,757.9 948.7,757.8 949,757.8 949.3,757.7 949.6,757.7 949.9,757.6 950.2,757.6 950.5,757.5 950.9,757.5 951.2,757.4 951.5,757.4 951.8,757.3 952.1,757.3 952.4,757.2 952.7,757.2 953.1,757.1 953.4,757.1 953.7,757 954,757 954.3,756.9 954.6,756.9 954.9,756.8 955.3,756.8 955.6,756.7 955.9,756.7 956.2,756.6 956.5,756.5 956.8,756.5 957.1,756.4 957.5,756.4 957.8,756.3 958.1,756.2 958.4,756.2 958.7,756.1 959,756.1 959.3,756 959.7,755.9 960,755.9 960.3,755.8 960.6,755.8 960.9,755.7 961.2,755.6 961.6,755.6 961.9,755.5 962.2,755.5 962.5,755.4 962.8,755.3 963.1,755.3 963.4,755.2 963.8,755.2 964.1,755.1 964.4,755 964.7,755 965,754.9 965.3,754.9 965.6,754.8 966,754.7 966.3,754.7 966.6,754.6 966.9,754.6 967.2,754.5 967.5,754.4 967.8,754.4 968.2,754.3 968.5,754.3 968.8,754.2 969.1,754.1 969.4,754.1 969.7,754 970,754 970.4,753.9 970.7,753.8 971,753.8 971.3,753.7 971.6,753.7 971.9,753.6 972.2,753.5 972.6,753.5 972.9,753.4 973.2,753.4 973.5,753.3 973.8,753.2 974.1,753.2 974.4,753.1 974.8,753.1 975.1,753 975.4,752.9 975.7,752.9 976,752.8 976.3,752.8 976.6,752.7 977,752.6 977.3,752.6 977.6,752.5 977.9,752.5 978.2,752.4 978.5,752.4 978.8,752.3 979.2,752.2 979.5,752.2 979.8,752.1 980.1,752.1 980.4,752 980.7,751.9 981,751.9 981.4,751.8 981.7,751.8 982,751.7 982.3,751.6 982.6,751.5 982.9,751.5 983.3,751.4 983.6,751.3 983.9,751.3 984.2,751.2 984.5,751.1 984.8,751 985.1,751 985.5,750.9 985.8,750.8 986.1,750.7 986.4,750.7 986.7,750.6 987,750.5 987.3,750.5 987.7,750.4 988,750.3 988.3,750.2 988.6,750.2 988.9,750.1 989.2,750 989.5,750 989.9,749.9 990.2,749.8 990.5,749.7 990.8,749.7 991.1,749.6 991.4,749.5 991.7,749.4 992.1,749.4 992.4,749.3 992.7,749.2 993,749.2 993.3,749.1 993.6,749 993.9,748.9 994.3,748.9 994.6,748.8 994.9,748.7 995.2,748.7 995.5,748.6 995.8,748.5 996.1,748.4 996.5,748.4 996.8,748.3 997.1,748.2 997.4,748.1 997.7,748.1 998,748 998.3,747.9 998.7,747.9 999,747.8 999.3,747.7 999.6,747.6 999.9,747.6 1000.2,747.5 1000.5,747.4 1000.9,747.3 1001.2,747.3 1001.5,747.2 1001.8,747.1 1002.1,747.1 1002.4,747 1002.7,746.9 1003.1,746.8 1003.4,746.8 1003.7,746.7 1004,746.6 1004.3,746.6 1004.6,746.5 1005,746.4 1005.3,746.3 1005.6,746.3 1005.9,746.2 1006.2,746.1 1006.5,746 1006.8,746 1007.2,745.9 1007.5,745.8 1007.8,745.8 1008.1,745.7 1008.4,745.6 1008.7,745.5 1009,745.5 1009.4,745.4 1009.7,745.3 1010,745.3 1010.3,745.2 1010.6,745.1 1010.9,745 1011.2,745 1011.6,744.9 1011.9,744.8 1012.2,744.7 1012.5,744.7 1012.8,744.6 1013.1,744.5 1013.4,744.5 1013.8,744.4 1014.1,744.3 1014.4,744.2 1014.7,744.2 1015,744.1 1015.3,744 1015.6,743.9 1016,743.9 1016.3,743.8 1016.6,743.7 1016.9,743.7 1017.2,743.6 1017.5,743.5 1017.8,743.4 1018.2,743.4 1018.5,743.3 1018.8,743.2 1019.1,743.2 1019.4,743.1 1019.7,743 1020,742.9 1020.4,742.9 1020.7,742.8 1021,742.7 1021.3,742.6 1021.6,742.6 1021.9,742.5 1022.2,742.4 1022.6,742.4 1022.9,742.3 1023.2,742.2 1023.5,742.1 1023.8,742.1 1024.1,742 1024.4,741.9 1024.8,741.9 1025.1,741.8 1025.4,741.7 1025.7,741.6 1026,741.6 1026.3,741.5 1026.7,741.4 1027,741.3 1027.3,741.3 1027.6,741.2 1027.9,741.1 1028.2,741.1 1028.5,741 1028.9,740.9 1029.2,740.8 1029.5,740.8 1029.8,740.7 1030.1,740.6 1030.4,740.5 1030.7,740.5 1031.1,740.4 1031.4,740.3 1031.7,740.3 1032,740.2 1032.3,740.1 1032.6,740 1032.9,740 1033.3,739.9 1033.6,739.8 1033.9,739.8 1034.2,739.7 1034.5,739.6 1034.8,739.5 1035.1,739.5 1035.5,739.4 1035.8,739.3 1036.1,739.2 1036.4,739.2 1036.7,739.1 1037,739 1037.3,739 1037.7,738.9 1038,738.8 1038.3,738.7 1038.6,738.6 1038.9,738.6 1039.2,738.5 1039.5,738.4 1039.9,738.3 1040.2,738.3 1040.5,738.2 1040.8,738.1 1041.1,738 1041.4,738 1041.7,737.9 1042.1,737.8 1042.4,737.7 1042.7,737.7 1043,737.6 1043.3,737.5 1043.6,737.4 1043.9,737.4 1044.3,737.3 1044.6,737.2 1044.9,737.1 1045.2,737.1 1045.5,737 1045.8,736.9 1046.1,736.8 1046.5,736.8 1046.8,736.7 1047.1,736.6 1047.4,736.5 1047.7,736.5 1048,736.4 1048.4,736.3 1048.7,736.2 1049,736.2 1049.3,736.1 1049.6,736 1049.9,735.9 1050.2,735.9 1050.6,735.8 1050.9,735.7 1051.2,735.6 1051.5,735.6 1051.8,735.5 1052.1,735.4 1052.4,735.3 1052.8,735.3 1053.1,735.2 1053.4,735.1 1053.7,735 1054,734.9 1054.3,734.9 1054.6,734.8 1055,734.7 1055.3,734.6 1055.6,734.6 1055.9,734.5 1056.2,734.4 1056.5,734.3 1056.8,734.3 1057.2,734.2 1057.5,734.1 1057.8,734 1058.1,734 1058.4,733.9 1058.7,733.8 1059,733.7 1059.4,733.7 1059.7,733.6 1060,733.5 1060.3,733.4 1060.6,733.4 1060.9,733.3 1061.2,733.2 1061.6,733.1 1061.9,733.1 1062.2,733 1062.5,732.9 1062.8,732.8 1063.1,732.8 1063.4,732.7 1063.8,732.6 1064.1,732.5 1064.4,732.5 1064.7,732.4 1065,732.3 1065.3,732.2 1065.6,732.2 1066,732.1 1066.3,732 1066.6,732 1066.9,731.9 1067.2,731.8 1067.5,731.7 1067.8,731.7 1068.2,731.6 1068.5,731.5 1068.8,731.5 1069.1,731.4 1069.4,731.3 1069.7,731.2 1070.1,731.2 1070.4,731.1 1070.7,731 1071,730.9 1071.3,730.9 1071.6,730.8 1071.9,730.7 1072.3,730.7 1072.6,730.6 1072.9,730.5 1073.2,730.4 1073.5,730.4 1073.8,730.3 1074.1,730.2 1074.5,730.2 1074.8,730.1 1075.1,730 1075.4,729.9 1075.7,729.9 1076,729.8 1076.3,729.7 1076.7,729.6 1077,729.6 1077.3,729.5 1077.6,729.4 1077.9,729.4 1078.2,729.3 1078.5,729.2 1078.9,729.1 1079.2,729.1 1079.5,729 1079.8,728.9 1080.1,728.8 1080.4,728.8 1080.7,728.7 1081.1,728.6 1081.4,728.6 1081.7,728.5 1082,728.4 1082.3,728.3 1082.6,728.3 1082.9,728.2 1083.3,728.1 1083.6,728.1 1083.9,728 1084.2,727.9 1084.5,727.8 1084.8,727.8 1085.1,727.7 1085.5,727.6 1085.8,727.5 1086.1,727.5 1086.4,727.4 1086.7,727.3 1087,727.3 1087.3,727.2 1087.7,727.1 1088,727 1088.3,727 1088.6,726.9 1088.9,726.8 1089.2,726.8 1089.6,726.7 1089.9,726.6 1090.2,726.5 1090.5,726.5 1090.8,726.4 1091.1,726.3 1091.4,726.3 1091.8,726.2 1092.1,726.1 1092.4,726.1 1092.7,726 1093,725.9 1093.3,725.9 1093.6,725.8 1094,725.8 1094.3,725.7 1094.6,725.6 1094.9,725.6 1095.2,725.5 1095.5,725.4 1095.8,725.4 1096.2,725.3 1096.5,725.2 1096.8,725.2 1097.1,725.1 1097.4,725.1 1097.7,725 1098,724.9 1098.4,724.9 1098.7,724.8 1099,724.7 1099.3,724.7 1099.6,724.6 1099.9,724.6 1100.2,724.5 1100.6,724.4 1100.9,724.4 1101.2,724.3 1101.5,724.2 1101.8,724.2 1102.1,724.1 1102.4,724.1 1102.8,724 1103.1,723.9 1103.4,723.9 1103.7,723.8 1104,723.7 1104.3,723.7 1104.6,723.6 1105,723.5 1105.3,723.5 1105.6,723.4 1105.9,723.4 1106.2,723.3 1106.5,723.2 1106.8,723.2 1107.2,723.1 1107.5,723 1107.8,723 1108.1,722.9 1108.4,722.9 1108.7,722.8 1109,722.7 1109.4,722.7 1109.7,722.6 1110,722.5 1110.3,722.5 1110.6,722.4 1110.9,722.4 1111.3,722.3 1111.6,722.2 1111.9,722.2 1112.2,722.1 1112.5,722 1112.8,722 1113.1,721.9 1113.5,721.9 1113.8,721.8 1114.1,721.7 1114.4,721.7 1114.7,721.6 1115,721.5 1115.3,721.5 1115.7,721.4 1116,721.3 1116.3,721.3 1116.6,721.2 1116.9,721.2 1117.2,721.1 1117.5,721 1117.9,721 1118.2,720.9 1118.5,720.8 1118.8,720.8 1119.1,720.7 1119.4,720.6 1119.7,720.6 1120.1,720.5 1120.4,720.4 1120.7,720.3 1121,720.3 1121.3,720.2 1121.6,720.1 1121.9,720 1122.3,720 1122.6,719.9 1122.9,719.8 1123.2,719.8 1123.5,719.7 1123.8,719.6 1124.1,719.5 1124.5,719.5 1124.8,719.4 1125.1,719.3 1125.4,719.3 1125.7,719.2 1126,719.1 1126.3,719 1126.7,719 1127,718.9 1127.3,718.8 1127.6,718.7 1127.9,718.7 1128.2,718.6 1128.5,718.5 1128.9,718.5 1129.2,718.4 1129.5,718.3 1129.8,718.2 1130.1,718.2 1130.4,718.1 1130.7,718 1131.1,717.9 1131.4,717.9 1131.7,717.8 1132,717.7 1132.3,717.7 1132.6,717.6 1133,717.5 1133.3,717.4 1133.6,717.4 1133.9,717.3 1134.2,717.2 1134.5,717.2 1134.8,717.1 1135.2,717 1135.5,716.9 1135.8,716.9 1136.1,716.8 1136.4,716.7 1136.7,716.6 1137,716.6 1137.4,716.5 1137.7,716.4 1138,716.4 1138.3,716.3 1138.6,716.2 1138.9,716.1 1139.2,716.1 1139.6,716 1139.9,715.9 1140.2,715.9 1140.5,715.8 1140.8,715.7 1141.1,715.6 1141.4,715.6 1141.8,715.5 1142.1,715.4 1142.4,715.3 1142.7,715.3 1143,715.2 1143.3,715.1 1143.6,715.1 1144,715 1144.3,714.9 1144.6,714.8 1144.9,714.8 1145.2,714.7 1145.5,714.6 1145.8,714.5 1146.2,714.5 1146.5,714.4 1146.8,714.3 1147.1,714.2 1147.4,714.2 1147.7,714.1 1148,714 1148.4,713.9 1148.7,713.9 1149,713.8 1149.3,713.7 1149.6,713.6 1149.9,713.6 1150.2,713.5 1150.6,713.4 1150.9,713.3 1151.2,713.3 1151.5,713.2 1151.8,713.1 1152.1,713 1152.4,713 1152.8,712.9 1153.1,712.8 1153.4,712.7 1153.7,712.7 1154,712.6 1154.3,712.5 1154.7,712.4 1155,712.4 1155.3,712.3 1155.6,712.2 1155.9,712.1 1156.2,712.1 1156.5,712 1156.9,711.9 1157.2,711.8 1157.5,711.8 1157.8,711.7 1158.1,711.6 1158.4,711.5 1158.7,711.5 1159.1,711.4 1159.4,711.3 1159.7,711.2 1160,711.2 1160.3,711.1 1160.6,711 1160.9,710.9 1161.3,710.8 1161.6,710.8 1161.9,710.7 1162.2,710.6 1162.5,710.5 1162.8,710.5 1163.1,710.4 1163.5,710.3 1163.8,710.2 1164.1,710.2 1164.4,710.1 1164.7,710 1165,709.9 1165.3,709.9 1165.7,709.8 1166,709.7 1166.3,709.6 1166.6,709.6 1166.9,709.5 1167.2,709.4 1167.5,709.3 1167.9,709.3 1168.2,709.2 1168.5,709.1 1168.8,709 1169.1,709 1169.4,708.9 1169.7,708.8 1170.1,708.7 1170.4,708.7 1170.7,708.6 1171,708.5 1171.3,708.4 1171.6,708.4 1171.9,708.3 1172.3,708.2 1172.6,708.1 1172.9,708.1 1173.2,708 1173.5,707.9 1173.8,707.8 1174.1,707.8 1174.5,707.7 1174.8,707.6 1175.1,707.5 1175.4,707.5 1175.7,707.4 1176,707.3 1176.4,707.3 1176.7,707.2 1177,707.1 1177.3,707 1177.6,707 1177.9,706.9 1178.2,706.8 1178.6,706.8 1178.9,706.7 1179.2,706.6 1179.5,706.5 1179.8,706.5 1180.1,706.4 1180.4,706.3 1180.8,706.2 1181.1,706.2 1181.4,706.1 1181.7,706 1182,706 1182.3,705.9 1182.6,705.8 1183,705.7 1183.3,705.7 1183.6,705.6 1183.9,705.5 1184.2,705.5 1184.5,705.4 1184.8,705.3 1185.2,705.2 1185.5,705.2 1185.8,705.1 1186.1,705 1186.4,704.9 1186.7,704.9 1187,704.8 1187.4,704.7 1187.7,704.7 1188,704.6 1188.3,704.5 1188.6,704.4 1188.9,704.4 1189.2,704.3 1189.6,704.2 1189.9,704.1 1190.2,704.1 1190.5,704 1190.8,703.9 1191.1,703.9 1191.4,703.8 1191.8,703.7 1192.1,703.6 1192.4,703.6 1192.7,703.5 1193,703.4 1193.3,703.4 1193.6,703.3 1194,703.2 1194.3,703.1 1194.6,703.1 1194.9,703 1195.2,702.9 1195.5,702.8 1195.8,702.8 1196.2,702.7 1196.5,702.6 1196.8,702.6 1197.1,702.5 1197.4,702.4 1197.7,702.3 1198.1,702.3 1198.4,702.2 1198.7,702.1 1199,702.1 1199.3,702 1199.6,701.9 1199.9,701.8 1200.3,701.8 1200.6,701.7 1200.9,701.6 1201.2,701.6 1201.5,701.5 1201.8,701.5 1202.1,701.4 1202.5,701.3 1202.8,701.3 1203.1,701.2 1203.4,701.2 1203.7,701.1 1204,701 1204.3,701 1204.7,700.9 1205,700.9 1205.3,700.8 1205.6,700.7 1205.9,700.7 1206.2,700.6 1206.5,700.6 1206.9,700.5 1207.2,700.4 1207.5,700.4 1207.8,700.3 1208.1,700.3 1208.4,700.2 1208.7,700.1 1209.1,700.1 1209.4,700 1209.7,700 1210,699.9 1210.3,699.8 1210.6,699.8 1210.9,699.7 1211.3,699.7 1211.6,699.6 1211.9,699.5 1212.2,699.5 1212.5,699.4 1212.8,699.4 1213.1,699.3 1213.5,699.2 1213.8,699.2 1214.1,699.1 1214.4,699.1 1214.7,699 1215,698.9 1215.3,698.9 1215.7,698.8 1216,698.8 1216.3,698.7 1216.6,698.6 1216.9,698.6 1217.2,698.5 1217.5,698.5 1217.9,698.4 1218.2,698.3 1218.5,698.3 1218.8,698.2 1219.1,698.2 1219.4,698.1 1219.8,698 1220.1,698 1220.4,697.9 1220.7,697.9 1221,697.8 1221.3,697.7 1221.6,697.7 1222,697.6 1222.3,697.6 1222.6,697.5 1222.9,697.4 1223.2,697.4 1223.5,697.3 1223.8,697.3 1224.2,697.2 1224.5,697.1 1224.8,697.1 1225.1,697 1225.4,697 1225.7,696.9 1226,696.8 1226.4,696.8 1226.7,696.7 1227,696.7 1227.3,696.6 1227.6,696.5 1227.9,696.5 1228.2,696.4 1228.6,696.4 1228.9,696.3 1229.2,696.3 1229.5,696.2 1229.5,942.9 1229.2,942.9 1228.9,942.8 1228.6,942.7 1228.2,942.7 1227.9,942.6 1227.6,942.5 1227.3,942.5 1227,942.4 1226.7,942.3 1226.4,942.2 1226,942.2 1225.7,942.1 1225.4,942 1225.1,942 1224.8,941.9 1224.5,941.8 1224.2,941.8 1223.8,941.7 1223.5,941.6 1223.2,941.6 1222.9,941.5 1222.6,941.4 1222.3,941.4 1222,941.3 1221.6,941.2 1221.3,941.1 1221,941.1 1220.7,941 1220.4,940.9 1220.1,940.9 1219.8,940.8 1219.4,940.7 1219.1,940.7 1218.8,940.6 1218.5,940.5 1218.2,940.5 1217.9,940.4 1217.5,940.3 1217.2,940.2 1216.9,940.2 1216.6,940.1 1216.3,940 1216,940 1215.7,939.9 1215.3,939.8 1215,939.8 1214.7,939.7 1214.4,939.6 1214.1,939.6 1213.8,939.5 1213.5,939.4 1213.1,939.4 1212.8,939.3 1212.5,939.2 1212.2,939.1 1211.9,939.1 1211.6,939 1211.3,938.9 1210.9,938.9 1210.6,938.8 1210.3,938.7 1210,938.7 1209.7,938.6 1209.4,938.5 1209.1,938.5 1208.7,938.4 1208.4,938.3 1208.1,938.3 1207.8,938.2 1207.5,938.1 1207.2,938 1206.9,938 1206.5,937.9 1206.2,937.8 1205.9,937.8 1205.6,937.7 1205.3,937.6 1205,937.6 1204.7,937.5 1204.3,937.4 1204,937.4 1203.7,937.3 1203.4,937.2 1203.1,937.1 1202.8,937.1 1202.5,937 1202.1,936.9 1201.8,936.9 1201.5,936.8 1201.2,936.7 1200.9,936.7 1200.6,936.6 1200.3,936.5 1199.9,936.4 1199.6,936.3 1199.3,936.2 1199,936.1 1198.7,936 1198.4,935.9 1198.1,935.8 1197.7,935.7 1197.4,935.6 1197.1,935.5 1196.8,935.4 1196.5,935.3 1196.2,935.2 1195.8,935.1 1195.5,935 1195.2,934.9 1194.9,934.8 1194.6,934.7 1194.3,934.6 1194,934.5 1193.6,934.4 1193.3,934.3 1193,934.2 1192.7,934.1 1192.4,934 1192.1,933.9 1191.8,933.8 1191.4,933.7 1191.1,933.6 1190.8,933.5 1190.5,933.4 1190.2,933.3 1189.9,933.2 1189.6,933.1 1189.2,933 1188.9,932.9 1188.6,932.8 1188.3,932.7 1188,932.6 1187.7,932.5 1187.4,932.4 1187,932.3 1186.7,932.2 1186.4,932.1 1186.1,932 1185.8,931.9 1185.5,931.8 1185.2,931.7 1184.8,931.6 1184.5,931.5 1184.2,931.4 1183.9,931.3 1183.6,931.2 1183.3,931.1 1183,931 1182.6,930.9 1182.3,930.8 1182,930.7 1181.7,930.6 1181.4,930.5 1181.1,930.4 1180.8,930.3 1180.4,930.2 1180.1,930.1 1179.8,930 1179.5,929.9 1179.2,929.8 1178.9,929.7 1178.6,929.6 1178.2,929.5 1177.9,929.4 1177.6,929.3 1177.3,929.2 1177,929.1 1176.7,929 1176.4,928.9 1176,928.8 1175.7,928.7 1175.4,928.6 1175.1,928.5 1174.8,928.4 1174.5,928.3 1174.1,928.2 1173.8,928.1 1173.5,928 1173.2,927.9 1172.9,927.8 1172.6,927.7 1172.3,927.6 1171.9,927.5 1171.6,927.3 1171.3,927.2 1171,927.1 1170.7,927 1170.4,926.9 1170.1,926.8 1169.7,926.7 1169.4,926.6 1169.1,926.5 1168.8,926.4 1168.5,926.3 1168.2,926.2 1167.9,926.1 1167.5,926 1167.2,925.9 1166.9,925.8 1166.6,925.7 1166.3,925.6 1166,925.5 1165.7,925.4 1165.3,925.3 1165,925.2 1164.7,925.1 1164.4,925 1164.1,924.9 1163.8,924.8 1163.5,924.7 1163.1,924.5 1162.8,924.4 1162.5,924.3 1162.2,924.2 1161.9,924.1 1161.6,924 1161.3,923.9 1160.9,923.8 1160.6,923.7 1160.3,923.6 1160,923.5 1159.7,923.4 1159.4,923.3 1159.1,923.2 1158.7,923.1 1158.4,923 1158.1,922.9 1157.8,922.8 1157.5,922.7 1157.2,922.6 1156.9,922.5 1156.5,922.4 1156.2,922.3 1155.9,922.2 1155.6,922.1 1155.3,922 1155,921.8 1154.7,921.7 1154.3,921.6 1154,921.5 1153.7,921.4 1153.4,921.3 1153.1,921.2 1152.8,921.1 1152.4,921 1152.1,920.9 1151.8,920.8 1151.5,920.7 1151.2,920.6 1150.9,920.5 1150.6,920.4 1150.2,920.3 1149.9,920.2 1149.6,920.1 1149.3,920 1149,919.9 1148.7,919.8 1148.4,919.7 1148,919.6 1147.7,919.5 1147.4,919.4 1147.1,919.3 1146.8,919.2 1146.5,919 1146.2,918.9 1145.8,918.8 1145.5,918.7 1145.2,918.6 1144.9,918.5 1144.6,918.4 1144.3,918.3 1144,918.2 1143.6,918.1 1143.3,918 1143,917.9 1142.7,917.7 1142.4,917.6 1142.1,917.5 1141.8,917.4 1141.4,917.3 1141.1,917.2 1140.8,917.1 1140.5,917 1140.2,916.9 1139.9,916.8 1139.6,916.6 1139.2,916.5 1138.9,916.4 1138.6,916.3 1138.3,916.2 1138,916.1 1137.7,916 1137.4,915.9 1137,915.8 1136.7,915.6 1136.4,915.5 1136.1,915.4 1135.8,915.3 1135.5,915.2 1135.2,915.1 1134.8,915 1134.5,914.9 1134.2,914.8 1133.9,914.7 1133.6,914.5 1133.3,914.4 1133,914.3 1132.6,914.2 1132.3,914.1 1132,914 1131.7,913.9 1131.4,913.8 1131.1,913.7 1130.7,913.6 1130.4,913.4 1130.1,913.3 1129.8,913.2 1129.5,913.1 1129.2,913 1128.9,912.9 1128.5,912.8 1128.2,912.7 1127.9,912.6 1127.6,912.5 1127.3,912.3 1127,912.2 1126.7,912.1 1126.3,912 1126,911.9 1125.7,911.8 1125.4,911.7 1125.1,911.6 1124.8,911.5 1124.5,911.4 1124.1,911.2 1123.8,911.1 1123.5,911 1123.2,910.9 1122.9,910.8 1122.6,910.7 1122.3,910.6 1121.9,910.5 1121.6,910.4 1121.3,910.3 1121,910.1 1120.7,910 1120.4,909.9 1120.1,909.8 1119.7,909.7 1119.4,909.6 1119.1,909.5 1118.8,909.4 1118.5,909.3 1118.2,909.2 1117.9,909 1117.5,908.9 1117.2,908.8 1116.9,908.7 1116.6,908.6 1116.3,908.5 1116,908.4 1115.7,908.3 1115.3,908.2 1115,908.1 1114.7,907.9 1114.4,907.8 1114.1,907.7 1113.8,907.6 1113.5,907.5 1113.1,907.4 1112.8,907.3 1112.5,907.2 1112.2,907.1 1111.9,907 1111.6,906.8 1111.3,906.7 1110.9,906.6 1110.6,906.5 1110.3,906.4 1110,906.3 1109.7,906.2 1109.4,906.1 1109,906 1108.7,905.9 1108.4,905.7 1108.1,905.6 1107.8,905.5 1107.5,905.4 1107.2,905.3 1106.8,905.2 1106.5,905.1 1106.2,905 1105.9,904.9 1105.6,904.8 1105.3,904.6 1105,904.5 1104.6,904.4 1104.3,904.3 1104,904.2 1103.7,904.1 1103.4,904 1103.1,903.9 1102.8,903.8 1102.4,903.7 1102.1,903.5 1101.8,903.4 1101.5,903.3 1101.2,903.2 1100.9,903.1 1100.6,903 1100.2,902.9 1099.9,902.8 1099.6,902.7 1099.3,902.6 1099,902.4 1098.7,902.3 1098.4,902.2 1098,902.1 1097.7,902 1097.4,901.9 1097.1,901.8 1096.8,901.7 1096.5,901.6 1096.2,901.5 1095.8,901.3 1095.5,901.2 1095.2,901.1 1094.9,901 1094.6,900.9 1094.3,900.8 1094,900.7 1093.6,900.6 1093.3,900.5 1093,900.3 1092.7,900.2 1092.4,900.1 1092.1,900 1091.8,899.9 1091.4,899.8 1091.1,899.7 1090.8,899.6 1090.5,899.5 1090.2,899.4 1089.9,899.3 1089.6,899.2 1089.2,899.1 1088.9,899 1088.6,898.9 1088.3,898.8 1088,898.7 1087.7,898.7 1087.3,898.6 1087,898.5 1086.7,898.4 1086.4,898.3 1086.1,898.2 1085.8,898.1 1085.5,898 1085.1,897.9 1084.8,897.8 1084.5,897.7 1084.2,897.6 1083.9,897.5 1083.6,897.4 1083.3,897.3 1082.9,897.2 1082.6,897.1 1082.3,897 1082,897 1081.7,896.9 1081.4,896.8 1081.1,896.7 1080.7,896.6 1080.4,896.5 1080.1,896.4 1079.8,896.3 1079.5,896.2 1079.2,896.1 1078.9,896 1078.5,895.9 1078.2,895.8 1077.9,895.7 1077.6,895.6 1077.3,895.5 1077,895.4 1076.7,895.3 1076.3,895.3 1076,895.2 1075.7,895.1 1075.4,895 1075.1,894.9 1074.8,894.8 1074.5,894.7 1074.1,894.6 1073.8,894.5 1073.5,894.4 1073.2,894.3 1072.9,894.2 1072.6,894.1 1072.3,894 1071.9,893.9 1071.6,893.8 1071.3,893.7 1071,893.7 1070.7,893.6 1070.4,893.5 1070.1,893.4 1069.7,893.3 1069.4,893.2 1069.1,893.1 1068.8,893 1068.5,892.9 1068.2,892.8 1067.8,892.7 1067.5,892.6 1067.2,892.5 1066.9,892.4 1066.6,892.3 1066.3,892.2 1066,892.1 1065.6,892 1065.3,892 1065,891.9 1064.7,891.8 1064.4,891.7 1064.1,891.6 1063.8,891.5 1063.4,891.4 1063.1,891.3 1062.8,891.2 1062.5,891.2 1062.2,891.1 1061.9,891 1061.6,890.9 1061.2,890.9 1060.9,890.8 1060.6,890.7 1060.3,890.6 1060,890.5 1059.7,890.5 1059.4,890.4 1059,890.3 1058.7,890.2 1058.4,890.1 1058.1,890.1 1057.8,890 1057.5,889.9 1057.2,889.8 1056.8,889.8 1056.5,889.7 1056.2,889.6 1055.9,889.5 1055.6,889.4 1055.3,889.4 1055,889.3 1054.6,889.2 1054.3,889.1 1054,889 1053.7,889 1053.4,888.9 1053.1,888.8 1052.8,888.7 1052.4,888.7 1052.1,888.6 1051.8,888.5 1051.5,888.4 1051.2,888.3 1050.9,888.3 1050.6,888.2 1050.2,888.1 1049.9,888 1049.6,887.9 1049.3,887.9 1049,887.8 1048.7,887.7 1048.4,887.6 1048,887.6 1047.7,887.5 1047.4,887.4 1047.1,887.3 1046.8,887.2 1046.5,887.2 1046.1,887.1 1045.8,887 1045.5,886.9 1045.2,886.8 1044.9,886.8 1044.6,886.7 1044.3,886.6 1043.9,886.5 1043.6,886.5 1043.3,886.4 1043,886.3 1042.7,886.2 1042.4,886.1 1042.1,886.1 1041.7,886 1041.4,885.9 1041.1,885.8 1040.8,885.7 1040.5,885.7 1040.2,885.6 1039.9,885.5 1039.5,885.4 1039.2,885.4 1038.9,885.3 1038.6,885.2 1038.3,885.1 1038,885 1037.7,885 1037.3,884.9 1037,884.8 1036.7,884.7 1036.4,884.6 1036.1,884.6 1035.8,884.5 1035.5,884.4 1035.1,884.3 1034.8,884.2 1034.5,884.1 1034.2,884 1033.9,884 1033.6,883.9 1033.3,883.8 1032.9,883.7 1032.6,883.6 1032.3,883.5 1032,883.5 1031.7,883.4 1031.4,883.3 1031.1,883.2 1030.7,883.1 1030.4,883 1030.1,882.9 1029.8,882.9 1029.5,882.8 1029.2,882.7 1028.9,882.6 1028.5,882.5 1028.2,882.4 1027.9,882.3 1027.6,882.3 1027.3,882.2 1027,882.1 1026.7,882 1026.3,881.9 1026,881.8 1025.7,881.8 1025.4,881.7 1025.1,881.6 1024.8,881.5 1024.4,881.4 1024.1,881.3 1023.8,881.2 1023.5,881.2 1023.2,881.1 1022.9,881 1022.6,880.9 1022.2,880.8 1021.9,880.7 1021.6,880.6 1021.3,880.6 1021,880.5 1020.7,880.4 1020.4,880.3 1020,880.2 1019.7,880.1 1019.4,880.1 1019.1,880 1018.8,879.9 1018.5,879.8 1018.2,879.7 1017.8,879.6 1017.5,879.5 1017.2,879.5 1016.9,879.4 1016.6,879.3 1016.3,879.2 1016,879.1 1015.6,879 1015.3,879 1015,878.9 1014.7,878.8 1014.4,878.7 1014.1,878.6 1013.8,878.5 1013.4,878.4 1013.1,878.4 1012.8,878.3 1012.5,878.2 1012.2,878.1 1011.9,878 1011.6,877.9 1011.2,877.8 1010.9,877.8 1010.6,877.7 1010.3,877.6 1010,877.5 1009.7,877.4 1009.4,877.3 1009,877.3 1008.7,877.2 1008.4,877.1 1008.1,877 1007.8,876.9 1007.5,876.8 1007.2,876.8 1006.8,876.7 1006.5,876.6 1006.2,876.5 1005.9,876.4 1005.6,876.4 1005.3,876.3 1005,876.2 1004.6,876.1 1004.3,876 1004,875.9 1003.7,875.9 1003.4,875.8 1003.1,875.7 1002.7,875.6 1002.4,875.5 1002.1,875.5 1001.8,875.4 1001.5,875.3 1001.2,875.2 1000.9,875.1 1000.5,875 1000.2,875 999.9,874.9 999.6,874.8 999.3,874.7 999,874.6 998.7,874.6 998.3,874.5 998,874.4 997.7,874.3 997.4,874.2 997.1,874.1 996.8,874.1 996.5,874 996.1,873.9 995.8,873.8 995.5,873.7 995.2,873.7 994.9,873.6 994.6,873.5 994.3,873.4 993.9,873.3 993.6,873.2 993.3,873.2 993,873.1 992.7,873 992.4,872.9 992.1,872.8 991.7,872.8 991.4,872.7 991.1,872.6 990.8,872.5 990.5,872.4 990.2,872.3 989.9,872.3 989.5,872.2 989.2,872.1 988.9,872 988.6,871.9 988.3,871.9 988,871.8 987.7,871.7 987.3,871.6 987,871.5 986.7,871.4 986.4,871.4 986.1,871.3 985.8,871.2 985.5,871.1 985.1,871 984.8,871 984.5,870.9 984.2,870.8 983.9,870.7 983.6,870.6 983.3,870.5 982.9,870.5 982.6,870.4 982.3,870.3 982,870.2 981.7,870.1 981.4,870.1 981,870 980.7,869.9 980.4,869.8 980.1,869.7 979.8,869.6 979.5,869.5 979.2,869.5 978.8,869.4 978.5,869.3 978.2,869.2 977.9,869.1 977.6,869 977.3,869 977,868.9 976.6,868.8 976.3,868.7 976,868.6 975.7,868.5 975.4,868.4 975.1,868.4 974.8,868.3 974.4,868.2 974.1,868.1 973.8,868 973.5,867.9 973.2,867.8 972.9,867.8 972.6,867.7 972.2,867.6 971.9,867.5 971.6,867.4 971.3,867.3 971,867.3 970.7,867.2 970.4,867.1 970,867 969.7,866.9 969.4,866.8 969.1,866.7 968.8,866.7 968.5,866.6 968.2,866.5 967.8,866.4 967.5,866.3 967.2,866.2 966.9,866.1 966.6,866.1 966.3,866 966,865.9 965.6,865.8 965.3,865.7 965,865.6 964.7,865.6 964.4,865.5 964.1,865.4 963.8,865.3 963.4,865.2 963.1,865.1 962.8,865 962.5,865 962.2,864.9 961.9,864.8 961.6,864.7 961.2,864.6 960.9,864.5 960.6,864.4 960.3,864.4 960,864.3 959.7,864.2 959.3,864.1 959,864 958.7,863.9 958.4,863.9 958.1,863.8 957.8,863.7 957.5,863.6 957.1,863.5 956.8,863.4 956.5,863.3 956.2,863.3 955.9,863.2 955.6,863.1 955.3,863 954.9,862.9 954.6,862.8 954.3,862.7 954,862.7 953.7,862.6 953.4,862.5 953.1,862.4 952.7,862.3 952.4,862.2 952.1,862.1 951.8,862 951.5,862 951.2,861.9 950.9,861.8 950.5,861.7 950.2,861.6 949.9,861.5 949.6,861.4 949.3,861.3 949,861.3 948.7,861.2 948.3,861.1 948,861 947.7,860.9 947.4,860.8 947.1,860.7 946.8,860.6 946.5,860.5 946.1,860.5 945.8,860.4 945.5,860.3 945.2,860.2 944.9,860.1 944.6,860 944.3,859.9 943.9,859.8 943.6,859.8 943.3,859.7 943,859.6 942.7,859.5 942.4,859.4 942.1,859.3 941.7,859.2 941.4,859.1 941.1,859.1 940.8,859 940.5,858.9 940.2,858.8 939.9,858.7 939.5,858.6 939.2,858.5 938.9,858.4 938.6,858.3 938.3,858.3 938,858.2 937.6,858.1 937.3,858 937,857.9 936.7,857.8 936.4,857.7 936.1,857.6 935.8,857.6 935.4,857.5 935.1,857.4 934.8,857.3 934.5,857.2 934.2,857.1 933.9,857 933.6,856.9 933.2,856.8 932.9,856.8 932.6,856.7 932.3,856.6 932,856.5 931.7,856.4 931.4,856.3 931,856.2 930.7,856.1 930.4,856.1 930.1,856 929.8,855.9 929.5,855.8 929.2,855.7 928.8,855.6 928.5,855.5 928.2,855.4 927.9,855.4 927.6,855.3 927.3,855.2 927,855.1 926.6,855 926.3,854.9 926,854.8 925.7,854.7 925.4,854.6 925.1,854.5 924.8,854.4 924.4,854.3 924.1,854.2 923.8,854.1 923.5,854 923.2,853.9 922.9,853.9 922.6,853.8 922.2,853.7 921.9,853.6 921.6,853.5 921.3,853.4 921,853.3 920.7,853.2 920.4,853.1 920,853 919.7,852.9 919.4,852.8 919.1,852.7 918.8,852.6 918.5,852.5 918.2,852.4 917.8,852.3 917.5,852.3 917.2,852.2 916.9,852.1 916.6,852 916.3,851.9 915.9,851.8 915.6,851.7 915.3,851.6 915,851.5 914.7,851.4 914.4,851.3 914.1,851.2 913.7,851.1 913.4,851 913.1,850.9 912.8,850.8 912.5,850.7 912.2,850.6 911.9,850.6 911.5,850.5 911.2,850.4 910.9,850.3 910.6,850.2 910.3,850.1 910,850 909.7,849.9 909.3,849.8 909,849.7 908.7,849.6 908.4,849.5 908.1,849.4 907.8,849.3 907.5,849.2 907.1,849.1 906.8,849 906.5,848.9 906.2,848.9 905.9,848.8 905.6,848.7 905.3,848.6 904.9,848.5 904.6,848.4 904.3,848.3 904,848.2 903.7,848.1 903.4,848 903.1,847.9 902.7,847.8 902.4,847.7 902.1,847.6 901.8,847.5 901.5,847.4 901.2,847.3 900.9,847.2 900.5,847.2 900.2,847.1 899.9,847 899.6,846.9 899.3,846.8 899,846.7 898.7,846.6 898.3,846.5 898,846.4 897.7,846.3 897.4,846.2 897.1,846.1 896.8,846 896.5,846 896.1,845.9 895.8,845.8 895.5,845.7 895.2,845.6 894.9,845.5 894.6,845.4 894.2,845.3 893.9,845.2 893.6,845.1 893.3,845 893,844.9 892.7,844.8 892.4,844.8 892,844.7 891.7,844.6 891.4,844.5 891.1,844.4 890.8,844.3 890.5,844.2 890.2,844.1 889.8,844 889.5,843.9 889.2,843.8 888.9,843.7 888.6,843.7 888.3,843.6 888,843.5 887.6,843.4 887.3,843.3 887,843.2 886.7,843.1 886.4,843 886.1,842.9 885.8,842.9 885.4,842.8 885.1,842.7 884.8,842.6 884.5,842.5 884.2,842.5 883.9,842.4 883.6,842.3 883.2,842.2 882.9,842.1 882.6,842.1 882.3,842 882,841.9 881.7,841.8 881.4,841.8 881,841.7 880.7,841.6 880.4,841.5 880.1,841.4 879.8,841.4 879.5,841.3 879.2,841.2 878.8,841.1 878.5,841 878.2,841 877.9,840.9 877.6,840.8 877.3,840.7 877,840.7 876.6,840.6 876.3,840.5 876,840.4 875.7,840.3 875.4,840.3 875.1,840.2 874.8,840.1 874.4,840 874.1,839.9 873.8,839.9 873.5,839.8 873.2,839.7 872.9,839.6 872.5,839.6 872.2,839.5 871.9,839.4 871.6,839.3 871.3,839.2 871,839.2 870.7,839.1 870.3,839 870,838.9 869.7,838.8 869.4,838.8 869.1,838.7 868.8,838.6 868.5,838.5 868.1,838.5 867.8,838.4 867.5,838.3 867.2,838.2 866.9,838.1 866.6,838.1 866.3,838 865.9,837.9 865.6,837.8 865.3,837.7 865,837.7 864.7,837.6 864.4,837.5 864.1,837.4 863.7,837.4 863.4,837.3 863.1,837.2 862.8,837.1 862.5,837 862.2,837 861.9,836.9 861.5,836.8 861.2,836.7 860.9,836.6 860.6,836.6 860.3,836.5 860,836.4 859.7,836.3 859.3,836.3 859,836.2 858.7,836.1 858.4,836.1 858.1,836 857.8,835.9 857.5,835.8 857.1,835.8 856.8,835.7 856.5,835.6 856.2,835.6 855.9,835.5 855.6,835.4 855.3,835.4 854.9,835.3 854.6,835.2 854.3,835.2 854,835.1 853.7,835 853.4,834.9 853.1,834.9 852.7,834.8 852.4,834.7 852.1,834.7 851.8,834.6 851.5,834.5 851.2,834.5 850.8,834.4 850.5,834.3 850.2,834.3 849.9,834.2 849.6,834.1 849.3,834 849,834 848.6,833.9 848.3,833.8 848,833.8 847.7,833.7 847.4,833.6 847.1,833.6 846.8,833.5 846.4,833.4 846.1,833.4 845.8,833.3 845.5,833.2 845.2,833.1 844.9,833.1 844.6,833 844.2,832.9 843.9,832.9 843.6,832.8 843.3,832.7 843,832.7 842.7,832.6 842.4,832.5 842,832.5 841.7,832.4 841.4,832.3 841.1,832.2 840.8,832.2 840.5,832.1 840.2,832 839.8,832 839.5,831.9 839.2,831.8 838.9,831.8 838.6,831.7 838.3,831.6 838,831.6 837.6,831.5 837.3,831.4 837,831.3 836.7,831.3 836.4,831.2 836.1,831.1 835.8,831.1 835.4,831 835.1,830.9 834.8,830.9 834.5,830.8 834.2,830.7 833.9,830.7 833.6,830.6 833.2,830.5 832.9,830.4 832.6,830.4 832.3,830.3 832,830.2 831.7,830.2 831.4,830.1 831,830 830.7,829.9 830.4,829.9 830.1,829.8 829.8,829.7 829.5,829.7 829.1,829.6 828.8,829.5 828.5,829.4 828.2,829.4 827.9,829.3 827.6,829.2 827.3,829.1 826.9,829.1 826.6,829 826.3,828.9 826,828.9 825.7,828.8 825.4,828.7 825.1,828.6 824.7,828.6 824.4,828.5 824.1,828.4 823.8,828.4 823.5,828.3 823.2,828.2 822.9,828.1 822.5,828.1 822.2,828 821.9,827.9 821.6,827.8 821.3,827.8 821,827.7 820.7,827.6 820.3,827.6 820,827.5 819.7,827.4 819.4,827.3 819.1,827.3 818.8,827.2 818.5,827.1 818.1,827 817.8,827 817.5,826.9 817.2,826.8 816.9,826.8 816.6,826.7 816.3,826.6 815.9,826.5 815.6,826.5 815.3,826.4 815,826.3 814.7,826.3 814.4,826.2 814.1,826.1 813.7,826 813.4,826 813.1,825.9 812.8,825.8 812.5,825.7 812.2,825.7 811.9,825.6 811.5,825.5 811.2,825.5 810.9,825.4 810.6,825.3 810.3,825.2 810,825.2 809.7,825.1 809.3,825 809,825 808.7,824.9 808.4,824.8 808.1,824.7 807.8,824.7 807.4,824.6 807.1,824.5 806.8,824.4 806.5,824.4 806.2,824.3 805.9,824.2 805.6,824.2 805.2,824.1 804.9,824 804.6,824 804.3,823.9 804,823.8 803.7,823.8 803.4,823.7 803,823.7 802.7,823.6 802.4,823.5 802.1,823.5 801.8,823.4 801.5,823.3 801.2,823.3 800.8,823.2 800.5,823.2 800.2,823.1 799.9,823 799.6,823 799.3,822.9 799,822.8 798.6,822.8 798.3,822.7 798,822.6 797.7,822.6 797.4,822.5 797.1,822.5 796.8,822.4 796.4,822.3 796.1,822.3 795.8,822.2 795.5,822.1 795.2,822.1 794.9,822 794.6,822 794.2,821.9 793.9,821.8 793.6,821.8 793.3,821.7 793,821.6 792.7,821.6 792.4,821.5 792,821.5 791.7,821.4 791.4,821.3 791.1,821.3 790.8,821.2 790.5,821.1 790.2,821.1 789.8,821 789.5,821 789.2,820.9 788.9,820.8 788.6,820.8 788.3,820.7 787.9,820.6 787.6,820.6 787.3,820.5 787,820.4 786.7,820.4 786.4,820.3 786.1,820.3 785.7,820.2 785.4,820.1 785.1,820.1 784.8,820 784.5,819.9 784.2,819.9 783.9,819.8 783.5,819.8 783.2,819.7 782.9,819.6 782.6,819.6 782.3,819.5 782,819.4 781.7,819.4 781.3,819.3 781,819.3 780.7,819.2 780.4,819.1 780.1,819.1 779.8,819 779.5,818.9 779.1,818.9 778.8,818.8 778.5,818.8 778.2,818.7 777.9,818.6 777.6,818.6 777.3,818.5 776.9,818.5 776.6,818.4 776.3,818.4 776,818.3 775.7,818.3 775.4,818.2 775.1,818.2 774.7,818.1 774.4,818.1 774.1,818 773.8,818 773.5,817.9 773.2,817.8 772.9,817.8 772.5,817.7 772.2,817.7 771.9,817.6 771.6,817.6 771.3,817.5 771,817.5 770.7,817.4 770.3,817.4 770,817.3 769.7,817.3 769.4,817.2 769.1,817.2 768.8,817.1 768.5,817 768.1,817 767.8,816.9 767.5,816.9 767.2,816.8 766.9,816.8 766.6,816.7 766.2,816.7 765.9,816.6 765.6,816.6 765.3,816.5 765,816.5 764.7,816.4 764.4,816.3 764,816.3 763.7,816.2 763.4,816.2 763.1,816.1 762.8,816.1 762.5,816 762.2,816 761.8,815.9 761.5,815.9 761.2,815.8 760.9,815.8 760.6,815.7 760.3,815.7 760,815.6 759.6,815.5 759.3,815.5 759,815.4 758.7,815.4 758.4,815.3 758.1,815.3 757.8,815.2 757.4,815.2 757.1,815.1 756.8,815.1 756.5,815 756.2,815 755.9,814.9 755.6,814.9 755.2,814.8 754.9,814.7 754.6,814.7 754.3,814.6 754,814.6 753.7,814.5 753.4,814.5 753,814.4 752.7,814.4 752.4,814.3 752.1,814.3 751.8,814.2 751.5,814.2 751.2,814.1 750.8,814.1 750.5,814 750.2,814 749.9,813.9 749.6,813.9 749.3,813.8 749,813.8 748.6,813.7 748.3,813.7 748,813.6 747.7,813.6 747.4,813.5 747.1,813.5 746.8,813.5 746.4,813.4 746.1,813.4 745.8,813.3 745.5,813.3 745.2,813.2 744.9,813.2 744.5,813.1 744.2,813.1 743.9,813 743.6,813 743.3,812.9 743,812.9 742.7,812.8 742.3,812.8 742,812.7 741.7,812.7 741.4,812.7 741.1,812.6 740.8,812.6 740.5,812.5 740.1,812.5 739.8,812.4 739.5,812.4 739.2,812.3 738.9,812.3 738.6,812.2 738.3,812.2 737.9,812.1 737.6,812.1 737.3,812 737,812 736.7,811.9 736.4,811.9 736.1,811.9 735.7,811.8 735.4,811.8 735.1,811.7 734.8,811.7 734.5,811.6 734.2,811.6 733.9,811.5 733.5,811.5 733.2,811.4 732.9,811.4 732.6,811.3 732.3,811.3 732,811.2 731.7,811.2 731.3,811.1 731,811.1 730.7,811 730.4,811 730.1,811 729.8,810.9 729.5,810.9 729.1,810.8 728.8,810.8 728.5,810.7 728.2,810.7 727.9,810.6 727.6,810.6 727.3,810.5 726.9,810.5 726.6,810.4 726.3,810.4 726,810.3 725.7,810.3 725.4,810.2 725.1,810.2 724.7,810.2 724.4,810.1 724.1,810.1 723.8,810 723.5,810 723.2,809.9 722.8,809.9 722.5,809.8 722.2,809.7 721.9,809.7 721.6,809.6 721.3,809.6 721,809.5 720.6,809.5 720.3,809.4 720,809.4 719.7,809.3 719.4,809.3 719.1,809.2 718.8,809.2 718.4,809.1 718.1,809.1 717.8,809 717.5,809 717.2,808.9 716.9,808.9 716.6,808.8 716.2,808.8 715.9,808.7 715.6,808.7 715.3,808.6 715,808.6 714.7,808.5 714.4,808.5 714,808.4 713.7,808.4 713.4,808.3 713.1,808.3 712.8,808.2 712.5,808.2 712.2,808.1 711.8,808.1 711.5,808 711.2,808 710.9,807.9 710.6,807.9 710.3,807.8 710,807.8 709.6,807.7 709.3,807.7 709,807.6 708.7,807.6 708.4,807.5 708.1,807.5 707.8,807.4 707.4,807.4 707.1,807.3 706.8,807.3 706.5,807.2 706.2,807.2 705.9,807.1 705.6,807.1 705.2,807 704.9,807 704.6,806.9 704.3,806.9 704,806.8 703.7,806.8 703.4,806.7 703,806.7 702.7,806.6 702.4,806.6 702.1,806.5 701.8,806.5 701.5,806.4 701.1,806.4 700.8,806.3 700.5,806.3 700.2,806.2 699.9,806.2 699.6,806.1 699.3,806.1 698.9,806 698.6,806 698.3,805.9 698,805.9 697.7,805.8 697.4,805.8 697.1,805.7 696.7,805.7 696.4,805.6 696.1,805.6 695.8,805.5 695.5,805.5 695.2,805.4 694.9,805.4 694.5,805.4 694.2,805.3 693.9,805.3 693.6,805.2 693.3,805.2 693,805.1 692.7,805.1 692.3,805 692,805 691.7,804.9 691.4,804.9 691.1,804.8 690.8,804.8 690.5,804.7 690.1,804.7 689.8,804.6 689.5,804.6 689.2,804.6 688.9,804.5 688.6,804.5 688.3,804.4 687.9,804.4 687.6,804.3 687.3,804.3 687,804.2 686.7,804.2 686.4,804.1 686.1,804.1 685.7,804 685.4,804 685.1,803.9 684.8,803.9 684.5,803.8 684.2,803.8 683.9,803.8 683.5,803.7 683.2,803.7 682.9,803.6 682.6,803.6 682.3,803.5 682,803.5 681.7,803.4 681.3,803.4 681,803.3 680.7,803.3 680.4,803.2 680.1,803.2 679.8,803.1 679.4,803.1 679.1,803 678.8,803 678.5,802.9 678.2,802.9 677.9,802.9 677.6,802.8 677.2,802.8 676.9,802.7 676.6,802.7 676.3,802.6 676,802.6 675.7,802.5 675.4,802.5 675,802.4 674.7,802.4 674.4,802.3 674.1,802.3 673.8,802.2 673.5,802.2 673.2,802.1 672.8,802.1 672.5,802.1 672.2,802 671.9,802 671.6,801.9 671.3,801.9 671,801.8 670.6,801.8 670.3,801.7 670,801.7 669.7,801.6 669.4,801.6 669.1,801.5 668.8,801.4 668.4,801.4 668.1,801.3 667.8,801.3 667.5,801.2 667.2,801.2 666.9,801.1 666.6,801.1 666.2,801 665.9,801 665.6,800.9 665.3,800.9 665,800.8 664.7,800.7 664.4,800.7 664,800.6 663.7,800.6 663.4,800.5 663.1,800.5 662.8,800.4 662.5,800.4 662.2,800.3 661.8,800.3 661.5,800.2 661.2,800.2 660.9,800.1 660.6,800.1 660.3,800 660,799.9 659.6,799.9 659.3,799.8 659,799.8 658.7,799.7 658.4,799.7 658.1,799.6 657.7,799.6 657.4,799.5 657.1,799.5 656.8,799.4 656.5,799.4 656.2,799.3 655.9,799.3 655.5,799.2 655.2,799.1 654.9,799.1 654.6,799 654.3,799 654,798.9 653.7,798.9 653.3,798.8 653,798.8 652.7,798.7 652.4,798.7 652.1,798.6 651.8,798.6 651.5,798.5 651.1,798.5 650.8,798.4 650.5,798.3 650.2,798.3 649.9,798.2 649.6,798.2 649.3,798.1 648.9,798.1 648.6,798 648.3,798 648,797.9 647.7,797.9 647.4,797.8 647.1,797.8 646.7,797.7 646.4,797.6 646.1,797.6 645.8,797.5 645.5,797.5 645.2,797.4 644.9,797.4 644.5,797.3 644.2,797.3 643.9,797.2 643.6,797.2 643.3,797.1 643,797 642.7,797 642.3,796.9 642,796.8 641.7,796.8 641.4,796.7 641.1,796.7 640.8,796.6 640.5,796.5 640.1,796.5 639.8,796.4 639.5,796.3 639.2,796.3 638.9,796.2 638.6,796.2 638.3,796.1 637.9,796 637.6,796 637.3,795.9 637,795.8 636.7,795.8 636.4,795.7 636,795.6 635.7,795.6 635.4,795.5 635.1,795.5 634.8,795.4 634.5,795.3 634.2,795.3 633.8,795.2 633.5,795.1 633.2,795.1 632.9,795 632.6,795 632.3,794.9 632,794.8 631.6,794.8 631.3,794.7 631,794.6 630.7,794.6 630.4,794.5 630.1,794.5 629.8,794.5 629.4,794.5 629.1,794.4 628.8,794.4 628.5,794.4 628.2,794.4 627.9,794.4 627.6,794.4 627.2,794.3 626.9,794.3 626.6,794.3 626.3,794.3 626,794.3 625.7,794.2 625.4,794.2 625,794.2 624.7,794.2 624.4,794.2 624.1,794.2 623.8,794.1 623.5,794.1 623.2,794.1 622.8,794.1 622.5,794.1 622.2,794 621.9,794 621.6,794 621.3,794 621,794 620.6,794 620.3,793.9 620,793.9 619.7,793.9 619.4,793.9 619.1,793.9 618.8,793.8 618.4,793.8 618.1,793.8 617.8,793.8 617.5,793.8 617.2,793.8 616.9,793.7 616.6,793.7 616.2,793.7 615.9,793.7 615.6,793.7 615.3,793.6 615,793.6 614.7,793.6 614.3,793.6 614,793.6 613.7,793.6 613.4,793.5 613.1,793.5 612.8,793.5 612.5,793.5 612.1,793.5 611.8,793.4 611.5,793.4 611.2,793.4 610.9,793.4 610.6,793.4 610.3,793.3 609.9,793.3 609.6,793.3 609.3,793.3 609,793.3 608.7,793.3 608.4,793.2 608.1,793.2 607.7,793.2 607.4,793.2 607.1,793.2 606.8,793.1 606.5,793.1 606.2,793.1 605.9,793.1 605.5,793.1 605.2,793.1 604.9,793 604.6,793 604.3,793 604,793 603.7,793 603.3,792.9 603,792.9 602.7,792.9 602.4,792.9 602.1,792.9 601.8,792.9 601.5,792.8 601.1,792.8 600.8,792.8 600.5,792.8 600.2,792.8 599.9,792.7 599.6,792.7 599.3,792.7 598.9,792.7 598.6,792.7 598.3,793 598,793"/>
<polyline clip-path="url(#c2)" fill="none" stroke="#ff0000" stroke-width="2.78" stroke-linejoin="round" stroke-linecap="butt" stroke-dasharray="10.28 4.44" points="66.5,792.6 67.8,792.6 69,792.6 70.3,792.6 71.5,792.6 72.8,792.6 74,792.6 75.3,792.6 76.6,792.6 77.8,792.6 79.1,792.6 80.3,792.6 81.6,792.6 82.9,792.6 84.1,792.6 85.4,792.6 86.6,792.6 87.9,792.6 89.1,792.6 90.4,792.6 91.7,792.6 92.9,792.6 94.2,792.6 95.4,792.6 96.7,792.6 97.9,792.6 99.2,792.6 100.5,792.6 101.7,792.6 103,792.6 104.2,792.6 105.5,792.6 106.8,792.6 108,792.6 109.3,792.6 110.5,792.6 111.8,792.6 113,792.6 114.3,792.6 115.6,792.6 116.8,792.6 118.1,792.6 119.3,792.6 120.6,792.6 121.9,792.6 123.1,792.6 124.4,792.6 125.6,792.6 126.9,792.6 128.1,792.6 129.4,792.6 130.7,792.6 131.9,792.6 133.2,792.6 134.4,792.6 135.7,792.6 136.9,792.6 138.2,792.6 139.5,792.6 140.7,792.6 142,792.6 143.2,792.6 144.5,792.6 145.8,792.6 147,792.6 148.3,792.6 149.5,792.6 150.8,792.6 152,792.6 153.3,792.6 154.6,792.6 155.8,792.6 157.1,792.6 158.3,792.6 159.6,792.6 160.8,792.6 162.1,792.6 163.4,792.6 164.6,792.6 165.9,792.6 167.1,792.6 168.4,792.6 169.7,792.6 170.9,792.6 172.2,792.6 173.4,792.6 174.7,792.6 175.9,792.6 177.2,792.6 178.5,792.6 179.7,792.6 181,792.6 182.2,792.6 183.5,792.6 184.7,792.6 186,792.6 187.3,792.6 188.5,792.6 189.8,792.6 191,792.6 192.3,792.6 193.6,792.6 194.8,792.6 196.1,792.6 197.3,792.6 198.6,792.6 199.8,792.6 201.1,792.6 202.4,792.6 203.6,792.6 204.9,792.6 206.1,792.6 207.4,792.6 208.7,792.6 209.9,792.6 211.2,792.6 212.4,792.6 213.7,792.6 214.9,792.6 216.2,792.6 217.5,792.6 218.7,792.6 220,792.6 221.2,792.6 222.5,792.6 223.7,792.6 225,792.6 226.3,792.6 227.5,792.6 228.8,792.6 230,792.6 231.3,792.6 232.6,792.6 233.8,792.6 235.1,792.6 236.3,792.6 237.6,792.6 238.8,792.6 240.1,792.6 241.4,792.6 242.6,792.6 243.9,792.6 245.1,792.6 246.4,792.6 247.6,792.6 248.9,792.6 250.2,792.6 251.4,792.6 252.7,792.6 253.9,792.6 255.2,792.6 256.5,792.6 257.7,792.6 259,792.6 260.2,792.6 261.5,792.6 262.7,792.6 264,792.6 265.3,792.6 266.5,792.6 267.8,792.6 269,792.6 270.3,792.6 271.6,792.6 272.8,792.6 274.1,792.6 275.3,792.6 276.6,792.6 277.8,792.6 279.1,792.6 280.4,792.6 281.6,792.6 282.9,792.6 284.1,792.6 285.4,792.6 286.6,792.6 287.9,792.6 289.2,792.6 290.4,792.6 291.7,792.6 292.9,792.6 294.2,792.6 295.5,792.6 296.7,792.6 298,792.6 299.2,792.6 300.5,792.6 301.7,792.6 303,792.6 304.3,792.6 305.5,792.6 306.8,792.6 308,792.6 309.3,792.6 310.5,792.6 311.8,792.6 313.1,792.6 314.3,792.6 315.6,792.6 316.8,792.6 318.1,792.6 319.4,792.6 320.6,792.6 321.9,792.6 323.1,792.6 324.4,792.6 325.6,792.6 326.9,792.6 328.2,792.6 329.4,792.6 330.7,792.6 331.9,792.6 333.2,792.6 334.4,792.6 335.7,792.6 337,792.6 338.2,792.6 339.5,792.6 340.7,792.6 342,792.6 343.3,792.6 344.5,792.6 345.8,792.6 347,792.6 348.3,792.6 349.5,792.6 350.8,792.6 352.1,792.6 353.3,792.6 354.6,792.6 355.8,792.6 357.1,792.6 358.4,792.6 359.6,792.6 360.9,792.6 362.1,792.6 363.4,792.6 364.6,792.6 365.9,792.6 367.2,792.6 368.4,792.6 369.7,792.6 370.9,792.6 372.2,792.6 373.4,792.6 374.7,792.6 376,792.6 377.2,792.6 378.5,792.6 379.7,792.6 381,792.6 382.3,792.6 383.5,792.6 384.8,792.6 386,792.6 387.3,792.6 388.5,792.6 389.8,792.6 391.1,792.6 392.3,792.6 393.6,792.6 394.8,792.6 396.1,792.6 397.3,792.6 398.6,792.6 399.9,792.6 401.1,792.6 402.4,792.6 403.6,792.6 404.9,792.6 406.2,792.6 407.4,792.6 408.7,792.6 409.9,792.6 411.2,792.6 412.4,792.6 413.7,792.6 415,792.6 416.2,792.6 417.5,792.6 418.7,792.6 420,792.6 421.2,792.6 422.5,792.6 423.8,792.6 425,792.6 426.3,792.6 427.5,792.6 428.8,792.6 430.1,792.6 431.3,792.6 432.6,792.6 433.8,792.6 435.1,792.6 436.3,792.6 437.6,792.6 438.9,792.6 440.1,792.6 441.4,792.6 442.6,792.6 443.9,792.6 445.2,792.6 446.4,792.6 447.7,792.6 448.9,792.6 450.2,792.6 451.4,792.6 452.7,792.6 454,792.6 455.2,792.6 456.5,792.6 457.7,792.6 459,792.6 460.2,792.6 461.5,792.6 462.8,792.6 464,792.6 465.3,792.6 466.5,792.6 467.8,792.6 469.1,792.6 470.3,792.6 471.6,792.6 472.8,792.6 474.1,792.6 475.3,792.6 476.6,792.6 477.9,792.6 479.1,792.6 480.4,792.6 481.6,792.6 482.9,792.6 484.1,792.6 485.4,792.6 486.7,792.6 487.9,792.6 489.2,792.6 490.4,792.6 491.7,792.6 493,792.6 494.2,792.6 495.5,792.6 496.7,792.6 498,792.6 499.2,792.6 500.5,792.6 501.8,792.6 503,792.6 504.3,792.6 505.5,792.6 506.8,792.6 508.1,792.6 509.3,792.6 510.6,792.6 511.8,792.6 513.1,792.6 514.3,792.6 515.6,792.6 516.9,792.6 518.1,792.6 519.4,792.6 520.6,792.6 521.9,792.6 523.1,792.6 524.4,792.6 525.7,792.6 526.9,792.6 528.2,792.6 529.4,792.6 530.7,792.6 532,792.6 533.2,792.6 534.5,792.6 535.7,792.6 537,792.6 538.2,792.6 539.5,792.6 540.8,792.6 542,792.6 543.3,792.6 544.5,792.6 545.8,792.6 547,792.6 548.3,792.6 549.6,792.6 550.8,792.6 552.1,792.6 553.3,792.6 554.6,792.6 555.9,792.6 557.1,792.6 558.4,792.6 559.6,792.6 560.9,792.6 562.1,792.6 563.4,792.6 564.7,792.6 565.9,792.6 567.2,792.6 568.4,792.6 569.7,792.6 570.9,792.6 572.2,792.6 573.5,792.6 574.7,792.6 576,792.6 577.2,792.6 578.5,792.6 579.8,792.6 581,792.6 582.3,792.6 583.5,792.6 584.8,792.6 586,792.6 587.3,792.6 588.6,792.6 589.8,792.6 591.1,792.6 592.3,792.6 593.6,792.6 594.9,792.6 596.1,792.6 597.4,792.6 598.6,792.7 599.9,792.7 601.1,792.7 602.4,792.8 603.7,792.8 604.9,792.8 606.2,792.9 607.4,792.9 608.7,792.9 609.9,793 611.2,793 612.5,793 613.7,793.1 615,793.1 616.2,793.2 617.5,793.2 618.8,793.3 620,793.3 621.3,793.4 622.5,793.5 623.8,793.5 625,793.6 626.3,793.6 627.6,793.7 628.8,793.8 630.1,793.8 631.3,793.9 632.6,794 633.8,794 635.1,794.1 636.4,794.1 637.6,794.2 638.9,794.3 640.1,794.3 641.4,794.4 642.7,794.5 643.9,794.5 645.2,794.6 646.4,794.7 647.7,794.7 648.9,794.8 650.2,794.8 651.5,794.9 652.7,795 654,795 655.2,795.1 656.5,795.2 657.7,795.2 659,795.3 660.3,795.3 661.5,795.4 662.8,795.5 664,795.5 665.3,795.6 666.6,795.7 667.8,795.7 669.1,795.8 670.3,795.8 671.6,795.9 672.8,796 674.1,796 675.4,796.1 676.6,796.2 677.9,796.2 679.1,796.3 680.4,796.3 681.7,796.4 682.9,796.5 684.2,796.5 685.4,796.6 686.7,796.7 687.9,796.7 689.2,796.8 690.5,796.9 691.7,796.9 693,797 694.2,797 695.5,797.1 696.7,797.2 698,797.2 699.3,797.3 700.5,797.4 701.8,797.4 703,797.5 704.3,797.5 705.6,797.6 706.8,797.7 708.1,797.7 709.3,797.8 710.6,797.9 711.8,797.9 713.1,798 714.4,798 715.6,798.1 716.9,798.2 718.1,798.2 719.4,798.3 720.6,798.4 721.9,798.4 723.2,798.5 724.4,798.6 725.7,798.6 726.9,798.6 728.2,798.7 729.5,798.7 730.7,798.7 732,798.8 733.2,798.8 734.5,798.9 735.7,798.9 737,798.9 738.3,799 739.5,799 740.8,799 742,799.1 743.3,799.1 744.5,799.2 745.8,799.2 747.1,799.2 748.3,799.3 749.6,799.3 750.8,799.4 752.1,799.4 753.4,799.4 754.6,799.5 755.9,799.5 757.1,799.6 758.4,799.6 759.6,799.7 760.9,799.7 762.2,799.8 763.4,799.8 764.7,799.9 765.9,799.9 767.2,800 768.5,800 769.7,800.1 771,800.1 772.2,800.2 773.5,800.2 774.7,800.3 776,800.3 777.3,800.4 778.5,800.4 779.8,800.5 781,800.6 782.3,800.6 783.5,800.7 784.8,800.8 786.1,800.8 787.3,800.9 788.6,800.9 789.8,801 791.1,801.1 792.4,801.1 793.6,801.2 794.9,801.3 796.1,801.3 797.4,801.4 798.6,801.5 799.9,801.5 801.2,801.6 802.4,801.6 803.7,801.7 804.9,801.8 806.2,801.8 807.4,801.9 808.7,801.9 810,802 811.2,802 812.5,802.1 813.7,802.1 815,802.2 816.3,802.2 817.5,802.3 818.8,802.3 820,802.4 821.3,802.4 822.5,802.5 823.8,802.5 825.1,802.6 826.3,802.6 827.6,802.7 828.8,802.7 830.1,802.8 831.4,802.8 832.6,802.9 833.9,802.9 835.1,803 836.4,803 837.6,803.1 838.9,803.1 840.2,803.2 841.4,803.2 842.7,803.3 843.9,803.3 845.2,803.4 846.4,803.4 847.7,803.5 849,803.5 850.2,803.6 851.5,803.6 852.7,803.7 854,803.7 855.3,803.8 856.5,803.8 857.8,803.9 859,803.9 860.3,804 861.5,804.1 862.8,804.1 864.1,804.2 865.3,804.2 866.6,804.3 867.8,804.4 869.1,804.4 870.3,804.5 871.6,804.6 872.9,804.6 874.1,804.7 875.4,804.8 876.6,804.8 877.9,804.9 879.2,804.9 880.4,805 881.7,805.1 882.9,805.1 884.2,805.2 885.4,805.3 886.7,805.3 888,805.3 889.2,805.2 890.5,805.2 891.7,805.2 893,805.1 894.2,805.1 895.5,805.1 896.8,805 898,805 899.3,805 900.5,805 901.8,805.1 903.1,805.2 904.3,805.3 905.6,805.4 906.8,805.6 908.1,805.7 909.3,805.8 910.6,805.9 911.9,806 913.1,806.1 914.4,806.2 915.6,806.4 916.9,806.5 918.2,806.6 919.4,806.7 920.7,806.8 921.9,806.9 923.2,807 924.4,807.1 925.7,807.3 927,807.4 928.2,807.5 929.5,807.5 930.7,807.6 932,807.7 933.2,807.8 934.5,807.8 935.8,807.9 937,808 938.3,808.1 939.5,808.1 940.8,808.2 942.1,808.3 943.3,808.4 944.6,808.4 945.8,808.5 947.1,808.6 948.3,808.7 949.6,808.7 950.9,808.8 952.1,808.9 953.4,809 954.6,809 955.9,809.1 957.1,809.1 958.4,809.1 959.7,809.1 960.9,809.2 962.2,809.2 963.4,809.2 964.7,809.2 966,809.3 967.2,809.3 968.5,809.3 969.7,809.3 971,809.4 972.2,809.4 973.5,809.4 974.8,809.4 976,809.5 977.3,809.5 978.5,809.5 979.8,809.5 981,809.6 982.3,809.6 983.6,809.6 984.8,809.6 986.1,809.7 987.3,809.7 988.6,809.7 989.9,809.7 991.1,809.8 992.4,809.8 993.6,809.8 994.9,809.8 996.1,809.9 997.4,809.9 998.7,809.9 999.9,809.9 1001.2,810 1002.4,810 1003.7,810 1005,810.1 1006.2,810.1 1007.5,810.1 1008.7,810.1 1010,810.2 1011.2,810.2 1012.5,810.2 1013.8,810.2 1015,810.3 1016.3,810.3 1017.5,810.3 1018.8,810.3 1020,810.4 1021.3,810.4 1022.6,810.4 1023.8,810.4 1025.1,810.5 1026.3,810.5 1027.6,810.5 1028.9,810.5 1030.1,810.6 1031.4,810.6 1032.6,810.6 1033.9,810.6 1035.1,810.7 1036.4,810.7 1037.7,810.7 1038.9,810.7 1040.2,810.8 1041.4,810.8 1042.7,810.8 1043.9,810.8 1045.2,810.9 1046.5,810.9 1047.7,810.9 1049,810.9 1050.2,811 1051.5,811 1052.8,811 1054,811 1055.3,811.1 1056.5,811.1 1057.8,811.1 1059,811.1 1060.3,811.2 1061.6,811.2 1062.8,811.2 1064.1,811.2 1065.3,811.3 1066.6,811.3 1067.8,811.4 1069.1,811.4 1070.4,811.5 1071.6,811.5 1072.9,811.6 1074.1,811.6 1075.4,811.7 1076.7,811.7 1077.9,811.8 1079.2,811.8 1080.4,811.9 1081.7,811.9 1082.9,812 1084.2,812 1085.5,812.1 1086.7,812.1 1088,812.2 1089.2,812.2 1090.5,812.3 1091.8,812.4 1093,812.5 1094.3,812.5 1095.5,812.6 1096.8,812.7 1098,812.8 1099.3,812.9 1100.6,813 1101.8,813.1 1103.1,813.2 1104.3,813.2 1105.6,813.3 1106.8,813.4 1108.1,813.5 1109.4,813.6 1110.6,813.7 1111.9,813.8 1113.1,813.9 1114.4,813.9 1115.7,814 1116.9,814.1 1118.2,814.2 1119.4,814.3 1120.7,814.4 1121.9,814.4 1123.2,814.5 1124.5,814.6 1125.7,814.7 1127,814.7 1128.2,814.8 1129.5,814.9 1130.7,815 1132,815 1133.3,815.1 1134.5,815.2 1135.8,815.3 1137,815.3 1138.3,815.4 1139.6,815.5 1140.8,815.6 1142.1,815.7 1143.3,815.7 1144.6,815.8 1145.8,815.9 1147.1,815.9 1148.4,816 1149.6,816 1150.9,816.1 1152.1,816.1 1153.4,816.2 1154.7,816.2 1155.9,816.3 1157.2,816.3 1158.4,816.4 1159.7,816.4 1160.9,816.5 1162.2,816.5 1163.5,816.6 1164.7,816.6 1166,816.7 1167.2,816.7 1168.5,816.8 1169.7,816.8 1171,816.9 1172.3,816.9 1173.5,817 1174.8,817 1176,817.1 1177.3,817.2 1178.6,817.2 1179.8,817.3 1181.1,817.4 1182.3,817.4 1183.6,817.5 1184.8,817.6 1186.1,817.6 1187.4,817.7 1188.6,817.7 1189.9,817.8 1191.1,817.9 1192.4,817.9 1193.6,818 1194.9,818.1 1196.2,818.1 1197.4,818.2 1198.7,818.2 1199.9,818.3 1201.2,818.4 1202.5,818.4 1203.7,818.5 1205,818.5 1206.2,818.6 1207.5,818.6 1208.7,818.7 1210,818.8 1211.3,818.8 1212.5,818.9 1213.8,818.9 1215,819 1216.3,819 1217.5,819.1 1218.8,819.1 1220.1,819.2 1221.3,819.3 1222.6,819.3 1223.8,819.4 1225.1,819.4 1226.4,819.5 1227.6,819.5 1228.9,819.6"/>
<path clip-path="url(#c2)" d="M66.5 792.6H1229.5" stroke="#008000" stroke-width="2.78" fill="none"/>
<path clip-path="url(#c2)" d="M598.0 955.95V684.5" stroke="#000" stroke-width="2.08" stroke-dasharray="7.71 3.33" fill="none"/>
<path d="M61.64 291.5H66.5M61.64 259.5H66.5M61.64 227.5H66.5M61.64 196.5H66.5M61.64 164.5H66.5M61.64 132.5H66.5M61.64 100.5H66.5M61.64 69.5H66.5M61.64 37.5H66.5M223.5 303.5V308.36M380.5 303.5V308.36M538.5 303.5V308.36M695.5 303.5V308.36M852.5 303.5V308.36M1009.5 303.5V308.36M1166.5 303.5V308.36" stroke="#000" stroke-width="1.11" fill="none"/>
<rect x="66.5" y="32.5" width="1163.0" height="271.0" fill="none" stroke="#000" stroke-width="1.11" stroke-linejoin="miter"/>
<text x="56.7" y="296.7" text-anchor="end" style="font-family:'DejaVu Sans',sans-serif;font-size:13.89px" fill="#000">0.00</text>
<text x="56.7" y="264.9" text-anchor="end" style="font-family:'DejaVu Sans',sans-serif;font-size:13.89px" fill="#000">0.25</text>
<text x="56.7" y="233.2" text-anchor="end" style="font-family:'DejaVu Sans',sans-serif;font-size:13.89px" fill="#000">0.50</text>
<text x="56.7" y="201.4" text-anchor="end" style="font-family:'DejaVu Sans',sans-serif;font-size:13.89px" fill="#000">0.75</text>
<text x="56.7" y="169.7" text-anchor="end" style="font-family:'DejaVu Sans',sans-serif;font-size:13.89px" fill="#000">1.00</text>
<text x="56.7" y="137.9" text-anchor="end" style="font-family:'DejaVu Sans',sans-serif;font-size:13.89px" fill="#000">1.25</text>
<text x="56.7" y="106.1" text-anchor="end" style="font-family:'DejaVu Sans',sans-serif;font-size:13.89px" fill="#000">1.50</text>
<text x="56.7" y="74.4" text-anchor="end" style="font-family:'DejaVu Sans',sans-serif;font-size:13.89px" fill="#000">1.75</text>
<text x="56.7" y="42.6" text-anchor="end" style="font-family:'DejaVu Sans',sans-serif;font-size:13.89px" fill="#000">2.00</text>
<path d="M61.64 593.5H66.5M61.64 540.5H66.5M61.64 488.5H66.5M61.64 435.5H66.5M61.64 383.5H66.5M223.5 630.5V635.36M380.5 630.5V635.36M538.5 630.5V635.36M695.5 630.5V635.36M852.5 630.5V635.36M1009.5 630.5V635.36M1166.5 630.5V635.36" stroke="#000" stroke-width="1.11" fill="none"/>
<rect x="66.5" y="358.5" width="1163.0" height="272.0" fill="none" stroke="#000" stroke-width="1.11" stroke-linejoin="miter"/>
<text x="56.7" y="598.7" text-anchor="end" style="font-family:'DejaVu Sans',sans-serif;font-size:13.89px" fill="#000">−0.5</text>
<text x="56.7" y="546.2" text-anchor="end" style="font-family:'DejaVu Sans',sans-serif;font-size:13.89px" fill="#000">0.0</text>
<text x="56.7" y="493.7" text-anchor="end" style="font-family:'DejaVu Sans',sans-serif;font-size:13.89px" fill="#000">0.5</text>
<text x="56.7" y="441.2" text-anchor="end" style="font-family:'DejaVu Sans',sans-serif;font-size:13.89px" fill="#000">1.0</text>
<text x="56.7" y="388.7" text-anchor="end" style="font-family:'DejaVu Sans',sans-serif;font-size:13.89px" fill="#000">1.5</text>
<path d="M61.64 950.5H66.5M61.64 919.5H66.5M61.64 887.5H66.5M61.64 856.5H66.5M61.64 824.5H66.5M61.64 793.5H66.5M61.64 761.5H66.5M61.64 730.5H66.5M61.64 698.5H66.5M223.5 956.5V961.36M380.5 956.5V961.36M538.5 956.5V961.36M695.5 956.5V961.36M852.5 956.5V961.36M1009.5 956.5V961.36M1166.5 956.5V961.36" stroke="#000" stroke-width="1.11" fill="none"/>
<rect x="66.5" y="684.5" width="1163.0" height="272.0" fill="none" stroke="#000" stroke-width="1.11" stroke-linejoin="miter"/>
<text x="56.7" y="956" text-anchor="end" style="font-family:'DejaVu Sans',sans-serif;font-size:13.89px" fill="#000">−1000</text>
<text x="56.7" y="924.5" text-anchor="end" style="font-family:'DejaVu Sans',sans-serif;font-size:13.89px" fill="#000">−800</text>
<text x="56.7" y="893" text-anchor="end" style="font-family:'DejaVu Sans',sans-serif;font-size:13.89px" fill="#000">−600</text>
<text x="56.7" y="861.5" text-anchor="end" style="font-family:'DejaVu Sans',sans-serif;font-size:13.89px" fill="#000">−400</text>
<text x="56.7" y="830" text-anchor="end" style="font-family:'DejaVu Sans',sans-serif;font-size:13.89px" fill="#000">−200</text>
<text x="56.7" y="798.5" text-anchor="end" style="font-family:'DejaVu Sans',sans-serif;font-size:13.89px" fill="#000">0</text>
<text x="56.7" y="767" text-anchor="end" style="font-family:'DejaVu Sans',sans-serif;font-size:13.89px" fill="#000">200</text>
<text x="56.7" y="735.5" text-anchor="end" style="font-family:'DejaVu Sans',sans-serif;font-size:13.89px" fill="#000">400</text>
<text x="56.7" y="704" text-anchor="end" style="font-family:'DejaVu Sans',sans-serif;font-size:13.89px" fill="#000">600</text>
<text x="223.8" y="977.0" text-anchor="middle" style="font-family:'DejaVu Sans',sans-serif;font-size:13.89px" fill="#000">500</text>
<text x="380.9" y="977.0" text-anchor="middle" style="font-family:'DejaVu Sans',sans-serif;font-size:13.89px" fill="#000">1000</text>
<text x="538.1" y="977.0" text-anchor="middle" style="font-family:'DejaVu Sans',sans-serif;font-size:13.89px" fill="#000">1500</text>
<text x="695.2" y="977.0" text-anchor="middle" style="font-family:'DejaVu Sans',sans-serif;font-size:13.89px" fill="#000">2000</text>
<text x="852.4" y="977.0" text-anchor="middle" style="font-family:'DejaVu Sans',sans-serif;font-size:13.89px" fill="#000">2500</text>
<text x="1009.5" y="977.0" text-anchor="middle" style="font-family:'DejaVu Sans',sans-serif;font-size:13.89px" fill="#000">3000</text>
<text x="1166.7" y="977.0" text-anchor="middle" style="font-family:'DejaVu Sans',sans-serif;font-size:13.89px" fill="#000">3500</text>
<text x="647.5" y="996.8" text-anchor="middle" style="font-family:'DejaVu Sans',sans-serif;font-size:13.89px;font-style:italic" fill="#000">T</text>
<text transform="translate(648 23.6) scale(0.995 1.1)" text-anchor="middle" style="font-family:'DejaVu Sans',sans-serif;font-size:16.67px" fill="#000">Observation vs prediction</text>
<text transform="translate(648 349.6) scale(0.995 1.1)" text-anchor="middle" style="font-family:'DejaVu Sans',sans-serif;font-size:16.67px" fill="#000">Difference</text>
<text transform="translate(648 675.6) scale(0.995 1.1)" text-anchor="middle" style="font-family:'DejaVu Sans',sans-serif;font-size:16.67px" fill="#000">Cumulative Impact</text>
<rect x="73.9" y="39.9" width="93.4" height="45.4" rx="2.78" ry="2.78" fill="#ffffff" fill-opacity="0.8" stroke="#cccccc" stroke-width="1.11"/>
<path d="M79.3 50.6H107" stroke="#ff0000" stroke-width="2.78" stroke-dasharray="10.28 4.44" fill="none"/>
<path d="M79.3 71.1H107.7" stroke="#000" stroke-width="2.78" stroke-linecap="square" fill="none"/>
<text x="118.2" y="55.9" style="font-family:'DejaVu Sans',sans-serif;font-size:13.89px" fill="#000">model</text>
<text x="118.9" y="77.3" style="font-family:'DejaVu Sans',sans-serif;font-size:13.89px" fill="#000">endog</text>
</svg>
</body></html>
